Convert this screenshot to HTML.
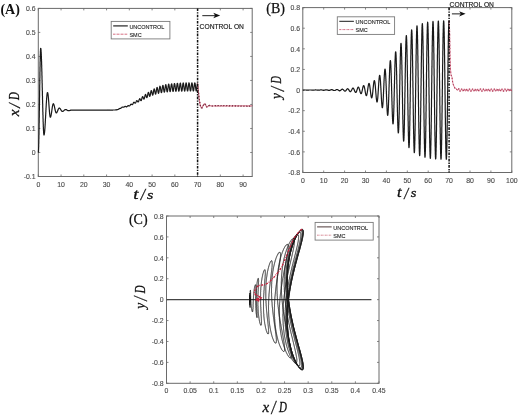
<!DOCTYPE html>
<html><head><meta charset="utf-8"><title>Figure</title><style>
html,body{margin:0;padding:0;background:#fff;}
body{width:520px;height:415px;overflow:hidden;}
svg{display:block;}
.tk{font-family:"Liberation Sans",Arial,sans-serif;font-size:6.9px;fill:#4a4a4a;stroke:#4a4a4a;stroke-width:0.12px;}
.lg{font-family:"Liberation Sans",Arial,sans-serif;font-size:5.5px;fill:#1a1a1a;stroke:#1a1a1a;stroke-width:0.1px;}
.co{font-family:"Liberation Sans",Arial,sans-serif;font-size:6.7px;fill:#1a1a1a;stroke:#1a1a1a;stroke-width:0.15px;}
.pl{font-family:"Liberation Serif","Times New Roman",serif;font-size:14px;fill:#111;stroke:#111;stroke-width:0.25px;}
.al{font-family:"Liberation Serif","Times New Roman",serif;font-style:italic;fill:#111;stroke:#111;stroke-width:0.3px;}
</style></head><body>
<svg width="520" height="415" viewBox="0 0 520 415">
<rect width="520" height="415" fill="#fff"/>
<rect x="38.30" y="8.40" width="213.90" height="168.10" fill="none" stroke="#6a6a6a" stroke-width="1"/>
<path d="M38.30 176.50v-2.0M38.30 8.40v2.0" stroke="#6a6a6a" stroke-width="0.8"/>
<text x="38.30" y="186.50" class="tk" text-anchor="middle">0</text>
<path d="M61.06 176.50v-2.0M61.06 8.40v2.0" stroke="#6a6a6a" stroke-width="0.8"/>
<text x="61.06" y="186.50" class="tk" text-anchor="middle">10</text>
<path d="M83.81 176.50v-2.0M83.81 8.40v2.0" stroke="#6a6a6a" stroke-width="0.8"/>
<text x="83.81" y="186.50" class="tk" text-anchor="middle">20</text>
<path d="M106.57 176.50v-2.0M106.57 8.40v2.0" stroke="#6a6a6a" stroke-width="0.8"/>
<text x="106.57" y="186.50" class="tk" text-anchor="middle">30</text>
<path d="M129.32 176.50v-2.0M129.32 8.40v2.0" stroke="#6a6a6a" stroke-width="0.8"/>
<text x="129.32" y="186.50" class="tk" text-anchor="middle">40</text>
<path d="M152.08 176.50v-2.0M152.08 8.40v2.0" stroke="#6a6a6a" stroke-width="0.8"/>
<text x="152.08" y="186.50" class="tk" text-anchor="middle">50</text>
<path d="M174.83 176.50v-2.0M174.83 8.40v2.0" stroke="#6a6a6a" stroke-width="0.8"/>
<text x="174.83" y="186.50" class="tk" text-anchor="middle">60</text>
<path d="M197.59 176.50v-2.0M197.59 8.40v2.0" stroke="#6a6a6a" stroke-width="0.8"/>
<text x="197.59" y="186.50" class="tk" text-anchor="middle">70</text>
<path d="M220.34 176.50v-2.0M220.34 8.40v2.0" stroke="#6a6a6a" stroke-width="0.8"/>
<text x="220.34" y="186.50" class="tk" text-anchor="middle">80</text>
<path d="M243.10 176.50v-2.0M243.10 8.40v2.0" stroke="#6a6a6a" stroke-width="0.8"/>
<text x="243.10" y="186.50" class="tk" text-anchor="middle">90</text>
<path d="M38.30 176.50h2.0M252.20 176.50h-2.0" stroke="#6a6a6a" stroke-width="0.8"/>
<text x="35.50" y="179.20" class="tk" text-anchor="end">-0.1</text>
<path d="M38.30 152.49h2.0M252.20 152.49h-2.0" stroke="#6a6a6a" stroke-width="0.8"/>
<text x="35.50" y="155.19" class="tk" text-anchor="end">0</text>
<path d="M38.30 128.47h2.0M252.20 128.47h-2.0" stroke="#6a6a6a" stroke-width="0.8"/>
<text x="35.50" y="131.17" class="tk" text-anchor="end">0.1</text>
<path d="M38.30 104.46h2.0M252.20 104.46h-2.0" stroke="#6a6a6a" stroke-width="0.8"/>
<text x="35.50" y="107.16" class="tk" text-anchor="end">0.2</text>
<path d="M38.30 80.44h2.0M252.20 80.44h-2.0" stroke="#6a6a6a" stroke-width="0.8"/>
<text x="35.50" y="83.14" class="tk" text-anchor="end">0.3</text>
<path d="M38.30 56.43h2.0M252.20 56.43h-2.0" stroke="#6a6a6a" stroke-width="0.8"/>
<text x="35.50" y="59.13" class="tk" text-anchor="end">0.4</text>
<path d="M38.30 32.41h2.0M252.20 32.41h-2.0" stroke="#6a6a6a" stroke-width="0.8"/>
<text x="35.50" y="35.11" class="tk" text-anchor="end">0.5</text>
<path d="M38.30 8.40h2.0M252.20 8.40h-2.0" stroke="#6a6a6a" stroke-width="0.8"/>
<text x="35.50" y="11.10" class="tk" text-anchor="end">0.6</text>
<polyline points="38.3,152.5 38.4,152.4 38.4,152.1 38.4,152.0 38.4,151.8 38.4,151.6 38.5,151.4 38.5,151.1 38.5,150.8 38.5,150.5 38.5,150.2 38.5,149.8 38.6,149.4 38.6,149.0 38.6,148.5 38.6,148.1 38.6,147.6 38.7,147.1 38.7,146.5 38.7,145.9 38.7,145.3 38.7,144.7 38.7,144.1 38.8,143.4 38.8,142.7 38.8,142.0 38.8,141.3 38.8,140.5 38.8,139.8 38.9,139.0 38.9,138.1 38.9,137.3 38.9,136.4 38.9,135.6 39.0,134.7 39.0,133.8 39.0,132.8 39.0,131.9 39.0,130.9 39.0,129.9 39.1,128.9 39.1,127.9 39.1,126.9 39.1,125.9 39.1,124.8 39.1,123.7 39.2,122.7 39.2,121.6 39.2,120.5 39.2,119.4 39.2,118.2 39.3,117.1 39.3,116.0 39.3,114.8 39.3,113.7 39.3,112.5 39.3,111.3 39.4,110.1 39.4,109.0 39.4,107.8 39.4,106.6 39.4,105.4 39.4,104.2 39.5,103.0 39.5,101.8 39.5,100.6 39.5,99.4 39.5,98.2 39.6,97.0 39.6,95.8 39.6,94.6 39.6,93.4 39.6,92.2 39.6,91.0 39.7,89.9 39.7,88.7 39.7,87.5 39.7,86.4 39.7,85.2 39.8,84.1 39.8,82.9 39.8,81.8 39.8,80.7 39.8,79.6 39.8,78.5 39.9,77.4 39.9,76.3 39.9,75.3 39.9,74.2 39.9,73.2 39.9,72.2 40.0,71.2 40.0,70.2 40.0,69.2 40.0,68.3 40.0,67.3 40.1,66.4 40.1,65.5 40.1,64.6 40.1,63.8 40.1,62.9 40.1,62.1 40.2,61.3 40.2,60.5 40.2,59.7 40.2,59.0 40.2,58.3 40.2,57.6 40.3,56.9 40.3,56.3 40.3,55.6 40.3,55.0 40.3,54.5 40.4,53.9 40.4,53.4 40.4,52.9 40.4,52.4 40.4,51.9 40.4,51.5 40.5,51.1 40.5,50.7 40.5,50.4 40.5,50.0 40.5,49.7 40.5,49.5 40.6,49.2 40.6,49.0 40.6,48.8 40.6,48.7 40.6,48.5 40.7,48.4 40.7,48.3 40.8,48.3 40.8,48.5 40.8,48.6 40.9,48.8 40.9,49.0 40.9,49.1 40.9,49.3 41.0,49.4 41.0,49.6 41.0,49.8 41.0,50.0 41.0,50.2 41.0,50.4 41.1,50.6 41.1,50.9 41.1,51.1 41.1,51.4 41.1,51.7 41.1,52.0 41.2,52.3 41.2,52.6 41.2,52.9 41.2,53.3 41.2,53.6 41.3,54.0 41.3,54.4 41.3,54.7 41.3,55.1 41.3,55.5 41.3,55.9 41.4,56.4 41.4,56.8 41.4,57.2 41.4,57.7 41.4,58.2 41.4,58.6 41.5,59.1 41.5,59.6 41.5,60.1 41.5,60.6 41.5,61.1 41.6,61.7 41.6,62.2 41.6,62.7 41.6,63.3 41.6,63.8 41.6,64.4 41.7,65.0 41.7,65.6 41.7,66.2 41.7,66.8 41.7,67.4 41.7,68.0 41.8,68.6 41.8,69.2 41.8,69.9 41.8,70.5 41.8,71.1 41.9,71.8 41.9,72.5 41.9,73.1 41.9,73.8 41.9,74.5 41.9,75.1 42.0,75.8 42.0,76.5 42.0,77.2 42.0,77.9 42.0,78.6 42.0,79.3 42.1,80.0 42.1,80.7 42.1,81.4 42.1,82.1 42.1,82.9 42.2,83.6 42.2,84.3 42.2,85.0 42.2,85.8 42.2,86.5 42.2,87.2 42.3,87.9 42.3,88.7 42.3,89.4 42.3,90.1 42.3,90.9 42.4,91.6 42.4,92.3 42.4,93.1 42.4,93.8 42.4,94.6 42.4,95.3 42.5,96.0 42.5,96.7 42.5,97.5 42.5,98.2 42.5,98.9 42.5,99.7 42.6,100.4 42.6,101.1 42.6,101.8 42.6,102.5 42.6,103.2 42.7,103.9 42.7,104.6 42.7,105.3 42.7,106.0 42.7,106.7 42.7,107.4 42.8,108.1 42.8,108.8 42.8,109.4 42.8,110.1 42.8,110.8 42.8,111.4 42.9,112.1 42.9,112.7 42.9,113.4 42.9,114.0 42.9,114.6 43.0,115.2 43.0,115.9 43.0,116.5 43.0,117.1 43.0,117.7 43.0,118.2 43.1,118.8 43.1,119.4 43.1,119.9 43.1,120.5 43.1,121.0 43.1,121.6 43.2,122.1 43.2,122.6 43.2,123.1 43.2,123.6 43.2,124.1 43.3,124.6 43.3,125.1 43.3,125.5 43.3,126.0 43.3,126.4 43.3,126.9 43.4,127.3 43.4,127.7 43.4,128.1 43.4,128.5 43.4,128.9 43.4,129.2 43.5,129.6 43.5,129.9 43.5,130.3 43.5,130.6 43.5,130.9 43.6,131.2 43.6,131.5 43.6,131.8 43.6,132.1 43.6,132.3 43.6,132.6 43.7,132.8 43.7,133.0 43.7,133.2 43.7,133.4 43.7,133.6 43.7,133.8 43.8,134.0 43.8,134.1 43.8,134.3 43.8,134.4 43.8,134.5 43.9,134.7 43.9,134.8 43.9,134.9 44.1,134.9 44.1,134.8 44.2,134.7 44.2,134.6 44.2,134.5 44.3,134.3 44.3,134.2 44.3,134.0 44.3,133.9 44.4,133.8 44.4,133.6 44.4,133.5 44.4,133.4 44.4,133.3 44.5,133.1 44.5,133.0 44.5,132.9 44.5,132.7 44.5,132.6 44.5,132.4 44.6,132.2 44.6,132.1 44.6,131.9 44.6,131.7 44.6,131.6 44.6,131.4 44.7,131.2 44.7,131.0 44.7,130.8 44.7,130.6 44.7,130.4 44.8,130.2 44.8,130.0 44.8,129.8 44.8,129.5 44.8,129.3 44.8,129.1 44.9,128.8 44.9,128.6 44.9,128.4 44.9,128.1 44.9,127.9 45.0,127.6 45.0,127.4 45.0,127.1 45.0,126.8 45.0,126.6 45.0,126.3 45.1,126.0 45.1,125.8 45.1,125.5 45.1,125.2 45.1,124.9 45.1,124.6 45.2,124.4 45.2,124.1 45.2,123.8 45.2,123.5 45.2,123.2 45.3,122.9 45.3,122.6 45.3,122.3 45.3,122.0 45.3,121.6 45.3,121.3 45.4,121.0 45.4,120.7 45.4,120.4 45.4,120.1 45.4,119.8 45.4,119.4 45.5,119.1 45.5,118.8 45.5,118.5 45.5,118.1 45.5,117.8 45.6,117.5 45.6,117.1 45.6,116.8 45.6,116.5 45.6,116.2 45.6,115.8 45.7,115.5 45.7,115.1 45.7,114.8 45.7,114.5 45.7,114.1 45.7,113.8 45.8,113.5 45.8,113.1 45.8,112.8 45.8,112.5 45.8,112.1 45.9,111.8 45.9,111.5 45.9,111.1 45.9,110.8 45.9,110.5 45.9,110.1 46.0,109.8 46.0,109.5 46.0,109.2 46.0,108.8 46.0,108.5 46.0,108.2 46.1,107.9 46.1,107.5 46.1,107.2 46.1,106.9 46.1,106.6 46.2,106.3 46.2,106.0 46.2,105.6 46.2,105.3 46.2,105.0 46.2,104.7 46.3,104.4 46.3,104.1 46.3,103.8 46.3,103.5 46.3,103.2 46.3,102.9 46.4,102.7 46.4,102.4 46.4,102.1 46.4,101.8 46.4,101.5 46.5,101.3 46.5,101.0 46.5,100.7 46.5,100.5 46.5,100.2 46.5,99.9 46.6,99.7 46.6,99.4 46.6,99.2 46.6,99.0 46.6,98.7 46.6,98.5 46.7,98.2 46.7,98.0 46.7,97.8 46.7,97.6 46.7,97.4 46.8,97.1 46.8,96.9 46.8,96.7 46.8,96.5 46.8,96.3 46.8,96.2 46.9,96.0 46.9,95.8 46.9,95.6 46.9,95.4 46.9,95.3 46.9,95.1 47.0,94.9 47.0,94.8 47.0,94.6 47.0,94.5 47.0,94.3 47.1,94.2 47.1,94.1 47.1,94.0 47.1,93.8 47.1,93.7 47.1,93.6 47.2,93.5 47.2,93.3 47.2,93.1 47.3,93.0 47.3,92.8 47.3,92.7 47.4,92.6 47.4,92.5 47.5,92.5 47.6,92.5 47.6,92.6 47.7,92.7 47.7,92.8 47.8,92.9 47.8,93.0 47.8,93.2 47.9,93.4 47.9,93.6 47.9,93.7 47.9,93.8 48.0,93.9 48.0,94.0 48.0,94.1 48.0,94.3 48.0,94.4 48.0,94.5 48.1,94.6 48.1,94.8 48.1,94.9 48.1,95.1 48.1,95.2 48.2,95.4 48.2,95.5 48.2,95.7 48.2,95.9 48.2,96.0 48.2,96.2 48.3,96.4 48.3,96.6 48.3,96.7 48.3,96.9 48.3,97.1 48.3,97.3 48.4,97.5 48.4,97.7 48.4,97.9 48.4,98.1 48.4,98.3 48.5,98.5 48.5,98.7 48.5,98.9 48.5,99.1 48.5,99.4 48.5,99.6 48.6,99.8 48.6,100.0 48.6,100.2 48.6,100.5 48.6,100.7 48.6,100.9 48.7,101.1 48.7,101.4 48.7,101.6 48.7,101.8 48.7,102.1 48.8,102.3 48.8,102.6 48.8,102.8 48.8,103.0 48.8,103.3 48.8,103.5 48.9,103.7 48.9,104.0 48.9,104.2 48.9,104.5 48.9,104.7 48.9,105.0 49.0,105.2 49.0,105.4 49.0,105.7 49.0,105.9 49.0,106.2 49.1,106.4 49.1,106.6 49.1,106.9 49.1,107.1 49.1,107.4 49.1,107.6 49.2,107.8 49.2,108.1 49.2,108.3 49.2,108.5 49.2,108.8 49.2,109.0 49.3,109.2 49.3,109.4 49.3,109.7 49.3,109.9 49.3,110.1 49.4,110.3 49.4,110.5 49.4,110.7 49.4,111.0 49.4,111.2 49.4,111.4 49.5,111.6 49.5,111.8 49.5,112.0 49.5,112.2 49.5,112.4 49.5,112.5 49.6,112.7 49.6,112.9 49.6,113.1 49.6,113.3 49.6,113.5 49.7,113.6 49.7,113.8 49.7,114.0 49.7,114.1 49.7,114.3 49.7,114.4 49.8,114.6 49.8,114.7 49.8,114.9 49.8,115.0 49.8,115.1 49.9,115.3 49.9,115.4 49.9,115.5 49.9,115.6 49.9,115.8 49.9,115.9 50.0,116.0 50.0,116.2 50.0,116.4 50.1,116.5 50.1,116.7 50.1,116.8 50.2,116.9 50.2,117.0 50.3,117.1 50.3,117.2 50.5,117.2 50.5,117.1 50.6,117.0 50.6,116.9 50.7,116.8 50.7,116.7 50.8,116.6 50.8,116.5 50.8,116.4 50.9,116.3 50.9,116.1 50.9,116.0 51.0,115.8 51.0,115.7 51.0,115.5 51.1,115.4 51.1,115.2 51.1,115.0 51.2,114.8 51.2,114.6 51.2,114.4 51.3,114.3 51.3,114.2 51.3,114.1 51.3,114.0 51.3,113.9 51.4,113.8 51.4,113.7 51.4,113.6 51.4,113.4 51.4,113.3 51.4,113.2 51.5,113.1 51.5,113.0 51.5,112.9 51.5,112.7 51.5,112.6 51.5,112.5 51.6,112.4 51.6,112.3 51.6,112.1 51.6,112.0 51.6,111.9 51.7,111.8 51.7,111.6 51.7,111.5 51.7,111.4 51.7,111.3 51.7,111.1 51.8,111.0 51.8,110.9 51.8,110.8 51.8,110.6 51.8,110.5 51.8,110.4 51.9,110.3 51.9,110.1 51.9,110.0 51.9,109.9 51.9,109.8 52.0,109.6 52.0,109.5 52.0,109.4 52.0,109.3 52.0,109.1 52.0,109.0 52.1,108.9 52.1,108.8 52.1,108.6 52.1,108.5 52.1,108.4 52.1,108.3 52.2,108.2 52.2,108.0 52.2,107.9 52.2,107.8 52.2,107.7 52.3,107.6 52.3,107.5 52.3,107.4 52.3,107.2 52.3,107.1 52.3,107.0 52.4,106.9 52.4,106.8 52.4,106.7 52.4,106.6 52.4,106.5 52.5,106.3 52.5,106.1 52.5,105.9 52.6,105.7 52.6,105.6 52.6,105.4 52.7,105.2 52.7,105.1 52.8,104.9 52.8,104.8 52.8,104.7 52.9,104.5 52.9,104.4 52.9,104.3 53.0,104.2 53.0,104.1 53.1,104.0 53.1,103.9 53.2,103.8 53.2,103.8 53.3,103.7 53.4,103.8 53.5,103.8 53.6,103.9 53.6,104.0 53.7,104.1 53.7,104.2 53.8,104.3 53.8,104.4 53.9,104.5 53.9,104.6 53.9,104.7 54.0,104.8 54.0,104.9 54.0,105.0 54.1,105.1 54.1,105.3 54.1,105.4 54.2,105.5 54.2,105.7 54.3,105.8 54.3,106.0 54.3,106.1 54.4,106.3 54.4,106.4 54.4,106.6 54.5,106.7 54.5,106.9 54.5,107.1 54.6,107.2 54.6,107.4 54.6,107.6 54.7,107.7 54.7,107.9 54.7,108.1 54.8,108.2 54.8,108.4 54.9,108.6 54.9,108.8 54.9,108.9 55.0,109.1 55.0,109.3 55.0,109.4 55.1,109.6 55.1,109.8 55.1,109.9 55.2,110.1 55.2,110.2 55.2,110.4 55.3,110.5 55.3,110.7 55.4,110.8 55.4,111.0 55.4,111.1 55.5,111.2 55.5,111.4 55.5,111.5 55.6,111.6 55.6,111.7 55.6,111.8 55.7,111.9 55.7,112.0 55.7,112.1 55.8,112.2 55.8,112.4 55.9,112.5 55.9,112.6 56.0,112.6 56.0,112.7 56.1,112.8 56.2,112.8 56.3,112.9 56.4,112.8 56.5,112.8 56.6,112.7 56.7,112.7 56.7,112.6 56.8,112.5 56.9,112.4 56.9,112.3 57.0,112.3 57.0,112.2 57.1,112.1 57.1,112.0 57.2,111.9 57.2,111.7 57.3,111.6 57.3,111.5 57.4,111.4 57.4,111.3 57.5,111.2 57.5,111.1 57.5,111.0 57.6,110.9 57.6,110.8 57.7,110.7 57.7,110.6 57.7,110.5 57.8,110.5 57.8,110.4 57.8,110.3 57.9,110.2 57.9,110.1 57.9,110.0 58.0,109.9 58.0,109.8 58.0,109.7 58.1,109.7 58.1,109.5 58.2,109.4 58.2,109.3 58.3,109.2 58.3,109.1 58.4,109.0 58.4,108.9 58.5,108.8 58.6,108.7 58.6,108.6 58.7,108.5 58.7,108.4 58.8,108.4 58.8,108.3 58.9,108.2 59.0,108.1 59.1,108.1 59.2,108.1 59.3,108.1 59.4,108.1 59.5,108.1 59.6,108.2 59.7,108.2 59.8,108.3 59.8,108.3 59.9,108.4 60.0,108.5 60.0,108.6 60.1,108.6 60.2,108.7 60.2,108.8 60.3,108.9 60.3,108.9 60.4,109.0 60.4,109.1 60.5,109.2 60.5,109.3 60.6,109.3 60.6,109.4 60.7,109.5 60.7,109.6 60.8,109.7 60.9,109.8 60.9,109.9 61.0,110.0 61.0,110.0 61.1,110.1 61.1,110.2 61.2,110.3 61.2,110.4 61.3,110.5 61.3,110.5 61.4,110.6 61.4,110.7 61.5,110.8 61.5,110.8 61.6,110.9 61.7,111.0 61.8,111.1 61.8,111.1 61.9,111.2 62.0,111.3 62.1,111.3 62.1,111.4 62.2,111.4 62.3,111.4 62.5,111.4 62.6,111.4 62.7,111.4 62.8,111.4 62.9,111.3 63.0,111.3 63.1,111.2 63.2,111.2 63.2,111.1 63.3,111.1 63.4,111.0 63.5,111.0 63.5,110.9 63.6,110.8 63.7,110.8 63.7,110.7 63.8,110.7 63.9,110.6 63.9,110.5 64.0,110.5 64.1,110.4 64.2,110.3 64.2,110.3 64.3,110.2 64.4,110.1 64.4,110.1 64.5,110.0 64.6,109.9 64.7,109.9 64.7,109.8 64.8,109.8 64.9,109.7 65.0,109.7 65.1,109.6 65.2,109.6 65.2,109.6 65.3,109.5 65.5,109.5 65.6,109.5 65.7,109.5 65.8,109.5 65.9,109.5 66.0,109.6 66.1,109.6 66.2,109.6 66.3,109.7 66.4,109.7 66.5,109.7 66.6,109.8 66.7,109.8 66.8,109.9 66.8,110.0 66.9,110.0 67.0,110.1 67.1,110.1 67.2,110.2 67.3,110.2 67.4,110.3 67.5,110.3 67.6,110.4 67.6,110.4 67.7,110.5 67.8,110.5 67.9,110.6 68.0,110.6 68.1,110.6 68.2,110.7 68.3,110.7 68.4,110.7 68.5,110.7 68.7,110.7 68.8,110.7 68.9,110.7 69.0,110.7 69.1,110.6 69.2,110.6 69.3,110.6 69.4,110.6 69.6,110.5 69.7,110.5 69.8,110.5 69.9,110.5 70.0,110.4 70.1,110.4 70.2,110.4 70.3,110.3 70.4,110.3 70.5,110.3 70.6,110.2 70.7,110.2 70.8,110.2 70.9,110.2 71.0,110.1 71.1,110.1 71.3,110.1 71.4,110.1 71.5,110.1 71.5,110.2 71.7,110.2 71.8,110.2 71.9,110.2 72.0,110.2 72.2,110.2 72.3,110.2 72.4,110.2 72.5,110.2 72.6,110.2 72.8,110.2 72.9,110.2 73.0,110.2 73.1,110.2 73.3,110.2 73.4,110.2 73.5,110.2 73.6,110.2 73.8,110.2 73.9,110.2 74.0,110.2 74.1,110.2 74.3,110.2 74.4,110.2 74.5,110.2 74.6,110.2 74.8,110.2 74.9,110.2 75.0,110.2 75.1,110.2 75.3,110.2 75.4,110.2 75.5,110.2 75.6,110.2 75.7,110.2 75.9,110.2 76.0,110.2 76.1,110.2 76.2,110.2 76.4,110.2 76.5,110.2 76.6,110.2 76.7,110.2 76.9,110.2 77.0,110.2 77.1,110.2 77.2,110.2 77.4,110.2 77.5,110.2 77.6,110.2 77.7,110.2 77.9,110.2 78.0,110.2 78.1,110.2 78.2,110.2 78.3,110.2 78.5,110.2 78.6,110.2 78.7,110.2 78.8,110.2 79.0,110.2 79.1,110.2 79.2,110.2 79.3,110.2 79.5,110.2 79.6,110.2 79.7,110.2 79.8,110.2 80.0,110.2 80.1,110.2 80.2,110.2 80.3,110.2 80.5,110.2 80.6,110.2 80.7,110.2 80.8,110.2 80.9,110.2 81.1,110.2 81.2,110.2 81.3,110.2 81.4,110.2 81.6,110.2 81.7,110.2 81.8,110.2 81.9,110.2 82.1,110.2 82.2,110.2 82.3,110.2 82.4,110.2 82.6,110.2 82.7,110.2 82.8,110.2 82.9,110.2 83.1,110.2 83.2,110.2 83.3,110.2 83.4,110.2 83.5,110.2 83.7,110.2 83.8,110.2 83.9,110.2 84.0,110.2 84.2,110.2 84.3,110.2 84.4,110.2 84.5,110.2 84.7,110.2 84.8,110.2 84.9,110.2 85.0,110.2 85.2,110.2 85.3,110.2 85.4,110.2 85.5,110.2 85.7,110.2 85.8,110.2 85.9,110.2 86.0,110.2 86.1,110.2 86.3,110.2 86.4,110.2 86.5,110.2 86.6,110.2 86.8,110.2 86.9,110.2 87.0,110.2 87.1,110.2 87.3,110.2 87.4,110.2 87.5,110.2 87.6,110.2 87.8,110.2 87.9,110.2 88.0,110.2 88.1,110.2 88.3,110.2 88.4,110.2 88.5,110.2 88.6,110.2 88.7,110.2 88.9,110.2 89.0,110.2 89.1,110.2 89.2,110.2 89.4,110.2 89.5,110.2 89.6,110.2 89.7,110.2 89.9,110.2 90.0,110.2 90.1,110.2 90.2,110.2 90.4,110.2 90.5,110.2 90.6,110.2 90.7,110.2 90.9,110.2 91.0,110.2 91.1,110.2 91.2,110.2 91.3,110.2 91.5,110.2 91.6,110.2 91.7,110.2 91.8,110.2 92.0,110.2 92.1,110.2 92.2,110.2 92.3,110.2 92.5,110.2 92.6,110.2 92.7,110.2 92.8,110.2 93.0,110.2 93.1,110.2 93.2,110.2 93.3,110.2 93.5,110.2 93.6,110.2 93.7,110.2 93.8,110.2 93.9,110.2 94.1,110.2 94.2,110.2 94.3,110.2 94.4,110.2 94.6,110.2 94.7,110.2 94.8,110.2 94.9,110.2 95.1,110.2 95.2,110.2 95.3,110.2 95.4,110.2 95.6,110.2 95.7,110.2 95.8,110.2 95.9,110.2 96.1,110.2 96.2,110.2 96.3,110.2 96.4,110.2 96.5,110.2 96.7,110.2 96.8,110.2 96.9,110.2 97.0,110.2 97.2,110.2 97.3,110.2 97.4,110.2 97.5,110.2 97.7,110.2 97.8,110.2 97.9,110.2 98.0,110.2 98.2,110.2 98.3,110.2 98.4,110.2 98.5,110.2 98.7,110.2 98.8,110.2 98.9,110.2 99.0,110.2 99.1,110.2 99.3,110.2 99.4,110.2 99.5,110.2 99.6,110.2 99.8,110.2 99.9,110.2 100.0,110.2 100.1,110.2 100.3,110.2 100.4,110.2 100.5,110.2 100.6,110.2 100.8,110.2 100.9,110.2 101.0,110.2 101.1,110.2 101.3,110.2 101.4,110.2 101.5,110.2 101.6,110.2 101.7,110.2 101.9,110.2 102.0,110.2 102.1,110.2 102.2,110.2 102.4,110.2 102.5,110.2 102.6,110.2 102.7,110.2 102.9,110.2 103.0,110.2 103.1,110.2 103.2,110.2 103.4,110.2 103.5,110.2 103.6,110.2 103.7,110.2 103.9,110.2 104.0,110.2 104.1,110.2 104.2,110.2 104.3,110.2 104.5,110.2 104.6,110.2 104.7,110.2 104.8,110.2 105.0,110.2 105.1,110.2 105.2,110.2 105.3,110.2 105.5,110.2 105.6,110.2 105.7,110.2 105.8,110.2 106.0,110.2 106.1,110.2 106.2,110.2 106.3,110.2 106.5,110.2 106.6,110.2 106.7,110.2 106.8,110.2 106.9,110.2 107.1,110.2 107.2,110.2 107.3,110.2 107.4,110.1 107.6,110.1 107.7,110.1 107.8,110.1 107.9,110.1 108.1,110.1 108.2,110.1 108.3,110.2 108.4,110.2 108.6,110.2 108.7,110.2 108.8,110.2 108.9,110.2 109.1,110.2 109.2,110.2 109.3,110.2 109.4,110.2 109.5,110.2 109.7,110.2 109.8,110.1 109.9,110.1 110.0,110.1 110.2,110.1 110.3,110.1 110.4,110.1 110.5,110.1 110.7,110.1 110.8,110.1 110.9,110.1 111.0,110.1 111.2,110.1 111.3,110.1 111.4,110.1 111.5,110.1 111.7,110.1 111.8,110.1 111.9,110.1 112.0,110.1 112.1,110.1 112.3,110.1 112.4,110.1 112.5,110.1 112.6,110.1 112.7,110.1 112.9,110.0 113.0,110.0 113.1,110.0 113.2,110.0 113.3,110.0 113.4,110.0 113.6,110.0 113.7,110.0 113.8,110.0 113.9,110.0 114.1,110.0 114.2,110.0 114.3,110.0 114.4,110.0 114.6,110.0 114.7,110.0 114.8,110.0 114.9,110.0 115.0,110.0 115.2,110.0 115.3,110.0 115.4,110.0 115.5,109.9 115.6,109.9 115.7,109.9 115.8,109.9 115.9,109.9 116.0,109.8 116.1,109.8 116.2,109.8 116.4,109.8 116.5,109.8 116.6,109.8 116.7,109.7 116.9,109.7 117.0,109.7 117.1,109.7 117.2,109.7 117.3,109.7 117.4,109.7 117.5,109.6 117.6,109.6 117.8,109.6 117.8,109.5 117.9,109.5 118.0,109.5 118.1,109.4 118.2,109.4 118.3,109.3 118.4,109.3 118.5,109.2 118.6,109.1 118.6,109.1 118.7,109.0 118.8,109.0 118.9,108.9 119.0,108.8 119.1,108.8 119.2,108.7 119.3,108.7 119.3,108.7 119.4,108.6 119.5,108.6 119.6,108.6 119.7,108.5 119.8,108.5 119.9,108.5 120.1,108.4 120.2,108.4 120.3,108.4 120.4,108.4 120.5,108.3 120.6,108.3 120.7,108.3 120.7,108.2 120.8,108.2 120.9,108.1 121.0,108.1 121.1,108.0 121.2,108.0 121.2,107.9 121.3,107.8 121.4,107.8 121.4,107.7 121.5,107.6 121.6,107.6 121.6,107.5 121.7,107.5 121.8,107.4 121.9,107.3 121.9,107.3 122.0,107.2 122.1,107.2 122.2,107.1 122.3,107.1 122.4,107.1 122.5,107.0 122.6,107.0 122.7,107.0 122.8,107.0 122.9,107.0 123.0,107.1 123.1,107.1 123.3,107.1 123.4,107.1 123.5,107.1 123.6,107.1 123.7,107.1 123.8,107.1 123.9,107.0 124.0,107.0 124.1,106.9 124.2,106.9 124.3,106.8 124.4,106.8 124.5,106.7 124.5,106.7 124.6,106.6 124.7,106.6 124.8,106.5 124.9,106.5 125.0,106.4 125.1,106.4 125.2,106.4 125.3,106.4 125.4,106.4 125.6,106.5 125.6,106.5 125.7,106.5 125.8,106.6 125.9,106.6 126.0,106.7 126.1,106.7 126.2,106.7 126.3,106.8 126.4,106.8 126.5,106.8 126.6,106.8 126.7,106.8 126.8,106.7 126.9,106.7 127.0,106.6 127.1,106.5 127.1,106.5 127.2,106.4 127.3,106.3 127.3,106.3 127.4,106.2 127.5,106.1 127.6,106.1 127.6,106.0 127.7,105.9 127.8,105.9 127.8,105.8 127.9,105.8 128.0,105.7 128.1,105.7 128.2,105.7 128.3,105.7 128.5,105.7 128.6,105.7 128.6,105.8 128.7,105.8 128.8,105.9 128.9,105.9 129.0,105.9 129.1,106.0 129.2,106.0 129.3,106.0 129.4,106.0 129.5,106.0 129.6,105.9 129.7,105.8 129.7,105.8 129.8,105.7 129.9,105.6 129.9,105.6 130.0,105.5 130.0,105.4 130.1,105.3 130.2,105.2 130.2,105.2 130.3,105.1 130.3,105.0 130.4,104.9 130.4,104.8 130.5,104.7 130.5,104.7 130.6,104.6 130.6,104.5 130.7,104.4 130.8,104.4 130.8,104.3 130.9,104.3 131.0,104.2 131.1,104.2 131.2,104.2 131.4,104.2 131.4,104.3 131.5,104.3 131.6,104.4 131.7,104.4 131.8,104.5 131.9,104.5 131.9,104.6 132.0,104.6 132.1,104.7 132.3,104.7 132.4,104.6 132.5,104.6 132.5,104.5 132.6,104.4 132.6,104.3 132.7,104.3 132.8,104.2 132.8,104.1 132.9,104.0 132.9,103.9 133.0,103.8 133.0,103.7 133.1,103.5 133.1,103.4 133.2,103.3 133.2,103.2 133.3,103.1 133.3,103.0 133.4,102.9 133.4,102.8 133.5,102.7 133.5,102.6 133.6,102.5 133.7,102.4 133.7,102.4 133.8,102.3 133.9,102.3 134.0,102.2 134.1,102.2 134.2,102.3 134.3,102.3 134.3,102.4 134.4,102.5 134.5,102.6 134.6,102.7 134.6,102.7 134.7,102.8 134.8,102.9 134.8,103.0 134.9,103.1 135.0,103.1 135.1,103.2 135.2,103.2 135.3,103.2 135.4,103.1 135.4,103.0 135.5,103.0 135.6,102.9 135.6,102.8 135.7,102.7 135.7,102.6 135.8,102.5 135.8,102.4 135.9,102.2 135.9,102.2 136.0,102.1 136.0,102.0 136.0,101.9 136.1,101.8 136.1,101.7 136.1,101.6 136.2,101.5 136.2,101.5 136.3,101.3 136.3,101.2 136.4,101.1 136.4,101.0 136.5,100.9 136.5,100.8 136.6,100.7 136.6,100.7 136.7,100.6 136.8,100.6 136.9,100.6 137.0,100.6 137.1,100.7 137.2,100.8 137.2,100.8 137.3,100.9 137.3,101.0 137.4,101.1 137.4,101.2 137.5,101.3 137.5,101.4 137.6,101.5 137.6,101.5 137.7,101.6 137.7,101.7 137.8,101.8 137.9,101.9 137.9,101.9 138.0,102.0 138.1,102.0 138.2,102.0 138.3,101.9 138.4,101.8 138.4,101.8 138.5,101.7 138.5,101.6 138.6,101.4 138.6,101.4 138.6,101.3 138.7,101.2 138.7,101.1 138.7,101.0 138.8,100.9 138.8,100.8 138.9,100.6 138.9,100.5 138.9,100.4 139.0,100.3 139.0,100.2 139.0,100.1 139.1,100.0 139.1,99.9 139.1,99.8 139.2,99.7 139.2,99.6 139.2,99.5 139.3,99.4 139.3,99.3 139.4,99.2 139.4,99.0 139.5,99.0 139.5,98.9 139.6,98.8 139.7,98.7 139.8,98.7 139.9,98.8 139.9,98.8 140.0,98.9 140.1,99.0 140.1,99.1 140.2,99.2 140.2,99.3 140.3,99.4 140.3,99.5 140.4,99.6 140.4,99.7 140.5,99.9 140.5,100.0 140.6,100.1 140.6,100.2 140.7,100.3 140.7,100.4 140.8,100.5 140.9,100.5 141.0,100.6 141.1,100.6 141.2,100.5 141.2,100.4 141.3,100.4 141.3,100.3 141.4,100.1 141.4,100.1 141.5,100.0 141.5,99.9 141.5,99.7 141.6,99.6 141.6,99.5 141.6,99.4 141.7,99.3 141.7,99.1 141.7,99.0 141.8,98.9 141.8,98.7 141.8,98.6 141.9,98.4 141.9,98.3 142.0,98.2 142.0,98.0 142.0,97.9 142.1,97.8 142.1,97.7 142.1,97.5 142.2,97.4 142.2,97.3 142.2,97.2 142.3,97.1 142.3,97.0 142.4,96.9 142.4,96.8 142.5,96.7 142.5,96.6 142.6,96.6 142.7,96.6 142.8,96.7 142.9,96.8 142.9,96.8 143.0,96.9 143.0,97.1 143.0,97.1 143.1,97.2 143.1,97.3 143.2,97.4 143.2,97.5 143.2,97.6 143.3,97.7 143.3,97.8 143.3,97.9 143.4,98.1 143.4,98.2 143.4,98.3 143.5,98.4 143.5,98.4 143.5,98.5 143.6,98.6 143.6,98.7 143.7,98.8 143.7,98.9 143.8,99.0 143.9,99.1 144.0,99.1 144.1,99.0 144.1,98.9 144.2,98.8 144.2,98.7 144.3,98.6 144.3,98.5 144.3,98.4 144.4,98.3 144.4,98.2 144.4,98.1 144.5,97.9 144.5,97.8 144.6,97.6 144.6,97.5 144.6,97.3 144.7,97.2 144.7,97.0 144.7,96.9 144.8,96.7 144.8,96.5 144.8,96.4 144.9,96.2 144.9,96.1 144.9,95.9 145.0,95.8 145.0,95.6 145.0,95.5 145.1,95.4 145.1,95.2 145.2,95.1 145.2,95.0 145.2,94.9 145.3,94.8 145.3,94.7 145.4,94.6 145.4,94.6 145.5,94.5 145.6,94.6 145.7,94.6 145.8,94.7 145.8,94.8 145.9,95.0 145.9,95.0 145.9,95.1 146.0,95.3 146.0,95.4 146.0,95.5 146.1,95.6 146.1,95.7 146.1,95.9 146.2,96.0 146.2,96.1 146.2,96.2 146.3,96.4 146.3,96.5 146.4,96.6 146.4,96.7 146.4,96.9 146.5,97.0 146.5,97.1 146.5,97.2 146.6,97.3 146.6,97.4 146.7,97.5 146.7,97.5 146.8,97.6 146.9,97.6 147.0,97.5 147.0,97.4 147.1,97.3 147.1,97.2 147.2,97.1 147.2,97.0 147.2,96.9 147.3,96.8 147.3,96.6 147.3,96.5 147.4,96.3 147.4,96.2 147.5,96.0 147.5,95.8 147.5,95.6 147.6,95.5 147.6,95.3 147.6,95.1 147.7,94.9 147.7,94.7 147.7,94.5 147.8,94.3 147.8,94.2 147.8,94.0 147.9,93.8 147.9,93.7 147.9,93.5 148.0,93.4 148.0,93.2 148.1,93.1 148.1,93.0 148.1,92.9 148.2,92.8 148.2,92.7 148.2,92.6 148.3,92.5 148.4,92.4 148.5,92.4 148.6,92.5 148.6,92.6 148.7,92.7 148.7,92.8 148.7,92.9 148.8,93.0 148.8,93.2 148.8,93.3 148.9,93.4 148.9,93.6 149.0,93.7 149.0,93.9 149.0,94.0 149.1,94.2 149.1,94.3 149.1,94.5 149.2,94.7 149.2,94.8 149.2,95.0 149.3,95.1 149.3,95.3 149.3,95.4 149.4,95.5 149.4,95.7 149.5,95.8 149.5,95.9 149.5,96.0 149.6,96.1 149.6,96.2 149.7,96.3 149.8,96.3 149.9,96.2 149.9,96.1 150.0,96.0 150.0,95.9 150.1,95.8 150.1,95.7 150.1,95.6 150.2,95.5 150.2,95.3 150.2,95.1 150.3,95.0 150.3,94.8 150.3,94.6 150.4,94.4 150.4,94.2 150.4,94.0 150.5,93.8 150.5,93.7 150.5,93.6 150.5,93.5 150.5,93.4 150.6,93.3 150.6,93.2 150.6,93.1 150.6,93.0 150.6,92.9 150.7,92.7 150.7,92.5 150.7,92.3 150.8,92.1 150.8,91.9 150.8,91.7 150.9,91.6 150.9,91.4 151.0,91.3 151.0,91.1 151.0,91.0 151.1,90.9 151.1,90.8 151.1,90.7 151.2,90.6 151.3,90.6 151.4,90.6 151.4,90.7 151.5,90.8 151.5,90.9 151.6,91.0 151.6,91.1 151.6,91.2 151.7,91.3 151.7,91.5 151.8,91.6 151.8,91.8 151.8,91.9 151.9,92.1 151.9,92.3 151.9,92.5 152.0,92.6 152.0,92.8 152.0,93.0 152.1,93.2 152.1,93.4 152.1,93.5 152.2,93.7 152.2,93.9 152.2,94.0 152.3,94.2 152.3,94.3 152.4,94.5 152.4,94.6 152.4,94.7 152.5,94.8 152.5,94.9 152.5,95.0 152.6,95.1 152.7,95.1 152.8,95.1 152.8,95.0 152.9,94.9 152.9,94.8 153.0,94.7 153.0,94.5 153.0,94.4 153.1,94.2 153.1,94.1 153.1,93.9 153.2,93.7 153.2,93.5 153.2,93.3 153.3,93.2 153.3,93.1 153.3,93.0 153.3,92.9 153.3,92.8 153.3,92.7 153.4,92.6 153.4,92.5 153.4,92.3 153.4,92.2 153.4,92.1 153.4,92.0 153.5,91.9 153.5,91.8 153.5,91.7 153.5,91.6 153.5,91.4 153.6,91.3 153.6,91.2 153.6,91.1 153.6,91.0 153.6,90.9 153.6,90.8 153.7,90.7 153.7,90.6 153.7,90.4 153.7,90.2 153.8,90.0 153.8,89.8 153.9,89.7 153.9,89.5 153.9,89.4 154.0,89.3 154.0,89.2 154.0,89.1 154.1,89.0 154.2,88.9 154.3,88.9 154.3,89.0 154.4,89.1 154.4,89.2 154.5,89.3 154.5,89.4 154.5,89.6 154.6,89.7 154.6,89.9 154.6,90.0 154.7,90.2 154.7,90.4 154.7,90.6 154.8,90.8 154.8,91.0 154.8,91.2 154.9,91.3 154.9,91.4 154.9,91.5 154.9,91.6 154.9,91.7 155.0,91.8 155.0,91.9 155.0,92.1 155.0,92.3 155.1,92.5 155.1,92.7 155.1,92.9 155.2,93.0 155.2,93.2 155.3,93.4 155.3,93.5 155.3,93.6 155.4,93.7 155.4,93.8 155.4,93.9 155.5,94.0 155.6,94.1 155.7,94.1 155.7,94.0 155.8,93.9 155.8,93.8 155.8,93.7 155.9,93.6 155.9,93.4 155.9,93.3 156.0,93.1 156.0,92.9 156.0,92.7 156.1,92.5 156.1,92.4 156.1,92.3 156.1,92.2 156.2,92.1 156.2,92.0 156.2,91.9 156.2,91.7 156.2,91.6 156.2,91.5 156.3,91.4 156.3,91.3 156.3,91.1 156.3,91.0 156.3,90.9 156.3,90.8 156.4,90.6 156.4,90.5 156.4,90.4 156.4,90.3 156.4,90.2 156.5,90.0 156.5,89.9 156.5,89.8 156.5,89.7 156.5,89.6 156.5,89.4 156.6,89.3 156.6,89.2 156.6,89.1 156.6,89.0 156.6,88.9 156.7,88.7 156.7,88.5 156.7,88.3 156.8,88.2 156.8,88.0 156.8,87.9 156.9,87.8 156.9,87.7 157.0,87.6 157.0,87.5 157.1,87.4 157.2,87.5 157.2,87.5 157.3,87.7 157.3,87.8 157.4,87.9 157.4,88.0 157.4,88.2 157.5,88.3 157.5,88.5 157.5,88.7 157.6,88.9 157.6,89.1 157.6,89.2 157.6,89.3 157.7,89.4 157.7,89.5 157.7,89.6 157.7,89.7 157.7,89.8 157.7,90.0 157.8,90.1 157.8,90.2 157.8,90.3 157.8,90.4 157.8,90.5 157.9,90.6 157.9,90.8 157.9,90.9 157.9,91.0 157.9,91.1 157.9,91.2 158.0,91.3 158.0,91.4 158.0,91.5 158.0,91.6 158.0,91.7 158.1,91.9 158.1,92.1 158.1,92.3 158.2,92.5 158.2,92.6 158.2,92.8 158.3,92.9 158.3,93.0 158.3,93.1 158.4,93.2 158.5,93.3 158.6,93.2 158.6,93.2 158.7,93.0 158.7,92.9 158.8,92.8 158.8,92.7 158.8,92.5 158.9,92.3 158.9,92.2 158.9,92.0 158.9,91.9 159.0,91.8 159.0,91.6 159.0,91.5 159.0,91.4 159.0,91.3 159.1,91.2 159.1,91.1 159.1,90.9 159.1,90.8 159.1,90.7 159.1,90.6 159.2,90.4 159.2,90.3 159.2,90.2 159.2,90.0 159.2,89.9 159.2,89.8 159.3,89.6 159.3,89.5 159.3,89.4 159.3,89.3 159.3,89.1 159.4,89.0 159.4,88.9 159.4,88.7 159.4,88.6 159.4,88.5 159.4,88.4 159.5,88.2 159.5,88.1 159.5,88.0 159.5,87.9 159.5,87.8 159.6,87.7 159.6,87.6 159.6,87.5 159.6,87.3 159.7,87.1 159.7,86.9 159.7,86.8 159.8,86.6 159.8,86.5 159.8,86.4 159.9,86.3 159.9,86.2 160.1,86.3 160.1,86.3 160.2,86.5 160.2,86.6 160.2,86.7 160.3,86.8 160.3,87.0 160.3,87.1 160.4,87.3 160.4,87.5 160.5,87.7 160.5,87.8 160.5,87.9 160.5,88.0 160.5,88.2 160.5,88.3 160.6,88.4 160.6,88.5 160.6,88.6 160.6,88.8 160.6,88.9 160.6,89.0 160.7,89.1 160.7,89.3 160.7,89.4 160.7,89.5 160.7,89.6 160.8,89.8 160.8,89.9 160.8,90.0 160.8,90.1 160.8,90.2 160.8,90.4 160.9,90.5 160.9,90.6 160.9,90.7 160.9,90.8 160.9,90.9 160.9,91.1 161.0,91.2 161.0,91.3 161.0,91.5 161.1,91.7 161.1,91.8 161.1,92.0 161.2,92.1 161.2,92.3 161.2,92.4 161.3,92.5 161.3,92.6 161.4,92.6 161.5,92.6 161.5,92.5 161.6,92.4 161.6,92.3 161.7,92.2 161.7,92.0 161.7,91.9 161.8,91.7 161.8,91.5 161.8,91.3 161.9,91.2 161.9,91.1 161.9,91.0 161.9,90.8 161.9,90.7 161.9,90.6 162.0,90.5 162.0,90.4 162.0,90.2 162.0,90.1 162.0,90.0 162.0,89.8 162.1,89.7 162.1,89.6 162.1,89.4 162.1,89.3 162.1,89.1 162.2,89.0 162.2,88.9 162.2,88.7 162.2,88.6 162.2,88.5 162.2,88.3 162.3,88.2 162.3,88.1 162.3,87.9 162.3,87.8 162.3,87.7 162.3,87.5 162.4,87.4 162.4,87.3 162.4,87.2 162.4,87.0 162.4,86.9 162.5,86.8 162.5,86.7 162.5,86.6 162.5,86.5 162.5,86.3 162.6,86.1 162.6,85.9 162.6,85.8 162.7,85.7 162.7,85.6 162.8,85.5 162.8,85.4 162.9,85.3 163.0,85.3 163.0,85.4 163.1,85.6 163.1,85.7 163.1,85.8 163.2,85.9 163.2,86.1 163.2,86.3 163.3,86.5 163.3,86.7 163.3,86.8 163.4,86.9 163.4,87.0 163.4,87.1 163.4,87.3 163.4,87.4 163.4,87.5 163.5,87.6 163.5,87.8 163.5,87.9 163.5,88.0 163.5,88.1 163.5,88.3 163.6,88.4 163.6,88.5 163.6,88.7 163.6,88.8 163.6,88.9 163.7,89.1 163.7,89.2 163.7,89.3 163.7,89.5 163.7,89.6 163.7,89.7 163.8,89.9 163.8,90.0 163.8,90.1 163.8,90.2 163.8,90.4 163.8,90.5 163.9,90.6 163.9,90.7 163.9,90.8 163.9,90.9 163.9,91.0 164.0,91.2 164.0,91.4 164.0,91.5 164.1,91.7 164.1,91.8 164.1,91.9 164.2,92.0 164.2,92.1 164.3,92.2 164.4,92.1 164.5,92.0 164.5,92.0 164.5,91.9 164.6,91.7 164.6,91.6 164.6,91.4 164.7,91.2 164.7,91.0 164.7,90.9 164.7,90.8 164.8,90.7 164.8,90.6 164.8,90.5 164.8,90.4 164.8,90.3 164.8,90.1 164.9,90.0 164.9,89.9 164.9,89.7 164.9,89.6 164.9,89.5 164.9,89.3 165.0,89.2 165.0,89.1 165.0,88.9 165.0,88.8 165.0,88.6 165.1,88.5 165.1,88.3 165.1,88.2 165.1,88.1 165.1,87.9 165.1,87.8 165.2,87.6 165.2,87.5 165.2,87.4 165.2,87.2 165.2,87.1 165.2,87.0 165.3,86.8 165.3,86.7 165.3,86.6 165.3,86.4 165.3,86.3 165.4,86.2 165.4,86.1 165.4,86.0 165.4,85.9 165.4,85.8 165.5,85.6 165.5,85.4 165.5,85.2 165.6,85.1 165.6,85.0 165.6,84.9 165.7,84.8 165.7,84.7 165.8,84.7 165.9,84.7 165.9,84.8 166.0,84.9 166.0,85.0 166.0,85.2 166.1,85.3 166.1,85.5 166.1,85.7 166.2,85.9 166.2,86.0 166.2,86.1 166.2,86.2 166.3,86.3 166.3,86.4 166.3,86.6 166.3,86.7 166.3,86.8 166.3,86.9 166.4,87.1 166.4,87.2 166.4,87.3 166.4,87.5 166.4,87.6 166.4,87.7 166.5,87.9 166.5,88.0 166.5,88.2 166.5,88.3 166.5,88.4 166.6,88.6 166.6,88.7 166.6,88.9 166.6,89.0 166.6,89.1 166.6,89.3 166.7,89.4 166.7,89.5 166.7,89.7 166.7,89.8 166.7,89.9 166.7,90.0 166.8,90.1 166.8,90.3 166.8,90.4 166.8,90.5 166.8,90.6 166.9,90.7 166.9,90.9 166.9,91.1 167.0,91.2 167.0,91.4 167.0,91.5 167.1,91.6 167.1,91.7 167.2,91.8 167.2,91.8 167.3,91.8 167.4,91.7 167.4,91.6 167.4,91.5 167.5,91.3 167.5,91.2 167.5,91.0 167.6,90.8 167.6,90.6 167.6,90.5 167.7,90.4 167.7,90.3 167.7,90.1 167.7,90.0 167.7,89.9 167.7,89.8 167.8,89.6 167.8,89.5 167.8,89.4 167.8,89.2 167.8,89.1 167.8,89.0 167.9,88.8 167.9,88.7 167.9,88.5 167.9,88.4 167.9,88.2 168.0,88.1 168.0,87.9 168.0,87.8 168.0,87.7 168.0,87.5 168.0,87.4 168.1,87.2 168.1,87.1 168.1,86.9 168.1,86.8 168.1,86.7 168.1,86.5 168.2,86.4 168.2,86.3 168.2,86.1 168.2,86.0 168.2,85.9 168.3,85.8 168.3,85.7 168.3,85.5 168.3,85.4 168.3,85.3 168.3,85.2 168.4,85.0 168.4,84.9 168.4,84.7 168.5,84.6 168.5,84.4 168.6,84.3 168.6,84.2 168.7,84.2 168.8,84.2 168.8,84.3 168.9,84.4 168.9,84.5 168.9,84.6 169.0,84.8 169.0,84.9 169.0,85.1 169.1,85.3 169.1,85.4 169.1,85.5 169.1,85.6 169.1,85.8 169.2,85.9 169.2,86.0 169.2,86.1 169.2,86.2 169.2,86.4 169.2,86.5 169.3,86.6 169.3,86.8 169.3,86.9 169.3,87.1 169.3,87.2 169.3,87.3 169.4,87.5 169.4,87.6 169.4,87.8 169.4,87.9 169.4,88.1 169.5,88.2 169.5,88.3 169.5,88.5 169.5,88.6 169.5,88.8 169.5,88.9 169.6,89.0 169.6,89.2 169.6,89.3 169.6,89.4 169.6,89.6 169.7,89.7 169.7,89.8 169.7,89.9 169.7,90.1 169.7,90.2 169.7,90.3 169.8,90.4 169.8,90.5 169.8,90.7 169.8,90.9 169.9,91.0 169.9,91.2 170.0,91.3 170.0,91.4 170.0,91.5 170.1,91.6 170.2,91.5 170.3,91.4 170.3,91.3 170.3,91.2 170.4,91.1 170.4,90.9 170.4,90.8 170.5,90.6 170.5,90.4 170.5,90.3 170.6,90.1 170.6,90.0 170.6,89.9 170.6,89.8 170.6,89.7 170.6,89.5 170.7,89.4 170.7,89.3 170.7,89.1 170.7,89.0 170.7,88.8 170.7,88.7 170.8,88.6 170.8,88.4 170.8,88.3 170.8,88.1 170.8,88.0 170.9,87.8 170.9,87.7 170.9,87.5 170.9,87.4 170.9,87.2 170.9,87.1 171.0,86.9 171.0,86.8 171.0,86.6 171.0,86.5 171.0,86.4 171.0,86.2 171.1,86.1 171.1,86.0 171.1,85.8 171.1,85.7 171.1,85.6 171.2,85.4 171.2,85.3 171.2,85.2 171.2,85.1 171.2,85.0 171.2,84.9 171.3,84.7 171.3,84.5 171.3,84.3 171.4,84.2 171.4,84.1 171.5,84.0 171.5,83.9 171.6,83.8 171.7,83.8 171.7,83.9 171.8,84.0 171.8,84.1 171.8,84.2 171.9,84.4 171.9,84.6 171.9,84.8 172.0,85.0 172.0,85.1 172.0,85.2 172.0,85.3 172.0,85.4 172.1,85.5 172.1,85.7 172.1,85.8 172.1,85.9 172.1,86.0 172.1,86.2 172.2,86.3 172.2,86.5 172.2,86.6 172.2,86.7 172.2,86.9 172.3,87.0 172.3,87.2 172.3,87.3 172.3,87.5 172.3,87.6 172.3,87.8 172.4,87.9 172.4,88.1 172.4,88.2 172.4,88.3 172.4,88.5 172.4,88.6 172.5,88.8 172.5,88.9 172.5,89.0 172.5,89.2 172.5,89.3 172.6,89.4 172.6,89.6 172.6,89.7 172.6,89.8 172.6,89.9 172.6,90.1 172.7,90.2 172.7,90.3 172.7,90.4 172.7,90.6 172.8,90.7 172.8,90.9 172.8,91.0 172.9,91.2 172.9,91.3 173.0,91.4 173.0,91.4 173.1,91.4 173.2,91.3 173.2,91.2 173.2,91.1 173.3,90.9 173.3,90.8 173.3,90.6 173.4,90.4 173.4,90.3 173.4,90.2 173.4,90.1 173.5,90.0 173.5,89.9 173.5,89.7 173.5,89.6 173.5,89.5 173.5,89.4 173.6,89.2 173.6,89.1 173.6,88.9 173.6,88.8 173.6,88.7 173.6,88.5 173.7,88.4 173.7,88.2 173.7,88.1 173.7,87.9 173.7,87.8 173.8,87.6 173.8,87.5 173.8,87.3 173.8,87.2 173.8,87.0 173.8,86.9 173.9,86.7 173.9,86.6 173.9,86.4 173.9,86.3 173.9,86.1 173.9,86.0 174.0,85.9 174.0,85.7 174.0,85.6 174.0,85.4 174.0,85.3 174.1,85.2 174.1,85.1 174.1,85.0 174.1,84.8 174.1,84.7 174.1,84.6 174.2,84.5 174.2,84.3 174.2,84.1 174.3,84.0 174.3,83.9 174.3,83.7 174.4,83.6 174.4,83.5 174.5,83.5 174.6,83.6 174.6,83.7 174.7,83.8 174.7,83.9 174.7,84.0 174.8,84.2 174.8,84.4 174.9,84.6 174.9,84.7 174.9,84.8 174.9,84.9 174.9,85.0 174.9,85.1 175.0,85.2 175.0,85.4 175.0,85.5 175.0,85.6 175.0,85.8 175.0,85.9 175.1,86.0 175.1,86.2 175.1,86.3 175.1,86.5 175.1,86.6 175.2,86.8 175.2,86.9 175.2,87.1 175.2,87.2 175.2,87.4 175.2,87.5 175.3,87.7 175.3,87.8 175.3,88.0 175.3,88.1 175.3,88.3 175.3,88.4 175.4,88.5 175.4,88.7 175.4,88.8 175.4,89.0 175.4,89.1 175.5,89.2 175.5,89.4 175.5,89.5 175.5,89.6 175.5,89.7 175.5,89.9 175.6,90.0 175.6,90.1 175.6,90.2 175.6,90.4 175.7,90.6 175.7,90.7 175.7,90.9 175.8,91.0 175.8,91.1 175.9,91.2 175.9,91.3 176.0,91.2 176.1,91.1 176.1,91.0 176.1,90.9 176.2,90.8 176.2,90.6 176.2,90.5 176.3,90.3 176.3,90.2 176.3,90.1 176.3,90.0 176.4,89.8 176.4,89.7 176.4,89.6 176.4,89.5 176.4,89.3 176.4,89.2 176.5,89.1 176.5,88.9 176.5,88.8 176.5,88.7 176.5,88.5 176.5,88.4 176.6,88.2 176.6,88.1 176.6,87.9 176.6,87.8 176.6,87.6 176.7,87.5 176.7,87.3 176.7,87.2 176.7,87.0 176.7,86.9 176.7,86.7 176.8,86.6 176.8,86.4 176.8,86.3 176.8,86.1 176.8,86.0 176.8,85.8 176.9,85.7 176.9,85.5 176.9,85.4 176.9,85.3 176.9,85.1 177.0,85.0 177.0,84.9 177.0,84.8 177.0,84.7 177.0,84.5 177.0,84.4 177.1,84.3 177.1,84.1 177.1,83.9 177.2,83.8 177.2,83.7 177.2,83.5 177.3,83.4 177.3,83.3 177.4,83.3 177.5,83.3 177.5,83.4 177.6,83.5 177.6,83.7 177.6,83.8 177.7,84.0 177.7,84.1 177.8,84.3 177.8,84.4 177.8,84.6 177.8,84.7 177.8,84.8 177.8,84.9 177.9,85.0 177.9,85.2 177.9,85.3 177.9,85.4 177.9,85.6 177.9,85.7 178.0,85.8 178.0,86.0 178.0,86.1 178.0,86.3 178.0,86.4 178.1,86.6 178.1,86.7 178.1,86.9 178.1,87.0 178.1,87.2 178.1,87.3 178.2,87.5 178.2,87.6 178.2,87.8 178.2,87.9 178.2,88.1 178.2,88.2 178.3,88.4 178.3,88.5 178.3,88.7 178.3,88.8 178.3,88.9 178.4,89.1 178.4,89.2 178.4,89.3 178.4,89.5 178.4,89.6 178.4,89.7 178.5,89.8 178.5,89.9 178.5,90.0 178.5,90.1 178.5,90.3 178.6,90.5 178.6,90.7 178.7,90.8 178.7,90.9 178.7,91.0 178.8,91.1 178.8,91.2 178.9,91.1 179.0,91.0 179.0,90.9 179.1,90.8 179.1,90.6 179.1,90.5 179.2,90.3 179.2,90.1 179.2,90.0 179.2,89.9 179.3,89.8 179.3,89.6 179.3,89.5 179.3,89.4 179.3,89.3 179.3,89.1 179.4,89.0 179.4,88.9 179.4,88.7 179.4,88.6 179.4,88.4 179.4,88.3 179.5,88.1 179.5,88.0 179.5,87.8 179.5,87.7 179.5,87.5 179.6,87.4 179.6,87.2 179.6,87.1 179.6,86.9 179.6,86.8 179.6,86.6 179.7,86.5 179.7,86.3 179.7,86.2 179.7,86.0 179.7,85.9 179.8,85.7 179.8,85.6 179.8,85.4 179.8,85.3 179.8,85.2 179.8,85.0 179.9,84.9 179.9,84.8 179.9,84.6 179.9,84.5 179.9,84.4 179.9,84.3 180.0,84.2 180.0,84.1 180.0,83.9 180.1,83.7 180.1,83.6 180.1,83.4 180.2,83.3 180.2,83.3 180.2,83.2 180.4,83.1 180.4,83.2 180.5,83.3 180.5,83.4 180.5,83.6 180.6,83.7 180.6,83.9 180.6,84.1 180.7,84.3 180.7,84.4 180.7,84.5 180.7,84.6 180.7,84.8 180.8,84.9 180.8,85.0 180.8,85.1 180.8,85.3 180.8,85.4 180.8,85.6 180.9,85.7 180.9,85.8 180.9,86.0 180.9,86.1 180.9,86.3 181.0,86.4 181.0,86.6 181.0,86.7 181.0,86.9 181.0,87.0 181.0,87.2 181.1,87.3 181.1,87.5 181.1,87.7 181.1,87.8 181.1,88.0 181.1,88.1 181.2,88.3 181.2,88.4 181.2,88.5 181.2,88.7 181.2,88.8 181.3,89.0 181.3,89.1 181.3,89.2 181.3,89.4 181.3,89.5 181.3,89.6 181.4,89.7 181.4,89.8 181.4,89.9 181.4,90.1 181.4,90.3 181.5,90.4 181.5,90.6 181.6,90.7 181.6,90.9 181.6,91.0 181.7,91.1 181.7,91.1 181.8,91.1 181.9,91.0 181.9,90.9 182.0,90.7 182.0,90.6 182.0,90.4 182.1,90.3 182.1,90.1 182.1,89.9 182.1,89.8 182.2,89.7 182.2,89.6 182.2,89.5 182.2,89.4 182.2,89.2 182.2,89.1 182.3,89.0 182.3,88.8 182.3,88.7 182.3,88.5 182.3,88.4 182.4,88.2 182.4,88.1 182.4,87.9 182.4,87.8 182.4,87.6 182.4,87.5 182.5,87.3 182.5,87.2 182.5,87.0 182.5,86.9 182.5,86.7 182.5,86.6 182.6,86.4 182.6,86.2 182.6,86.1 182.6,85.9 182.6,85.8 182.7,85.7 182.7,85.5 182.7,85.4 182.7,85.2 182.7,85.1 182.7,85.0 182.8,84.8 182.8,84.7 182.8,84.6 182.8,84.5 182.8,84.3 182.8,84.2 182.9,84.1 182.9,84.0 182.9,83.8 183.0,83.6 183.0,83.5 183.0,83.4 183.1,83.2 183.1,83.2 183.1,83.1 183.2,83.0 183.3,83.1 183.4,83.2 183.4,83.3 183.4,83.5 183.5,83.6 183.5,83.8 183.5,84.0 183.6,84.2 183.6,84.3 183.6,84.4 183.6,84.5 183.6,84.6 183.7,84.8 183.7,84.9 183.7,85.0 183.7,85.2 183.7,85.3 183.7,85.4 183.8,85.6 183.8,85.7 183.8,85.9 183.8,86.0 183.8,86.2 183.9,86.3 183.9,86.5 183.9,86.6 183.9,86.8 183.9,86.9 183.9,87.1 184.0,87.2 184.0,87.4 184.0,87.5 184.0,87.7 184.0,87.9 184.0,88.0 184.1,88.2 184.1,88.3 184.1,88.4 184.1,88.6 184.1,88.7 184.2,88.9 184.2,89.0 184.2,89.1 184.2,89.3 184.2,89.4 184.2,89.5 184.3,89.6 184.3,89.8 184.3,89.9 184.3,90.0 184.3,90.1 184.4,90.3 184.4,90.5 184.4,90.6 184.5,90.7 184.5,90.9 184.5,90.9 184.6,91.0 184.7,91.1 184.8,91.0 184.8,90.9 184.8,90.8 184.9,90.6 184.9,90.5 185.0,90.3 185.0,90.1 185.0,89.9 185.0,89.8 185.1,89.7 185.1,89.6 185.1,89.5 185.1,89.3 185.1,89.2 185.1,89.1 185.2,88.9 185.2,88.8 185.2,88.6 185.2,88.5 185.2,88.4 185.3,88.2 185.3,88.1 185.3,87.9 185.3,87.8 185.3,87.6 185.3,87.5 185.4,87.3 185.4,87.1 185.4,87.0 185.4,86.8 185.4,86.7 185.4,86.5 185.5,86.4 185.5,86.2 185.5,86.1 185.5,85.9 185.5,85.8 185.6,85.6 185.6,85.5 185.6,85.3 185.6,85.2 185.6,85.1 185.6,84.9 185.7,84.8 185.7,84.7 185.7,84.5 185.7,84.4 185.7,84.3 185.7,84.2 185.8,84.1 185.8,84.0 185.8,83.8 185.9,83.6 185.9,83.4 185.9,83.3 186.0,83.2 186.0,83.1 186.0,83.0 186.1,82.9 186.2,83.0 186.3,83.1 186.3,83.2 186.3,83.4 186.4,83.5 186.4,83.7 186.4,83.9 186.5,84.1 186.5,84.2 186.5,84.3 186.5,84.4 186.5,84.5 186.6,84.7 186.6,84.8 186.6,84.9 186.6,85.1 186.6,85.2 186.6,85.3 186.7,85.5 186.7,85.6 186.7,85.8 186.7,85.9 186.7,86.1 186.8,86.2 186.8,86.4 186.8,86.5 186.8,86.7 186.8,86.8 186.8,87.0 186.9,87.2 186.9,87.3 186.9,87.5 186.9,87.6 186.9,87.8 186.9,87.9 187.0,88.1 187.0,88.2 187.0,88.4 187.0,88.5 187.0,88.7 187.1,88.8 187.1,88.9 187.1,89.1 187.1,89.2 187.1,89.3 187.1,89.5 187.2,89.6 187.2,89.7 187.2,89.8 187.2,89.9 187.2,90.0 187.3,90.2 187.3,90.4 187.3,90.6 187.4,90.7 187.4,90.8 187.4,90.9 187.5,91.0 187.6,91.0 187.7,91.0 187.7,90.9 187.7,90.8 187.8,90.6 187.8,90.5 187.9,90.3 187.9,90.1 187.9,89.9 187.9,89.8 188.0,89.7 188.0,89.6 188.0,89.4 188.0,89.3 188.0,89.2 188.0,89.1 188.1,88.9 188.1,88.8 188.1,88.6 188.1,88.5 188.1,88.4 188.2,88.2 188.2,88.1 188.2,87.9 188.2,87.8 188.2,87.6 188.2,87.4 188.3,87.3 188.3,87.1 188.3,87.0 188.3,86.8 188.3,86.7 188.3,86.5 188.4,86.4 188.4,86.2 188.4,86.1 188.4,85.9 188.4,85.8 188.5,85.6 188.5,85.5 188.5,85.3 188.5,85.2 188.5,85.0 188.5,84.9 188.6,84.8 188.6,84.6 188.6,84.5 188.6,84.4 188.6,84.3 188.6,84.2 188.7,84.0 188.7,83.9 188.7,83.7 188.8,83.6 188.8,83.4 188.8,83.3 188.9,83.1 188.9,83.0 188.9,82.9 189.0,82.9 189.1,83.0 189.2,83.1 189.2,83.2 189.2,83.3 189.3,83.5 189.3,83.6 189.3,83.8 189.4,84.0 189.4,84.1 189.4,84.2 189.4,84.4 189.4,84.5 189.5,84.6 189.5,84.7 189.5,84.9 189.5,85.0 189.5,85.1 189.5,85.3 189.6,85.4 189.6,85.6 189.6,85.7 189.6,85.9 189.6,86.0 189.7,86.2 189.7,86.3 189.7,86.5 189.7,86.6 189.7,86.8 189.7,86.9 189.8,87.1 189.8,87.3 189.8,87.4 189.8,87.6 189.8,87.7 189.8,87.9 189.9,88.0 189.9,88.2 189.9,88.3 189.9,88.5 189.9,88.6 190.0,88.7 190.0,88.9 190.0,89.0 190.0,89.2 190.0,89.3 190.0,89.4 190.1,89.5 190.1,89.7 190.1,89.8 190.1,89.9 190.1,90.0 190.2,90.1 190.2,90.3 190.2,90.5 190.3,90.6 190.3,90.7 190.3,90.8 190.4,90.9 190.4,91.0 190.5,91.0 190.6,90.9 190.6,90.8 190.7,90.7 190.7,90.6 190.7,90.4 190.8,90.2 190.8,90.0 190.8,89.9 190.8,89.8 190.9,89.7 190.9,89.6 190.9,89.5 190.9,89.3 190.9,89.2 190.9,89.1 191.0,88.9 191.0,88.8 191.0,88.7 191.0,88.5 191.0,88.4 191.1,88.2 191.1,88.1 191.1,87.9 191.1,87.8 191.1,87.6 191.1,87.5 191.2,87.3 191.2,87.2 191.2,87.0 191.2,86.8 191.2,86.7 191.2,86.5 191.3,86.4 191.3,86.2 191.3,86.1 191.3,85.9 191.3,85.8 191.4,85.6 191.4,85.5 191.4,85.3 191.4,85.2 191.4,85.0 191.4,84.9 191.5,84.8 191.5,84.6 191.5,84.5 191.5,84.4 191.5,84.3 191.5,84.2 191.6,84.0 191.6,83.9 191.6,83.8 191.6,83.6 191.7,83.5 191.7,83.3 191.7,83.2 191.8,83.1 191.8,83.0 191.9,82.9 192.0,82.9 192.0,83.0 192.1,83.1 192.1,83.2 192.1,83.3 192.2,83.5 192.2,83.7 192.3,83.9 192.3,84.0 192.3,84.1 192.3,84.2 192.3,84.3 192.3,84.4 192.4,84.6 192.4,84.7 192.4,84.8 192.4,84.9 192.4,85.1 192.5,85.2 192.5,85.4 192.5,85.5 192.5,85.7 192.5,85.8 192.5,86.0 192.6,86.1 192.6,86.3 192.6,86.4 192.6,86.6 192.6,86.7 192.6,86.9 192.7,87.0 192.7,87.2 192.7,87.4 192.7,87.5 192.7,87.7 192.8,87.8 192.8,88.0 192.8,88.1 192.8,88.3 192.8,88.4 192.8,88.6 192.9,88.7 192.9,88.8 192.9,89.0 192.9,89.1 192.9,89.2 192.9,89.4 193.0,89.5 193.0,89.6 193.0,89.7 193.0,89.8 193.0,89.9 193.1,90.1 193.1,90.2 193.1,90.4 193.2,90.6 193.2,90.7 193.2,90.8 193.3,90.9 193.3,91.0 193.4,91.0 193.5,90.9 193.5,90.8 193.6,90.7 193.6,90.6 193.6,90.4 193.7,90.2 193.7,90.0 193.7,89.9 193.7,89.8 193.8,89.7 193.8,89.6 193.8,89.5 193.8,89.3 193.8,89.2 193.8,89.1 193.9,89.0 193.9,88.8 193.9,88.7 193.9,88.5 193.9,88.4 194.0,88.2 194.0,88.1 194.0,87.9 194.0,87.8 194.0,87.6 194.0,87.5 194.1,87.3 194.1,87.2 194.1,87.0 194.1,86.9 194.1,86.7 194.1,86.5 194.2,86.4 194.2,86.2 194.2,86.1 194.2,85.9 194.2,85.8 194.3,85.6 194.3,85.5 194.3,85.3 194.3,85.2 194.3,85.1 194.3,84.9 194.4,84.8 194.4,84.7 194.4,84.5 194.4,84.4 194.4,84.3 194.4,84.2 194.5,84.1 194.5,83.9 194.5,83.8 194.5,83.6 194.6,83.5 194.6,83.3 194.6,83.2 194.7,83.1 194.7,83.0 194.8,82.9 194.9,82.9 194.9,82.9 195.0,83.1 195.0,83.2 195.1,83.3 195.1,83.5 195.1,83.6 195.2,83.8 195.2,83.9 195.2,84.0 195.2,84.2 195.2,84.3 195.2,84.4 195.3,84.5 195.3,84.6 195.3,84.8 195.3,84.9 195.3,85.0 195.4,85.2 195.4,85.3 195.4,85.5 195.4,85.6 195.4,85.8 195.4,85.9 195.5,86.1 195.5,86.2 195.5,86.4 195.5,86.5 195.5,86.7 195.5,86.8 195.6,87.0 195.6,87.2 195.6,87.3 195.6,87.5 195.6,87.6 195.7,87.8 195.7,87.9 195.7,88.1 195.7,88.2 195.7,88.4 195.7,88.5 195.8,88.7 195.8,88.8 195.8,88.9 195.8,89.1 195.8,89.2 195.8,89.3 195.9,89.5 195.9,89.6 195.9,89.7 195.9,89.8 195.9,89.9 196.0,90.0 196.0,90.2 196.0,90.4 196.1,90.5 196.1,90.7 196.1,90.8 196.2,90.9 196.2,91.0 196.3,91.0 196.4,90.9 196.4,90.8 196.5,90.7 196.5,90.6 196.5,90.4 196.6,90.2 196.6,90.0 196.6,89.9 196.6,89.8 196.7,89.7 196.7,89.6 196.7,89.5 196.7,89.4 196.7,89.2 196.7,89.1 196.8,89.0 196.8,88.8 196.8,88.7 196.8,88.6 196.8,88.4 196.9,88.3 196.9,88.1 196.9,88.0 196.9,87.8 196.9,87.7 196.9,87.5 197.0,87.4 197.0,87.2 197.0,87.0 197.0,86.9 197.0,86.7 197.0,86.6 197.1,86.4 197.1,86.3 197.1,86.1 197.1,86.0 197.1,85.8 197.2,85.7 197.2,85.5 197.2,85.4 197.2,85.2 197.2,85.1 197.2,84.9 197.3,84.8 197.3,84.7 197.3,84.5 197.3,84.4 197.3,84.3 197.3,84.2 197.4,84.1 197.4,84.0 197.4,83.9 197.4,83.7 197.5,83.5" fill="none" stroke="#1a1a1a" stroke-width="1.2" stroke-linejoin="round"/>
<polyline points="197.5,83.5 197.5,83.7 197.5,83.8 197.6,83.9 197.6,84.0 197.6,84.1 197.6,84.2 197.6,84.4 197.7,84.5 197.7,84.6 197.7,84.8 197.7,84.9 197.8,85.1 197.8,85.2 197.8,85.3 197.8,85.5 197.8,85.7 197.9,85.8 197.9,86.0 197.9,86.1 197.9,86.3 198.0,86.5 198.0,86.6 198.0,86.8 198.0,87.0 198.0,87.2 198.1,87.4 198.1,87.6 198.1,87.8 198.1,88.0 198.2,88.2 198.2,88.4 198.2,88.7 198.2,88.9 198.2,89.2 198.3,89.4 198.3,89.7 198.3,90.0 198.3,90.2 198.3,90.5 198.4,90.8 198.4,91.0 198.4,91.3 198.4,91.6 198.5,91.9 198.5,92.1 198.5,92.4 198.5,92.7 198.5,92.9 198.6,93.2 198.6,93.4 198.6,93.7 198.6,93.9 198.7,94.2 198.7,94.4 198.7,94.6 198.7,94.8 198.7,95.0 198.8,95.2 198.8,95.4 198.8,95.6 198.8,95.8 198.9,96.0 198.9,96.2 198.9,96.4 198.9,96.6 198.9,96.8 199.0,97.0 199.0,97.1 199.0,97.3 199.0,97.5 199.1,97.7 199.1,97.9 199.1,98.0 199.1,98.2 199.1,98.4 199.2,98.6 199.2,98.7 199.2,98.9 199.2,99.1 199.2,99.2 199.3,99.4 199.3,99.5 199.3,99.7 199.3,99.9 199.4,100.0 199.4,100.2 199.4,100.3 199.4,100.5 199.4,100.6 199.5,100.8 199.5,100.9 199.5,101.0 199.5,101.2 199.6,101.3 199.6,101.5 199.6,101.6 199.6,101.7 199.6,101.9 199.7,102.0 199.7,102.1 199.7,102.2 199.7,102.4 199.8,102.5 199.8,102.6 199.8,102.8 199.8,102.9 199.8,103.0 199.9,103.1 199.9,103.3 199.9,103.4 199.9,103.5 199.9,103.6 200.0,103.7 200.0,103.9 200.0,104.0 200.0,104.1 200.1,104.2 200.1,104.3 200.1,104.4 200.1,104.5 200.1,104.7 200.2,104.8 200.2,104.9 200.2,105.0 200.2,105.1 200.3,105.3 200.3,105.4 200.4,105.6 200.4,105.7 200.5,105.9 200.5,106.0 200.5,106.1 200.6,106.2 200.6,106.3 200.7,106.4 200.7,106.5 200.8,106.6 200.8,106.7 200.8,106.8 200.9,106.9 200.9,107.0 201.0,107.1 201.0,107.1 201.1,107.2 201.1,107.3 201.2,107.4 201.3,107.5 201.3,107.6 201.4,107.7 201.5,107.7 201.5,107.8 201.7,107.8 201.8,107.8 201.9,107.8 201.9,107.7 202.0,107.6 202.1,107.6 202.1,107.5 202.2,107.4 202.3,107.3 202.3,107.2 202.4,107.1 202.4,107.0 202.5,106.9 202.5,106.8 202.6,106.7 202.6,106.7 202.6,106.6 202.7,106.5 202.7,106.4 202.8,106.3 202.8,106.2 202.9,106.1 202.9,106.0 202.9,106.0 203.0,105.9 203.0,105.8 203.1,105.7 203.1,105.6 203.2,105.5 203.3,105.4 203.3,105.3 203.4,105.2 203.5,105.1 203.5,105.0 203.6,104.9 203.7,104.8 203.7,104.7 203.8,104.6 203.9,104.5 203.9,104.4 204.0,104.3 204.1,104.2 204.1,104.1 204.2,104.0 204.3,104.0 204.3,103.9 204.4,103.8 204.5,103.8 204.6,103.7 204.7,103.8 204.8,103.8 204.9,103.9 205.0,103.9 205.1,104.0 205.1,104.1 205.2,104.2 205.2,104.3 205.3,104.4 205.4,104.5 205.4,104.5 205.4,104.6 205.5,104.7 205.5,104.8 205.6,104.9 205.6,105.0 205.7,105.1 205.7,105.2 205.8,105.2 205.8,105.3 205.8,105.4 205.9,105.5 205.9,105.6 206.0,105.7 206.0,105.8 206.1,105.9 206.1,105.9 206.1,106.0 206.2,106.1 206.2,106.2 206.3,106.3 206.4,106.4 206.4,106.5 206.5,106.6 206.6,106.7 206.6,106.7 206.7,106.8 206.8,106.8 206.9,106.9 207.0,106.8 207.2,106.8 207.3,106.8 207.4,106.8 207.4,106.7 207.5,106.7 207.6,106.6 207.7,106.6 207.8,106.5 207.9,106.4 208.0,106.4 208.1,106.3 208.1,106.2 208.2,106.2 208.3,106.1 208.4,106.0 208.5,106.0 208.6,105.9 208.7,105.8 208.8,105.8 208.8,105.7 208.9,105.7 209.0,105.6 209.1,105.6 209.2,105.6 209.3,105.5 209.5,105.5 209.6,105.5 209.7,105.6 209.8,105.6 209.9,105.6 210.0,105.6 210.2,105.6 210.3,105.7 210.4,105.7 210.5,105.7 210.6,105.8 210.7,105.8 210.8,105.8 210.9,105.8 211.0,105.9 211.1,105.9 211.2,105.9 211.4,106.0 211.5,106.0 211.6,106.0 211.7,106.0 211.8,106.0 211.9,106.0 212.1,106.0 212.2,106.0 212.3,106.0 212.5,106.0 212.6,106.0 212.7,106.0 212.9,106.0 213.0,106.0 213.1,106.0 213.3,106.0 213.4,106.0 213.5,106.0 213.7,106.0 213.8,106.0 213.9,106.0 214.1,106.0 214.2,106.0 214.3,105.9 214.4,105.9 214.5,105.9 214.6,105.9 214.7,105.9 214.8,105.8 214.9,105.8 215.0,105.8 215.1,105.7 215.3,105.7 215.4,105.7 215.5,105.7 215.6,105.7 215.7,105.8 215.8,105.8 216.0,105.8 216.0,105.9 216.1,105.9 216.2,105.9 216.3,106.0 216.4,106.0 216.5,106.0 216.6,106.1 216.7,106.1 216.9,106.1 217.0,106.1 217.1,106.1 217.2,106.0 217.3,106.0 217.4,106.0 217.5,105.9 217.6,105.9 217.7,105.9 217.8,105.8 217.9,105.8 218.0,105.8 218.1,105.7 218.2,105.7 218.4,105.7 218.5,105.7 218.6,105.7 218.7,105.8 218.8,105.8 218.9,105.8 219.0,105.9 219.1,105.9 219.2,105.9 219.3,106.0 219.4,106.0 219.5,106.0 219.6,106.1 219.7,106.1 219.9,106.1 220.0,106.1 220.1,106.1 220.2,106.0 220.3,106.0 220.4,106.0 220.5,105.9 220.6,105.9 220.7,105.9 220.8,105.8 220.9,105.8 221.0,105.7 221.1,105.7 221.2,105.7 221.3,105.7 221.5,105.7 221.6,105.7 221.7,105.8 221.8,105.8 221.9,105.8 222.0,105.9 222.1,105.9 222.2,105.9 222.2,106.0 222.4,106.0 222.5,106.0 222.6,106.1 222.7,106.1 222.8,106.1 222.9,106.1 223.1,106.1 223.2,106.0 223.3,106.0 223.4,106.0 223.5,105.9 223.6,105.9 223.6,105.9 223.7,105.8 223.8,105.8 223.9,105.7 224.1,105.7 224.2,105.7 224.3,105.7 224.4,105.7 224.5,105.7 224.7,105.8 224.8,105.8 224.8,105.8 224.9,105.9 225.0,105.9 225.1,105.9 225.2,106.0 225.3,106.0 225.4,106.0 225.5,106.1 225.6,106.1 225.8,106.1 225.9,106.1 226.0,106.1 226.1,106.0 226.2,106.0 226.3,106.0 226.4,105.9 226.5,105.9 226.6,105.9 226.7,105.8 226.8,105.8 226.9,105.7 227.0,105.7 227.1,105.7 227.3,105.7 227.4,105.7 227.5,105.7 227.6,105.8 227.7,105.8 227.8,105.8 227.9,105.9 228.0,105.9 228.1,105.9 228.2,106.0 228.3,106.0 228.4,106.1 228.5,106.1 228.6,106.1 228.7,106.1 228.9,106.1 229.0,106.1 229.1,106.0 229.2,106.0 229.3,106.0 229.4,105.9 229.5,105.9 229.6,105.9 229.6,105.8 229.8,105.8 229.9,105.7 230.0,105.7 230.1,105.7 230.2,105.7 230.3,105.7 230.5,105.7 230.6,105.8 230.7,105.8 230.8,105.8 230.9,105.9 231.0,105.9 231.0,105.9 231.1,106.0 231.2,106.0 231.4,106.0 231.5,106.1 231.6,106.1 231.7,106.1 231.8,106.1 231.9,106.1 232.1,106.0 232.2,106.0 232.2,106.0 232.3,105.9 232.4,105.9 232.5,105.9 232.6,105.8 232.7,105.8 232.8,105.7 232.9,105.7 233.0,105.7 233.2,105.7 233.3,105.7 233.4,105.7 233.5,105.8 233.6,105.8 233.7,105.8 233.8,105.9 233.9,105.9 234.0,105.9 234.1,106.0 234.2,106.0 234.3,106.0 234.4,106.1 234.5,106.1 234.7,106.1 234.8,106.1 234.9,106.1 235.0,106.0 235.1,106.0 235.2,106.0 235.3,105.9 235.4,105.9 235.5,105.9 235.6,105.8 235.7,105.8 235.8,105.7 235.9,105.7 236.0,105.7 236.1,105.7 236.3,105.7 236.4,105.7 236.5,105.8 236.6,105.8 236.7,105.8 236.8,105.9 236.9,105.9 237.0,105.9 237.0,106.0 237.2,106.0 237.3,106.0 237.4,106.1 237.5,106.1 237.6,106.1 237.7,106.1 237.9,106.1 238.0,106.0 238.1,106.0 238.2,106.0 238.3,105.9 238.3,105.9 238.4,105.9 238.5,105.8 238.6,105.8 238.7,105.8 238.8,105.7 239.0,105.7 239.1,105.7 239.2,105.7 239.3,105.7 239.4,105.8 239.5,105.8 239.7,105.8 239.7,105.9 239.8,105.9 239.9,105.9 240.0,106.0 240.1,106.0 240.2,106.0 240.3,106.1 240.4,106.1 240.6,106.1 240.7,106.1 240.8,106.1 240.9,106.0 241.0,106.0 241.1,106.0 241.2,105.9 241.3,105.9 241.4,105.9 241.5,105.8 241.6,105.8 241.7,105.8 241.8,105.7 241.9,105.7 242.0,105.7 242.2,105.7 242.3,105.7 242.4,105.8 242.5,105.8 242.6,105.8 242.7,105.9 242.8,105.9 242.9,105.9 243.0,106.0 243.1,106.0 243.2,106.0 243.3,106.1 243.4,106.1 243.5,106.1 243.7,106.1 243.8,106.1 243.9,106.0 244.0,106.0 244.1,106.0 244.2,105.9 244.3,105.9 244.4,105.8 244.4,105.8 244.6,105.8 244.7,105.7 244.8,105.7 244.9,105.7 245.0,105.7 245.1,105.7 245.3,105.7 245.4,105.8 245.5,105.8 245.6,105.8 245.7,105.9 245.7,105.9 245.8,105.9 245.9,106.0 246.0,106.0 246.1,106.0 246.2,106.1 246.4,106.1 246.5,106.1 246.6,106.1 246.7,106.1 246.8,106.0 246.9,106.0 247.1,106.0 247.1,105.9 247.2,105.9 247.3,105.8 247.4,105.8 247.5,105.8 247.6,105.7 247.7,105.7 247.8,105.7 248.0,105.7 248.1,105.7 248.2,105.7 248.3,105.8 248.4,105.8 248.5,105.8 248.6,105.9 248.7,105.9 248.8,105.9 248.9,106.0 249.0,106.0 249.1,106.0 249.2,106.1 249.3,106.1 249.4,106.1 249.6,106.1 249.7,106.1 249.8,106.0 249.9,106.0 250.0,106.0 250.1,105.9 250.2,105.9 250.3,105.8 250.4,105.8 250.5,105.8 250.6,105.7 250.7,105.7 250.8,105.7 250.9,105.7 251.1,105.7 251.2,105.7 251.3,105.8 251.4,105.8 251.5,105.8 251.6,105.9 251.7,105.9 251.7,105.9 251.8,106.0 251.9,106.0 252.0,106.0 252.2,106.1 252.2,106.1" fill="none" stroke="#d47a8c" stroke-width="1.1"/>
<polyline points="197.5,83.5 197.5,83.7 197.5,83.8 197.6,83.9 197.6,84.0 197.6,84.1 197.6,84.2 197.6,84.4 197.7,84.5 197.7,84.6 197.7,84.8 197.7,84.9 197.8,85.1 197.8,85.2 197.8,85.3 197.8,85.5 197.8,85.7 197.9,85.8 197.9,86.0 197.9,86.1 197.9,86.3 198.0,86.5 198.0,86.6 198.0,86.8 198.0,87.0 198.0,87.2 198.1,87.4 198.1,87.6 198.1,87.8 198.1,88.0 198.2,88.2 198.2,88.4 198.2,88.7 198.2,88.9 198.2,89.2 198.3,89.4 198.3,89.7 198.3,90.0 198.3,90.2 198.3,90.5 198.4,90.8 198.4,91.0 198.4,91.3 198.4,91.6 198.5,91.9 198.5,92.1 198.5,92.4 198.5,92.7 198.5,92.9 198.6,93.2 198.6,93.4 198.6,93.7 198.6,93.9 198.7,94.2 198.7,94.4 198.7,94.6 198.7,94.8 198.7,95.0 198.8,95.2 198.8,95.4 198.8,95.6 198.8,95.8 198.9,96.0 198.9,96.2 198.9,96.4 198.9,96.6 198.9,96.8 199.0,97.0 199.0,97.1 199.0,97.3 199.0,97.5 199.1,97.7 199.1,97.9 199.1,98.0 199.1,98.2 199.1,98.4 199.2,98.6 199.2,98.7 199.2,98.9 199.2,99.1 199.2,99.2 199.3,99.4 199.3,99.5 199.3,99.7 199.3,99.9 199.4,100.0 199.4,100.2 199.4,100.3 199.4,100.5 199.4,100.6 199.5,100.8 199.5,100.9 199.5,101.0 199.5,101.2 199.6,101.3 199.6,101.5 199.6,101.6 199.6,101.7 199.6,101.9 199.7,102.0 199.7,102.1 199.7,102.2 199.7,102.4 199.8,102.5 199.8,102.6 199.8,102.8 199.8,102.9 199.8,103.0 199.9,103.1 199.9,103.3 199.9,103.4 199.9,103.5 199.9,103.6 200.0,103.7 200.0,103.9 200.0,104.0 200.0,104.1 200.1,104.2 200.1,104.3 200.1,104.4 200.1,104.5 200.1,104.7 200.2,104.8 200.2,104.9 200.2,105.0 200.2,105.1 200.3,105.3 200.3,105.4 200.4,105.6 200.4,105.7 200.5,105.9 200.5,106.0 200.5,106.1 200.6,106.2 200.6,106.3 200.7,106.4 200.7,106.5 200.8,106.6 200.8,106.7 200.8,106.8 200.9,106.9 200.9,107.0 201.0,107.1 201.0,107.1 201.1,107.2 201.1,107.3 201.2,107.4 201.3,107.5 201.3,107.6 201.4,107.7 201.5,107.7 201.5,107.8 201.7,107.8 201.8,107.8 201.9,107.8 201.9,107.7 202.0,107.6 202.1,107.6 202.1,107.5 202.2,107.4 202.3,107.3 202.3,107.2 202.4,107.1 202.4,107.0 202.5,106.9 202.5,106.8 202.6,106.7 202.6,106.7 202.6,106.6 202.7,106.5 202.7,106.4 202.8,106.3 202.8,106.2 202.9,106.1 202.9,106.0 202.9,106.0 203.0,105.9 203.0,105.8 203.1,105.7 203.1,105.6 203.2,105.5 203.3,105.4 203.3,105.3 203.4,105.2 203.5,105.1 203.5,105.0 203.6,104.9 203.7,104.8 203.7,104.7 203.8,104.6 203.9,104.5 203.9,104.4 204.0,104.3 204.1,104.2 204.1,104.1 204.2,104.0 204.3,104.0 204.3,103.9 204.4,103.8 204.5,103.8 204.6,103.7 204.7,103.8 204.8,103.8 204.9,103.9 205.0,103.9 205.1,104.0 205.1,104.1 205.2,104.2 205.2,104.3 205.3,104.4 205.4,104.5 205.4,104.5 205.4,104.6 205.5,104.7 205.5,104.8 205.6,104.9 205.6,105.0 205.7,105.1 205.7,105.2 205.8,105.2 205.8,105.3 205.8,105.4 205.9,105.5 205.9,105.6 206.0,105.7 206.0,105.8 206.1,105.9 206.1,105.9 206.1,106.0 206.2,106.1 206.2,106.2 206.3,106.3 206.4,106.4 206.4,106.5 206.5,106.6 206.6,106.7 206.6,106.7 206.7,106.8 206.8,106.8 206.9,106.9 207.0,106.8 207.2,106.8 207.3,106.8 207.4,106.8 207.4,106.7 207.5,106.7 207.6,106.6 207.7,106.6 207.8,106.5 207.9,106.4 208.0,106.4 208.1,106.3 208.1,106.2 208.2,106.2 208.3,106.1 208.4,106.0 208.5,106.0 208.6,105.9 208.7,105.8 208.8,105.8 208.8,105.7 208.9,105.7 209.0,105.6 209.1,105.6 209.2,105.6 209.3,105.5 209.5,105.5 209.6,105.5 209.7,105.6 209.8,105.6 209.9,105.6 210.0,105.6 210.2,105.6 210.3,105.7 210.4,105.7 210.5,105.7 210.6,105.8 210.7,105.8 210.8,105.8 210.9,105.8 211.0,105.9 211.1,105.9 211.2,105.9 211.4,106.0 211.5,106.0 211.6,106.0 211.7,106.0 211.8,106.0 211.9,106.0 212.1,106.0 212.2,106.0 212.3,106.0 212.5,106.0 212.6,106.0 212.7,106.0 212.9,106.0 213.0,106.0 213.1,106.0 213.3,106.0 213.4,106.0 213.5,106.0 213.7,106.0 213.8,106.0 213.9,106.0 214.1,106.0 214.2,106.0 214.3,105.9 214.4,105.9 214.5,105.9 214.6,105.9 214.7,105.9 214.8,105.8 214.9,105.8 215.0,105.8 215.1,105.7 215.3,105.7 215.4,105.7 215.5,105.7 215.6,105.7 215.7,105.8 215.8,105.8 216.0,105.8 216.0,105.9 216.1,105.9 216.2,105.9 216.3,106.0 216.4,106.0 216.5,106.0 216.6,106.1 216.7,106.1 216.9,106.1 217.0,106.1 217.1,106.1 217.2,106.0 217.3,106.0 217.4,106.0 217.5,105.9 217.6,105.9 217.7,105.9 217.8,105.8 217.9,105.8 218.0,105.8 218.1,105.7 218.2,105.7 218.4,105.7 218.5,105.7 218.6,105.7 218.7,105.8 218.8,105.8 218.9,105.8 219.0,105.9 219.1,105.9 219.2,105.9 219.3,106.0 219.4,106.0 219.5,106.0 219.6,106.1 219.7,106.1 219.9,106.1 220.0,106.1 220.1,106.1 220.2,106.0 220.3,106.0 220.4,106.0 220.5,105.9 220.6,105.9 220.7,105.9 220.8,105.8 220.9,105.8 221.0,105.7 221.1,105.7 221.2,105.7 221.3,105.7 221.5,105.7 221.6,105.7 221.7,105.8 221.8,105.8 221.9,105.8 222.0,105.9 222.1,105.9 222.2,105.9 222.2,106.0 222.4,106.0 222.5,106.0 222.6,106.1 222.7,106.1 222.8,106.1 222.9,106.1 223.1,106.1 223.2,106.0 223.3,106.0 223.4,106.0 223.5,105.9 223.6,105.9 223.6,105.9 223.7,105.8 223.8,105.8 223.9,105.7 224.1,105.7 224.2,105.7 224.3,105.7 224.4,105.7 224.5,105.7 224.7,105.8 224.8,105.8 224.8,105.8 224.9,105.9 225.0,105.9 225.1,105.9 225.2,106.0 225.3,106.0 225.4,106.0 225.5,106.1 225.6,106.1 225.8,106.1 225.9,106.1 226.0,106.1 226.1,106.0 226.2,106.0 226.3,106.0 226.4,105.9 226.5,105.9 226.6,105.9 226.7,105.8 226.8,105.8 226.9,105.7 227.0,105.7 227.1,105.7 227.3,105.7 227.4,105.7 227.5,105.7 227.6,105.8 227.7,105.8 227.8,105.8 227.9,105.9 228.0,105.9 228.1,105.9 228.2,106.0 228.3,106.0 228.4,106.1 228.5,106.1 228.6,106.1 228.7,106.1 228.9,106.1 229.0,106.1 229.1,106.0 229.2,106.0 229.3,106.0 229.4,105.9 229.5,105.9 229.6,105.9 229.6,105.8 229.8,105.8 229.9,105.7 230.0,105.7 230.1,105.7 230.2,105.7 230.3,105.7 230.5,105.7 230.6,105.8 230.7,105.8 230.8,105.8 230.9,105.9 231.0,105.9 231.0,105.9 231.1,106.0 231.2,106.0 231.4,106.0 231.5,106.1 231.6,106.1 231.7,106.1 231.8,106.1 231.9,106.1 232.1,106.0 232.2,106.0 232.2,106.0 232.3,105.9 232.4,105.9 232.5,105.9 232.6,105.8 232.7,105.8 232.8,105.7 232.9,105.7 233.0,105.7 233.2,105.7 233.3,105.7 233.4,105.7 233.5,105.8 233.6,105.8 233.7,105.8 233.8,105.9 233.9,105.9 234.0,105.9 234.1,106.0 234.2,106.0 234.3,106.0 234.4,106.1 234.5,106.1 234.7,106.1 234.8,106.1 234.9,106.1 235.0,106.0 235.1,106.0 235.2,106.0 235.3,105.9 235.4,105.9 235.5,105.9 235.6,105.8 235.7,105.8 235.8,105.7 235.9,105.7 236.0,105.7 236.1,105.7 236.3,105.7 236.4,105.7 236.5,105.8 236.6,105.8 236.7,105.8 236.8,105.9 236.9,105.9 237.0,105.9 237.0,106.0 237.2,106.0 237.3,106.0 237.4,106.1 237.5,106.1 237.6,106.1 237.7,106.1 237.9,106.1 238.0,106.0 238.1,106.0 238.2,106.0 238.3,105.9 238.3,105.9 238.4,105.9 238.5,105.8 238.6,105.8 238.7,105.8 238.8,105.7 239.0,105.7 239.1,105.7 239.2,105.7 239.3,105.7 239.4,105.8 239.5,105.8 239.7,105.8 239.7,105.9 239.8,105.9 239.9,105.9 240.0,106.0 240.1,106.0 240.2,106.0 240.3,106.1 240.4,106.1 240.6,106.1 240.7,106.1 240.8,106.1 240.9,106.0 241.0,106.0 241.1,106.0 241.2,105.9 241.3,105.9 241.4,105.9 241.5,105.8 241.6,105.8 241.7,105.8 241.8,105.7 241.9,105.7 242.0,105.7 242.2,105.7 242.3,105.7 242.4,105.8 242.5,105.8 242.6,105.8 242.7,105.9 242.8,105.9 242.9,105.9 243.0,106.0 243.1,106.0 243.2,106.0 243.3,106.1 243.4,106.1 243.5,106.1 243.7,106.1 243.8,106.1 243.9,106.0 244.0,106.0 244.1,106.0 244.2,105.9 244.3,105.9 244.4,105.8 244.4,105.8 244.6,105.8 244.7,105.7 244.8,105.7 244.9,105.7 245.0,105.7 245.1,105.7 245.3,105.7 245.4,105.8 245.5,105.8 245.6,105.8 245.7,105.9 245.7,105.9 245.8,105.9 245.9,106.0 246.0,106.0 246.1,106.0 246.2,106.1 246.4,106.1 246.5,106.1 246.6,106.1 246.7,106.1 246.8,106.0 246.9,106.0 247.1,106.0 247.1,105.9 247.2,105.9 247.3,105.8 247.4,105.8 247.5,105.8 247.6,105.7 247.7,105.7 247.8,105.7 248.0,105.7 248.1,105.7 248.2,105.7 248.3,105.8 248.4,105.8 248.5,105.8 248.6,105.9 248.7,105.9 248.8,105.9 248.9,106.0 249.0,106.0 249.1,106.0 249.2,106.1 249.3,106.1 249.4,106.1 249.6,106.1 249.7,106.1 249.8,106.0 249.9,106.0 250.0,106.0 250.1,105.9 250.2,105.9 250.3,105.8 250.4,105.8 250.5,105.8 250.6,105.7 250.7,105.7 250.8,105.7 250.9,105.7 251.1,105.7 251.2,105.7 251.3,105.8 251.4,105.8 251.5,105.8 251.6,105.9 251.7,105.9 251.7,105.9 251.8,106.0 251.9,106.0 252.0,106.0 252.2,106.1 252.2,106.1" fill="none" stroke="#7a2a40" stroke-width="1.3" stroke-dasharray="1.1 2.1"/>
<line x1="197.59" y1="8.40" x2="197.59" y2="176.50" stroke="#111" stroke-width="1.5" stroke-dasharray="2.6 1.2 1.3 1.2"/>
<rect x="302.80" y="7.60" width="209.00" height="164.90" fill="none" stroke="#6a6a6a" stroke-width="1"/>
<path d="M302.80 172.50v-2.0M302.80 7.60v2.0" stroke="#6a6a6a" stroke-width="0.8"/>
<text x="302.80" y="182.50" class="tk" text-anchor="middle">0</text>
<path d="M323.70 172.50v-2.0M323.70 7.60v2.0" stroke="#6a6a6a" stroke-width="0.8"/>
<text x="323.70" y="182.50" class="tk" text-anchor="middle">10</text>
<path d="M344.60 172.50v-2.0M344.60 7.60v2.0" stroke="#6a6a6a" stroke-width="0.8"/>
<text x="344.60" y="182.50" class="tk" text-anchor="middle">20</text>
<path d="M365.50 172.50v-2.0M365.50 7.60v2.0" stroke="#6a6a6a" stroke-width="0.8"/>
<text x="365.50" y="182.50" class="tk" text-anchor="middle">30</text>
<path d="M386.40 172.50v-2.0M386.40 7.60v2.0" stroke="#6a6a6a" stroke-width="0.8"/>
<text x="386.40" y="182.50" class="tk" text-anchor="middle">40</text>
<path d="M407.30 172.50v-2.0M407.30 7.60v2.0" stroke="#6a6a6a" stroke-width="0.8"/>
<text x="407.30" y="182.50" class="tk" text-anchor="middle">50</text>
<path d="M428.20 172.50v-2.0M428.20 7.60v2.0" stroke="#6a6a6a" stroke-width="0.8"/>
<text x="428.20" y="182.50" class="tk" text-anchor="middle">60</text>
<path d="M449.10 172.50v-2.0M449.10 7.60v2.0" stroke="#6a6a6a" stroke-width="0.8"/>
<text x="449.10" y="182.50" class="tk" text-anchor="middle">70</text>
<path d="M470.00 172.50v-2.0M470.00 7.60v2.0" stroke="#6a6a6a" stroke-width="0.8"/>
<text x="470.00" y="182.50" class="tk" text-anchor="middle">80</text>
<path d="M490.90 172.50v-2.0M490.90 7.60v2.0" stroke="#6a6a6a" stroke-width="0.8"/>
<text x="490.90" y="182.50" class="tk" text-anchor="middle">90</text>
<path d="M511.80 172.50v-2.0M511.80 7.60v2.0" stroke="#6a6a6a" stroke-width="0.8"/>
<text x="511.80" y="182.50" class="tk" text-anchor="middle">100</text>
<path d="M302.80 172.50h2.0M511.80 172.50h-2.0" stroke="#6a6a6a" stroke-width="0.8"/>
<text x="300.00" y="175.20" class="tk" text-anchor="end">-0.8</text>
<path d="M302.80 151.89h2.0M511.80 151.89h-2.0" stroke="#6a6a6a" stroke-width="0.8"/>
<text x="300.00" y="154.59" class="tk" text-anchor="end">-0.6</text>
<path d="M302.80 131.28h2.0M511.80 131.28h-2.0" stroke="#6a6a6a" stroke-width="0.8"/>
<text x="300.00" y="133.97" class="tk" text-anchor="end">-0.4</text>
<path d="M302.80 110.66h2.0M511.80 110.66h-2.0" stroke="#6a6a6a" stroke-width="0.8"/>
<text x="300.00" y="113.36" class="tk" text-anchor="end">-0.2</text>
<path d="M302.80 90.05h2.0M511.80 90.05h-2.0" stroke="#6a6a6a" stroke-width="0.8"/>
<text x="300.00" y="92.75" class="tk" text-anchor="end">0</text>
<path d="M302.80 69.44h2.0M511.80 69.44h-2.0" stroke="#6a6a6a" stroke-width="0.8"/>
<text x="300.00" y="72.14" class="tk" text-anchor="end">0.2</text>
<path d="M302.80 48.82h2.0M511.80 48.82h-2.0" stroke="#6a6a6a" stroke-width="0.8"/>
<text x="300.00" y="51.52" class="tk" text-anchor="end">0.4</text>
<path d="M302.80 28.21h2.0M511.80 28.21h-2.0" stroke="#6a6a6a" stroke-width="0.8"/>
<text x="300.00" y="30.91" class="tk" text-anchor="end">0.6</text>
<path d="M302.80 7.60h2.0M511.80 7.60h-2.0" stroke="#6a6a6a" stroke-width="0.8"/>
<text x="300.00" y="10.30" class="tk" text-anchor="end">0.8</text>
<polyline points="302.8,90.1 302.9,90.1 303.1,90.1 303.2,90.1 303.3,90.1 303.4,90.1 303.6,90.1 303.7,90.0 303.8,90.0 304.0,90.0 304.1,90.0 304.2,90.0 304.4,90.0 304.5,90.0 304.6,90.0 304.7,90.0 304.9,90.0 305.0,90.0 305.1,90.0 305.3,90.0 305.4,90.0 305.5,90.0 305.7,90.0 305.8,90.0 305.9,90.0 306.0,90.0 306.1,90.0 306.3,90.0 306.4,90.1 306.5,90.1 306.6,90.1 306.7,90.1 306.8,90.1 306.9,90.1 307.1,90.1 307.2,90.1 307.3,90.1 307.5,90.1 307.6,90.1 307.7,90.1 307.9,90.1 308.0,90.1 308.1,90.1 308.2,90.1 308.4,90.1 308.5,90.1 308.6,90.1 308.7,90.1 308.8,90.1 308.9,90.0 309.1,90.0 309.2,90.0 309.3,90.0 309.4,90.0 309.5,90.0 309.6,90.0 309.7,90.0 309.9,90.0 310.0,90.0 310.1,90.0 310.3,90.0 310.4,90.0 310.5,90.0 310.6,90.0 310.8,90.0 310.9,90.0 311.0,90.0 311.1,90.0 311.2,90.0 311.4,90.0 311.5,90.0 311.6,90.0 311.7,90.1 311.8,90.1 311.9,90.1 312.0,90.1 312.2,90.1 312.3,90.1 312.4,90.1 312.5,90.1 312.6,90.1 312.8,90.1 312.9,90.1 313.0,90.1 313.1,90.1 313.3,90.1 313.4,90.1 313.5,90.1 313.6,90.1 313.7,90.1 313.9,90.1 314.0,90.1 314.1,90.1 314.2,90.1 314.3,90.0 314.4,90.0 314.5,90.0 314.7,90.0 314.8,90.0 314.9,90.0 315.0,90.0 315.1,90.0 315.2,89.9 315.3,89.9 315.5,89.9 315.6,89.9 315.7,89.9 315.9,89.9 316.0,89.9 316.1,90.0 316.2,90.0 316.3,90.0 316.4,90.0 316.6,90.0 316.7,90.0 316.8,90.0 316.9,90.0 317.0,90.1 317.1,90.1 317.2,90.1 317.4,90.1 317.5,90.1 317.6,90.1 317.7,90.2 317.8,90.2 317.9,90.2 318.0,90.2 318.2,90.2 318.3,90.2 318.4,90.2 318.6,90.2 318.7,90.2 318.8,90.2 318.9,90.2 319.0,90.1 319.1,90.1 319.2,90.1 319.4,90.1 319.5,90.1 319.6,90.1 319.7,90.0 319.8,90.0 319.9,90.0 320.0,90.0 320.2,90.0 320.3,89.9 320.4,89.9 320.5,89.9 320.6,89.9 320.7,89.9 320.8,89.9 321.0,89.9 321.1,89.9 321.2,89.9 321.4,89.9 321.5,89.9 321.6,89.9 321.7,89.9 321.8,90.0 321.9,90.0 322.0,90.0 322.1,90.0 322.3,90.0 322.4,90.1 322.5,90.1 322.6,90.1 322.7,90.1 322.8,90.2 322.9,90.2 323.1,90.2 323.2,90.2 323.3,90.2 323.4,90.3 323.5,90.3 323.6,90.3 323.8,90.3 323.9,90.3 324.0,90.2 324.1,90.2 324.2,90.2 324.4,90.2 324.5,90.2 324.6,90.1 324.7,90.1 324.8,90.1 324.9,90.1 325.0,90.0 325.1,90.0 325.2,90.0 325.3,90.0 325.4,89.9 325.5,89.9 325.6,89.9 325.7,89.9 325.8,89.8 325.9,89.8 326.0,89.8 326.1,89.8 326.3,89.8 326.4,89.8 326.5,89.8 326.6,89.8 326.7,89.8 326.9,89.8 327.0,89.9 327.1,89.9 327.2,89.9 327.3,89.9 327.4,90.0 327.5,90.0 327.6,90.0 327.7,90.1 327.8,90.1 327.9,90.1 327.9,90.2 328.0,90.2 328.1,90.2 328.2,90.3 328.3,90.3 328.4,90.3 328.5,90.3 328.7,90.3 328.8,90.4 328.9,90.4 329.0,90.4 329.2,90.4 329.3,90.4 329.4,90.3 329.5,90.3 329.6,90.3 329.7,90.3 329.8,90.2 329.9,90.2 330.0,90.2 330.1,90.1 330.2,90.1 330.3,90.1 330.4,90.0 330.5,90.0 330.6,89.9 330.7,89.9 330.8,89.9 330.9,89.8 331.0,89.8 331.1,89.8 331.1,89.7 331.2,89.7 331.4,89.7 331.5,89.7 331.6,89.7 331.7,89.7 331.8,89.7 331.9,89.7 332.1,89.7 332.2,89.7 332.3,89.8 332.4,89.8 332.4,89.8 332.5,89.9 332.6,89.9 332.7,89.9 332.8,90.0 332.9,90.0 333.0,90.1 333.1,90.1 333.1,90.2 333.2,90.2 333.3,90.2 333.4,90.3 333.5,90.3 333.6,90.4 333.7,90.4 333.8,90.4 333.9,90.5 334.0,90.5 334.1,90.5 334.2,90.5 334.3,90.5 334.5,90.5 334.6,90.5 334.7,90.5 334.8,90.5 334.9,90.4 335.0,90.4 335.1,90.3 335.2,90.3 335.3,90.3 335.3,90.2 335.4,90.2 335.5,90.1 335.6,90.1 335.7,90.0 335.7,90.0 335.8,89.9 335.9,89.9 336.0,89.8 336.1,89.8 336.2,89.7 336.2,89.7 336.3,89.6 336.4,89.6 336.5,89.6 336.6,89.5 336.7,89.5 336.8,89.5 336.9,89.5 337.1,89.5 337.2,89.5 337.3,89.5 337.4,89.5 337.5,89.6 337.6,89.6 337.7,89.6 337.7,89.7 337.8,89.7 337.9,89.8 338.0,89.8 338.1,89.9 338.2,90.0 338.2,90.0 338.3,90.1 338.4,90.1 338.5,90.2 338.6,90.3 338.6,90.3 338.7,90.4 338.8,90.4 338.9,90.5 339.0,90.5 339.0,90.6 339.1,90.6 339.2,90.7 339.3,90.7 339.4,90.7 339.5,90.8 339.6,90.8 339.8,90.8 339.9,90.7 340.0,90.7 340.1,90.7 340.2,90.6 340.3,90.6 340.3,90.5 340.4,90.5 340.5,90.4 340.6,90.4 340.7,90.3 340.7,90.2 340.8,90.2 340.9,90.1 340.9,90.1 341.0,90.0 341.1,90.0 341.1,89.9 341.2,89.8 341.3,89.8 341.3,89.7 341.4,89.7 341.4,89.6 341.5,89.5 341.6,89.5 341.7,89.4 341.8,89.4 341.9,89.3 341.9,89.3 342.0,89.2 342.1,89.2 342.2,89.2 342.4,89.2 342.5,89.2 342.6,89.2 342.7,89.3 342.8,89.3 342.9,89.3 342.9,89.4 343.0,89.5 343.1,89.5 343.2,89.6 343.2,89.6 343.3,89.7 343.4,89.8 343.4,89.8 343.5,89.9 343.6,90.0 343.6,90.1 343.7,90.1 343.8,90.2 343.8,90.3 343.9,90.4 344.0,90.4 344.0,90.5 344.1,90.6 344.1,90.6 344.2,90.7 344.3,90.8 344.3,90.8 344.4,90.9 344.5,90.9 344.6,91.0 344.7,91.0 344.8,91.1 344.9,91.1 345.0,91.1 345.1,91.1 345.2,91.1 345.3,91.0 345.4,91.0 345.5,91.0 345.6,90.9 345.6,90.8 345.7,90.8 345.8,90.7 345.8,90.6 345.9,90.6 346.0,90.5 346.0,90.4 346.1,90.3 346.2,90.2 346.2,90.1 346.3,90.0 346.4,90.0 346.4,89.9 346.5,89.8 346.5,89.7 346.6,89.6 346.7,89.5 346.7,89.4 346.8,89.3 346.9,89.3 346.9,89.2 347.0,89.1 347.1,89.1 347.1,89.0 347.2,88.9 347.3,88.9 347.4,88.8 347.5,88.8 347.6,88.8 347.7,88.7 347.8,88.8 347.9,88.8 348.0,88.8 348.1,88.9 348.2,89.0 348.2,89.0 348.3,89.1 348.4,89.2 348.4,89.2 348.5,89.3 348.5,89.4 348.6,89.5 348.7,89.6 348.7,89.6 348.8,89.7 348.8,89.8 348.9,89.9 348.9,90.0 349.0,90.0 349.0,90.1 349.1,90.2 349.1,90.3 349.1,90.4 349.2,90.5 349.2,90.5 349.3,90.6 349.3,90.7 349.4,90.8 349.4,90.9 349.5,90.9 349.5,91.0 349.6,91.1 349.7,91.2 349.7,91.3 349.8,91.3 349.9,91.4 349.9,91.5 350.0,91.5 350.1,91.6 350.2,91.6 350.3,91.6 350.4,91.6 350.5,91.6 350.6,91.6 350.7,91.5 350.8,91.4 350.8,91.4 350.9,91.3 351.0,91.2 351.0,91.1 351.1,91.1 351.1,91.0 351.2,90.9 351.2,90.8 351.3,90.7 351.3,90.6 351.4,90.5 351.4,90.5 351.5,90.4 351.5,90.3 351.6,90.2 351.6,90.1 351.7,90.0 351.7,89.9 351.8,89.8 351.8,89.7 351.9,89.6 351.9,89.5 352.0,89.4 352.0,89.3 352.1,89.2 352.1,89.1 352.2,89.0 352.2,88.9 352.3,88.8 352.3,88.7 352.3,88.6 352.4,88.6 352.5,88.5 352.5,88.4 352.6,88.3 352.7,88.3 352.7,88.2 352.8,88.2 352.9,88.1 353.0,88.1 353.1,88.1 353.2,88.2 353.3,88.2 353.4,88.3 353.4,88.4 353.5,88.4 353.6,88.5 353.6,88.6 353.7,88.7 353.7,88.8 353.8,88.9 353.8,89.0 353.9,89.0 353.9,89.2 354.0,89.3 354.0,89.4 354.1,89.5 354.1,89.6 354.2,89.7 354.2,89.8 354.3,89.9 354.3,90.1 354.3,90.2 354.4,90.3 354.4,90.4 354.5,90.6 354.5,90.7 354.6,90.8 354.6,90.9 354.7,91.0 354.7,91.2 354.8,91.3 354.8,91.4 354.9,91.5 354.9,91.6 355.0,91.7 355.0,91.8 355.1,91.9 355.1,91.9 355.2,92.0 355.2,92.1 355.3,92.2 355.4,92.3 355.4,92.3 355.5,92.4 355.6,92.4 355.7,92.4 355.8,92.4 355.9,92.3 356.0,92.3 356.1,92.2 356.1,92.1 356.2,92.0 356.2,91.9 356.3,91.9 356.3,91.8 356.4,91.7 356.4,91.6 356.5,91.4 356.5,91.3 356.6,91.2 356.6,91.1 356.7,90.9 356.7,90.9 356.7,90.8 356.8,90.7 356.8,90.6 356.8,90.5 356.8,90.4 356.9,90.3 356.9,90.2 356.9,90.1 357.0,90.0 357.0,89.9 357.0,89.8 357.1,89.7 357.1,89.6 357.1,89.5 357.2,89.4 357.2,89.3 357.2,89.2 357.3,89.1 357.3,89.0 357.3,88.9 357.4,88.8 357.4,88.7 357.4,88.6 357.5,88.5 357.5,88.4 357.5,88.3 357.6,88.2 357.6,88.0 357.7,87.9 357.7,87.8 357.8,87.7 357.8,87.6 357.9,87.5 357.9,87.5 358.0,87.4 358.1,87.3 358.1,87.2 358.2,87.2 358.3,87.1 358.4,87.1 358.5,87.2 358.6,87.3 358.7,87.3 358.7,87.4 358.8,87.5 358.8,87.6 358.9,87.7 358.9,87.8 359.0,87.9 359.0,88.0 359.1,88.2 359.1,88.3 359.1,88.4 359.2,88.5 359.2,88.6 359.2,88.7 359.3,88.8 359.3,88.9 359.3,89.0 359.4,89.1 359.4,89.2 359.4,89.3 359.5,89.4 359.5,89.6 359.5,89.7 359.6,89.8 359.6,89.9 359.6,90.1 359.7,90.2 359.7,90.3 359.7,90.4 359.8,90.6 359.8,90.7 359.8,90.8 359.9,90.9 359.9,91.0 359.9,91.2 360.0,91.3 360.0,91.4 360.0,91.5 360.1,91.7 360.1,91.8 360.1,91.9 360.1,92.0 360.2,92.1 360.2,92.2 360.2,92.3 360.3,92.4 360.3,92.5 360.3,92.6 360.4,92.7 360.4,92.8 360.5,92.9 360.5,93.1 360.6,93.2 360.6,93.3 360.7,93.4 360.7,93.4 360.8,93.5 360.8,93.6 360.9,93.7 361.0,93.7 361.1,93.7 361.2,93.6 361.3,93.5 361.3,93.4 361.4,93.4 361.4,93.3 361.5,93.2 361.5,93.0 361.6,92.9 361.6,92.8 361.6,92.7 361.7,92.6 361.7,92.5 361.7,92.4 361.8,92.3 361.8,92.2 361.8,92.1 361.9,91.9 361.9,91.8 361.9,91.7 362.0,91.5 362.0,91.4 362.0,91.3 362.1,91.1 362.1,91.0 362.1,90.8 362.2,90.7 362.2,90.5 362.2,90.4 362.3,90.2 362.3,90.1 362.3,89.9 362.4,89.8 362.4,89.6 362.4,89.4 362.5,89.3 362.5,89.1 362.5,89.0 362.6,88.8 362.6,88.7 362.6,88.5 362.6,88.4 362.7,88.2 362.7,88.1 362.7,87.9 362.8,87.8 362.8,87.6 362.8,87.5 362.9,87.4 362.9,87.2 362.9,87.1 363.0,87.0 363.0,86.9 363.0,86.7 363.1,86.6 363.1,86.5 363.1,86.4 363.2,86.3 363.2,86.2 363.2,86.1 363.3,86.0 363.3,85.9 363.4,85.8 363.4,85.7 363.5,85.6 363.6,85.6 363.6,85.5 363.8,85.5 363.8,85.6 363.9,85.7 363.9,85.8 364.0,85.8 364.0,85.9 364.1,86.1 364.1,86.2 364.2,86.3 364.2,86.4 364.2,86.5 364.3,86.6 364.3,86.7 364.3,86.9 364.4,87.0 364.4,87.1 364.4,87.3 364.5,87.4 364.5,87.6 364.5,87.7 364.6,87.9 364.6,88.0 364.6,88.2 364.7,88.4 364.7,88.5 364.7,88.7 364.8,88.9 364.8,89.1 364.8,89.3 364.9,89.4 364.9,89.6 364.9,89.8 365.0,90.0 365.0,90.2 365.0,90.4 365.1,90.6 365.1,90.8 365.1,91.0 365.2,91.2 365.2,91.4 365.2,91.5 365.2,91.7 365.3,91.9 365.3,92.1 365.3,92.3 365.4,92.5 365.4,92.7 365.4,92.8 365.5,93.0 365.5,93.2 365.5,93.3 365.6,93.5 365.6,93.7 365.6,93.8 365.7,94.0 365.7,94.1 365.7,94.2 365.8,94.4 365.8,94.5 365.8,94.6 365.9,94.7 365.9,94.8 365.9,94.9 366.0,95.0 366.0,95.1 366.0,95.2 366.1,95.3 366.1,95.4 366.2,95.5 366.3,95.6 366.4,95.6 366.5,95.5 366.6,95.4 366.6,95.3 366.7,95.2 366.7,95.1 366.7,95.0 366.8,94.9 366.8,94.8 366.8,94.7 366.9,94.5 366.9,94.4 366.9,94.3 367.0,94.1 367.0,94.0 367.0,93.8 367.1,93.6 367.1,93.5 367.1,93.3 367.2,93.1 367.2,92.9 367.2,92.7 367.3,92.5 367.3,92.3 367.3,92.1 367.3,92.0 367.4,91.9 367.4,91.8 367.4,91.7 367.4,91.6 367.4,91.5 367.4,91.4 367.5,91.3 367.5,91.2 367.5,91.0 367.5,90.9 367.5,90.8 367.5,90.7 367.6,90.6 367.6,90.5 367.6,90.4 367.6,90.2 367.6,90.1 367.6,90.0 367.7,89.9 367.7,89.8 367.7,89.7 367.7,89.5 367.7,89.4 367.7,89.3 367.8,89.2 367.8,89.1 367.8,89.0 367.8,88.8 367.8,88.7 367.8,88.6 367.8,88.5 367.9,88.4 367.9,88.3 367.9,88.1 367.9,88.0 367.9,87.9 367.9,87.8 368.0,87.7 368.0,87.6 368.0,87.5 368.0,87.4 368.0,87.2 368.0,87.1 368.1,87.0 368.1,86.9 368.1,86.8 368.1,86.7 368.1,86.6 368.2,86.4 368.2,86.2 368.2,86.0 368.3,85.8 368.3,85.6 368.3,85.4 368.4,85.3 368.4,85.1 368.4,84.9 368.4,84.8 368.5,84.6 368.5,84.5 368.5,84.4 368.6,84.2 368.6,84.1 368.6,84.0 368.7,83.9 368.7,83.8 368.8,83.7 368.8,83.6 368.9,83.5 368.9,83.5 369.0,83.4 369.1,83.5 369.2,83.6 369.2,83.6 369.3,83.7 369.3,83.9 369.4,84.0 369.4,84.1 369.4,84.2 369.5,84.3 369.5,84.5 369.5,84.6 369.6,84.8 369.6,84.9 369.6,85.1 369.7,85.3 369.7,85.5 369.7,85.7 369.7,85.9 369.8,86.1 369.8,86.2 369.8,86.3 369.8,86.4 369.8,86.5 369.9,86.6 369.9,86.7 369.9,86.8 369.9,87.0 369.9,87.1 369.9,87.2 370.0,87.3 370.0,87.4 370.0,87.6 370.0,87.7 370.0,87.8 370.0,87.9 370.1,88.1 370.1,88.2 370.1,88.3 370.1,88.5 370.1,88.6 370.1,88.7 370.2,88.8 370.2,89.0 370.2,89.1 370.2,89.3 370.2,89.4 370.2,89.5 370.3,89.7 370.3,89.8 370.3,89.9 370.3,90.1 370.3,90.2 370.3,90.3 370.3,90.5 370.4,90.6 370.4,90.8 370.4,90.9 370.4,91.0 370.4,91.2 370.4,91.3 370.5,91.4 370.5,91.6 370.5,91.7 370.5,91.9 370.5,92.0 370.5,92.1 370.6,92.3 370.6,92.4 370.6,92.5 370.6,92.7 370.6,92.8 370.6,92.9 370.7,93.1 370.7,93.2 370.7,93.3 370.7,93.4 370.7,93.6 370.7,93.7 370.8,93.8 370.8,93.9 370.8,94.1 370.8,94.2 370.8,94.3 370.8,94.4 370.9,94.5 370.9,94.7 370.9,94.8 370.9,94.9 370.9,95.0 370.9,95.1 371.0,95.2 371.0,95.3 371.0,95.4 371.0,95.6 371.0,95.8 371.1,96.0 371.1,96.2 371.1,96.4 371.2,96.5 371.2,96.7 371.2,96.8 371.3,97.0 371.3,97.1 371.3,97.2 371.4,97.3 371.4,97.4 371.5,97.6 371.5,97.7 371.6,97.7 371.6,97.8 371.7,97.8 371.8,97.8 371.8,97.7 371.9,97.6 371.9,97.5 372.0,97.4 372.0,97.2 372.0,97.1 372.1,97.0 372.1,96.9 372.1,96.7 372.2,96.5 372.2,96.4 372.2,96.2 372.3,96.0 372.3,95.8 372.3,95.7 372.3,95.6 372.3,95.5 372.4,95.4 372.4,95.3 372.4,95.1 372.4,95.0 372.4,94.9 372.4,94.8 372.5,94.7 372.5,94.5 372.5,94.4 372.5,94.3 372.5,94.1 372.5,94.0 372.6,93.9 372.6,93.7 372.6,93.6 372.6,93.5 372.6,93.3 372.6,93.2 372.7,93.0 372.7,92.9 372.7,92.7 372.7,92.6 372.7,92.4 372.7,92.3 372.8,92.1 372.8,92.0 372.8,91.8 372.8,91.7 372.8,91.5 372.8,91.4 372.9,91.2 372.9,91.0 372.9,90.9 372.9,90.7 372.9,90.6 372.9,90.4 372.9,90.2 373.0,90.1 373.0,89.9 373.0,89.7 373.0,89.6 373.0,89.4 373.0,89.2 373.1,89.1 373.1,88.9 373.1,88.8 373.1,88.6 373.1,88.4 373.1,88.3 373.2,88.1 373.2,87.9 373.2,87.8 373.2,87.6 373.2,87.4 373.2,87.3 373.3,87.1 373.3,87.0 373.3,86.8 373.3,86.6 373.3,86.5 373.3,86.3 373.4,86.2 373.4,86.0 373.4,85.9 373.4,85.7 373.4,85.6 373.4,85.4 373.5,85.3 373.5,85.1 373.5,85.0 373.5,84.8 373.5,84.7 373.5,84.5 373.6,84.4 373.6,84.3 373.6,84.1 373.6,84.0 373.6,83.9 373.6,83.7 373.6,83.6 373.7,83.5 373.7,83.4 373.7,83.2 373.7,83.1 373.7,83.0 373.7,82.9 373.8,82.8 373.8,82.7 373.8,82.5 373.8,82.4 373.8,82.2 373.9,82.0 373.9,81.9 373.9,81.7 374.0,81.5 374.0,81.4 374.0,81.2 374.1,81.1 374.1,81.0 374.1,80.9 374.2,80.8 374.2,80.7 374.3,80.6 374.4,80.6 374.5,80.7 374.5,80.8 374.6,80.9 374.6,81.0 374.6,81.1 374.7,81.2 374.7,81.3 374.7,81.5 374.8,81.7 374.8,81.8 374.8,82.0 374.9,82.2 374.9,82.4 374.9,82.5 374.9,82.6 374.9,82.7 374.9,82.8 375.0,82.9 375.0,83.1 375.0,83.2 375.0,83.3 375.0,83.5 375.0,83.6 375.1,83.7 375.1,83.9 375.1,84.0 375.1,84.2 375.1,84.3 375.1,84.5 375.2,84.6 375.2,84.8 375.2,85.0 375.2,85.1 375.2,85.3 375.2,85.4 375.3,85.6 375.3,85.8 375.3,86.0 375.3,86.1 375.3,86.3 375.3,86.5 375.4,86.7 375.4,86.9 375.4,87.0 375.4,87.2 375.4,87.4 375.4,87.6 375.5,87.8 375.5,88.0 375.5,88.2 375.5,88.4 375.5,88.6 375.5,88.8 375.5,89.0 375.6,89.2 375.6,89.4 375.6,89.6 375.6,89.8 375.6,90.0 375.6,90.2 375.7,90.4 375.7,90.6 375.7,90.8 375.7,91.0 375.7,91.2 375.7,91.4 375.8,91.6 375.8,91.8 375.8,92.0 375.8,92.2 375.8,92.4 375.8,92.7 375.9,92.9 375.9,93.1 375.9,93.3 375.9,93.5 375.9,93.7 375.9,93.9 376.0,94.1 376.0,94.3 376.0,94.5 376.0,94.7 376.0,94.9 376.0,95.1 376.1,95.3 376.1,95.4 376.1,95.6 376.1,95.8 376.1,96.0 376.1,96.2 376.1,96.4 376.2,96.6 376.2,96.8 376.2,96.9 376.2,97.1 376.2,97.3 376.2,97.5 376.3,97.6 376.3,97.8 376.3,98.0 376.3,98.1 376.3,98.3 376.3,98.4 376.4,98.6 376.4,98.8 376.4,98.9 376.4,99.1 376.4,99.2 376.4,99.3 376.5,99.5 376.5,99.6 376.5,99.7 376.5,99.9 376.5,100.0 376.5,100.1 376.6,100.2 376.6,100.4 376.6,100.5 376.6,100.6 376.6,100.7 376.7,100.9 376.7,101.1 376.7,101.2 376.8,101.4 376.8,101.5 376.8,101.6 376.8,101.7 376.9,101.9 376.9,102.0 377.0,102.0 377.1,102.0 377.2,101.9 377.2,101.7 377.2,101.6 377.3,101.5 377.3,101.4 377.3,101.2 377.4,101.0 377.4,100.8 377.4,100.6 377.4,100.5 377.5,100.4 377.5,100.3 377.5,100.2 377.5,100.0 377.5,99.9 377.5,99.8 377.6,99.6 377.6,99.5 377.6,99.3 377.6,99.2 377.6,99.0 377.6,98.9 377.7,98.7 377.7,98.5 377.7,98.4 377.7,98.2 377.7,98.0 377.7,97.8 377.8,97.7 377.8,97.5 377.8,97.3 377.8,97.1 377.8,96.9 377.8,96.7 377.9,96.5 377.9,96.3 377.9,96.1 377.9,95.9 377.9,95.7 377.9,95.4 378.0,95.2 378.0,95.0 378.0,94.8 378.0,94.5 378.0,94.3 378.0,94.1 378.1,93.9 378.1,93.6 378.1,93.4 378.1,93.2 378.1,92.9 378.1,92.7 378.1,92.4 378.2,92.2 378.2,91.9 378.2,91.7 378.2,91.4 378.2,91.2 378.2,90.9 378.3,90.7 378.3,90.4 378.3,90.2 378.3,89.9 378.3,89.7 378.3,89.4 378.4,89.2 378.4,88.9 378.4,88.7 378.4,88.4 378.4,88.1 378.4,87.9 378.5,87.6 378.5,87.4 378.5,87.1 378.5,86.9 378.5,86.6 378.5,86.4 378.6,86.1 378.6,85.9 378.6,85.6 378.6,85.4 378.6,85.1 378.6,84.9 378.7,84.6 378.7,84.4 378.7,84.1 378.7,83.9 378.7,83.6 378.7,83.4 378.7,83.2 378.8,82.9 378.8,82.7 378.8,82.5 378.8,82.3 378.8,82.0 378.8,81.8 378.9,81.6 378.9,81.4 378.9,81.1 378.9,80.9 378.9,80.7 378.9,80.5 379.0,80.3 379.0,80.1 379.0,79.9 379.0,79.7 379.0,79.5 379.0,79.3 379.1,79.2 379.1,79.0 379.1,78.8 379.1,78.6 379.1,78.5 379.1,78.3 379.2,78.1 379.2,78.0 379.2,77.8 379.2,77.7 379.2,77.5 379.2,77.4 379.3,77.2 379.3,77.1 379.3,77.0 379.3,76.9 379.3,76.7 379.3,76.6 379.3,76.5 379.4,76.4 379.4,76.2 379.4,76.0 379.5,75.9 379.5,75.8 379.5,75.6 379.6,75.5 379.6,75.4 379.7,75.4 379.8,75.4 379.8,75.5 379.8,75.6 379.9,75.7 379.9,75.8 379.9,76.0 380.0,76.2 380.0,76.4 380.0,76.5 380.0,76.6 380.0,76.7 380.1,76.8 380.1,77.0 380.1,77.1 380.1,77.2 380.1,77.4 380.1,77.5 380.2,77.7 380.2,77.8 380.2,78.0 380.2,78.2 380.2,78.3 380.2,78.5 380.3,78.7 380.3,78.9 380.3,79.1 380.3,79.2 380.3,79.4 380.3,79.7 380.4,79.9 380.4,80.1 380.4,80.3 380.4,80.5 380.4,80.7 380.4,81.0 380.5,81.2 380.5,81.4 380.5,81.7 380.5,81.9 380.5,82.2 380.5,82.4 380.6,82.7 380.6,82.9 380.6,83.2 380.6,83.4 380.6,83.7 380.6,84.0 380.6,84.2 380.7,84.5 380.7,84.8 380.7,85.1 380.7,85.4 380.7,85.6 380.7,85.9 380.8,86.2 380.8,86.5 380.8,86.8 380.8,87.1 380.8,87.4 380.8,87.7 380.9,88.0 380.9,88.3 380.9,88.6 380.9,88.9 380.9,89.2 380.9,89.5 381.0,89.8 381.0,90.1 381.0,90.4 381.0,90.7 381.0,91.0 381.0,91.4 381.1,91.7 381.1,92.0 381.1,92.3 381.1,92.6 381.1,92.9 381.1,93.2 381.2,93.5 381.2,93.8 381.2,94.1 381.2,94.4 381.2,94.8 381.2,95.1 381.3,95.4 381.3,95.7 381.3,96.0 381.3,96.3 381.3,96.6 381.3,96.9 381.3,97.2 381.4,97.4 381.4,97.7 381.4,98.0 381.4,98.3 381.4,98.6 381.4,98.9 381.5,99.1 381.5,99.4 381.5,99.7 381.5,100.0 381.5,100.2 381.5,100.5 381.6,100.8 381.6,101.0 381.6,101.3 381.6,101.5 381.6,101.8 381.6,102.0 381.7,102.2 381.7,102.5 381.7,102.7 381.7,102.9 381.7,103.2 381.7,103.4 381.8,103.6 381.8,103.8 381.8,104.0 381.8,104.2 381.8,104.4 381.8,104.6 381.9,104.8 381.9,104.9 381.9,105.1 381.9,105.3 381.9,105.5 381.9,105.6 381.9,105.8 382.0,105.9 382.0,106.1 382.0,106.2 382.0,106.3 382.0,106.5 382.0,106.6 382.1,106.7 382.1,106.8 382.1,107.0 382.1,107.2 382.2,107.3 382.2,107.4 382.2,107.5 382.3,107.7 382.4,107.7 382.4,107.6 382.5,107.5 382.5,107.4 382.6,107.2 382.6,107.0 382.6,106.8 382.6,106.7 382.6,106.6 382.7,106.5 382.7,106.4 382.7,106.2 382.7,106.1 382.7,106.0 382.7,105.8 382.8,105.6 382.8,105.5 382.8,105.3 382.8,105.1 382.8,105.0 382.8,104.8 382.9,104.6 382.9,104.4 382.9,104.2 382.9,104.0 382.9,103.7 382.9,103.5 383.0,103.3 383.0,103.1 383.0,102.8 383.0,102.6 383.0,102.3 383.0,102.1 383.1,101.8 383.1,101.5 383.1,101.3 383.1,101.0 383.1,100.7 383.1,100.4 383.2,100.2 383.2,99.9 383.2,99.6 383.2,99.3 383.2,99.0 383.2,98.7 383.2,98.4 383.3,98.0 383.3,97.7 383.3,97.4 383.3,97.1 383.3,96.7 383.3,96.4 383.4,96.1 383.4,95.7 383.4,95.4 383.4,95.1 383.4,94.7 383.4,94.4 383.5,94.0 383.5,93.7 383.5,93.3 383.5,92.9 383.5,92.6 383.5,92.2 383.6,91.9 383.6,91.5 383.6,91.1 383.6,90.8 383.6,90.4 383.6,90.0 383.7,89.7 383.7,89.3 383.7,88.9 383.7,88.6 383.7,88.2 383.7,87.8 383.8,87.5 383.8,87.1 383.8,86.7 383.8,86.4 383.8,86.0 383.8,85.6 383.9,85.2 383.9,84.9 383.9,84.5 383.9,84.2 383.9,83.8 383.9,83.4 383.9,83.1 384.0,82.7 384.0,82.4 384.0,82.0 384.0,81.7 384.0,81.3 384.0,81.0 384.1,80.6 384.1,80.3 384.1,79.9 384.1,79.6 384.1,79.3 384.1,78.9 384.2,78.6 384.2,78.3 384.2,78.0 384.2,77.7 384.2,77.4 384.2,77.1 384.3,76.8 384.3,76.5 384.3,76.2 384.3,75.9 384.3,75.6 384.3,75.3 384.4,75.0 384.4,74.8 384.4,74.5 384.4,74.2 384.4,74.0 384.4,73.7 384.5,73.5 384.5,73.3 384.5,73.0 384.5,72.8 384.5,72.6 384.5,72.4 384.5,72.1 384.6,71.9 384.6,71.7 384.6,71.6 384.6,71.4 384.6,71.2 384.6,71.0 384.7,70.9 384.7,70.7 384.7,70.6 384.7,70.4 384.7,70.3 384.7,70.1 384.8,70.0 384.8,69.9 384.8,69.8 384.8,69.6 384.9,69.4 384.9,69.3 384.9,69.2 385.0,69.1 385.1,69.1 385.1,69.2 385.2,69.3 385.2,69.5 385.2,69.7 385.3,69.9 385.3,70.0 385.3,70.1 385.3,70.3 385.3,70.4 385.3,70.6 385.4,70.7 385.4,70.9 385.4,71.1 385.4,71.2 385.4,71.4 385.4,71.6 385.5,71.8 385.5,72.0 385.5,72.2 385.5,72.5 385.5,72.7 385.5,72.9 385.6,73.2 385.6,73.4 385.6,73.7 385.6,73.9 385.6,74.2 385.6,74.5 385.7,74.8 385.7,75.0 385.7,75.3 385.7,75.6 385.7,75.9 385.7,76.3 385.8,76.6 385.8,76.9 385.8,77.2 385.8,77.6 385.8,77.9 385.8,78.2 385.8,78.6 385.9,79.0 385.9,79.3 385.9,79.7 385.9,80.0 385.9,80.4 385.9,80.8 386.0,81.2 386.0,81.6 386.0,82.0 386.0,82.4 386.0,82.8 386.0,83.2 386.1,83.6 386.1,84.0 386.1,84.4 386.1,84.8 386.1,85.2 386.1,85.6 386.2,86.1 386.2,86.5 386.2,86.9 386.2,87.3 386.2,87.8 386.2,88.2 386.3,88.6 386.3,89.1 386.3,89.5 386.3,90.0 386.3,90.4 386.3,90.8 386.4,91.3 386.4,91.7 386.4,92.2 386.4,92.6 386.4,93.1 386.4,93.5 386.4,93.9 386.5,94.4 386.5,94.8 386.5,95.3 386.5,95.7 386.5,96.2 386.5,96.6 386.6,97.0 386.6,97.5 386.6,97.9 386.6,98.3 386.6,98.8 386.6,99.2 386.7,99.6 386.7,100.0 386.7,100.5 386.7,100.9 386.7,101.3 386.7,101.7 386.8,102.1 386.8,102.5 386.8,102.9 386.8,103.3 386.8,103.7 386.8,104.1 386.9,104.5 386.9,104.9 386.9,105.2 386.9,105.6 386.9,106.0 386.9,106.3 387.0,106.7 387.0,107.0 387.0,107.4 387.0,107.7 387.0,108.0 387.0,108.4 387.1,108.7 387.1,109.0 387.1,109.3 387.1,109.6 387.1,109.9 387.1,110.2 387.1,110.5 387.2,110.8 387.2,111.0 387.2,111.3 387.2,111.5 387.2,111.8 387.2,112.0 387.3,112.3 387.3,112.5 387.3,112.7 387.3,112.9 387.3,113.1 387.3,113.3 387.4,113.5 387.4,113.7 387.4,113.8 387.4,114.0 387.4,114.1 387.4,114.3 387.5,114.4 387.5,114.5 387.5,114.6 387.5,114.7 387.5,114.9 387.6,115.1 387.6,115.2 387.7,115.3 387.7,115.2 387.8,115.2 387.8,115.0 387.8,114.9 387.9,114.7 387.9,114.5 387.9,114.4 387.9,114.3 387.9,114.1 388.0,114.0 388.0,113.8 388.0,113.7 388.0,113.5 388.0,113.3 388.0,113.1 388.1,112.9 388.1,112.7 388.1,112.4 388.1,112.2 388.1,112.0 388.1,111.7 388.2,111.5 388.2,111.2 388.2,110.9 388.2,110.6 388.2,110.3 388.2,110.0 388.3,109.7 388.3,109.4 388.3,109.1 388.3,108.8 388.3,108.4 388.3,108.1 388.4,107.7 388.4,107.4 388.4,107.0 388.4,106.6 388.4,106.2 388.4,105.9 388.4,105.5 388.5,105.1 388.5,104.7 388.5,104.2 388.5,103.8 388.5,103.4 388.5,103.0 388.6,102.5 388.6,102.1 388.6,101.6 388.6,101.2 388.6,100.7 388.6,100.3 388.7,99.8 388.7,99.3 388.7,98.9 388.7,98.4 388.7,97.9 388.7,97.4 388.8,96.9 388.8,96.4 388.8,95.9 388.8,95.4 388.8,94.9 388.8,94.4 388.9,93.9 388.9,93.4 388.9,92.9 388.9,92.4 388.9,91.8 388.9,91.3 389.0,90.8 389.0,90.3 389.0,89.7 389.0,89.2 389.0,88.7 389.0,88.2 389.0,87.6 389.1,87.1 389.1,86.6 389.1,86.1 389.1,85.5 389.1,85.0 389.1,84.5 389.2,84.0 389.2,83.5 389.2,82.9 389.2,82.4 389.2,81.9 389.2,81.4 389.3,80.9 389.3,80.4 389.3,79.9 389.3,79.4 389.3,78.9 389.3,78.4 389.4,77.9 389.4,77.4 389.4,76.9 389.4,76.4 389.4,75.9 389.4,75.5 389.5,75.0 389.5,74.5 389.5,74.1 389.5,73.6 389.5,73.1 389.5,72.7 389.6,72.3 389.6,71.8 389.6,71.4 389.6,71.0 389.6,70.6 389.6,70.2 389.6,69.8 389.7,69.4 389.7,69.0 389.7,68.6 389.7,68.2 389.7,67.8 389.7,67.5 389.8,67.1 389.8,66.8 389.8,66.5 389.8,66.1 389.8,65.8 389.8,65.5 389.9,65.2 389.9,64.9 389.9,64.6 389.9,64.3 389.9,64.1 389.9,63.8 390.0,63.6 390.0,63.3 390.0,63.1 390.0,62.9 390.0,62.6 390.0,62.4 390.1,62.3 390.1,62.1 390.1,61.9 390.1,61.7 390.1,61.6 390.1,61.4 390.2,61.3 390.2,61.2 390.2,61.1 390.2,60.9 390.3,60.7 390.3,60.6 390.3,60.5 390.4,60.6 390.4,60.7 390.5,60.9 390.5,61.1 390.5,61.2 390.5,61.3 390.6,61.5 390.6,61.6 390.6,61.8 390.6,61.9 390.6,62.1 390.6,62.3 390.7,62.5 390.7,62.7 390.7,62.9 390.7,63.2 390.7,63.4 390.7,63.7 390.8,63.9 390.8,64.2 390.8,64.5 390.8,64.8 390.8,65.1 390.8,65.4 390.9,65.7 390.9,66.0 390.9,66.4 390.9,66.7 390.9,67.1 390.9,67.5 390.9,67.8 391.0,68.2 391.0,68.6 391.0,69.0 391.0,69.4 391.0,69.8 391.0,70.3 391.1,70.7 391.1,71.1 391.1,71.6 391.1,72.1 391.1,72.5 391.1,73.0 391.2,73.5 391.2,74.0 391.2,74.5 391.2,75.0 391.2,75.5 391.2,76.0 391.3,76.5 391.3,77.0 391.3,77.6 391.3,78.1 391.3,78.6 391.3,79.2 391.4,79.7 391.4,80.3 391.4,80.8 391.4,81.4 391.4,82.0 391.4,82.6 391.5,83.1 391.5,83.7 391.5,84.3 391.5,84.9 391.5,85.5 391.5,86.1 391.6,86.7 391.6,87.3 391.6,87.9 391.6,88.5 391.6,89.1 391.6,89.7 391.6,90.3 391.7,90.9 391.7,91.5 391.7,92.1 391.7,92.7 391.7,93.3 391.7,93.9 391.8,94.5 391.8,95.1 391.8,95.7 391.8,96.3 391.8,96.9 391.8,97.5 391.9,98.1 391.9,98.7 391.9,99.3 391.9,99.9 391.9,100.5 391.9,101.1 392.0,101.7 392.0,102.3 392.0,102.8 392.0,103.4 392.0,104.0 392.0,104.6 392.1,105.1 392.1,105.7 392.1,106.2 392.1,106.8 392.1,107.3 392.1,107.8 392.2,108.4 392.2,108.9 392.2,109.4 392.2,109.9 392.2,110.4 392.2,110.9 392.2,111.4 392.3,111.9 392.3,112.4 392.3,112.9 392.3,113.3 392.3,113.8 392.3,114.2 392.4,114.7 392.4,115.1 392.4,115.5 392.4,115.9 392.4,116.3 392.4,116.7 392.5,117.1 392.5,117.5 392.5,117.9 392.5,118.2 392.5,118.6 392.5,118.9 392.6,119.2 392.6,119.6 392.6,119.9 392.6,120.2 392.6,120.5 392.6,120.7 392.7,121.0 392.7,121.2 392.7,121.5 392.7,121.7 392.7,121.9 392.7,122.2 392.8,122.4 392.8,122.5 392.8,122.7 392.8,122.9 392.8,123.0 392.8,123.2 392.9,123.3 392.9,123.4 392.9,123.6 392.9,123.8 393.0,123.9 393.1,123.8 393.1,123.7 393.1,123.5 393.2,123.4 393.2,123.3 393.2,123.1 393.2,123.0 393.2,122.8 393.2,122.7 393.3,122.5 393.3,122.3 393.3,122.1 393.3,121.9 393.3,121.6 393.3,121.4 393.4,121.2 393.4,120.9 393.4,120.6 393.4,120.3 393.4,120.0 393.4,119.7 393.5,119.4 393.5,119.1 393.5,118.7 393.5,118.4 393.5,118.0 393.5,117.6 393.5,117.2 393.6,116.8 393.6,116.4 393.6,116.0 393.6,115.6 393.6,115.1 393.6,114.7 393.7,114.2 393.7,113.7 393.7,113.3 393.7,112.8 393.7,112.3 393.7,111.8 393.8,111.3 393.8,110.7 393.8,110.2 393.8,109.7 393.8,109.1 393.8,108.6 393.9,108.0 393.9,107.4 393.9,106.8 393.9,106.3 393.9,105.7 393.9,105.1 394.0,104.5 394.0,103.8 394.0,103.2 394.0,102.6 394.0,102.0 394.0,101.3 394.1,100.7 394.1,100.1 394.1,99.4 394.1,98.8 394.1,98.1 394.1,97.4 394.1,96.8 394.2,96.1 394.2,95.4 394.2,94.7 394.2,94.1 394.2,93.4 394.2,92.7 394.3,92.0 394.3,91.3 394.3,90.6 394.3,90.0 394.3,89.3 394.3,88.6 394.4,87.9 394.4,87.2 394.4,86.5 394.4,85.8 394.4,85.1 394.4,84.4 394.5,83.7 394.5,83.0 394.5,82.4 394.5,81.7 394.5,81.0 394.5,80.3 394.6,79.6 394.6,79.0 394.6,78.3 394.6,77.6 394.6,77.0 394.6,76.3 394.7,75.6 394.7,75.0 394.7,74.3 394.7,73.7 394.7,73.1 394.7,72.4 394.8,71.8 394.8,71.2 394.8,70.6 394.8,69.9 394.8,69.3 394.8,68.7 394.8,68.2 394.9,67.6 394.9,67.0 394.9,66.4 394.9,65.9 394.9,65.3 394.9,64.8 395.0,64.2 395.0,63.7 395.0,63.2 395.0,62.7 395.0,62.2 395.0,61.7 395.1,61.2 395.1,60.7 395.1,60.3 395.1,59.8 395.1,59.4 395.1,59.0 395.2,58.5 395.2,58.1 395.2,57.7 395.2,57.4 395.2,57.0 395.2,56.6 395.3,56.3 395.3,55.9 395.3,55.6 395.3,55.3 395.3,55.0 395.3,54.7 395.4,54.4 395.4,54.2 395.4,53.9 395.4,53.7 395.4,53.5 395.4,53.2 395.4,53.0 395.5,52.9 395.5,52.7 395.5,52.5 395.5,52.4 395.5,52.3 395.5,52.1 395.6,52.0 395.6,51.9 395.6,51.8 395.7,51.8 395.8,52.0 395.8,52.2 395.8,52.3 395.8,52.4 395.9,52.6 395.9,52.7 395.9,52.9 395.9,53.1 395.9,53.3 395.9,53.5 396.0,53.7 396.0,54.0 396.0,54.2 396.0,54.5 396.0,54.8 396.0,55.1 396.1,55.4 396.1,55.7 396.1,56.1 396.1,56.4 396.1,56.8 396.1,57.2 396.1,57.6 396.2,58.0 396.2,58.4 396.2,58.8 396.2,59.2 396.2,59.7 396.2,60.2 396.3,60.6 396.3,61.1 396.3,61.6 396.3,62.1 396.3,62.6 396.3,63.2 396.4,63.7 396.4,64.3 396.4,64.8 396.4,65.4 396.4,66.0 396.4,66.6 396.5,67.2 396.5,67.8 396.5,68.4 396.5,69.0 396.5,69.7 396.5,70.3 396.6,71.0 396.6,71.6 396.6,72.3 396.6,73.0 396.6,73.6 396.6,74.3 396.7,75.0 396.7,75.7 396.7,76.4 396.7,77.2 396.7,77.9 396.7,78.6 396.7,79.3 396.8,80.1 396.8,80.8 396.8,81.6 396.8,82.3 396.8,83.1 396.8,83.8 396.9,84.6 396.9,85.4 396.9,86.1 396.9,86.9 396.9,87.7 396.9,88.4 397.0,89.2 397.0,90.0 397.0,90.8 397.0,91.5 397.0,92.3 397.0,93.1 397.1,93.9 397.1,94.7 397.1,95.4 397.1,96.2 397.1,97.0 397.1,97.8 397.2,98.5 397.2,99.3 397.2,100.1 397.2,100.8 397.2,101.6 397.2,102.4 397.3,103.1 397.3,103.9 397.3,104.6 397.3,105.4 397.3,106.1 397.3,106.8 397.4,107.6 397.4,108.3 397.4,109.0 397.4,109.7 397.4,110.4 397.4,111.1 397.4,111.8 397.5,112.5 397.5,113.2 397.5,113.9 397.5,114.5 397.5,115.2 397.5,115.8 397.6,116.5 397.6,117.1 397.6,117.7 397.6,118.3 397.6,118.9 397.6,119.5 397.7,120.1 397.7,120.7 397.7,121.2 397.7,121.8 397.7,122.3 397.7,122.8 397.8,123.4 397.8,123.9 397.8,124.4 397.8,124.8 397.8,125.3 397.8,125.8 397.9,126.2 397.9,126.6 397.9,127.0 397.9,127.5 397.9,127.8 397.9,128.2 398.0,128.6 398.0,128.9 398.0,129.3 398.0,129.6 398.0,129.9 398.0,130.2 398.0,130.5 398.1,130.7 398.1,131.0 398.1,131.2 398.1,131.5 398.1,131.7 398.1,131.9 398.2,132.0 398.2,132.2 398.2,132.3 398.2,132.5 398.2,132.6 398.3,132.8 398.3,132.9 398.4,132.8 398.4,132.6 398.5,132.5 398.5,132.4 398.5,132.3 398.5,132.1 398.5,132.0 398.5,131.8 398.6,131.6 398.6,131.4 398.6,131.1 398.6,130.9 398.6,130.6 398.6,130.3 398.6,130.0 398.7,129.7 398.7,129.4 398.7,129.1 398.7,128.7 398.7,128.4 398.7,128.0 398.8,127.6 398.8,127.2 398.8,126.8 398.8,126.3 398.8,125.9 398.8,125.4 398.9,124.9 398.9,124.4 398.9,123.9 398.9,123.4 398.9,122.9 398.9,122.3 399.0,121.8 399.0,121.2 399.0,120.6 399.0,120.0 399.0,119.4 399.0,118.8 399.1,118.2 399.1,117.6 399.1,116.9 399.1,116.3 399.1,115.6 399.1,114.9 399.2,114.2 399.2,113.5 399.2,112.8 399.2,112.1 399.2,111.4 399.2,110.6 399.3,109.9 399.3,109.1 399.3,108.4 399.3,107.6 399.3,106.8 399.3,106.1 399.3,105.3 399.4,104.5 399.4,103.7 399.4,102.9 399.4,102.1 399.4,101.3 399.4,100.4 399.5,99.6 399.5,98.8 399.5,97.9 399.5,97.1 399.5,96.3 399.5,95.4 399.6,94.6 399.6,93.7 399.6,92.9 399.6,92.0 399.6,91.2 399.6,90.3 399.7,89.5 399.7,88.6 399.7,87.7 399.7,86.9 399.7,86.0 399.7,85.2 399.8,84.3 399.8,83.5 399.8,82.6 399.8,81.7 399.8,80.9 399.8,80.1 399.9,79.2 399.9,78.4 399.9,77.5 399.9,76.7 399.9,75.9 399.9,75.0 399.9,74.2 400.0,73.4 400.0,72.6 400.0,71.8 400.0,71.0 400.0,70.2 400.0,69.4 400.1,68.6 400.1,67.9 400.1,67.1 400.1,66.3 400.1,65.6 400.1,64.8 400.2,64.1 400.2,63.4 400.2,62.7 400.2,62.0 400.2,61.3 400.2,60.6 400.3,59.9 400.3,59.2 400.3,58.6 400.3,57.9 400.3,57.3 400.3,56.7 400.4,56.1 400.4,55.5 400.4,54.9 400.4,54.3 400.4,53.7 400.4,53.2 400.5,52.7 400.5,52.1 400.5,51.6 400.5,51.1 400.5,50.7 400.5,50.2 400.6,49.7 400.6,49.3 400.6,48.9 400.6,48.5 400.6,48.1 400.6,47.7 400.6,47.3 400.7,47.0 400.7,46.6 400.7,46.3 400.7,46.0 400.7,45.7 400.7,45.4 400.8,45.2 400.8,44.9 400.8,44.7 400.8,44.5 400.8,44.3 400.8,44.1 400.9,44.0 400.9,43.8 400.9,43.7 400.9,43.6 400.9,43.5 401.0,43.4 401.1,43.4 401.1,43.6 401.1,43.8 401.1,43.9 401.2,44.0 401.2,44.2 401.2,44.4 401.2,44.6 401.2,44.8 401.2,45.0 401.2,45.3 401.3,45.6 401.3,45.8 401.3,46.1 401.3,46.4 401.3,46.8 401.3,47.1 401.4,47.5 401.4,47.9 401.4,48.3 401.4,48.7 401.4,49.1 401.4,49.5 401.5,50.0 401.5,50.5 401.5,51.0 401.5,51.5 401.5,52.0 401.5,52.5 401.6,53.1 401.6,53.6 401.6,54.2 401.6,54.8 401.6,55.4 401.6,56.0 401.7,56.6 401.7,57.3 401.7,57.9 401.7,58.6 401.7,59.2 401.7,59.9 401.8,60.6 401.8,61.4 401.8,62.1 401.8,62.8 401.8,63.6 401.8,64.3 401.9,65.1 401.9,65.9 401.9,66.6 401.9,67.4 401.9,68.2 401.9,69.1 401.9,69.9 402.0,70.7 402.0,71.6 402.0,72.4 402.0,73.3 402.0,74.1 402.0,75.0 402.1,75.9 402.1,76.7 402.1,77.6 402.1,78.5 402.1,79.4 402.1,80.3 402.2,81.2 402.2,82.1 402.2,83.1 402.2,84.0 402.2,84.9 402.2,85.8 402.3,86.8 402.3,87.7 402.3,88.6 402.3,89.6 402.3,90.5 402.3,91.4 402.4,92.4 402.4,93.3 402.4,94.2 402.4,95.2 402.4,96.1 402.4,97.0 402.5,98.0 402.5,98.9 402.5,99.8 402.5,100.8 402.5,101.7 402.5,102.6 402.5,103.5 402.6,104.4 402.6,105.4 402.6,106.3 402.6,107.2 402.6,108.0 402.6,108.9 402.7,109.8 402.7,110.7 402.7,111.6 402.7,112.4 402.7,113.3 402.7,114.1 402.8,115.0 402.8,115.8 402.8,116.6 402.8,117.4 402.8,118.2 402.8,119.0 402.9,119.8 402.9,120.6 402.9,121.4 402.9,122.1 402.9,122.9 402.9,123.6 403.0,124.3 403.0,125.0 403.0,125.7 403.0,126.4 403.0,127.1 403.0,127.7 403.1,128.4 403.1,129.0 403.1,129.6 403.1,130.2 403.1,130.8 403.1,131.4 403.1,132.0 403.2,132.5 403.2,133.0 403.2,133.6 403.2,134.1 403.2,134.6 403.2,135.0 403.3,135.5 403.3,135.9 403.3,136.3 403.3,136.7 403.3,137.1 403.3,137.5 403.4,137.8 403.4,138.2 403.4,138.5 403.4,138.8 403.4,139.1 403.4,139.3 403.5,139.6 403.5,139.8 403.5,140.0 403.5,140.2 403.5,140.4 403.5,140.6 403.6,140.7 403.6,140.8 403.6,141.0 403.6,141.1 403.7,141.0 403.8,140.9 403.8,140.8 403.8,140.7 403.8,140.5 403.8,140.4 403.8,140.2 403.8,140.0 403.9,139.8 403.9,139.5 403.9,139.3 403.9,139.0 403.9,138.7 403.9,138.4 404.0,138.1 404.0,137.7 404.0,137.4 404.0,137.0 404.0,136.6 404.0,136.2 404.1,135.7 404.1,135.3 404.1,134.8 404.1,134.3 404.1,133.8 404.1,133.3 404.2,132.8 404.2,132.2 404.2,131.7 404.2,131.1 404.2,130.5 404.2,129.9 404.3,129.3 404.3,128.6 404.3,128.0 404.3,127.3 404.3,126.6 404.3,125.9 404.4,125.2 404.4,124.5 404.4,123.7 404.4,123.0 404.4,122.2 404.4,121.4 404.4,120.6 404.5,119.8 404.5,119.0 404.5,118.2 404.5,117.4 404.5,116.5 404.5,115.7 404.6,114.8 404.6,113.9 404.6,113.0 404.6,112.1 404.6,111.2 404.6,110.3 404.7,109.4 404.7,108.5 404.7,107.5 404.7,106.6 404.7,105.6 404.7,104.7 404.8,103.7 404.8,102.8 404.8,101.8 404.8,100.8 404.8,99.8 404.8,98.8 404.9,97.8 404.9,96.8 404.9,95.8 404.9,94.8 404.9,93.8 404.9,92.8 405.0,91.8 405.0,90.8 405.0,89.8 405.0,88.8 405.0,87.8 405.0,86.8 405.1,85.7 405.1,84.7 405.1,83.7 405.1,82.7 405.1,81.7 405.1,80.7 405.1,79.7 405.2,78.7 405.2,77.7 405.2,76.7 405.2,75.7 405.2,74.8 405.2,73.8 405.3,72.8 405.3,71.8 405.3,70.9 405.3,69.9 405.3,69.0 405.3,68.0 405.4,67.1 405.4,66.2 405.4,65.3 405.4,64.3 405.4,63.4 405.4,62.6 405.5,61.7 405.5,60.8 405.5,59.9 405.5,59.1 405.5,58.2 405.5,57.4 405.6,56.6 405.6,55.8 405.6,55.0 405.6,54.2 405.6,53.4 405.6,52.7 405.7,51.9 405.7,51.2 405.7,50.5 405.7,49.8 405.7,49.1 405.7,48.4 405.7,47.8 405.8,47.1 405.8,46.5 405.8,45.9 405.8,45.3 405.8,44.7 405.8,44.1 405.9,43.6 405.9,43.0 405.9,42.5 405.9,42.0 405.9,41.5 405.9,41.1 406.0,40.6 406.0,40.2 406.0,39.8 406.0,39.4 406.0,39.0 406.0,38.7 406.1,38.3 406.1,38.0 406.1,37.7 406.1,37.4 406.1,37.2 406.1,36.9 406.2,36.7 406.2,36.5 406.2,36.3 406.2,36.1 406.2,36.0 406.2,35.9 406.3,35.8 406.3,35.6 406.3,35.5 406.4,35.6 406.4,35.8 406.4,35.9 406.4,36.0 406.5,36.2 406.5,36.4 406.5,36.6 406.5,36.8 406.5,37.0 406.5,37.3 406.6,37.5 406.6,37.8 406.6,38.1 406.6,38.5 406.6,38.8 406.6,39.2 406.7,39.6 406.7,40.0 406.7,40.4 406.7,40.8 406.7,41.3 406.7,41.8 406.8,42.3 406.8,42.8 406.8,43.3 406.8,43.9 406.8,44.4 406.8,45.0 406.9,45.6 406.9,46.2 406.9,46.9 406.9,47.5 406.9,48.2 406.9,48.9 407.0,49.6 407.0,50.3 407.0,51.0 407.0,51.8 407.0,52.5 407.0,53.3 407.0,54.1 407.1,54.9 407.1,55.7 407.1,56.5 407.1,57.4 407.1,58.2 407.1,59.1 407.2,59.9 407.2,60.8 407.2,61.7 407.2,62.6 407.2,63.6 407.2,64.5 407.3,65.4 407.3,66.4 407.3,67.3 407.3,68.3 407.3,69.3 407.3,70.3 407.4,71.3 407.4,72.3 407.4,73.3 407.4,74.3 407.4,75.3 407.4,76.3 407.5,77.4 407.5,78.4 407.5,79.5 407.5,80.5 407.5,81.6 407.5,82.6 407.6,83.7 407.6,84.7 407.6,85.8 407.6,86.9 407.6,87.9 407.6,89.0 407.7,90.1 407.7,91.2 407.7,92.2 407.7,93.3 407.7,94.4 407.7,95.4 407.7,96.5 407.8,97.6 407.8,98.7 407.8,99.7 407.8,100.8 407.8,101.8 407.8,102.9 407.9,103.9 407.9,105.0 407.9,106.0 407.9,107.1 407.9,108.1 407.9,109.1 408.0,110.1 408.0,111.1 408.0,112.2 408.0,113.1 408.0,114.1 408.0,115.1 408.1,116.1 408.1,117.1 408.1,118.0 408.1,119.0 408.1,119.9 408.1,120.8 408.2,121.7 408.2,122.6 408.2,123.5 408.2,124.4 408.2,125.3 408.2,126.1 408.3,127.0 408.3,127.8 408.3,128.6 408.3,129.4 408.3,130.2 408.3,131.0 408.3,131.7 408.4,132.5 408.4,133.2 408.4,133.9 408.4,134.6 408.4,135.3 408.4,136.0 408.5,136.6 408.5,137.3 408.5,137.9 408.5,138.5 408.5,139.0 408.5,139.6 408.6,140.2 408.6,140.7 408.6,141.2 408.6,141.7 408.6,142.2 408.6,142.6 408.7,143.1 408.7,143.5 408.7,143.9 408.7,144.2 408.7,144.6 408.7,144.9 408.8,145.3 408.8,145.6 408.8,145.8 408.8,146.1 408.8,146.3 408.8,146.6 408.9,146.7 408.9,146.9 408.9,147.1 408.9,147.2 408.9,147.3 408.9,147.5 409.0,147.6 409.0,147.5 409.1,147.3 409.1,147.2 409.1,147.0 409.1,146.9 409.1,146.7 409.2,146.5 409.2,146.3 409.2,146.0 409.2,145.8 409.2,145.5 409.2,145.2 409.3,144.9 409.3,144.5 409.3,144.2 409.3,143.8 409.3,143.4 409.3,142.9 409.4,142.5 409.4,142.0 409.4,141.5 409.4,141.0 409.4,140.5 409.4,140.0 409.5,139.4 409.5,138.8 409.5,138.2 409.5,137.6 409.5,137.0 409.5,136.3 409.6,135.7 409.6,135.0 409.6,134.3 409.6,133.6 409.6,132.8 409.6,132.1 409.6,131.3 409.7,130.5 409.7,129.8 409.7,128.9 409.7,128.1 409.7,127.3 409.7,126.4 409.8,125.5 409.8,124.7 409.8,123.8 409.8,122.9 409.8,121.9 409.8,121.0 409.9,120.1 409.9,119.1 409.9,118.1 409.9,117.2 409.9,116.2 409.9,115.2 410.0,114.2 410.0,113.1 410.0,112.1 410.0,111.1 410.0,110.0 410.0,109.0 410.1,107.9 410.1,106.9 410.1,105.8 410.1,104.7 410.1,103.6 410.1,102.5 410.2,101.4 410.2,100.3 410.2,99.2 410.2,98.1 410.2,97.0 410.2,95.9 410.2,94.8 410.3,93.6 410.3,92.5 410.3,91.4 410.3,90.3 410.3,89.1 410.3,88.0 410.4,86.9 410.4,85.8 410.4,84.6 410.4,83.5 410.4,82.4 410.4,81.3 410.5,80.1 410.5,79.0 410.5,77.9 410.5,76.8 410.5,75.7 410.5,74.6 410.6,73.5 410.6,72.4 410.6,71.3 410.6,70.3 410.6,69.2 410.6,68.1 410.7,67.1 410.7,66.0 410.7,65.0 410.7,64.0 410.7,62.9 410.7,61.9 410.8,60.9 410.8,59.9 410.8,58.9 410.8,58.0 410.8,57.0 410.8,56.1 410.9,55.1 410.9,54.2 410.9,53.3 410.9,52.4 410.9,51.5 410.9,50.6 410.9,49.8 411.0,48.9 411.0,48.1 411.0,47.3 411.0,46.5 411.0,45.7 411.0,44.9 411.1,44.2 411.1,43.5 411.1,42.7 411.1,42.0 411.1,41.4 411.1,40.7 411.2,40.0 411.2,39.4 411.2,38.8 411.2,38.2 411.2,37.6 411.2,37.1 411.3,36.5 411.3,36.0 411.3,35.5 411.3,35.0 411.3,34.6 411.3,34.1 411.4,33.7 411.4,33.3 411.4,32.9 411.4,32.6 411.4,32.2 411.4,31.9 411.5,31.6 411.5,31.4 411.5,31.1 411.5,30.9 411.5,30.7 411.5,30.5 411.5,30.3 411.6,30.2 411.6,30.1 411.6,29.9 411.6,29.8 411.7,29.9 411.7,30.1 411.8,30.2 411.8,30.3 411.8,30.5 411.8,30.7 411.8,30.9 411.8,31.1 411.9,31.4 411.9,31.6 411.9,31.9 411.9,32.3 411.9,32.6 411.9,33.0 412.0,33.3 412.0,33.7 412.0,34.2 412.0,34.6 412.0,35.1 412.0,35.5 412.1,36.1 412.1,36.6 412.1,37.1 412.1,37.7 412.1,38.3 412.1,38.9 412.2,39.5 412.2,40.1 412.2,40.8 412.2,41.5 412.2,42.2 412.2,42.9 412.2,43.6 412.3,44.4 412.3,45.1 412.3,45.9 412.3,46.7 412.3,47.5 412.3,48.3 412.4,49.2 412.4,50.1 412.4,50.9 412.4,51.8 412.4,52.7 412.4,53.7 412.5,54.6 412.5,55.5 412.5,56.5 412.5,57.5 412.5,58.5 412.5,59.5 412.6,60.5 412.6,61.5 412.6,62.5 412.6,63.6 412.6,64.6 412.6,65.7 412.7,66.8 412.7,67.8 412.7,68.9 412.7,70.0 412.7,71.1 412.7,72.2 412.8,73.4 412.8,74.5 412.8,75.6 412.8,76.8 412.8,77.9 412.8,79.1 412.8,80.2 412.9,81.4 412.9,82.5 412.9,83.7 412.9,84.9 412.9,86.0 412.9,87.2 413.0,88.4 413.0,89.6 413.0,90.7 413.0,91.9 413.0,93.1 413.0,94.3 413.1,95.5 413.1,96.6 413.1,97.8 413.1,99.0 413.1,100.1 413.1,101.3 413.2,102.5 413.2,103.6 413.2,104.8 413.2,105.9 413.2,107.1 413.2,108.2 413.3,109.3 413.3,110.5 413.3,111.6 413.3,112.7 413.3,113.8 413.3,114.9 413.4,116.0 413.4,117.0 413.4,118.1 413.4,119.2 413.4,120.2 413.4,121.2 413.4,122.3 413.5,123.3 413.5,124.3 413.5,125.3 413.5,126.3 413.5,127.2 413.5,128.2 413.6,129.1 413.6,130.0 413.6,130.9 413.6,131.8 413.6,132.7 413.6,133.6 413.7,134.4 413.7,135.3 413.7,136.1 413.7,136.9 413.7,137.7 413.7,138.4 413.8,139.2 413.8,139.9 413.8,140.6 413.8,141.3 413.8,142.0 413.8,142.7 413.9,143.3 413.9,143.9 413.9,144.5 413.9,145.1 413.9,145.7 413.9,146.2 414.0,146.7 414.0,147.2 414.0,147.7 414.0,148.2 414.0,148.6 414.0,149.0 414.1,149.4 414.1,149.8 414.1,150.1 414.1,150.5 414.1,150.8 414.1,151.0 414.1,151.3 414.2,151.6 414.2,151.8 414.2,152.0 414.2,152.1 414.2,152.3 414.2,152.4 414.3,152.5 414.3,152.7 414.4,152.6 414.4,152.4 414.4,152.3 414.4,152.1 414.5,152.0 414.5,151.8 414.5,151.6 414.5,151.3 414.5,151.1 414.5,150.8 414.6,150.5 414.6,150.1 414.6,149.8 414.6,149.4 414.6,149.0 414.6,148.6 414.7,148.2 414.7,147.7 414.7,147.2 414.7,146.7 414.7,146.2 414.7,145.7 414.7,145.1 414.8,144.5 414.8,143.9 414.8,143.3 414.8,142.6 414.8,142.0 414.8,141.3 414.9,140.6 414.9,139.9 414.9,139.1 414.9,138.4 414.9,137.6 414.9,136.8 415.0,136.0 415.0,135.2 415.0,134.3 415.0,133.5 415.0,132.6 415.0,131.7 415.1,130.8 415.1,129.9 415.1,128.9 415.1,128.0 415.1,127.0 415.1,126.0 415.2,125.0 415.2,124.0 415.2,123.0 415.2,122.0 415.2,120.9 415.2,119.9 415.3,118.8 415.3,117.7 415.3,116.6 415.3,115.5 415.3,114.4 415.3,113.3 415.4,112.2 415.4,111.0 415.4,109.9 415.4,108.7 415.4,107.6 415.4,106.4 415.4,105.2 415.5,104.0 415.5,102.9 415.5,101.7 415.5,100.5 415.5,99.3 415.5,98.1 415.6,96.9 415.6,95.7 415.6,94.5 415.6,93.2 415.6,92.0 415.6,90.8 415.7,89.6 415.7,88.4 415.7,87.2 415.7,86.0 415.7,84.7 415.7,83.5 415.8,82.3 415.8,81.1 415.8,79.9 415.8,78.7 415.8,77.5 415.8,76.3 415.9,75.1 415.9,73.9 415.9,72.8 415.9,71.6 415.9,70.4 415.9,69.3 416.0,68.1 416.0,67.0 416.0,65.8 416.0,64.7 416.0,63.6 416.0,62.5 416.0,61.4 416.1,60.3 416.1,59.2 416.1,58.1 416.1,57.1 416.1,56.0 416.1,55.0 416.2,54.0 416.2,53.0 416.2,52.0 416.2,51.0 416.2,50.0 416.2,49.1 416.3,48.1 416.3,47.2 416.3,46.3 416.3,45.4 416.3,44.6 416.3,43.7 416.4,42.9 416.4,42.0 416.4,41.2 416.4,40.4 416.4,39.7 416.4,38.9 416.5,38.2 416.5,37.5 416.5,36.8 416.5,36.1 416.5,35.4 416.5,34.8 416.6,34.2 416.6,33.6 416.6,33.0 416.6,32.4 416.6,31.9 416.6,31.4 416.7,30.9 416.7,30.4 416.7,30.0 416.7,29.5 416.7,29.1 416.7,28.7 416.7,28.4 416.8,28.0 416.8,27.7 416.8,27.4 416.8,27.2 416.8,26.9 416.8,26.7 416.9,26.5 416.9,26.3 416.9,26.2 416.9,26.0 416.9,25.9 417.0,25.8 417.0,25.8 417.1,26.0 417.1,26.1 417.1,26.3 417.1,26.4 417.1,26.6 417.2,26.9 417.2,27.1 417.2,27.4 417.2,27.7 417.2,28.0 417.2,28.3 417.3,28.7 417.3,29.0 417.3,29.4 417.3,29.9 417.3,30.3 417.3,30.8 417.3,31.3 417.4,31.8 417.4,32.3 417.4,32.9 417.4,33.5 417.4,34.1 417.4,34.7 417.5,35.3 417.5,36.0 417.5,36.6 417.5,37.3 417.5,38.1 417.5,38.8 417.6,39.6 417.6,40.3 417.6,41.1 417.6,41.9 417.6,42.8 417.6,43.6 417.7,44.5 417.7,45.4 417.7,46.3 417.7,47.2 417.7,48.1 417.7,49.0 417.8,50.0 417.8,51.0 417.8,52.0 417.8,53.0 417.8,54.0 417.8,55.0 417.9,56.1 417.9,57.1 417.9,58.2 417.9,59.3 417.9,60.4 417.9,61.5 417.9,62.6 418.0,63.7 418.0,64.9 418.0,66.0 418.0,67.2 418.0,68.3 418.0,69.5 418.1,70.7 418.1,71.9 418.1,73.0 418.1,74.2 418.1,75.5 418.1,76.7 418.2,77.9 418.2,79.1 418.2,80.3 418.2,81.6 418.2,82.8 418.2,84.0 418.3,85.3 418.3,86.5 418.3,87.7 418.3,89.0 418.3,90.2 418.3,91.5 418.4,92.7 418.4,94.0 418.4,95.2 418.4,96.5 418.4,97.7 418.4,98.9 418.5,100.2 418.5,101.4 418.5,102.6 418.5,103.8 418.5,105.1 418.5,106.3 418.6,107.5 418.6,108.7 418.6,109.9 418.6,111.1 418.6,112.2 418.6,113.4 418.6,114.6 418.7,115.7 418.7,116.9 418.7,118.0 418.7,119.1 418.7,120.2 418.7,121.4 418.8,122.4 418.8,123.5 418.8,124.6 418.8,125.7 418.8,126.7 418.8,127.7 418.9,128.7 418.9,129.8 418.9,130.7 418.9,131.7 418.9,132.7 418.9,133.6 419.0,134.5 419.0,135.5 419.0,136.4 419.0,137.2 419.0,138.1 419.0,138.9 419.1,139.8 419.1,140.6 419.1,141.4 419.1,142.1 419.1,142.9 419.1,143.6 419.2,144.3 419.2,145.0 419.2,145.7 419.2,146.4 419.2,147.0 419.2,147.6 419.2,148.2 419.3,148.8 419.3,149.3 419.3,149.9 419.3,150.4 419.3,150.8 419.3,151.3 419.4,151.7 419.4,152.2 419.4,152.6 419.4,152.9 419.4,153.3 419.4,153.6 419.5,153.9 419.5,154.2 419.5,154.4 419.5,154.7 419.5,154.9 419.5,155.1 419.6,155.2 419.6,155.4 419.6,155.5 419.6,155.6 419.7,155.5 419.8,155.3 419.8,155.1 419.8,155.0 419.8,154.8 419.8,154.5 419.8,154.3 419.9,154.0 419.9,153.7 419.9,153.4 419.9,153.1 419.9,152.7 419.9,152.3 419.9,151.9 420.0,151.5 420.0,151.0 420.0,150.6 420.0,150.1 420.0,149.5 420.0,149.0 420.1,148.4 420.1,147.8 420.1,147.2 420.1,146.6 420.1,146.0 420.1,145.3 420.2,144.6 420.2,143.9 420.2,143.2 420.2,142.4 420.2,141.6 420.2,140.9 420.3,140.0 420.3,139.2 420.3,138.4 420.3,137.5 420.3,136.6 420.3,135.7 420.4,134.8 420.4,133.9 420.4,133.0 420.4,132.0 420.4,131.0 420.4,130.0 420.5,129.0 420.5,128.0 420.5,127.0 420.5,125.9 420.5,124.9 420.5,123.8 420.5,122.7 420.6,121.6 420.6,120.5 420.6,119.4 420.6,118.2 420.6,117.1 420.6,115.9 420.7,114.8 420.7,113.6 420.7,112.4 420.7,111.2 420.7,110.0 420.7,108.8 420.8,107.6 420.8,106.4 420.8,105.2 420.8,103.9 420.8,102.7 420.8,101.4 420.9,100.2 420.9,99.0 420.9,97.7 420.9,96.4 420.9,95.2 420.9,93.9 421.0,92.7 421.0,91.4 421.0,90.1 421.0,88.9 421.0,87.6 421.0,86.3 421.1,85.1 421.1,83.8 421.1,82.6 421.1,81.3 421.1,80.1 421.1,78.8 421.2,77.6 421.2,76.3 421.2,75.1 421.2,73.9 421.2,72.6 421.2,71.4 421.2,70.2 421.3,69.0 421.3,67.8 421.3,66.6 421.3,65.4 421.3,64.3 421.3,63.1 421.4,61.9 421.4,60.8 421.4,59.7 421.4,58.5 421.4,57.4 421.4,56.3 421.5,55.3 421.5,54.2 421.5,53.1 421.5,52.1 421.5,51.0 421.5,50.0 421.6,49.0 421.6,48.0 421.6,47.0 421.6,46.1 421.6,45.1 421.6,44.2 421.7,43.3 421.7,42.4 421.7,41.5 421.7,40.7 421.7,39.8 421.7,39.0 421.8,38.2 421.8,37.4 421.8,36.7 421.8,35.9 421.8,35.2 421.8,34.5 421.8,33.8 421.9,33.1 421.9,32.5 421.9,31.9 421.9,31.3 421.9,30.7 421.9,30.1 422.0,29.6 422.0,29.1 422.0,28.6 422.0,28.1 422.0,27.6 422.0,27.2 422.1,26.8 422.1,26.4 422.1,26.1 422.1,25.7 422.1,25.4 422.1,25.2 422.2,24.9 422.2,24.7 422.2,24.4 422.2,24.2 422.2,24.1 422.2,23.9 422.3,23.8 422.3,23.7 422.4,23.7 422.4,24.0 422.4,24.1 422.4,24.3 422.5,24.5 422.5,24.7 422.5,24.9 422.5,25.2 422.5,25.5 422.5,25.8 422.6,26.2 422.6,26.5 422.6,26.9 422.6,27.3 422.6,27.8 422.6,28.2 422.7,28.7 422.7,29.2 422.7,29.7 422.7,30.3 422.7,30.8 422.7,31.4 422.8,32.0 422.8,32.6 422.8,33.3 422.8,34.0 422.8,34.7 422.8,35.4 422.9,36.1 422.9,36.9 422.9,37.6 422.9,38.4 422.9,39.3 422.9,40.1 423.0,40.9 423.0,41.8 423.0,42.7 423.0,43.6 423.0,44.5 423.0,45.4 423.1,46.4 423.1,47.4 423.1,48.4 423.1,49.4 423.1,50.4 423.1,51.4 423.1,52.4 423.2,53.5 423.2,54.6 423.2,55.7 423.2,56.8 423.2,57.9 423.2,59.0 423.3,60.1 423.3,61.3 423.3,62.4 423.3,63.6 423.3,64.8 423.3,66.0 423.4,67.1 423.4,68.4 423.4,69.6 423.4,70.8 423.4,72.0 423.4,73.2 423.5,74.5 423.5,75.7 423.5,77.0 423.5,78.2 423.5,79.5 423.5,80.8 423.6,82.0 423.6,83.3 423.6,84.6 423.6,85.8 423.6,87.1 423.6,88.4 423.7,89.7 423.7,91.0 423.7,92.2 423.7,93.5 423.7,94.8 423.7,96.1 423.7,97.3 423.8,98.6 423.8,99.9 423.8,101.2 423.8,102.4 423.8,103.7 423.8,104.9 423.9,106.2 423.9,107.4 423.9,108.6 423.9,109.9 423.9,111.1 423.9,112.3 424.0,113.5 424.0,114.7 424.0,115.9 424.0,117.1 424.0,118.3 424.0,119.4 424.1,120.6 424.1,121.7 424.1,122.8 424.1,123.9 424.1,125.0 424.1,126.1 424.2,127.2 424.2,128.3 424.2,129.3 424.2,130.4 424.2,131.4 424.2,132.4 424.3,133.4 424.3,134.4 424.3,135.3 424.3,136.3 424.3,137.2 424.3,138.1 424.4,139.0 424.4,139.9 424.4,140.7 424.4,141.5 424.4,142.4 424.4,143.2 424.4,143.9 424.5,144.7 424.5,145.4 424.5,146.2 424.5,146.9 424.5,147.5 424.5,148.2 424.6,148.8 424.6,149.5 424.6,150.0 424.6,150.6 424.6,151.2 424.6,151.7 424.7,152.2 424.7,152.7 424.7,153.1 424.7,153.6 424.7,154.0 424.7,154.4 424.8,154.7 424.8,155.1 424.8,155.4 424.8,155.7 424.8,156.0 424.8,156.2 424.9,156.4 424.9,156.6 424.9,156.8 424.9,157.0 424.9,157.1 425.0,157.3 425.0,157.3 425.0,157.2 425.1,157.0 425.1,156.8 425.1,156.7 425.1,156.5 425.1,156.2 425.2,156.0 425.2,155.7 425.2,155.4 425.2,155.1 425.2,154.8 425.2,154.4 425.3,154.0 425.3,153.6 425.3,153.2 425.3,152.7 425.3,152.3 425.3,151.8 425.4,151.2 425.4,150.7 425.4,150.1 425.4,149.5 425.4,148.9 425.4,148.3 425.5,147.6 425.5,146.9 425.5,146.2 425.5,145.5 425.5,144.8 425.5,144.0 425.6,143.2 425.6,142.4 425.6,141.6 425.6,140.8 425.6,139.9 425.6,139.1 425.7,138.2 425.7,137.3 425.7,136.3 425.7,135.4 425.7,134.4 425.7,133.4 425.7,132.4 425.8,131.4 425.8,130.4 425.8,129.4 425.8,128.3 425.8,127.3 425.8,126.2 425.9,125.1 425.9,124.0 425.9,122.8 425.9,121.7 425.9,120.6 425.9,119.4 426.0,118.2 426.0,117.1 426.0,115.9 426.0,114.7 426.0,113.5 426.0,112.3 426.1,111.0 426.1,109.8 426.1,108.6 426.1,107.3 426.1,106.1 426.1,104.8 426.2,103.5 426.2,102.3 426.2,101.0 426.2,99.7 426.2,98.4 426.2,97.2 426.3,95.9 426.3,94.6 426.3,93.3 426.3,92.0 426.3,90.7 426.3,89.4 426.3,88.1 426.4,86.8 426.4,85.5 426.4,84.2 426.4,83.0 426.4,81.7 426.4,80.4 426.5,79.1 426.5,77.8 426.5,76.6 426.5,75.3 426.5,74.0 426.5,72.8 426.6,71.5 426.6,70.3 426.6,69.1 426.6,67.8 426.6,66.6 426.6,65.4 426.7,64.2 426.7,63.0 426.7,61.8 426.7,60.6 426.7,59.5 426.7,58.3 426.8,57.2 426.8,56.1 426.8,54.9 426.8,53.8 426.8,52.7 426.8,51.7 426.9,50.6 426.9,49.6 426.9,48.5 426.9,47.5 426.9,46.5 426.9,45.5 427.0,44.5 427.0,43.6 427.0,42.7 427.0,41.7 427.0,40.8 427.0,39.9 427.0,39.1 427.1,38.2 427.1,37.4 427.1,36.6 427.1,35.8 427.1,35.0 427.1,34.3 427.2,33.6 427.2,32.8 427.2,32.2 427.2,31.5 427.2,30.8 427.2,30.2 427.3,29.6 427.3,29.0 427.3,28.5 427.3,27.9 427.3,27.4 427.3,26.9 427.4,26.5 427.4,26.0 427.4,25.6 427.4,25.2 427.4,24.8 427.4,24.5 427.5,24.2 427.5,23.9 427.5,23.6 427.5,23.3 427.5,23.1 427.5,22.9 427.6,22.7 427.6,22.6 427.6,22.4 427.6,22.3 427.6,22.2 427.7,22.3 427.7,22.5 427.8,22.6 427.8,22.8 427.8,23.0 427.8,23.2 427.8,23.5 427.8,23.7 427.9,24.0 427.9,24.3 427.9,24.7 427.9,25.0 427.9,25.4 427.9,25.8 428.0,26.3 428.0,26.7 428.0,27.2 428.0,27.7 428.0,28.2 428.0,28.8 428.1,29.3 428.1,29.9 428.1,30.6 428.1,31.2 428.1,31.9 428.1,32.5 428.2,33.2 428.2,34.0 428.2,34.7 428.2,35.5 428.2,36.2 428.2,37.0 428.2,37.9 428.3,38.7 428.3,39.6 428.3,40.5 428.3,41.3 428.3,42.3 428.3,43.2 428.4,44.1 428.4,45.1 428.4,46.1 428.4,47.1 428.4,48.1 428.4,49.1 428.5,50.2 428.5,51.2 428.5,52.3 428.5,53.4 428.5,54.5 428.5,55.6 428.6,56.8 428.6,57.9 428.6,59.0 428.6,60.2 428.6,61.4 428.6,62.6 428.7,63.8 428.7,65.0 428.7,66.2 428.7,67.4 428.7,68.6 428.7,69.9 428.8,71.1 428.8,72.4 428.8,73.6 428.8,74.9 428.8,76.2 428.8,77.4 428.9,78.7 428.9,80.0 428.9,81.3 428.9,82.6 428.9,83.9 428.9,85.2 428.9,86.5 429.0,87.8 429.0,89.1 429.0,90.4 429.0,91.7 429.0,93.0 429.0,94.3 429.1,95.6 429.1,96.9 429.1,98.2 429.1,99.5 429.1,100.8 429.1,102.1 429.2,103.3 429.2,104.6 429.2,105.9 429.2,107.2 429.2,108.4 429.2,109.7 429.3,110.9 429.3,112.1 429.3,113.4 429.3,114.6 429.3,115.8 429.3,117.0 429.4,118.2 429.4,119.4 429.4,120.6 429.4,121.7 429.4,122.9 429.4,124.0 429.5,125.1 429.5,126.2 429.5,127.3 429.5,128.4 429.5,129.5 429.5,130.6 429.5,131.6 429.6,132.6 429.6,133.6 429.6,134.6 429.6,135.6 429.6,136.6 429.6,137.5 429.7,138.5 429.7,139.4 429.7,140.3 429.7,141.1 429.7,142.0 429.7,142.8 429.8,143.6 429.8,144.4 429.8,145.2 429.8,146.0 429.8,146.7 429.8,147.4 429.9,148.1 429.9,148.8 429.9,149.5 429.9,150.1 429.9,150.7 429.9,151.3 430.0,151.9 430.0,152.4 430.0,152.9 430.0,153.4 430.0,153.9 430.0,154.3 430.1,154.8 430.1,155.2 430.1,155.5 430.1,155.9 430.1,156.2 430.1,156.5 430.2,156.8 430.2,157.1 430.2,157.3 430.2,157.5 430.2,157.7 430.2,157.9 430.2,158.0 430.3,158.1 430.3,158.3 430.4,158.2 430.4,158.0 430.4,157.9 430.4,157.7 430.5,157.5 430.5,157.3 430.5,157.1 430.5,156.8 430.5,156.5 430.5,156.2 430.6,155.9 430.6,155.5 430.6,155.1 430.6,154.7 430.6,154.3 430.6,153.8 430.7,153.3 430.7,152.8 430.7,152.3 430.7,151.8 430.7,151.2 430.7,150.6 430.8,150.0 430.8,149.4 430.8,148.7 430.8,148.0 430.8,147.3 430.8,146.6 430.8,145.9 430.9,145.1 430.9,144.3 430.9,143.5 430.9,142.7 430.9,141.8 430.9,141.0 431.0,140.1 431.0,139.2 431.0,138.3 431.0,137.4 431.0,136.4 431.0,135.4 431.1,134.5 431.1,133.5 431.1,132.4 431.1,131.4 431.1,130.4 431.1,129.3 431.2,128.2 431.2,127.1 431.2,126.0 431.2,124.9 431.2,123.8 431.2,122.6 431.3,121.5 431.3,120.3 431.3,119.1 431.3,117.9 431.3,116.7 431.3,115.5 431.4,114.3 431.4,113.1 431.4,111.9 431.4,110.6 431.4,109.4 431.4,108.1 431.5,106.8 431.5,105.6 431.5,104.3 431.5,103.0 431.5,101.7 431.5,100.4 431.5,99.1 431.6,97.8 431.6,96.5 431.6,95.2 431.6,93.9 431.6,92.6 431.6,91.3 431.7,90.0 431.7,88.7 431.7,87.4 431.7,86.1 431.7,84.8 431.7,83.4 431.8,82.1 431.8,80.8 431.8,79.5 431.8,78.3 431.8,77.0 431.8,75.7 431.9,74.4 431.9,73.1 431.9,71.9 431.9,70.6 431.9,69.4 431.9,68.1 432.0,66.9 432.0,65.6 432.0,64.4 432.0,63.2 432.0,62.0 432.0,60.8 432.1,59.6 432.1,58.5 432.1,57.3 432.1,56.2 432.1,55.0 432.1,53.9 432.1,52.8 432.2,51.7 432.2,50.6 432.2,49.5 432.2,48.5 432.2,47.5 432.2,46.4 432.3,45.4 432.3,44.4 432.3,43.5 432.3,42.5 432.3,41.6 432.3,40.7 432.4,39.8 432.4,38.9 432.4,38.0 432.4,37.2 432.4,36.3 432.4,35.5 432.5,34.7 432.5,34.0 432.5,33.2 432.5,32.5 432.5,31.8 432.5,31.1 432.6,30.5 432.6,29.8 432.6,29.2 432.6,28.6 432.6,28.0 432.6,27.5 432.7,26.9 432.7,26.4 432.7,26.0 432.7,25.5 432.7,25.1 432.7,24.7 432.7,24.3 432.8,23.9 432.8,23.6 432.8,23.3 432.8,23.0 432.8,22.7 432.8,22.5 432.9,22.2 432.9,22.1 432.9,21.9 432.9,21.7 432.9,21.6 433.0,21.5 433.0,21.5 433.1,21.7 433.1,21.8 433.1,22.0 433.1,22.2 433.1,22.4 433.2,22.6 433.2,22.9 433.2,23.2 433.2,23.5 433.2,23.8 433.2,24.2 433.3,24.6 433.3,25.0 433.3,25.4 433.3,25.8 433.3,26.3 433.3,26.8 433.4,27.3 433.4,27.9 433.4,28.4 433.4,29.0 433.4,29.7 433.4,30.3 433.4,30.9 433.5,31.6 433.5,32.3 433.5,33.0 433.5,33.8 433.5,34.5 433.5,35.3 433.6,36.1 433.6,37.0 433.6,37.8 433.6,38.7 433.6,39.5 433.6,40.4 433.7,41.4 433.7,42.3 433.7,43.2 433.7,44.2 433.7,45.2 433.7,46.2 433.8,47.2 433.8,48.3 433.8,49.3 433.8,50.4 433.8,51.5 433.8,52.5 433.9,53.7 433.9,54.8 433.9,55.9 433.9,57.1 433.9,58.2 433.9,59.4 434.0,60.6 434.0,61.8 434.0,63.0 434.0,64.2 434.0,65.4 434.0,66.6 434.0,67.9 434.1,69.1 434.1,70.4 434.1,71.6 434.1,72.9 434.1,74.2 434.1,75.5 434.2,76.8 434.2,78.0 434.2,79.3 434.2,80.6 434.2,81.9 434.2,83.3 434.3,84.6 434.3,85.9 434.3,87.2 434.3,88.5 434.3,89.8 434.3,91.1 434.4,92.5 434.4,93.8 434.4,95.1 434.4,96.4 434.4,97.7 434.4,99.0 434.5,100.3 434.5,101.6 434.5,102.9 434.5,104.2 434.5,105.5 434.5,106.8 434.6,108.0 434.6,109.3 434.6,110.6 434.6,111.8 434.6,113.1 434.6,114.3 434.7,115.5 434.7,116.7 434.7,117.9 434.7,119.1 434.7,120.3 434.7,121.5 434.7,122.7 434.8,123.8 434.8,125.0 434.8,126.1 434.8,127.2 434.8,128.3 434.8,129.4 434.9,130.5 434.9,131.5 434.9,132.6 434.9,133.6 434.9,134.6 434.9,135.6 435.0,136.6 435.0,137.6 435.0,138.5 435.0,139.4 435.0,140.3 435.0,141.2 435.1,142.1 435.1,143.0 435.1,143.8 435.1,144.6 435.1,145.4 435.1,146.2 435.2,146.9 435.2,147.7 435.2,148.4 435.2,149.1 435.2,149.7 435.2,150.4 435.3,151.0 435.3,151.6 435.3,152.2 435.3,152.7 435.3,153.3 435.3,153.8 435.3,154.3 435.4,154.7 435.4,155.2 435.4,155.6 435.4,156.0 435.4,156.4 435.4,156.7 435.5,157.0 435.5,157.3 435.5,157.6 435.5,157.8 435.5,158.1 435.5,158.2 435.6,158.4 435.6,158.6 435.6,158.7 435.6,158.9 435.7,158.8 435.7,158.6 435.8,158.5 435.8,158.4 435.8,158.2 435.8,158.0 435.8,157.7 435.8,157.5 435.9,157.2 435.9,156.9 435.9,156.6 435.9,156.2 435.9,155.9 435.9,155.5 436.0,155.0 436.0,154.6 436.0,154.1 436.0,153.6 436.0,153.1 436.0,152.5 436.0,152.0 436.1,151.4 436.1,150.8 436.1,150.2 436.1,149.5 436.1,148.8 436.1,148.1 436.2,147.4 436.2,146.7 436.2,145.9 436.2,145.1 436.2,144.3 436.2,143.5 436.3,142.7 436.3,141.8 436.3,140.9 436.3,140.0 436.3,139.1 436.3,138.2 436.4,137.2 436.4,136.2 436.4,135.3 436.4,134.3 436.4,133.2 436.4,132.2 436.5,131.2 436.5,130.1 436.5,129.0 436.5,127.9 436.5,126.8 436.5,125.7 436.6,124.5 436.6,123.4 436.6,122.2 436.6,121.1 436.6,119.9 436.6,118.7 436.6,117.5 436.7,116.3 436.7,115.0 436.7,113.8 436.7,112.6 436.7,111.3 436.7,110.1 436.8,108.8 436.8,107.5 436.8,106.2 436.8,105.0 436.8,103.7 436.8,102.4 436.9,101.1 436.9,99.8 436.9,98.5 436.9,97.2 436.9,95.8 436.9,94.5 437.0,93.2 437.0,91.9 437.0,90.6 437.0,89.3 437.0,87.9 437.0,86.6 437.1,85.3 437.1,84.0 437.1,82.7 437.1,81.4 437.1,80.0 437.1,78.7 437.2,77.4 437.2,76.1 437.2,74.9 437.2,73.6 437.2,72.3 437.2,71.0 437.2,69.8 437.3,68.5 437.3,67.2 437.3,66.0 437.3,64.8 437.3,63.5 437.3,62.3 437.4,61.1 437.4,59.9 437.4,58.8 437.4,57.6 437.4,56.4 437.4,55.3 437.5,54.1 437.5,53.0 437.5,51.9 437.5,50.8 437.5,49.7 437.5,48.7 437.6,47.6 437.6,46.6 437.6,45.6 437.6,44.6 437.6,43.6 437.6,42.6 437.7,41.7 437.7,40.7 437.7,39.8 437.7,38.9 437.7,38.0 437.7,37.2 437.8,36.3 437.8,35.5 437.8,34.7 437.8,33.9 437.8,33.2 437.8,32.4 437.9,31.7 437.9,31.0 437.9,30.4 437.9,29.7 437.9,29.1 437.9,28.5 437.9,27.9 438.0,27.3 438.0,26.8 438.0,26.3 438.0,25.8 438.0,25.3 438.0,24.8 438.1,24.4 438.1,24.0 438.1,23.6 438.1,23.3 438.1,23.0 438.1,22.7 438.2,22.4 438.2,22.1 438.2,21.9 438.2,21.7 438.2,21.5 438.2,21.4 438.3,21.3 438.3,21.1 438.3,21.0 438.4,21.1 438.4,21.4 438.4,21.5 438.5,21.7 438.5,21.9 438.5,22.1 438.5,22.4 438.5,22.6 438.5,22.9 438.5,23.3 438.6,23.6 438.6,24.0 438.6,24.4 438.6,24.8 438.6,25.3 438.6,25.7 438.7,26.2 438.7,26.7 438.7,27.3 438.7,27.8 438.7,28.4 438.7,29.0 438.8,29.7 438.8,30.3 438.8,31.0 438.8,31.7 438.8,32.4 438.8,33.1 438.9,33.9 438.9,34.7 438.9,35.5 438.9,36.3 438.9,37.1 438.9,38.0 439.0,38.9 439.0,39.8 439.0,40.7 439.0,41.6 439.0,42.6 439.0,43.5 439.1,44.5 439.1,45.5 439.1,46.5 439.1,47.6 439.1,48.6 439.1,49.7 439.2,50.8 439.2,51.9 439.2,53.0 439.2,54.1 439.2,55.2 439.2,56.4 439.2,57.5 439.3,58.7 439.3,59.9 439.3,61.1 439.3,62.3 439.3,63.5 439.3,64.7 439.4,66.0 439.4,67.2 439.4,68.5 439.4,69.7 439.4,71.0 439.4,72.3 439.5,73.5 439.5,74.8 439.5,76.1 439.5,77.4 439.5,78.7 439.5,80.0 439.6,81.3 439.6,82.6 439.6,84.0 439.6,85.3 439.6,86.6 439.6,87.9 439.7,89.2 439.7,90.6 439.7,91.9 439.7,93.2 439.7,94.5 439.7,95.8 439.8,97.2 439.8,98.5 439.8,99.8 439.8,101.1 439.8,102.4 439.8,103.7 439.8,105.0 439.9,106.3 439.9,107.6 439.9,108.8 439.9,110.1 439.9,111.4 439.9,112.6 440.0,113.9 440.0,115.1 440.0,116.3 440.0,117.5 440.0,118.8 440.0,120.0 440.1,121.1 440.1,122.3 440.1,123.5 440.1,124.6 440.1,125.8 440.1,126.9 440.2,128.0 440.2,129.1 440.2,130.2 440.2,131.3 440.2,132.3 440.2,133.4 440.3,134.4 440.3,135.4 440.3,136.4 440.3,137.4 440.3,138.3 440.3,139.2 440.4,140.2 440.4,141.1 440.4,142.0 440.4,142.8 440.4,143.7 440.4,144.5 440.5,145.3 440.5,146.1 440.5,146.8 440.5,147.6 440.5,148.3 440.5,149.0 440.5,149.7 440.6,150.4 440.6,151.0 440.6,151.6 440.6,152.2 440.6,152.8 440.6,153.3 440.7,153.8 440.7,154.3 440.7,154.8 440.7,155.3 440.7,155.7 440.7,156.1 440.8,156.5 440.8,156.8 440.8,157.2 440.8,157.5 440.8,157.8 440.8,158.0 440.9,158.2 440.9,158.5 440.9,158.6 440.9,158.8 440.9,158.9 440.9,159.0 441.0,159.2 441.1,159.1 441.1,158.9 441.1,158.7 441.1,158.6 441.1,158.4 441.1,158.1 441.2,157.9 441.2,157.6 441.2,157.3 441.2,157.0 441.2,156.7 441.2,156.3 441.3,155.9 441.3,155.5 441.3,155.0 441.3,154.6 441.3,154.1 441.3,153.6 441.4,153.0 441.4,152.5 441.4,151.9 441.4,151.3 441.4,150.7 441.4,150.0 441.5,149.4 441.5,148.7 441.5,148.0 441.5,147.2 441.5,146.5 441.5,145.7 441.6,144.9 441.6,144.1 441.6,143.2 441.6,142.4 441.6,141.5 441.6,140.6 441.7,139.7 441.7,138.8 441.7,137.8 441.7,136.9 441.7,135.9 441.7,134.9 441.7,133.9 441.8,132.8 441.8,131.8 441.8,130.7 441.8,129.6 441.8,128.5 441.8,127.4 441.9,126.3 441.9,125.2 441.9,124.0 441.9,122.9 441.9,121.7 441.9,120.5 442.0,119.3 442.0,118.1 442.0,116.9 442.0,115.7 442.0,114.5 442.0,113.2 442.1,112.0 442.1,110.7 442.1,109.4 442.1,108.2 442.1,106.9 442.1,105.6 442.2,104.3 442.2,103.0 442.2,101.7 442.2,100.4 442.2,99.1 442.2,97.8 442.3,96.4 442.3,95.1 442.3,93.8 442.3,92.5 442.3,91.2 442.3,89.8 442.4,88.5 442.4,87.2 442.4,85.9 442.4,84.5 442.4,83.2 442.4,81.9 442.4,80.6 442.5,79.3 442.5,78.0 442.5,76.7 442.5,75.4 442.5,74.1 442.5,72.8 442.6,71.5 442.6,70.2 442.6,69.0 442.6,67.7 442.6,66.5 442.6,65.2 442.7,64.0 442.7,62.8 442.7,61.6 442.7,60.4 442.7,59.2 442.7,58.0 442.8,56.8 442.8,55.7 442.8,54.5 442.8,53.4 442.8,52.3 442.8,51.2 442.9,50.1 442.9,49.0 442.9,47.9 442.9,46.9 442.9,45.9 442.9,44.9 443.0,43.9 443.0,42.9 443.0,41.9 443.0,41.0 443.0,40.1 443.0,39.1 443.0,38.3 443.1,37.4 443.1,36.5 443.1,35.7 443.1,34.9 443.1,34.1 443.1,33.3 443.2,32.6 443.2,31.9 443.2,31.1 443.2,30.5 443.2,29.8 443.2,29.2 443.3,28.5 443.3,27.9 443.3,27.4 443.3,26.8 443.3,26.3 443.3,25.8 443.4,25.3 443.4,24.8 443.4,24.4 443.4,24.0 443.4,23.6 443.4,23.2 443.5,22.9 443.5,22.6 443.5,22.3 443.5,22.0 443.5,21.8 443.5,21.6 443.6,21.4 443.6,21.2 443.6,21.1 443.6,21.0 443.6,20.8 443.7,20.9 443.7,21.1 443.8,21.3 443.8,21.4 443.8,21.6 443.8,21.8 443.8,22.1 443.8,22.3 443.9,22.6 443.9,22.9 443.9,23.3 443.9,23.6 443.9,24.0 443.9,24.4 444.0,24.9 444.0,25.3 444.0,25.8 444.0,26.3 444.0,26.9 444.0,27.4 444.1,28.0 444.1,28.6 444.1,29.2 444.1,29.9 444.1,30.5 444.1,31.2 444.2,31.9 444.2,32.7 444.2,33.4 444.2,34.2 444.2,35.0 444.2,35.8 444.3,36.6 444.3,37.5 444.3,38.3 444.3,39.2 444.3,40.1 444.3,41.1 444.3,42.0 444.4,43.0 444.4,44.0 444.4,45.0 444.4,46.0 444.4,47.0 444.4,48.1 444.5,49.1 444.5,50.2 444.5,51.3 444.5,52.4 444.5,53.5 444.5,54.6 444.6,55.8 444.6,56.9 444.6,58.1 444.6,59.3 444.6,60.5 444.6,61.7 444.7,62.9 444.7,64.1 444.7,65.4 444.7,66.6 444.7,67.9 444.7,69.1 444.8,70.4 444.8,71.7 444.8,72.9 444.8,74.2 444.8,75.5 444.8,76.8 444.9,78.1 444.9,79.4 444.9,80.7 444.9,82.0 444.9,83.4 444.9,84.7 445.0,86.0 445.0,87.3 445.0,88.7 445.0,90.0 445.0,91.3 445.0,92.6 445.0,93.9 445.1,95.3 445.1,96.6 445.1,97.9 445.1,99.2 445.1,100.5 445.1,101.8 445.2,103.1 445.2,104.4 445.2,105.7 445.2,107.0 445.2,108.3 445.2,109.6 445.3,110.8 445.3,112.1 445.3,113.4 445.3,114.6 445.3,115.8 445.3,117.1 445.4,118.3 445.4,119.5 445.4,120.7 445.4,121.9 445.4,123.0 445.4,124.2 445.5,125.3 445.5,126.5 445.5,127.6 445.5,128.7 445.5,129.8 445.5,130.9 445.6,131.9 445.6,133.0 445.6,134.0 445.6,135.0 445.6,136.0 445.6,137.0 445.6,138.0 445.7,138.9 445.7,139.8 445.7,140.8 445.7,141.7 445.7,142.5 445.7,143.4 445.8,144.2 445.8,145.0 445.8,145.8 445.8,146.6 445.8,147.4 445.8,148.1 445.9,148.8 445.9,149.5 445.9,150.2 445.9,150.8 445.9,151.4 445.9,152.0 446.0,152.6 446.0,153.2 446.0,153.7 446.0,154.2 446.0,154.7 446.0,155.2 446.1,155.6 446.1,156.0 446.1,156.4 446.1,156.8 446.1,157.1 446.1,157.4 446.2,157.7 446.2,158.0 446.2,158.2 446.2,158.5 446.2,158.7 446.2,158.8 446.2,159.0 446.3,159.1 446.3,159.2 446.4,159.2 446.4,159.0 446.4,158.9 446.4,158.7 446.5,158.5 446.5,158.3 446.5,158.1 446.5,157.8 446.5,157.5 446.5,157.2 446.6,156.9 446.6,156.5 446.6,156.2 446.6,155.7 446.6,155.3 446.6,154.9 446.7,154.4 446.7,153.9 446.7,153.4 446.7,152.8 446.7,152.2 446.7,151.6 446.8,151.0 446.8,150.4 446.8,149.7 446.8,149.0 446.8,148.3 446.8,147.6 446.9,146.9 446.9,146.1 446.9,145.3 446.9,144.5 446.9,143.7 446.9,142.8 446.9,141.9 447.0,141.1 447.0,140.2 447.0,139.2 447.0,138.3 447.0,137.3 447.0,136.4 447.1,135.4 447.1,134.3 447.1,133.3 447.1,132.3 447.1,131.2 447.1,130.1 447.2,129.1 447.2,128.0 447.2,126.8 447.2,125.7 447.2,124.6 447.2,123.4 447.3,122.2 447.3,121.1 447.3,119.9 447.3,118.7 447.3,117.5 447.3,116.2 447.4,115.0 447.4,113.8 447.4,112.5 447.4,111.3 447.4,110.0 447.4,108.7 447.5,107.5 447.5,106.2 447.5,104.9 447.5,103.6 447.5,102.3 447.5,101.0 447.5,99.7 447.6,98.3 447.6,97.0 447.6,95.7 447.6,94.4 447.6,93.1 447.6,91.7 447.7,90.4 447.7,89.1 447.7,87.8 447.7,86.4 447.7,85.1 447.7,83.8 447.8,82.5 447.8,81.2 447.8,79.9 447.8,78.5 447.8,77.2 447.8,75.9 447.9,74.6 447.9,73.4 447.9,72.1 447.9,70.8 447.9,69.5 447.9,68.3 448.0,67.0 448.0,65.8 448.0,64.5 448.0,63.3 448.0,62.1 448.0,60.9 448.1,59.7 448.1,58.5 448.1,57.3 448.1,56.2 448.1,55.0 448.1,53.9 448.2,52.8 448.2,51.6 448.2,50.6 448.2,49.5 448.2,48.4 448.2,47.4 448.2,46.3 448.3,45.3 448.3,44.3 448.3,43.3 448.3,42.3 448.3,41.4 448.3,40.5 448.4,39.5 448.4,38.6 448.4,37.8 448.4,36.9 448.4,36.1 448.4,35.2 448.5,34.4 448.5,33.7 448.5,32.9 448.5,32.2 448.5,31.5 448.5,30.8 448.6,30.1 448.6,29.4 448.6,28.8 448.6,28.2 448.6,27.6 448.6,27.0 448.7,26.5 448.7,26.0 448.7,25.5 448.7,25.0 448.7,24.6 448.7,24.2 448.8,23.8 448.8,23.4 448.8,23.1 448.8,22.7 448.8,22.4 448.8,22.2 448.8,21.9 448.9,21.7 448.9,21.5 448.9,21.3 448.9,21.2 448.9,21.0 449.0,20.9 449.0,20.8" fill="none" stroke="#1a1a1a" stroke-width="1.2" stroke-linejoin="round"/>
<polyline points="449.0,20.8 449.1,20.9 449.1,21.1 449.1,21.2 449.1,21.4 449.1,21.6 449.2,21.8 449.2,22.0 449.2,22.3 449.2,22.6 449.2,22.9 449.3,23.2 449.3,23.6 449.3,24.0 449.3,24.3 449.4,24.7 449.4,25.1 449.4,25.6 449.4,26.0 449.4,26.4 449.5,26.9 449.5,27.3 449.5,27.8 449.5,28.2 449.5,28.8 449.6,29.4 449.6,30.1 449.6,31.0 449.6,31.9 449.6,32.9 449.7,34.0 449.7,35.1 449.7,36.3 449.7,37.6 449.7,38.8 449.8,40.2 449.8,41.5 449.8,42.9 449.8,44.2 449.9,45.6 449.9,47.0 449.9,48.4 449.9,49.7 449.9,51.0 450.0,52.3 450.0,53.5 450.0,54.7 450.0,55.8 450.0,56.8 450.1,57.8 450.1,58.7 450.1,59.5 450.1,60.2 450.1,60.7 450.2,61.3 450.2,61.8 450.2,62.3 450.2,62.8 450.3,63.3 450.3,63.8 450.3,64.3 450.3,64.8 450.3,65.3 450.4,65.8 450.4,66.2 450.4,66.7 450.4,67.1 450.4,67.5 450.5,68.0 450.5,68.4 450.5,68.8 450.5,69.2 450.5,69.5 450.6,69.9 450.6,70.3 450.6,70.6 450.6,70.9 450.6,71.3 450.7,71.6 450.7,71.9 450.7,72.1 450.7,72.4 450.8,72.7 450.8,72.9 450.8,73.2 450.8,73.4 450.8,73.6 450.9,73.8 450.9,73.9 450.9,74.1 450.9,74.3 450.9,74.4 451.0,74.5 451.0,74.6 451.0,74.8 451.1,75.0 451.1,75.1 451.2,75.2 451.2,75.4 451.2,75.5 451.3,75.6 451.3,75.7 451.4,75.8 451.4,75.8 451.4,75.9 451.5,76.0 451.5,76.1 451.6,76.2 451.6,76.3 451.7,76.4 451.7,76.5 451.7,76.6 451.8,76.7 451.8,76.9 451.9,77.0 451.9,77.2 451.9,77.3 451.9,77.4 452.0,77.5 452.0,77.7 452.0,77.8 452.0,77.9 452.1,78.0 452.1,78.2 452.1,78.3 452.1,78.4 452.1,78.6 452.2,78.7 452.2,78.8 452.2,79.0 452.2,79.1 452.2,79.3 452.3,79.4 452.3,79.5 452.3,79.7 452.3,79.8 452.3,80.0 452.4,80.1 452.4,80.3 452.4,80.4 452.4,80.6 452.5,80.7 452.5,80.9 452.5,81.0 452.5,81.1 452.5,81.3 452.6,81.4 452.6,81.5 452.6,81.7 452.6,81.8 452.6,81.9 452.7,82.1 452.7,82.2 452.7,82.3 452.7,82.4 452.7,82.5 452.8,82.6 452.8,82.7 452.8,82.9 452.9,83.1 452.9,83.2 453.0,83.4 453.0,83.5 453.0,83.7 453.1,83.8 453.1,84.0 453.2,84.1 453.2,84.2 453.2,84.4 453.3,84.5 453.3,84.6 453.4,84.8 453.4,84.9 453.5,85.0 453.5,85.1 453.5,85.2 453.6,85.3 453.6,85.4 453.7,85.6 453.7,85.7 453.7,85.8 453.8,85.9 453.8,86.0 453.9,86.1 453.9,86.2 454.0,86.2 454.0,86.3 454.0,86.4 454.1,86.5 454.1,86.6 454.2,86.7 454.2,86.8 454.3,86.9 454.3,87.0 454.4,87.1 454.4,87.1 454.5,87.2 454.5,87.3 454.5,87.4 454.6,87.5 454.6,87.5 454.7,87.7 454.8,87.8 454.8,87.9 454.9,88.0 454.9,88.1 455.0,88.1 455.1,88.2 455.1,88.3 455.2,88.4 455.3,88.4 455.4,88.4 455.5,88.5 455.7,88.4 455.8,88.4 455.9,88.4 456.0,88.4 456.1,88.5 456.2,88.5 456.3,88.6 456.3,88.7 456.4,88.8 456.5,88.8 456.5,88.9 456.6,89.1 456.7,89.2 456.7,89.2 456.7,89.3 456.8,89.4 456.8,89.5 456.9,89.6 456.9,89.7 457.0,89.8 457.0,89.8 457.0,89.9 457.1,90.0 457.2,90.1 457.2,90.2 457.3,90.3 457.4,90.4 457.4,90.4 457.5,90.4 457.6,90.4 457.7,90.3 457.8,90.3 457.9,90.2 457.9,90.1 458.0,90.0 458.0,89.9 458.1,89.8 458.1,89.7 458.1,89.6 458.2,89.5 458.2,89.4 458.3,89.3 458.3,89.3 458.4,89.2 458.4,89.1 458.5,89.0 458.5,88.9 458.6,88.8 458.7,88.8 458.8,88.8 458.9,88.8 458.9,88.9 459.0,89.0 459.1,89.1 459.1,89.2 459.2,89.3 459.2,89.4 459.2,89.5 459.3,89.6 459.3,89.7 459.4,89.8 459.4,89.9 459.4,90.0 459.5,90.1 459.5,90.2 459.6,90.4 459.6,90.5 459.7,90.6 459.7,90.7 459.7,90.8 459.8,90.8 459.8,91.0 459.9,91.0 460.0,91.1 460.1,91.2 460.2,91.2 460.3,91.1 460.3,91.1 460.4,91.0 460.5,90.9 460.5,90.8 460.5,90.7 460.6,90.6 460.6,90.5 460.7,90.4 460.7,90.3 460.7,90.2 460.8,90.1 460.8,90.0 460.9,89.9 460.9,89.8 461.0,89.7 461.0,89.6 461.0,89.5 461.1,89.4 461.1,89.3 461.2,89.2 461.2,89.1 461.3,89.0 461.4,88.9 461.5,88.9 461.6,89.0 461.7,89.0 461.7,89.1 461.8,89.2 461.9,89.3 461.9,89.4 461.9,89.5 462.0,89.6 462.0,89.7 462.1,89.8 462.1,89.9 462.1,90.0 462.2,90.1 462.2,90.2 462.3,90.3 462.3,90.4 462.4,90.5 462.4,90.6 462.4,90.7 462.5,90.8 462.5,90.9 462.6,91.0 462.7,91.1 462.8,91.2 462.9,91.2 463.0,91.1 463.0,91.1 463.1,91.0 463.2,90.9 463.2,90.8 463.3,90.7 463.3,90.6 463.3,90.5 463.4,90.4 463.4,90.3 463.5,90.2 463.5,90.1 463.6,90.0 463.6,89.9 463.6,89.8 463.7,89.7 463.7,89.6 463.8,89.5 463.8,89.4 463.8,89.3 463.9,89.2 464.0,89.1 464.0,89.0 464.1,88.9 464.2,88.9 464.3,89.0 464.4,89.0 464.5,89.1 464.5,89.2 464.6,89.3 464.6,89.4 464.7,89.5 464.7,89.6 464.7,89.7 464.8,89.8 464.8,89.9 464.9,90.0 464.9,90.1 465.0,90.2 465.0,90.3 465.0,90.5 465.1,90.6 465.1,90.7 465.2,90.7 465.2,90.8 465.3,90.9 465.3,91.0 465.4,91.1 465.5,91.2 465.6,91.2 465.7,91.1 465.7,91.1 465.8,91.0 465.9,90.9 465.9,90.8 466.0,90.7 466.0,90.6 466.1,90.5 466.1,90.4 466.1,90.3 466.2,90.2 466.2,90.1 466.3,90.0 466.3,89.9 466.4,89.7 466.4,89.6 466.4,89.5 466.5,89.4 466.5,89.4 466.6,89.3 466.6,89.2 466.7,89.1 466.8,89.0 466.8,88.9 466.9,88.9 467.0,89.0 467.1,89.0 467.2,89.1 467.2,89.2 467.3,89.3 467.3,89.4 467.4,89.5 467.4,89.6 467.5,89.7 467.5,89.8 467.5,89.9 467.6,90.0 467.6,90.1 467.7,90.3 467.7,90.4 467.8,90.5 467.8,90.6 467.8,90.7 467.9,90.8 467.9,90.8 468.0,90.9 468.1,91.0 468.1,91.1 468.2,91.2 468.3,91.2 468.4,91.1 468.5,91.1 468.5,91.0 468.6,90.9 468.7,90.8 468.7,90.7 468.7,90.6 468.8,90.5 468.8,90.4 468.9,90.3 468.9,90.2 469.0,90.1 469.0,89.9 469.0,89.8 469.1,89.7 469.1,89.6 469.2,89.5 469.2,89.4 469.2,89.3 469.3,89.3 469.4,89.2 469.4,89.1 469.5,89.0 469.6,88.9 469.7,88.9 469.8,89.0 469.8,89.0 469.9,89.1 470.0,89.2 470.0,89.3 470.0,89.4 470.1,89.5 470.1,89.6 470.2,89.7 470.2,89.8 470.3,89.9 470.3,90.0 470.3,90.1 470.4,90.2 470.4,90.3 470.5,90.4 470.5,90.5 470.5,90.6 470.6,90.7 470.6,90.8 470.7,90.9 470.7,91.0 470.8,91.1 470.9,91.1 470.9,91.2 471.1,91.2 471.2,91.1 471.2,91.0 471.3,90.9 471.3,90.8 471.4,90.8 471.4,90.7 471.5,90.6 471.5,90.5 471.5,90.4 471.6,90.3 471.6,90.2 471.7,90.0 471.7,89.9 471.8,89.8 471.8,89.7 471.8,89.6 471.9,89.5 471.9,89.4 472.0,89.3 472.0,89.3 472.1,89.1 472.1,89.1 472.2,89.0 472.3,88.9 472.4,88.9 472.5,89.0 472.6,89.0 472.6,89.1 472.7,89.2 472.7,89.3 472.8,89.4 472.8,89.5 472.8,89.6 472.9,89.7 472.9,89.8 473.0,89.9 473.0,90.0 473.1,90.1 473.1,90.2 473.1,90.3 473.2,90.4 473.2,90.5 473.3,90.6 473.3,90.7 473.4,90.8 473.4,90.9 473.5,91.0 473.5,91.1 473.6,91.2 473.7,91.2 473.8,91.1 473.9,91.1 474.0,91.0 474.0,90.9 474.1,90.8 474.1,90.7 474.2,90.6 474.2,90.5 474.3,90.4 474.3,90.3 474.3,90.2 474.4,90.1 474.4,90.0 474.5,89.9 474.5,89.8 474.5,89.7 474.6,89.6 474.6,89.5 474.7,89.4 474.7,89.3 474.8,89.2 474.8,89.1 474.9,89.0 475.0,88.9 475.1,88.9 475.2,89.0 475.3,89.0 475.3,89.1 475.4,89.2 475.4,89.3 475.5,89.4 475.5,89.5 475.6,89.6 475.6,89.7 475.7,89.8 475.7,89.9 475.7,90.0 475.8,90.1 475.8,90.2 475.9,90.4 475.9,90.5 475.9,90.6 476.0,90.7 476.0,90.7 476.1,90.8 476.1,90.9 476.2,91.0 476.3,91.1 476.3,91.2 476.5,91.2 476.6,91.1 476.6,91.1 476.7,91.0 476.7,90.9 476.8,90.8 476.8,90.7 476.9,90.6 476.9,90.5 477.0,90.4 477.0,90.3 477.1,90.2 477.1,90.1 477.1,90.0 477.2,89.8 477.2,89.7 477.3,89.6 477.3,89.5 477.4,89.4 477.4,89.4 477.4,89.3 477.5,89.2 477.6,89.1 477.6,89.0 477.7,88.9 477.8,88.9 477.9,89.0 478.0,89.0 478.0,89.1 478.1,89.2 478.2,89.3 478.2,89.4 478.3,89.5 478.3,89.6 478.3,89.7 478.4,89.8 478.4,89.9 478.5,90.0 478.5,90.1 478.5,90.3 478.6,90.4 478.6,90.5 478.7,90.6 478.7,90.7 478.8,90.8 478.8,90.8 478.9,90.9 478.9,91.0 479.0,91.1 479.1,91.2 479.2,91.2 479.3,91.1 479.3,91.1 479.4,91.0 479.5,90.9 479.5,90.8 479.5,90.7 479.6,90.6 479.6,90.5 479.7,90.4 479.7,90.3 479.8,90.2 479.8,90.1 479.8,90.0 479.9,89.9 479.9,89.8 480.0,89.7 480.0,89.6 480.1,89.5 480.1,89.4 480.1,89.3 480.2,89.2 480.2,89.1 480.3,89.0 480.4,89.0 480.5,88.9 480.6,88.9 480.7,89.0 480.7,89.1 480.8,89.2 480.8,89.3 480.9,89.3 480.9,89.4 481.0,89.5 481.0,89.6 481.1,89.7 481.1,89.8 481.1,89.9 481.2,90.1 481.2,90.2 481.3,90.3 481.3,90.4 481.4,90.5 481.4,90.6 481.4,90.7 481.5,90.8 481.5,90.8 481.6,91.0 481.6,91.0 481.7,91.1 481.8,91.2 481.9,91.2 482.0,91.1 482.1,91.1 482.1,91.0 482.2,90.9 482.2,90.8 482.3,90.7 482.3,90.6 482.4,90.5 482.4,90.4 482.4,90.3 482.5,90.2 482.5,90.1 482.6,90.0 482.6,89.9 482.6,89.8 482.7,89.7 482.7,89.6 482.8,89.5 482.8,89.4 482.9,89.3 482.9,89.2 483.0,89.1 483.0,89.0 483.1,88.9 483.2,88.9 483.3,89.0 483.4,89.0 483.5,89.1 483.5,89.2 483.6,89.3 483.6,89.4 483.7,89.5 483.7,89.6 483.8,89.7 483.8,89.8 483.8,89.9 483.9,90.0 483.9,90.1 484.0,90.2 484.0,90.3 484.1,90.4 484.1,90.5 484.1,90.6 484.2,90.7 484.2,90.8 484.3,90.9 484.3,91.0 484.4,91.1 484.5,91.2 484.6,91.2 484.7,91.1 484.8,91.1 484.8,91.0 484.9,90.9 485.0,90.8 485.0,90.7 485.0,90.6 485.1,90.5 485.1,90.4 485.2,90.3 485.2,90.2 485.2,90.1 485.3,90.0 485.3,89.9 485.4,89.8 485.4,89.6 485.5,89.5 485.5,89.5 485.5,89.4 485.6,89.3 485.6,89.2 485.7,89.1 485.8,89.0 485.9,88.9 486.0,88.9 486.1,89.0 486.1,89.0 486.2,89.1 486.3,89.2 486.3,89.3 486.4,89.4 486.4,89.5 486.4,89.6 486.5,89.7 486.5,89.8 486.6,89.9 486.6,90.0 486.6,90.1 486.7,90.2 486.7,90.4 486.8,90.5 486.8,90.6 486.9,90.7 486.9,90.7 486.9,90.8 487.0,90.9 487.1,91.0 487.1,91.1 487.2,91.2 487.3,91.2 487.4,91.1 487.5,91.1 487.5,91.0 487.6,90.9 487.7,90.8 487.7,90.7 487.8,90.6 487.8,90.5 487.8,90.4 487.9,90.3 487.9,90.2 488.0,90.1 488.0,90.0 488.1,89.8 488.1,89.7 488.1,89.6 488.2,89.5 488.2,89.4 488.3,89.4 488.3,89.3 488.4,89.2 488.4,89.1 488.5,89.0 488.6,88.9 488.7,88.9 488.8,89.0 488.8,89.0 488.9,89.1 489.0,89.2 489.0,89.3 489.1,89.4 489.1,89.5 489.2,89.6 489.2,89.7 489.2,89.8 489.3,89.9 489.3,90.0 489.4,90.2 489.4,90.3 489.5,90.4 489.5,90.5 489.5,90.6 489.6,90.7 489.6,90.8 489.7,90.8 489.7,90.9 489.8,91.0 489.9,91.1 489.9,91.2 490.1,91.2 490.1,91.1 490.2,91.1 490.3,91.0 490.3,90.9 490.4,90.8 490.4,90.7 490.5,90.6 490.5,90.5 490.5,90.4 490.6,90.3 490.6,90.2 490.7,90.1 490.7,90.0 490.8,89.9 490.8,89.8 490.8,89.7 490.9,89.6 490.9,89.5 491.0,89.4 491.0,89.3 491.0,89.2 491.1,89.1 491.2,89.0 491.2,89.0 491.3,88.9 491.4,88.9 491.5,89.0 491.6,89.1 491.7,89.2 491.7,89.3 491.8,89.3 491.8,89.4 491.8,89.5 491.9,89.6 491.9,89.7 492.0,89.8 492.0,89.9 492.1,90.1 492.1,90.2 492.1,90.3 492.2,90.4 492.2,90.5 492.3,90.6 492.3,90.7 492.3,90.8 492.4,90.8 492.4,91.0 492.5,91.0 492.6,91.1 492.7,91.2 492.8,91.2 492.9,91.1 492.9,91.1 493.0,91.0 493.1,90.9 493.1,90.8 493.1,90.7 493.2,90.6 493.2,90.5 493.3,90.4 493.3,90.3 493.4,90.2 493.4,90.1 493.4,90.0 493.5,89.9 493.5,89.8 493.6,89.7 493.6,89.6 493.6,89.5 493.7,89.4 493.7,89.3 493.8,89.2 493.9,89.1 493.9,89.0 494.0,88.9 494.1,88.9 494.2,89.0 494.3,89.0 494.4,89.1 494.4,89.2 494.5,89.3 494.5,89.4 494.5,89.5 494.6,89.6 494.6,89.7 494.7,89.8 494.7,89.9 494.8,90.0 494.8,90.1 494.8,90.2 494.9,90.3 494.9,90.4 495.0,90.5 495.0,90.6 495.0,90.7 495.1,90.8 495.2,90.9 495.2,91.0 495.3,91.1 495.4,91.2 495.5,91.2 495.6,91.1 495.6,91.1 495.7,91.0 495.8,90.9 495.8,90.8 495.9,90.7 495.9,90.6 495.9,90.5 496.0,90.4 496.0,90.3 496.1,90.2 496.1,90.1 496.2,90.0 496.2,89.9 496.2,89.8 496.3,89.6 496.3,89.5 496.4,89.5 496.4,89.4 496.4,89.3 496.5,89.2 496.6,89.1 496.6,89.0 496.7,88.9 496.8,88.9 496.9,89.0 497.0,89.0 497.1,89.1 497.1,89.2 497.2,89.3 497.2,89.4 497.3,89.5 497.3,89.6 497.4,89.7 497.4,89.8 497.4,89.9 497.5,90.0 497.5,90.1 497.6,90.2 497.6,90.4 497.6,90.5 497.7,90.6 497.7,90.7 497.8,90.7 497.8,90.8 497.9,90.9 497.9,91.0 498.0,91.1 498.1,91.2 498.2,91.2 498.3,91.1 498.4,91.1 498.4,91.0 498.5,90.9 498.5,90.8 498.6,90.7 498.6,90.6 498.7,90.5 498.7,90.4 498.8,90.3 498.8,90.2 498.8,90.1 498.9,90.0 498.9,89.8 499.0,89.7 499.0,89.6 499.0,89.5 499.1,89.4 499.1,89.3 499.2,89.3 499.2,89.2 499.3,89.1 499.4,89.0 499.4,88.9 499.5,88.9 499.7,89.0 499.7,89.0 499.8,89.1 499.8,89.2 499.9,89.3 499.9,89.4 500.0,89.5 500.0,89.6 500.1,89.7 500.1,89.8 500.2,89.9 500.2,90.0 500.2,90.2 500.3,90.3 500.3,90.4 500.4,90.5 500.4,90.6 500.4,90.7 500.5,90.8 500.5,90.8 500.6,90.9 500.7,91.0 500.7,91.1 500.8,91.2 500.9,91.2 501.0,91.1 501.1,91.1 501.1,91.0 501.2,90.9 501.2,90.8 501.3,90.7 501.3,90.6 501.4,90.5 501.4,90.4 501.5,90.3 501.5,90.2 501.5,90.1 501.6,90.0 501.6,89.9 501.7,89.8 501.7,89.7 501.7,89.6 501.8,89.5 501.8,89.4 501.9,89.3 501.9,89.2 502.0,89.1 502.0,89.0 502.1,89.0 502.2,88.9 502.3,88.9 502.4,89.0 502.5,89.1 502.5,89.2 502.6,89.3 502.6,89.3 502.7,89.4 502.7,89.5 502.8,89.6 502.8,89.7 502.8,89.8 502.9,89.9 502.9,90.1 503.0,90.2 503.0,90.3 503.0,90.4 503.1,90.5 503.1,90.6 503.2,90.7 503.2,90.8 503.3,90.8 503.3,91.0 503.4,91.0 503.4,91.1 503.5,91.2 503.7,91.2 503.7,91.1 503.8,91.1 503.9,91.0 503.9,90.9 504.0,90.8 504.0,90.7 504.1,90.6 504.1,90.5 504.1,90.4 504.2,90.3 504.2,90.2 504.3,90.1 504.3,90.0 504.3,89.9 504.4,89.8 504.4,89.7 504.5,89.6 504.5,89.5 504.6,89.4 504.6,89.3 504.7,89.2 504.7,89.1 504.8,89.0 504.9,88.9 505.0,88.9 505.1,89.0 505.1,89.0 505.2,89.1 505.3,89.2 505.3,89.3 505.4,89.4 505.4,89.5 505.5,89.6 505.5,89.7 505.5,89.8 505.6,89.9 505.6,90.0 505.7,90.1 505.7,90.2 505.7,90.3 505.8,90.4 505.8,90.5 505.9,90.6 505.9,90.7 506.0,90.8 506.0,90.9 506.1,91.0 506.1,91.1 506.2,91.2 506.3,91.2 506.4,91.1 506.5,91.1 506.6,91.0 506.6,90.9 506.7,90.8 506.7,90.7 506.8,90.6 506.8,90.5 506.9,90.4 506.9,90.3 506.9,90.2 507.0,90.1 507.0,90.0 507.1,89.9 507.1,89.7 507.2,89.6 507.2,89.5 507.2,89.4 507.3,89.4 507.3,89.3 507.4,89.2 507.4,89.1 507.5,89.0 507.6,88.9 507.7,88.9 507.8,89.0 507.9,89.0 507.9,89.1 508.0,89.2 508.1,89.3 508.1,89.4 508.1,89.5 508.2,89.6 508.2,89.7 508.3,89.8 508.3,89.9 508.3,90.0 508.4,90.1 508.4,90.3 508.5,90.4 508.5,90.5 508.6,90.6 508.6,90.7 508.6,90.7 508.7,90.8 508.7,90.9 508.8,91.0 508.9,91.1 509.0,91.2 509.1,91.2 509.2,91.1 509.2,91.1 509.3,91.0 509.3,90.9 509.4,90.8 509.5,90.7 509.5,90.6 509.5,90.5 509.6,90.4 509.6,90.3 509.7,90.2 509.7,90.1 509.7,90.0 509.8,89.8 509.8,89.7 509.9,89.6 509.9,89.5 510.0,89.4 510.0,89.3 510.0,89.3 510.1,89.2 510.2,89.1 510.2,89.0 510.3,88.9 510.4,88.9 510.5,89.0 510.6,89.0 510.6,89.1 510.7,89.2 510.8,89.3 510.8,89.4 510.8,89.5 510.9,89.6 510.9,89.7 511.0,89.8 511.0,89.9 511.0,90.0 511.1,90.1 511.1,90.2 511.2,90.3 511.2,90.4 511.3,90.5 511.3,90.6 511.3,90.7 511.4,90.8 511.4,90.9 511.5,91.0 511.5,91.1 511.6,91.1 511.7,91.2 511.8,91.2" fill="none" stroke="#da7a90" stroke-width="1.0"/>
<polyline points="449.0,20.8 449.1,20.9 449.1,21.1 449.1,21.2 449.1,21.4 449.1,21.6 449.2,21.8 449.2,22.0 449.2,22.3 449.2,22.6 449.2,22.9 449.3,23.2 449.3,23.6 449.3,24.0 449.3,24.3 449.4,24.7 449.4,25.1 449.4,25.6 449.4,26.0 449.4,26.4 449.5,26.9 449.5,27.3 449.5,27.8 449.5,28.2 449.5,28.8 449.6,29.4 449.6,30.1 449.6,31.0 449.6,31.9 449.6,32.9 449.7,34.0 449.7,35.1 449.7,36.3 449.7,37.6 449.7,38.8 449.8,40.2 449.8,41.5 449.8,42.9 449.8,44.2 449.9,45.6 449.9,47.0 449.9,48.4 449.9,49.7 449.9,51.0 450.0,52.3 450.0,53.5 450.0,54.7 450.0,55.8 450.0,56.8 450.1,57.8 450.1,58.7 450.1,59.5 450.1,60.2 450.1,60.7 450.2,61.3 450.2,61.8 450.2,62.3 450.2,62.8 450.3,63.3 450.3,63.8 450.3,64.3 450.3,64.8 450.3,65.3 450.4,65.8 450.4,66.2 450.4,66.7 450.4,67.1 450.4,67.5 450.5,68.0 450.5,68.4 450.5,68.8 450.5,69.2 450.5,69.5 450.6,69.9 450.6,70.3 450.6,70.6 450.6,70.9 450.6,71.3 450.7,71.6 450.7,71.9 450.7,72.1 450.7,72.4 450.8,72.7 450.8,72.9 450.8,73.2 450.8,73.4 450.8,73.6 450.9,73.8 450.9,73.9 450.9,74.1 450.9,74.3 450.9,74.4 451.0,74.5 451.0,74.6 451.0,74.8 451.1,75.0 451.1,75.1 451.2,75.2 451.2,75.4 451.2,75.5 451.3,75.6 451.3,75.7 451.4,75.8 451.4,75.8 451.4,75.9 451.5,76.0 451.5,76.1 451.6,76.2 451.6,76.3 451.7,76.4 451.7,76.5 451.7,76.6 451.8,76.7 451.8,76.9 451.9,77.0 451.9,77.2 451.9,77.3 451.9,77.4 452.0,77.5 452.0,77.7 452.0,77.8 452.0,77.9 452.1,78.0 452.1,78.2 452.1,78.3 452.1,78.4 452.1,78.6 452.2,78.7 452.2,78.8 452.2,79.0 452.2,79.1 452.2,79.3 452.3,79.4 452.3,79.5 452.3,79.7 452.3,79.8 452.3,80.0 452.4,80.1 452.4,80.3 452.4,80.4 452.4,80.6 452.5,80.7 452.5,80.9 452.5,81.0 452.5,81.1 452.5,81.3 452.6,81.4 452.6,81.5 452.6,81.7 452.6,81.8 452.6,81.9 452.7,82.1 452.7,82.2 452.7,82.3 452.7,82.4 452.7,82.5 452.8,82.6 452.8,82.7 452.8,82.9 452.9,83.1 452.9,83.2 453.0,83.4 453.0,83.5 453.0,83.7 453.1,83.8 453.1,84.0 453.2,84.1 453.2,84.2 453.2,84.4 453.3,84.5 453.3,84.6 453.4,84.8 453.4,84.9 453.5,85.0 453.5,85.1 453.5,85.2 453.6,85.3 453.6,85.4 453.7,85.6 453.7,85.7 453.7,85.8 453.8,85.9 453.8,86.0 453.9,86.1 453.9,86.2 454.0,86.2 454.0,86.3 454.0,86.4 454.1,86.5 454.1,86.6 454.2,86.7 454.2,86.8 454.3,86.9 454.3,87.0 454.4,87.1 454.4,87.1 454.5,87.2 454.5,87.3 454.5,87.4 454.6,87.5 454.6,87.5 454.7,87.7 454.8,87.8 454.8,87.9 454.9,88.0 454.9,88.1 455.0,88.1 455.1,88.2 455.1,88.3 455.2,88.4 455.3,88.4 455.4,88.4 455.5,88.5 455.7,88.4 455.8,88.4 455.9,88.4 456.0,88.4 456.1,88.5 456.2,88.5 456.3,88.6 456.3,88.7 456.4,88.8 456.5,88.8 456.5,88.9 456.6,89.1 456.7,89.2 456.7,89.2 456.7,89.3 456.8,89.4 456.8,89.5 456.9,89.6 456.9,89.7 457.0,89.8 457.0,89.8 457.0,89.9 457.1,90.0 457.2,90.1 457.2,90.2 457.3,90.3 457.4,90.4 457.4,90.4 457.5,90.4 457.6,90.4 457.7,90.3 457.8,90.3 457.9,90.2 457.9,90.1 458.0,90.0 458.0,89.9 458.1,89.8 458.1,89.7 458.1,89.6 458.2,89.5 458.2,89.4 458.3,89.3 458.3,89.3 458.4,89.2 458.4,89.1 458.5,89.0 458.5,88.9 458.6,88.8 458.7,88.8 458.8,88.8 458.9,88.8 458.9,88.9 459.0,89.0 459.1,89.1 459.1,89.2 459.2,89.3 459.2,89.4 459.2,89.5 459.3,89.6 459.3,89.7 459.4,89.8 459.4,89.9 459.4,90.0 459.5,90.1 459.5,90.2 459.6,90.4 459.6,90.5 459.7,90.6 459.7,90.7 459.7,90.8 459.8,90.8 459.8,91.0 459.9,91.0 460.0,91.1 460.1,91.2 460.2,91.2 460.3,91.1 460.3,91.1 460.4,91.0 460.5,90.9 460.5,90.8 460.5,90.7 460.6,90.6 460.6,90.5 460.7,90.4 460.7,90.3 460.7,90.2 460.8,90.1 460.8,90.0 460.9,89.9 460.9,89.8 461.0,89.7 461.0,89.6 461.0,89.5 461.1,89.4 461.1,89.3 461.2,89.2 461.2,89.1 461.3,89.0 461.4,88.9 461.5,88.9 461.6,89.0 461.7,89.0 461.7,89.1 461.8,89.2 461.9,89.3 461.9,89.4 461.9,89.5 462.0,89.6 462.0,89.7 462.1,89.8 462.1,89.9 462.1,90.0 462.2,90.1 462.2,90.2 462.3,90.3 462.3,90.4 462.4,90.5 462.4,90.6 462.4,90.7 462.5,90.8 462.5,90.9 462.6,91.0 462.7,91.1 462.8,91.2 462.9,91.2 463.0,91.1 463.0,91.1 463.1,91.0 463.2,90.9 463.2,90.8 463.3,90.7 463.3,90.6 463.3,90.5 463.4,90.4 463.4,90.3 463.5,90.2 463.5,90.1 463.6,90.0 463.6,89.9 463.6,89.8 463.7,89.7 463.7,89.6 463.8,89.5 463.8,89.4 463.8,89.3 463.9,89.2 464.0,89.1 464.0,89.0 464.1,88.9 464.2,88.9 464.3,89.0 464.4,89.0 464.5,89.1 464.5,89.2 464.6,89.3 464.6,89.4 464.7,89.5 464.7,89.6 464.7,89.7 464.8,89.8 464.8,89.9 464.9,90.0 464.9,90.1 465.0,90.2 465.0,90.3 465.0,90.5 465.1,90.6 465.1,90.7 465.2,90.7 465.2,90.8 465.3,90.9 465.3,91.0 465.4,91.1 465.5,91.2 465.6,91.2 465.7,91.1 465.7,91.1 465.8,91.0 465.9,90.9 465.9,90.8 466.0,90.7 466.0,90.6 466.1,90.5 466.1,90.4 466.1,90.3 466.2,90.2 466.2,90.1 466.3,90.0 466.3,89.9 466.4,89.7 466.4,89.6 466.4,89.5 466.5,89.4 466.5,89.4 466.6,89.3 466.6,89.2 466.7,89.1 466.8,89.0 466.8,88.9 466.9,88.9 467.0,89.0 467.1,89.0 467.2,89.1 467.2,89.2 467.3,89.3 467.3,89.4 467.4,89.5 467.4,89.6 467.5,89.7 467.5,89.8 467.5,89.9 467.6,90.0 467.6,90.1 467.7,90.3 467.7,90.4 467.8,90.5 467.8,90.6 467.8,90.7 467.9,90.8 467.9,90.8 468.0,90.9 468.1,91.0 468.1,91.1 468.2,91.2 468.3,91.2 468.4,91.1 468.5,91.1 468.5,91.0 468.6,90.9 468.7,90.8 468.7,90.7 468.7,90.6 468.8,90.5 468.8,90.4 468.9,90.3 468.9,90.2 469.0,90.1 469.0,89.9 469.0,89.8 469.1,89.7 469.1,89.6 469.2,89.5 469.2,89.4 469.2,89.3 469.3,89.3 469.4,89.2 469.4,89.1 469.5,89.0 469.6,88.9 469.7,88.9 469.8,89.0 469.8,89.0 469.9,89.1 470.0,89.2 470.0,89.3 470.0,89.4 470.1,89.5 470.1,89.6 470.2,89.7 470.2,89.8 470.3,89.9 470.3,90.0 470.3,90.1 470.4,90.2 470.4,90.3 470.5,90.4 470.5,90.5 470.5,90.6 470.6,90.7 470.6,90.8 470.7,90.9 470.7,91.0 470.8,91.1 470.9,91.1 470.9,91.2 471.1,91.2 471.2,91.1 471.2,91.0 471.3,90.9 471.3,90.8 471.4,90.8 471.4,90.7 471.5,90.6 471.5,90.5 471.5,90.4 471.6,90.3 471.6,90.2 471.7,90.0 471.7,89.9 471.8,89.8 471.8,89.7 471.8,89.6 471.9,89.5 471.9,89.4 472.0,89.3 472.0,89.3 472.1,89.1 472.1,89.1 472.2,89.0 472.3,88.9 472.4,88.9 472.5,89.0 472.6,89.0 472.6,89.1 472.7,89.2 472.7,89.3 472.8,89.4 472.8,89.5 472.8,89.6 472.9,89.7 472.9,89.8 473.0,89.9 473.0,90.0 473.1,90.1 473.1,90.2 473.1,90.3 473.2,90.4 473.2,90.5 473.3,90.6 473.3,90.7 473.4,90.8 473.4,90.9 473.5,91.0 473.5,91.1 473.6,91.2 473.7,91.2 473.8,91.1 473.9,91.1 474.0,91.0 474.0,90.9 474.1,90.8 474.1,90.7 474.2,90.6 474.2,90.5 474.3,90.4 474.3,90.3 474.3,90.2 474.4,90.1 474.4,90.0 474.5,89.9 474.5,89.8 474.5,89.7 474.6,89.6 474.6,89.5 474.7,89.4 474.7,89.3 474.8,89.2 474.8,89.1 474.9,89.0 475.0,88.9 475.1,88.9 475.2,89.0 475.3,89.0 475.3,89.1 475.4,89.2 475.4,89.3 475.5,89.4 475.5,89.5 475.6,89.6 475.6,89.7 475.7,89.8 475.7,89.9 475.7,90.0 475.8,90.1 475.8,90.2 475.9,90.4 475.9,90.5 475.9,90.6 476.0,90.7 476.0,90.7 476.1,90.8 476.1,90.9 476.2,91.0 476.3,91.1 476.3,91.2 476.5,91.2 476.6,91.1 476.6,91.1 476.7,91.0 476.7,90.9 476.8,90.8 476.8,90.7 476.9,90.6 476.9,90.5 477.0,90.4 477.0,90.3 477.1,90.2 477.1,90.1 477.1,90.0 477.2,89.8 477.2,89.7 477.3,89.6 477.3,89.5 477.4,89.4 477.4,89.4 477.4,89.3 477.5,89.2 477.6,89.1 477.6,89.0 477.7,88.9 477.8,88.9 477.9,89.0 478.0,89.0 478.0,89.1 478.1,89.2 478.2,89.3 478.2,89.4 478.3,89.5 478.3,89.6 478.3,89.7 478.4,89.8 478.4,89.9 478.5,90.0 478.5,90.1 478.5,90.3 478.6,90.4 478.6,90.5 478.7,90.6 478.7,90.7 478.8,90.8 478.8,90.8 478.9,90.9 478.9,91.0 479.0,91.1 479.1,91.2 479.2,91.2 479.3,91.1 479.3,91.1 479.4,91.0 479.5,90.9 479.5,90.8 479.5,90.7 479.6,90.6 479.6,90.5 479.7,90.4 479.7,90.3 479.8,90.2 479.8,90.1 479.8,90.0 479.9,89.9 479.9,89.8 480.0,89.7 480.0,89.6 480.1,89.5 480.1,89.4 480.1,89.3 480.2,89.2 480.2,89.1 480.3,89.0 480.4,89.0 480.5,88.9 480.6,88.9 480.7,89.0 480.7,89.1 480.8,89.2 480.8,89.3 480.9,89.3 480.9,89.4 481.0,89.5 481.0,89.6 481.1,89.7 481.1,89.8 481.1,89.9 481.2,90.1 481.2,90.2 481.3,90.3 481.3,90.4 481.4,90.5 481.4,90.6 481.4,90.7 481.5,90.8 481.5,90.8 481.6,91.0 481.6,91.0 481.7,91.1 481.8,91.2 481.9,91.2 482.0,91.1 482.1,91.1 482.1,91.0 482.2,90.9 482.2,90.8 482.3,90.7 482.3,90.6 482.4,90.5 482.4,90.4 482.4,90.3 482.5,90.2 482.5,90.1 482.6,90.0 482.6,89.9 482.6,89.8 482.7,89.7 482.7,89.6 482.8,89.5 482.8,89.4 482.9,89.3 482.9,89.2 483.0,89.1 483.0,89.0 483.1,88.9 483.2,88.9 483.3,89.0 483.4,89.0 483.5,89.1 483.5,89.2 483.6,89.3 483.6,89.4 483.7,89.5 483.7,89.6 483.8,89.7 483.8,89.8 483.8,89.9 483.9,90.0 483.9,90.1 484.0,90.2 484.0,90.3 484.1,90.4 484.1,90.5 484.1,90.6 484.2,90.7 484.2,90.8 484.3,90.9 484.3,91.0 484.4,91.1 484.5,91.2 484.6,91.2 484.7,91.1 484.8,91.1 484.8,91.0 484.9,90.9 485.0,90.8 485.0,90.7 485.0,90.6 485.1,90.5 485.1,90.4 485.2,90.3 485.2,90.2 485.2,90.1 485.3,90.0 485.3,89.9 485.4,89.8 485.4,89.6 485.5,89.5 485.5,89.5 485.5,89.4 485.6,89.3 485.6,89.2 485.7,89.1 485.8,89.0 485.9,88.9 486.0,88.9 486.1,89.0 486.1,89.0 486.2,89.1 486.3,89.2 486.3,89.3 486.4,89.4 486.4,89.5 486.4,89.6 486.5,89.7 486.5,89.8 486.6,89.9 486.6,90.0 486.6,90.1 486.7,90.2 486.7,90.4 486.8,90.5 486.8,90.6 486.9,90.7 486.9,90.7 486.9,90.8 487.0,90.9 487.1,91.0 487.1,91.1 487.2,91.2 487.3,91.2 487.4,91.1 487.5,91.1 487.5,91.0 487.6,90.9 487.7,90.8 487.7,90.7 487.8,90.6 487.8,90.5 487.8,90.4 487.9,90.3 487.9,90.2 488.0,90.1 488.0,90.0 488.1,89.8 488.1,89.7 488.1,89.6 488.2,89.5 488.2,89.4 488.3,89.4 488.3,89.3 488.4,89.2 488.4,89.1 488.5,89.0 488.6,88.9 488.7,88.9 488.8,89.0 488.8,89.0 488.9,89.1 489.0,89.2 489.0,89.3 489.1,89.4 489.1,89.5 489.2,89.6 489.2,89.7 489.2,89.8 489.3,89.9 489.3,90.0 489.4,90.2 489.4,90.3 489.5,90.4 489.5,90.5 489.5,90.6 489.6,90.7 489.6,90.8 489.7,90.8 489.7,90.9 489.8,91.0 489.9,91.1 489.9,91.2 490.1,91.2 490.1,91.1 490.2,91.1 490.3,91.0 490.3,90.9 490.4,90.8 490.4,90.7 490.5,90.6 490.5,90.5 490.5,90.4 490.6,90.3 490.6,90.2 490.7,90.1 490.7,90.0 490.8,89.9 490.8,89.8 490.8,89.7 490.9,89.6 490.9,89.5 491.0,89.4 491.0,89.3 491.0,89.2 491.1,89.1 491.2,89.0 491.2,89.0 491.3,88.9 491.4,88.9 491.5,89.0 491.6,89.1 491.7,89.2 491.7,89.3 491.8,89.3 491.8,89.4 491.8,89.5 491.9,89.6 491.9,89.7 492.0,89.8 492.0,89.9 492.1,90.1 492.1,90.2 492.1,90.3 492.2,90.4 492.2,90.5 492.3,90.6 492.3,90.7 492.3,90.8 492.4,90.8 492.4,91.0 492.5,91.0 492.6,91.1 492.7,91.2 492.8,91.2 492.9,91.1 492.9,91.1 493.0,91.0 493.1,90.9 493.1,90.8 493.1,90.7 493.2,90.6 493.2,90.5 493.3,90.4 493.3,90.3 493.4,90.2 493.4,90.1 493.4,90.0 493.5,89.9 493.5,89.8 493.6,89.7 493.6,89.6 493.6,89.5 493.7,89.4 493.7,89.3 493.8,89.2 493.9,89.1 493.9,89.0 494.0,88.9 494.1,88.9 494.2,89.0 494.3,89.0 494.4,89.1 494.4,89.2 494.5,89.3 494.5,89.4 494.5,89.5 494.6,89.6 494.6,89.7 494.7,89.8 494.7,89.9 494.8,90.0 494.8,90.1 494.8,90.2 494.9,90.3 494.9,90.4 495.0,90.5 495.0,90.6 495.0,90.7 495.1,90.8 495.2,90.9 495.2,91.0 495.3,91.1 495.4,91.2 495.5,91.2 495.6,91.1 495.6,91.1 495.7,91.0 495.8,90.9 495.8,90.8 495.9,90.7 495.9,90.6 495.9,90.5 496.0,90.4 496.0,90.3 496.1,90.2 496.1,90.1 496.2,90.0 496.2,89.9 496.2,89.8 496.3,89.6 496.3,89.5 496.4,89.5 496.4,89.4 496.4,89.3 496.5,89.2 496.6,89.1 496.6,89.0 496.7,88.9 496.8,88.9 496.9,89.0 497.0,89.0 497.1,89.1 497.1,89.2 497.2,89.3 497.2,89.4 497.3,89.5 497.3,89.6 497.4,89.7 497.4,89.8 497.4,89.9 497.5,90.0 497.5,90.1 497.6,90.2 497.6,90.4 497.6,90.5 497.7,90.6 497.7,90.7 497.8,90.7 497.8,90.8 497.9,90.9 497.9,91.0 498.0,91.1 498.1,91.2 498.2,91.2 498.3,91.1 498.4,91.1 498.4,91.0 498.5,90.9 498.5,90.8 498.6,90.7 498.6,90.6 498.7,90.5 498.7,90.4 498.8,90.3 498.8,90.2 498.8,90.1 498.9,90.0 498.9,89.8 499.0,89.7 499.0,89.6 499.0,89.5 499.1,89.4 499.1,89.3 499.2,89.3 499.2,89.2 499.3,89.1 499.4,89.0 499.4,88.9 499.5,88.9 499.7,89.0 499.7,89.0 499.8,89.1 499.8,89.2 499.9,89.3 499.9,89.4 500.0,89.5 500.0,89.6 500.1,89.7 500.1,89.8 500.2,89.9 500.2,90.0 500.2,90.2 500.3,90.3 500.3,90.4 500.4,90.5 500.4,90.6 500.4,90.7 500.5,90.8 500.5,90.8 500.6,90.9 500.7,91.0 500.7,91.1 500.8,91.2 500.9,91.2 501.0,91.1 501.1,91.1 501.1,91.0 501.2,90.9 501.2,90.8 501.3,90.7 501.3,90.6 501.4,90.5 501.4,90.4 501.5,90.3 501.5,90.2 501.5,90.1 501.6,90.0 501.6,89.9 501.7,89.8 501.7,89.7 501.7,89.6 501.8,89.5 501.8,89.4 501.9,89.3 501.9,89.2 502.0,89.1 502.0,89.0 502.1,89.0 502.2,88.9 502.3,88.9 502.4,89.0 502.5,89.1 502.5,89.2 502.6,89.3 502.6,89.3 502.7,89.4 502.7,89.5 502.8,89.6 502.8,89.7 502.8,89.8 502.9,89.9 502.9,90.1 503.0,90.2 503.0,90.3 503.0,90.4 503.1,90.5 503.1,90.6 503.2,90.7 503.2,90.8 503.3,90.8 503.3,91.0 503.4,91.0 503.4,91.1 503.5,91.2 503.7,91.2 503.7,91.1 503.8,91.1 503.9,91.0 503.9,90.9 504.0,90.8 504.0,90.7 504.1,90.6 504.1,90.5 504.1,90.4 504.2,90.3 504.2,90.2 504.3,90.1 504.3,90.0 504.3,89.9 504.4,89.8 504.4,89.7 504.5,89.6 504.5,89.5 504.6,89.4 504.6,89.3 504.7,89.2 504.7,89.1 504.8,89.0 504.9,88.9 505.0,88.9 505.1,89.0 505.1,89.0 505.2,89.1 505.3,89.2 505.3,89.3 505.4,89.4 505.4,89.5 505.5,89.6 505.5,89.7 505.5,89.8 505.6,89.9 505.6,90.0 505.7,90.1 505.7,90.2 505.7,90.3 505.8,90.4 505.8,90.5 505.9,90.6 505.9,90.7 506.0,90.8 506.0,90.9 506.1,91.0 506.1,91.1 506.2,91.2 506.3,91.2 506.4,91.1 506.5,91.1 506.6,91.0 506.6,90.9 506.7,90.8 506.7,90.7 506.8,90.6 506.8,90.5 506.9,90.4 506.9,90.3 506.9,90.2 507.0,90.1 507.0,90.0 507.1,89.9 507.1,89.7 507.2,89.6 507.2,89.5 507.2,89.4 507.3,89.4 507.3,89.3 507.4,89.2 507.4,89.1 507.5,89.0 507.6,88.9 507.7,88.9 507.8,89.0 507.9,89.0 507.9,89.1 508.0,89.2 508.1,89.3 508.1,89.4 508.1,89.5 508.2,89.6 508.2,89.7 508.3,89.8 508.3,89.9 508.3,90.0 508.4,90.1 508.4,90.3 508.5,90.4 508.5,90.5 508.6,90.6 508.6,90.7 508.6,90.7 508.7,90.8 508.7,90.9 508.8,91.0 508.9,91.1 509.0,91.2 509.1,91.2 509.2,91.1 509.2,91.1 509.3,91.0 509.3,90.9 509.4,90.8 509.5,90.7 509.5,90.6 509.5,90.5 509.6,90.4 509.6,90.3 509.7,90.2 509.7,90.1 509.7,90.0 509.8,89.8 509.8,89.7 509.9,89.6 509.9,89.5 510.0,89.4 510.0,89.3 510.0,89.3 510.1,89.2 510.2,89.1 510.2,89.0 510.3,88.9 510.4,88.9 510.5,89.0 510.6,89.0 510.6,89.1 510.7,89.2 510.8,89.3 510.8,89.4 510.8,89.5 510.9,89.6 510.9,89.7 511.0,89.8 511.0,89.9 511.0,90.0 511.1,90.1 511.1,90.2 511.2,90.3 511.2,90.4 511.3,90.5 511.3,90.6 511.3,90.7 511.4,90.8 511.4,90.9 511.5,91.0 511.5,91.1 511.6,91.1 511.7,91.2 511.8,91.2" fill="none" stroke="#b03a58" stroke-width="1.05" stroke-dasharray="1.2 2.2"/>
<line x1="449.10" y1="7.60" x2="449.10" y2="172.50" stroke="#111" stroke-width="1.5" stroke-dasharray="2.6 1.2 1.3 1.2"/>
<rect x="166.50" y="216.00" width="212.50" height="167.30" fill="none" stroke="#6a6a6a" stroke-width="1"/>
<path d="M166.50 383.30v-2.0M166.50 216.00v2.0" stroke="#6a6a6a" stroke-width="0.8"/>
<text x="166.50" y="393.30" class="tk" text-anchor="middle">0</text>
<path d="M190.11 383.30v-2.0M190.11 216.00v2.0" stroke="#6a6a6a" stroke-width="0.8"/>
<text x="190.11" y="393.30" class="tk" text-anchor="middle">0.05</text>
<path d="M213.72 383.30v-2.0M213.72 216.00v2.0" stroke="#6a6a6a" stroke-width="0.8"/>
<text x="213.72" y="393.30" class="tk" text-anchor="middle">0.1</text>
<path d="M237.33 383.30v-2.0M237.33 216.00v2.0" stroke="#6a6a6a" stroke-width="0.8"/>
<text x="237.33" y="393.30" class="tk" text-anchor="middle">0.15</text>
<path d="M260.94 383.30v-2.0M260.94 216.00v2.0" stroke="#6a6a6a" stroke-width="0.8"/>
<text x="260.94" y="393.30" class="tk" text-anchor="middle">0.2</text>
<path d="M284.56 383.30v-2.0M284.56 216.00v2.0" stroke="#6a6a6a" stroke-width="0.8"/>
<text x="284.56" y="393.30" class="tk" text-anchor="middle">0.25</text>
<path d="M308.17 383.30v-2.0M308.17 216.00v2.0" stroke="#6a6a6a" stroke-width="0.8"/>
<text x="308.17" y="393.30" class="tk" text-anchor="middle">0.3</text>
<path d="M331.78 383.30v-2.0M331.78 216.00v2.0" stroke="#6a6a6a" stroke-width="0.8"/>
<text x="331.78" y="393.30" class="tk" text-anchor="middle">0.35</text>
<path d="M355.39 383.30v-2.0M355.39 216.00v2.0" stroke="#6a6a6a" stroke-width="0.8"/>
<text x="355.39" y="393.30" class="tk" text-anchor="middle">0.4</text>
<path d="M379.00 383.30v-2.0M379.00 216.00v2.0" stroke="#6a6a6a" stroke-width="0.8"/>
<text x="379.00" y="393.30" class="tk" text-anchor="middle">0.45</text>
<path d="M166.50 383.30h2.0M379.00 383.30h-2.0" stroke="#6a6a6a" stroke-width="0.8"/>
<text x="163.70" y="386.00" class="tk" text-anchor="end">-0.8</text>
<path d="M166.50 362.39h2.0M379.00 362.39h-2.0" stroke="#6a6a6a" stroke-width="0.8"/>
<text x="163.70" y="365.09" class="tk" text-anchor="end">-0.6</text>
<path d="M166.50 341.48h2.0M379.00 341.48h-2.0" stroke="#6a6a6a" stroke-width="0.8"/>
<text x="163.70" y="344.18" class="tk" text-anchor="end">-0.4</text>
<path d="M166.50 320.56h2.0M379.00 320.56h-2.0" stroke="#6a6a6a" stroke-width="0.8"/>
<text x="163.70" y="323.26" class="tk" text-anchor="end">-0.2</text>
<path d="M166.50 299.65h2.0M379.00 299.65h-2.0" stroke="#6a6a6a" stroke-width="0.8"/>
<text x="163.70" y="302.35" class="tk" text-anchor="end">0</text>
<path d="M166.50 278.74h2.0M379.00 278.74h-2.0" stroke="#6a6a6a" stroke-width="0.8"/>
<text x="163.70" y="281.44" class="tk" text-anchor="end">0.2</text>
<path d="M166.50 257.82h2.0M379.00 257.82h-2.0" stroke="#6a6a6a" stroke-width="0.8"/>
<text x="163.70" y="260.52" class="tk" text-anchor="end">0.4</text>
<path d="M166.50 236.91h2.0M379.00 236.91h-2.0" stroke="#6a6a6a" stroke-width="0.8"/>
<text x="163.70" y="239.61" class="tk" text-anchor="end">0.6</text>
<path d="M166.50 216.00h2.0M379.00 216.00h-2.0" stroke="#6a6a6a" stroke-width="0.8"/>
<text x="163.70" y="218.70" class="tk" text-anchor="end">0.8</text>
<line x1="166.50" y1="299.65" x2="371.44" y2="299.65" stroke="#444" stroke-width="1.1"/>
<polyline points="249.8,299.8 249.6,299.8 249.6,300.0 249.6,300.1 249.6,300.0 249.6,299.8 249.6,299.7 249.6,299.6 249.6,299.5 249.6,299.4 249.6,299.2 249.6,299.1 249.6,299.2 249.6,299.4 249.6,299.5 249.6,299.6 249.6,299.7 249.6,299.8 249.6,300.0 249.6,300.1 249.6,300.2 249.6,300.3 249.6,300.2 249.6,300.1 249.6,300.0 249.6,299.8 249.6,299.7 249.6,299.6 249.6,299.5 249.6,299.3 249.6,299.2 249.6,299.1 249.6,299.0 249.6,298.9 249.6,299.0 249.6,299.1 249.6,299.2 249.6,299.3 249.6,299.5 249.6,299.6 249.6,299.7 249.6,299.8 249.6,300.0 249.6,300.1 249.6,300.2 249.6,300.3 249.6,300.4 249.6,300.6 249.6,300.7 249.6,300.6 249.6,300.4 249.6,300.3 249.6,300.2 249.6,300.1 249.6,299.9 249.6,299.8 249.6,299.7 249.6,299.6 249.6,299.5 249.6,299.3 249.6,299.2 249.6,299.1 249.6,299.0 249.6,298.8 249.6,298.7 249.6,298.6 249.6,298.5 249.6,298.4 249.6,298.5 249.6,298.6 249.6,298.7 249.6,298.8 249.6,299.0 249.6,299.1 249.6,299.2 249.6,299.3 249.6,299.5 249.6,299.6 249.6,299.7 249.6,299.8 249.6,300.0 249.6,300.1 249.6,300.2 249.6,300.3 249.6,300.5 249.6,300.6 249.6,300.7 249.6,300.8 249.6,301.0 249.6,301.1 249.6,301.2 249.6,301.1 249.6,301.0 249.6,300.8 249.6,300.7 249.6,300.6 249.6,300.5 249.6,300.3 249.6,300.2 249.6,300.1 249.6,300.0 249.6,299.8 249.6,299.7 249.6,299.6 249.6,299.5 249.6,299.3 249.6,299.2 249.6,299.1 249.6,299.0 249.6,298.8 249.6,298.7 249.6,298.6 249.6,298.5 249.6,298.3 249.6,298.2 249.6,298.1 249.6,298.0 249.6,297.8 249.7,297.7 249.7,297.8 249.7,298.0 249.7,298.1 249.7,298.2 249.7,298.4 249.7,298.5 249.7,298.6 249.7,298.7 249.6,298.9 249.6,299.0 249.6,299.1 249.6,299.2 249.6,299.4 249.6,299.5 249.6,299.6 249.6,299.8 249.6,299.9 249.6,300.0 249.6,300.2 249.6,300.3 249.6,300.4 249.6,300.5 249.6,300.7 249.6,300.8 249.6,300.9 249.6,301.0 249.6,301.2 249.7,301.3 249.7,301.4 249.7,301.5 249.7,301.7 249.7,301.8 249.7,301.9 249.7,302.0 249.7,301.9 249.7,301.8 249.7,301.7 249.7,301.5 249.7,301.4 249.7,301.3 249.7,301.2 249.7,301.0 249.7,300.9 249.7,300.8 249.7,300.7 249.7,300.5 249.7,300.4 249.7,300.3 249.7,300.1 249.7,300.0 249.7,299.9 249.7,299.8 249.7,299.6 249.7,299.5 249.7,299.4 249.7,299.3 249.7,299.1 249.7,299.0 249.7,298.9 249.7,298.8 249.7,298.6 249.7,298.5 249.7,298.4 249.7,298.3 249.7,298.1 249.7,298.0 249.7,297.9 249.7,297.7 249.7,297.6 249.7,297.5 249.7,297.4 249.7,297.2 249.7,297.1 249.7,297.0 249.7,296.9 249.7,296.8 249.7,296.9 249.7,297.0 249.7,297.1 249.7,297.3 249.7,297.4 249.7,297.5 249.7,297.6 249.7,297.8 249.7,297.9 249.7,298.0 249.7,298.1 249.7,298.3 249.7,298.4 249.7,298.5 249.7,298.7 249.7,298.8 249.7,298.9 249.7,299.0 249.7,299.2 249.7,299.3 249.7,299.4 249.7,299.6 249.7,299.7 249.7,299.8 249.7,300.0 249.7,300.1 249.7,300.2 249.7,300.4 249.7,300.5 249.7,300.6 249.7,300.8 249.7,300.9 249.7,301.0 249.7,301.2 249.7,301.3 249.7,301.4 249.7,301.5 249.7,301.7 249.7,301.8 249.7,301.9 249.7,302.1 249.7,302.2 249.7,302.3 249.7,302.4 249.7,302.6 249.7,302.7 249.7,302.8 249.7,302.9 249.7,303.1 249.7,303.2 249.7,303.3 249.7,303.2 249.7,303.1 249.7,302.9 249.7,302.8 249.7,302.7 249.7,302.6 249.7,302.4 249.7,302.3 249.7,302.2 249.7,302.0 249.7,301.9 249.7,301.8 249.7,301.6 249.7,301.5 249.7,301.4 249.7,301.2 249.7,301.1 249.7,301.0 249.7,300.9 249.7,300.7 249.7,300.6 249.7,300.5 249.7,300.3 249.7,300.2 249.7,300.1 249.7,299.9 249.7,299.8 249.7,299.7 249.7,299.5 249.7,299.4 249.7,299.2 249.7,299.1 249.7,299.0 249.7,298.8 249.7,298.7 249.7,298.5 249.7,298.4 249.7,298.3 249.7,298.1 249.7,298.0 249.7,297.8 249.7,297.7 249.7,297.6 249.7,297.4 249.7,297.3 249.7,297.2 249.7,297.1 249.7,296.9 249.7,296.8 249.7,296.7 249.7,296.5 249.7,296.4 249.7,296.3 249.7,296.2 249.7,296.0 249.7,295.9 249.7,295.8 249.7,295.7 249.7,295.5 249.7,295.4 249.7,295.3 249.7,295.2 249.7,295.1 249.7,295.2 249.7,295.3 249.7,295.4 249.7,295.6 249.7,295.7 249.7,295.8 249.7,295.9 249.7,296.1 249.7,296.2 249.7,296.3 249.7,296.5 249.7,296.6 249.7,296.7 249.7,296.8 249.7,297.0 249.7,297.1 249.7,297.2 249.7,297.4 249.7,297.5 249.7,297.6 249.7,297.8 249.7,297.9 249.7,298.0 249.7,298.1 249.7,298.3 249.7,298.4 249.7,298.5 249.7,298.7 249.7,298.8 249.7,298.9 249.7,299.1 249.7,299.2 249.7,299.3 249.7,299.5 249.7,299.6 249.7,299.7 249.7,299.9 249.7,300.0 249.7,300.2 249.7,300.3 249.7,300.4 249.7,300.6 249.7,300.7 249.7,300.8 249.7,301.0 249.7,301.1 249.7,301.3 249.7,301.4 249.7,301.5 249.7,301.7 249.7,301.8 249.7,301.9 249.7,302.1 249.7,302.2 249.7,302.3 249.7,302.4 249.7,302.6 249.7,302.7 249.7,302.8 249.7,302.9 249.7,303.1 249.7,303.2 249.7,303.4 249.7,303.5 249.7,303.6 249.7,303.8 249.7,303.9 249.7,304.0 249.7,304.1 249.7,304.3 249.7,304.4 249.7,304.5 249.7,304.6 249.7,304.8 249.7,304.9 249.7,305.0 249.7,305.1 249.8,305.2 249.8,305.1 249.8,305.0 249.8,304.9 249.8,304.7 249.8,304.6 249.8,304.5 249.8,304.4 249.8,304.2 249.8,304.1 249.8,304.0 249.8,303.8 249.8,303.7 249.7,303.5 249.7,303.4 249.7,303.3 249.7,303.2 249.7,303.0 249.7,302.9 249.7,302.8 249.7,302.6 249.7,302.5 249.7,302.4 249.7,302.2 249.7,302.1 249.7,301.9 249.7,301.8 249.7,301.6 249.7,301.5 249.7,301.3 249.7,301.2 249.7,301.0 249.7,300.9 249.7,300.8 249.7,300.7 249.7,300.6 249.7,300.4 249.7,300.3 249.7,300.2 249.7,300.1 249.7,299.9 249.7,299.8 249.7,299.7 249.7,299.6 249.7,299.4 249.7,299.3 249.7,299.2 249.7,299.0 249.7,298.9 249.7,298.8 249.7,298.7 249.7,298.5 249.7,298.4 249.7,298.3 249.7,298.2 249.7,298.0 249.7,297.9 249.7,297.8 249.7,297.7 249.7,297.5 249.7,297.4 249.7,297.3 249.7,297.2 249.7,297.1 249.7,296.9 249.7,296.8 249.7,296.7 249.7,296.5 249.7,296.3 249.7,296.2 249.7,296.0 249.7,295.9 249.7,295.7 249.7,295.6 249.7,295.5 249.7,295.3 249.7,295.2 249.7,295.1 249.7,294.9 249.7,294.8 249.7,294.7 249.7,294.6 249.8,294.4 249.8,294.3 249.8,294.2 249.8,294.0 249.8,293.9 249.8,293.8 249.8,293.7 249.8,293.6 249.8,293.4 249.8,293.3 249.8,293.2 249.8,293.1 249.8,293.0 249.9,293.1 249.9,293.2 249.9,293.3 249.9,293.4 249.9,293.6 249.9,293.7 249.9,293.8 249.9,294.0 249.9,294.1 249.9,294.2 249.9,294.4 249.9,294.5 249.9,294.6 249.9,294.7 249.9,294.9 249.9,295.0 249.9,295.2 249.9,295.3 249.9,295.4 249.9,295.6 249.9,295.7 249.8,295.9 249.8,296.0 249.8,296.1 249.8,296.3 249.8,296.4 249.8,296.5 249.8,296.6 249.8,296.8 249.8,296.9 249.8,297.0 249.8,297.2 249.8,297.3 249.8,297.4 249.8,297.6 249.8,297.7 249.8,297.9 249.8,298.0 249.8,298.1 249.8,298.3 249.8,298.4 249.8,298.6 249.8,298.7 249.8,298.9 249.8,299.0 249.8,299.2 249.8,299.3 249.8,299.5 249.8,299.6 249.8,299.7 249.8,299.9 249.8,300.0 249.8,300.2 249.8,300.3 249.8,300.5 249.8,300.6 249.8,300.8 249.8,300.9 249.8,301.1 249.8,301.2 249.8,301.4 249.8,301.5 249.8,301.7 249.8,301.8 249.8,302.0 249.8,302.1 249.8,302.3 249.8,302.4 249.8,302.5 249.8,302.7 249.8,302.8 249.8,303.0 249.8,303.1 249.8,303.2 249.8,303.4 249.8,303.5 249.8,303.7 249.8,303.8 249.8,303.9 249.8,304.0 249.8,304.2 249.8,304.3 249.9,304.4 249.9,304.5 249.9,304.7 249.9,304.8 249.9,304.9 249.9,305.1 249.9,305.2 249.9,305.4 249.9,305.5 249.9,305.6 249.9,305.8 249.9,305.9 249.9,306.0 249.9,306.1 249.9,306.3 249.9,306.4 250.0,306.5 250.0,306.7 250.0,306.8 250.0,306.9 250.0,307.0 250.0,307.1 250.0,307.3 250.0,307.4 250.1,307.5 250.1,307.4 250.1,307.3 250.1,307.2 250.1,307.0 250.1,306.9 250.1,306.8 250.1,306.7 250.1,306.5 250.1,306.4 250.1,306.2 250.1,306.1 250.1,306.0 250.1,305.9 250.1,305.7 250.1,305.6 250.1,305.4 250.1,305.3 250.1,305.1 250.1,305.0 250.1,304.9 250.1,304.8 250.1,304.6 250.1,304.5 250.1,304.4 250.1,304.2 250.1,304.1 250.1,303.9 250.1,303.8 250.1,303.7 250.1,303.5 250.1,303.4 250.1,303.2 250.1,303.1 250.1,302.9 250.1,302.8 250.0,302.6 250.0,302.4 250.0,302.3 250.0,302.1 250.0,301.9 250.0,301.8 250.0,301.6 250.0,301.4 250.0,301.3 250.0,301.1 250.0,300.9 250.0,300.8 250.0,300.6 250.0,300.4 250.0,300.2 250.0,300.1 250.0,299.9 250.0,299.7 250.0,299.5 250.0,299.4 250.0,299.2 250.0,299.0 250.0,298.8 250.0,298.7 250.0,298.5 250.0,298.3 250.0,298.1 250.0,297.9 250.0,297.8 250.0,297.6 250.0,297.4 250.0,297.2 250.0,297.1 250.0,296.9 250.0,296.7 250.0,296.5 250.0,296.4 250.0,296.2 250.0,296.0 250.0,295.9 250.0,295.7 250.0,295.5 250.1,295.4 250.1,295.2 250.1,295.0 250.1,294.9 250.1,294.7 250.1,294.5 250.1,294.4 250.1,294.2 250.1,294.1 250.1,293.9 250.1,293.8 250.1,293.6 250.1,293.5 250.1,293.3 250.1,293.2 250.1,293.1 250.1,292.9 250.2,292.8 250.2,292.7 250.2,292.5 250.2,292.4 250.2,292.3 250.2,292.2 250.2,292.0 250.2,291.9 250.2,291.8 250.2,291.6 250.2,291.5 250.2,291.4 250.3,291.2 250.3,291.1 250.3,291.0 250.3,290.9 250.3,290.7 250.3,290.6 250.3,290.5 250.4,290.4 250.4,290.3 250.4,290.2 250.4,290.1 250.5,290.1 250.5,290.3 250.5,290.4 250.5,290.5 250.5,290.6 250.5,290.8 250.5,290.9 250.5,291.0 250.5,291.2 250.5,291.3 250.5,291.4 250.5,291.6 250.6,291.7 250.6,291.9 250.6,292.0 250.6,292.1 250.6,292.2 250.6,292.4 250.6,292.5 250.6,292.6 250.6,292.8 250.6,292.9 250.6,293.1 250.6,293.2 250.6,293.4 250.6,293.5 250.6,293.7 250.6,293.9 250.6,294.0 250.6,294.2 250.6,294.4 250.6,294.6 250.6,294.7 250.6,294.8 250.6,294.9 250.6,295.0 250.6,295.2 250.6,295.3 250.6,295.4 250.6,295.5 250.6,295.7 250.7,295.8 250.7,295.9 250.7,296.0 250.7,296.2 250.7,296.3 250.7,296.4 250.7,296.6 250.7,296.7 250.7,296.8 250.7,297.0 250.7,297.1 250.7,297.3 250.7,297.4 250.7,297.5 250.7,297.7 250.7,297.8 250.7,298.0 250.7,298.1 250.7,298.2 250.7,298.4 250.7,298.5 250.7,298.7 250.8,298.8 250.8,299.0 250.8,299.1 250.8,299.3 250.8,299.4 250.8,299.5 250.8,299.7 250.8,299.8 250.8,300.0 250.8,300.1 250.8,300.3 250.8,300.4 250.8,300.6 250.8,300.7 250.9,300.9 250.9,301.0 250.9,301.2 250.9,301.3 250.9,301.5 250.9,301.6 250.9,301.8 250.9,301.9 250.9,302.1 250.9,302.2 250.9,302.4 251.0,302.5 251.0,302.7 251.0,302.8 251.0,302.9 251.0,303.1 251.0,303.2 251.0,303.4 251.0,303.5 251.0,303.7 251.0,303.8 251.1,304.0 251.1,304.1 251.1,304.3 251.1,304.4 251.1,304.5 251.1,304.7 251.1,304.8 251.1,305.0 251.2,305.1 251.2,305.2 251.2,305.4 251.2,305.5 251.2,305.7 251.2,305.8 251.2,305.9 251.3,306.1 251.3,306.2 251.3,306.3 251.3,306.4 251.3,306.6 251.3,306.7 251.3,306.8 251.4,307.0 251.4,307.1 251.4,307.2 251.4,307.3 251.4,307.5 251.4,307.6 251.4,307.7 251.5,307.8 251.5,307.9 251.5,308.0 251.5,308.2 251.5,308.3 251.5,308.4 251.6,308.5 251.6,308.6 251.6,308.7 251.6,308.8 251.6,308.9 251.7,309.1 251.7,309.2 251.7,309.4 251.7,309.5 251.8,309.7 251.8,309.8 251.8,309.9 251.8,310.0 251.9,310.2 251.9,310.3 251.9,310.4 251.9,310.5 252.0,310.6 252.0,310.7 252.0,310.8 252.0,310.9 252.1,311.1 252.1,311.2 252.1,311.3 252.2,311.4 252.2,311.5 252.3,311.5 252.3,311.6 252.3,311.7 252.4,311.8 252.5,311.8 252.6,311.7 252.6,311.6 252.7,311.5 252.7,311.4 252.7,311.3 252.7,311.2 252.7,311.1 252.8,311.0 252.8,310.8 252.8,310.7 252.8,310.6 252.8,310.5 252.8,310.4 252.9,310.2 252.9,310.1 252.9,310.0 252.9,309.8 252.9,309.7 252.9,309.6 252.9,309.4 252.9,309.2 252.9,309.1 253.0,308.9 253.0,308.8 253.0,308.6 253.0,308.5 253.0,308.4 253.0,308.3 253.0,308.2 253.0,308.0 253.0,307.9 253.0,307.8 253.0,307.7 253.0,307.5 253.0,307.4 253.0,307.3 253.0,307.1 253.0,307.0 253.1,306.8 253.1,306.7 253.1,306.6 253.1,306.4 253.1,306.3 253.1,306.1 253.1,306.0 253.1,305.8 253.1,305.7 253.1,305.5 253.1,305.4 253.1,305.2 253.1,305.1 253.1,304.9 253.1,304.7 253.1,304.6 253.1,304.4 253.1,304.3 253.2,304.1 253.2,303.9 253.2,303.8 253.2,303.6 253.2,303.4 253.2,303.3 253.2,303.1 253.2,302.9 253.2,302.7 253.2,302.6 253.2,302.4 253.2,302.2 253.2,302.0 253.2,301.9 253.2,301.7 253.3,301.5 253.3,301.3 253.3,301.2 253.3,301.0 253.3,300.8 253.3,300.6 253.3,300.4 253.3,300.3 253.3,300.1 253.3,299.9 253.3,299.7 253.3,299.5 253.4,299.3 253.4,299.2 253.4,299.0 253.4,298.8 253.4,298.6 253.4,298.4 253.4,298.2 253.4,298.1 253.4,297.9 253.4,297.7 253.5,297.5 253.5,297.3 253.5,297.1 253.5,296.9 253.5,296.8 253.5,296.6 253.5,296.4 253.5,296.2 253.6,296.0 253.6,295.8 253.6,295.7 253.6,295.5 253.6,295.3 253.6,295.1 253.6,294.9 253.6,294.8 253.7,294.6 253.7,294.4 253.7,294.2 253.7,294.0 253.7,293.9 253.7,293.7 253.8,293.5 253.8,293.3 253.8,293.2 253.8,293.0 253.8,292.8 253.8,292.7 253.9,292.5 253.9,292.3 253.9,292.2 253.9,292.0 253.9,291.8 253.9,291.7 254.0,291.5 254.0,291.3 254.0,291.2 254.0,291.0 254.0,290.9 254.1,290.7 254.1,290.5 254.1,290.4 254.1,290.2 254.1,290.1 254.2,289.9 254.2,289.8 254.2,289.6 254.2,289.5 254.2,289.4 254.3,289.2 254.3,289.1 254.3,288.9 254.3,288.8 254.4,288.7 254.4,288.5 254.4,288.4 254.4,288.3 254.4,288.2 254.5,288.0 254.5,287.9 254.5,287.8 254.5,287.7 254.5,287.6 254.6,287.4 254.6,287.3 254.6,287.2 254.6,287.1 254.7,287.0 254.7,286.9 254.7,286.8 254.7,286.7 254.8,286.6 254.8,286.4 254.8,286.3 254.9,286.2 254.9,286.0 254.9,285.9 255.0,285.8 255.0,285.7 255.0,285.6 255.1,285.5 255.1,285.4 255.1,285.3 255.2,285.2 255.2,285.1 255.3,285.0 255.3,284.9 255.4,284.8 255.4,284.8 255.5,284.8 255.6,284.9 255.7,284.9 255.7,285.1 255.7,285.2 255.7,285.3 255.8,285.4 255.8,285.5 255.8,285.6 255.8,285.8 255.8,285.9 255.8,286.0 255.8,286.1 255.9,286.3 255.9,286.4 255.9,286.6 255.9,286.7 255.9,286.9 255.9,287.0 255.9,287.2 255.9,287.4 255.9,287.5 255.9,287.6 255.9,287.7 255.9,287.9 255.9,288.0 255.9,288.1 255.9,288.2 255.9,288.4 255.9,288.5 255.9,288.7 255.9,288.8 255.9,289.0 255.9,289.1 255.9,289.2 255.9,289.4 255.9,289.6 255.9,289.7 255.9,289.9 255.9,290.0 255.9,290.2 255.9,290.4 255.9,290.5 255.9,290.7 255.9,290.9 255.9,291.0 255.9,291.2 255.9,291.4 255.9,291.6 255.9,291.7 255.9,291.9 255.9,292.1 255.9,292.3 255.9,292.5 255.8,292.7 255.8,292.8 255.8,293.0 255.8,293.2 255.8,293.4 255.8,293.6 255.8,293.8 255.8,294.0 255.8,294.2 255.8,294.4 255.8,294.6 255.8,294.8 255.8,295.0 255.8,295.2 255.8,295.4 255.8,295.7 255.8,295.9 255.8,296.1 255.8,296.3 255.8,296.5 255.8,296.7 255.8,296.9 255.7,297.1 255.7,297.4 255.7,297.6 255.7,297.8 255.7,298.0 255.7,298.2 255.7,298.4 255.7,298.7 255.7,298.9 255.7,299.1 255.7,299.3 255.7,299.6 255.7,299.8 255.7,300.0 255.7,300.2 255.7,300.4 255.7,300.7 255.7,300.9 255.7,301.1 255.7,301.3 255.7,301.6 255.7,301.8 255.7,302.0 255.7,302.2 255.7,302.5 255.7,302.7 255.7,302.9 255.7,303.1 255.7,303.3 255.7,303.6 255.7,303.8 255.7,304.0 255.7,304.2 255.7,304.5 255.7,304.7 255.8,304.9 255.8,305.1 255.8,305.3 255.8,305.6 255.8,305.8 255.8,306.0 255.8,306.2 255.8,306.4 255.8,306.6 255.8,306.8 255.8,307.1 255.8,307.3 255.8,307.5 255.8,307.7 255.8,307.9 255.9,308.1 255.9,308.3 255.9,308.5 255.9,308.7 255.9,308.9 255.9,309.1 255.9,309.3 255.9,309.5 255.9,309.7 256.0,309.9 256.0,310.1 256.0,310.3 256.0,310.5 256.0,310.6 256.0,310.8 256.0,311.0 256.0,311.2 256.1,311.4 256.1,311.5 256.1,311.7 256.1,311.9 256.1,312.1 256.1,312.2 256.1,312.4 256.2,312.6 256.2,312.7 256.2,312.9 256.2,313.0 256.2,313.2 256.2,313.4 256.3,313.5 256.3,313.7 256.3,313.8 256.3,313.9 256.3,314.1 256.3,314.2 256.4,314.4 256.4,314.5 256.4,314.6 256.4,314.8 256.4,314.9 256.4,315.0 256.5,315.1 256.5,315.3 256.5,315.4 256.5,315.5 256.5,315.6 256.5,315.7 256.6,315.8 256.6,316.0 256.6,316.1 256.6,316.2 256.7,316.4 256.7,316.5 256.7,316.6 256.7,316.7 256.7,316.8 256.8,316.9 256.8,317.1 256.8,317.2 256.9,317.3 256.9,317.4 256.9,317.5 257.0,317.5 257.1,317.5 257.1,317.4 257.1,317.3 257.1,317.1 257.1,317.0 257.1,316.9 257.1,316.7 257.1,316.6 257.1,316.5 257.1,316.3 257.1,316.2 257.1,316.0 257.1,315.9 257.1,315.7 257.1,315.6 257.1,315.4 257.1,315.3 257.1,315.1 257.1,315.0 257.1,314.9 257.1,314.7 257.1,314.6 257.1,314.5 257.1,314.3 257.1,314.2 257.1,314.0 257.0,313.9 257.0,313.7 257.0,313.6 257.0,313.4 257.0,313.3 257.0,313.1 257.0,312.9 257.0,312.8 257.0,312.6 257.0,312.4 257.0,312.2 256.9,312.0 256.9,311.9 256.9,311.7 256.9,311.5 256.9,311.3 256.9,311.1 256.9,310.9 256.9,310.7 256.9,310.5 256.8,310.3 256.8,310.1 256.8,309.9 256.8,309.7 256.8,309.5 256.8,309.3 256.8,309.0 256.8,308.8 256.7,308.6 256.7,308.4 256.7,308.2 256.7,307.9 256.7,307.8 256.7,307.7 256.7,307.6 256.7,307.5 256.7,307.4 256.7,307.2 256.7,307.1 256.7,307.0 256.6,306.9 256.6,306.8 256.6,306.7 256.6,306.5 256.6,306.4 256.6,306.3 256.6,306.2 256.6,306.1 256.6,305.9 256.6,305.8 256.6,305.7 256.6,305.6 256.6,305.4 256.6,305.3 256.6,305.2 256.6,305.1 256.6,305.0 256.5,304.8 256.5,304.7 256.5,304.6 256.5,304.5 256.5,304.3 256.5,304.2 256.5,304.1 256.5,304.0 256.5,303.8 256.5,303.7 256.5,303.6 256.5,303.4 256.5,303.3 256.5,303.2 256.5,303.1 256.5,302.9 256.5,302.8 256.5,302.7 256.5,302.6 256.4,302.4 256.4,302.3 256.4,302.2 256.4,302.0 256.4,301.9 256.4,301.8 256.4,301.6 256.4,301.5 256.4,301.4 256.4,301.2 256.4,301.1 256.4,301.0 256.4,300.9 256.4,300.7 256.4,300.6 256.4,300.5 256.4,300.3 256.4,300.2 256.4,300.1 256.4,299.9 256.4,299.8 256.4,299.7 256.4,299.5 256.4,299.4 256.4,299.3 256.4,299.1 256.4,299.0 256.4,298.9 256.4,298.7 256.3,298.6 256.3,298.5 256.3,298.3 256.3,298.2 256.3,298.1 256.3,297.9 256.3,297.8 256.3,297.7 256.3,297.5 256.3,297.4 256.3,297.3 256.3,297.1 256.3,297.0 256.3,296.9 256.3,296.7 256.3,296.6 256.3,296.5 256.3,296.3 256.3,296.2 256.3,296.1 256.3,295.9 256.3,295.8 256.3,295.7 256.3,295.5 256.3,295.4 256.3,295.3 256.3,295.1 256.3,295.0 256.3,294.9 256.3,294.7 256.3,294.6 256.3,294.5 256.3,294.3 256.3,294.2 256.3,294.1 256.3,293.9 256.3,293.8 256.4,293.7 256.4,293.5 256.4,293.4 256.4,293.3 256.4,293.2 256.4,293.0 256.4,292.9 256.4,292.8 256.4,292.6 256.4,292.5 256.4,292.4 256.4,292.3 256.4,292.1 256.4,292.0 256.4,291.9 256.4,291.7 256.4,291.6 256.4,291.5 256.4,291.4 256.4,291.2 256.4,291.1 256.4,291.0 256.4,290.9 256.4,290.7 256.4,290.6 256.4,290.5 256.5,290.4 256.5,290.2 256.5,290.1 256.5,290.0 256.5,289.9 256.5,289.7 256.5,289.6 256.5,289.5 256.5,289.4 256.5,289.2 256.5,289.1 256.5,289.0 256.5,288.9 256.5,288.8 256.5,288.6 256.6,288.5 256.6,288.4 256.6,288.3 256.6,288.2 256.6,288.1 256.6,287.9 256.6,287.8 256.6,287.7 256.6,287.6 256.6,287.5 256.6,287.4 256.6,287.3 256.6,287.1 256.7,287.0 256.7,286.9 256.7,286.8 256.7,286.7 256.7,286.5 256.7,286.3 256.7,286.0 256.8,285.8 256.8,285.6 256.8,285.4 256.8,285.2 256.8,285.0 256.9,284.8 256.9,284.6 256.9,284.4 256.9,284.2 256.9,284.0 257.0,283.8 257.0,283.6 257.0,283.4 257.0,283.3 257.1,283.1 257.1,282.9 257.1,282.7 257.1,282.6 257.2,282.4 257.2,282.2 257.2,282.1 257.2,281.9 257.3,281.7 257.3,281.6 257.3,281.4 257.3,281.3 257.4,281.2 257.4,281.0 257.4,280.9 257.4,280.7 257.5,280.6 257.5,280.5 257.5,280.4 257.5,280.2 257.6,280.1 257.6,280.0 257.6,279.9 257.6,279.8 257.7,279.7 257.7,279.6 257.7,279.5 257.8,279.4 257.8,279.2 257.8,279.1 257.9,279.0 257.9,278.9 257.9,278.8 258.0,278.7 258.0,278.6 258.1,278.5 258.1,278.5 258.2,278.4 258.3,278.3 258.3,278.4 258.4,278.5 258.4,278.6 258.4,278.7 258.5,278.8 258.5,278.9 258.5,279.0 258.5,279.2 258.5,279.3 258.5,279.4 258.5,279.6 258.5,279.7 258.6,279.9 258.6,280.1 258.6,280.2 258.6,280.3 258.6,280.4 258.6,280.5 258.6,280.7 258.6,280.8 258.6,281.0 258.6,281.1 258.6,281.2 258.6,281.4 258.6,281.6 258.6,281.7 258.5,281.9 258.5,282.0 258.5,282.2 258.5,282.4 258.5,282.6 258.5,282.7 258.5,282.9 258.5,283.1 258.5,283.3 258.5,283.5 258.5,283.7 258.5,283.9 258.5,284.1 258.5,284.3 258.5,284.5 258.4,284.7 258.4,284.9 258.4,285.2 258.4,285.4 258.4,285.6 258.4,285.8 258.4,285.9 258.4,286.1 258.4,286.2 258.4,286.3 258.4,286.4 258.4,286.5 258.4,286.7 258.3,286.8 258.3,286.9 258.3,287.0 258.3,287.1 258.3,287.3 258.3,287.4 258.3,287.5 258.3,287.6 258.3,287.8 258.3,287.9 258.3,288.0 258.3,288.1 258.3,288.3 258.3,288.4 258.3,288.5 258.3,288.7 258.2,288.8 258.2,288.9 258.2,289.1 258.2,289.2 258.2,289.3 258.2,289.5 258.2,289.6 258.2,289.7 258.2,289.9 258.2,290.0 258.2,290.1 258.2,290.3 258.2,290.4 258.2,290.5 258.2,290.7 258.2,290.8 258.1,291.0 258.1,291.1 258.1,291.2 258.1,291.4 258.1,291.5 258.1,291.7 258.1,291.8 258.1,292.0 258.1,292.1 258.1,292.2 258.1,292.4 258.1,292.5 258.1,292.7 258.1,292.8 258.1,293.0 258.1,293.1 258.1,293.3 258.0,293.4 258.0,293.6 258.0,293.7 258.0,293.9 258.0,294.0 258.0,294.2 258.0,294.3 258.0,294.5 258.0,294.6 258.0,294.8 258.0,294.9 258.0,295.1 258.0,295.2 258.0,295.4 258.0,295.5 258.0,295.7 258.0,295.8 258.0,296.0 258.0,296.1 258.0,296.3 258.0,296.5 257.9,296.6 257.9,296.8 257.9,296.9 257.9,297.1 257.9,297.2 257.9,297.4 257.9,297.5 257.9,297.7 257.9,297.9 257.9,298.0 257.9,298.2 257.9,298.3 257.9,298.5 257.9,298.6 257.9,298.8 257.9,299.0 257.9,299.1 257.9,299.3 257.9,299.4 257.9,299.6 257.9,299.8 257.9,299.9 257.9,300.1 257.9,300.2 257.9,300.4 257.9,300.6 257.9,300.7 257.9,300.9 257.9,301.0 257.9,301.2 257.9,301.4 257.9,301.5 257.9,301.7 257.9,301.8 257.9,302.0 257.9,302.2 257.9,302.3 257.9,302.5 257.9,302.6 257.9,302.8 257.9,303.0 257.9,303.1 257.9,303.3 257.9,303.4 257.9,303.6 257.9,303.8 257.9,303.9 257.9,304.1 257.9,304.2 257.9,304.4 257.9,304.6 257.9,304.7 257.9,304.9 257.9,305.0 257.9,305.2 257.9,305.4 257.9,305.5 257.9,305.7 258.0,305.8 258.0,306.0 258.0,306.2 258.0,306.3 258.0,306.5 258.0,306.6 258.0,306.8 258.0,306.9 258.0,307.1 258.0,307.3 258.0,307.4 258.0,307.6 258.0,307.7 258.0,307.9 258.0,308.0 258.0,308.2 258.0,308.3 258.1,308.5 258.1,308.7 258.1,308.8 258.1,309.0 258.1,309.1 258.1,309.3 258.1,309.4 258.1,309.6 258.1,309.7 258.1,309.9 258.1,310.0 258.1,310.2 258.2,310.3 258.2,310.5 258.2,310.6 258.2,310.8 258.2,310.9 258.2,311.1 258.2,311.2 258.2,311.4 258.2,311.5 258.3,311.7 258.3,311.8 258.3,312.0 258.3,312.1 258.3,312.3 258.3,312.4 258.3,312.6 258.3,312.7 258.3,312.8 258.4,313.0 258.4,313.1 258.4,313.3 258.4,313.4 258.4,313.6 258.4,313.7 258.4,313.8 258.5,314.0 258.5,314.1 258.5,314.3 258.5,314.4 258.5,314.5 258.5,314.7 258.5,314.8 258.6,314.9 258.6,315.1 258.6,315.2 258.6,315.3 258.6,315.5 258.6,315.6 258.6,315.7 258.7,315.9 258.7,316.0 258.7,316.1 258.7,316.3 258.7,316.4 258.7,316.5 258.8,316.6 258.8,316.8 258.8,316.9 258.8,317.0 258.8,317.1 258.8,317.3 258.9,317.4 258.9,317.5 258.9,317.6 258.9,317.7 258.9,317.9 258.9,318.0 259.0,318.1 259.0,318.2 259.0,318.3 259.0,318.5 259.0,318.6 259.1,318.7 259.1,318.8 259.1,318.9 259.1,319.0 259.1,319.1 259.1,319.2 259.2,319.4 259.2,319.5 259.2,319.6 259.2,319.7 259.2,319.8 259.3,319.9 259.3,320.0 259.3,320.1 259.3,320.2 259.3,320.3 259.4,320.4 259.4,320.6 259.4,320.8 259.5,321.0 259.5,321.2 259.6,321.4 259.6,321.5 259.6,321.7 259.7,321.9 259.7,322.1 259.7,322.2 259.8,322.4 259.8,322.5 259.9,322.7 259.9,322.8 259.9,323.0 260.0,323.1 260.0,323.3 260.1,323.4 260.1,323.5 260.1,323.7 260.2,323.8 260.2,323.9 260.3,324.0 260.3,324.1 260.3,324.2 260.4,324.3 260.4,324.4 260.4,324.5 260.5,324.6 260.5,324.7 260.6,324.8 260.6,324.9 260.7,325.0 260.7,325.1 260.8,325.2 260.9,325.2 260.9,325.3 261.0,325.3 261.1,325.2 261.2,325.2 261.2,325.1 261.3,325.0 261.3,324.8 261.3,324.7 261.3,324.6 261.4,324.5 261.4,324.4 261.4,324.2 261.4,324.1 261.4,323.9 261.4,323.8 261.4,323.6 261.4,323.5 261.5,323.4 261.5,323.3 261.5,323.1 261.5,323.0 261.5,322.8 261.5,322.7 261.5,322.5 261.5,322.3 261.5,322.2 261.5,322.0 261.5,321.8 261.5,321.6 261.5,321.5 261.5,321.3 261.4,321.1 261.4,320.9 261.4,320.7 261.4,320.5 261.4,320.3 261.4,320.0 261.4,319.8 261.4,319.6 261.4,319.4 261.4,319.3 261.4,319.1 261.4,319.0 261.4,318.9 261.4,318.8 261.4,318.7 261.3,318.5 261.3,318.4 261.3,318.3 261.3,318.2 261.3,318.0 261.3,317.9 261.3,317.8 261.3,317.7 261.3,317.5 261.3,317.4 261.3,317.3 261.3,317.1 261.3,317.0 261.3,316.9 261.3,316.7 261.2,316.6 261.2,316.5 261.2,316.3 261.2,316.2 261.2,316.1 261.2,315.9 261.2,315.8 261.2,315.6 261.2,315.5 261.2,315.4 261.2,315.2 261.2,315.1 261.2,314.9 261.1,314.8 261.1,314.6 261.1,314.5 261.1,314.3 261.1,314.2 261.1,314.0 261.1,313.9 261.1,313.7 261.1,313.6 261.1,313.4 261.1,313.3 261.1,313.1 261.0,313.0 261.0,312.8 261.0,312.6 261.0,312.5 261.0,312.3 261.0,312.2 261.0,312.0 261.0,311.9 261.0,311.7 261.0,311.5 261.0,311.4 260.9,311.2 260.9,311.0 260.9,310.9 260.9,310.7 260.9,310.5 260.9,310.4 260.9,310.2 260.9,310.0 260.9,309.9 260.9,309.7 260.9,309.5 260.9,309.4 260.8,309.2 260.8,309.0 260.8,308.9 260.8,308.7 260.8,308.5 260.8,308.3 260.8,308.2 260.8,308.0 260.8,307.8 260.8,307.6 260.8,307.5 260.8,307.3 260.7,307.1 260.7,306.9 260.7,306.8 260.7,306.6 260.7,306.4 260.7,306.2 260.7,306.0 260.7,305.9 260.7,305.7 260.7,305.5 260.7,305.3 260.7,305.1 260.7,305.0 260.7,304.8 260.7,304.6 260.6,304.4 260.6,304.2 260.6,304.0 260.6,303.9 260.6,303.7 260.6,303.5 260.6,303.3 260.6,303.1 260.6,302.9 260.6,302.8 260.6,302.6 260.6,302.4 260.6,302.2 260.6,302.0 260.6,301.8 260.6,301.6 260.6,301.4 260.6,301.3 260.6,301.1 260.6,300.9 260.6,300.7 260.6,300.5 260.6,300.3 260.6,300.1 260.6,299.9 260.6,299.8 260.5,299.6 260.5,299.4 260.5,299.2 260.5,299.0 260.5,298.8 260.5,298.6 260.5,298.4 260.5,298.2 260.5,298.1 260.5,297.9 260.5,297.7 260.5,297.5 260.5,297.3 260.5,297.1 260.5,296.9 260.5,296.7 260.6,296.5 260.6,296.3 260.6,296.2 260.6,296.0 260.6,295.8 260.6,295.6 260.6,295.4 260.6,295.2 260.6,295.0 260.6,294.8 260.6,294.6 260.6,294.4 260.6,294.3 260.6,294.1 260.6,293.9 260.6,293.7 260.6,293.5 260.6,293.3 260.6,293.1 260.6,292.9 260.6,292.7 260.6,292.6 260.6,292.4 260.6,292.2 260.7,292.0 260.7,291.8 260.7,291.6 260.7,291.4 260.7,291.3 260.7,291.1 260.7,290.9 260.7,290.7 260.7,290.5 260.7,290.3 260.7,290.1 260.8,290.0 260.8,289.8 260.8,289.6 260.8,289.4 260.8,289.2 260.8,289.0 260.8,288.9 260.8,288.7 260.8,288.5 260.8,288.3 260.9,288.1 260.9,288.0 260.9,287.8 260.9,287.6 260.9,287.4 260.9,287.2 260.9,287.1 261.0,286.9 261.0,286.7 261.0,286.5 261.0,286.4 261.0,286.2 261.0,286.0 261.0,285.8 261.1,285.7 261.1,285.5 261.1,285.3 261.1,285.1 261.1,285.0 261.1,284.8 261.2,284.6 261.2,284.5 261.2,284.3 261.2,284.1 261.2,284.0 261.2,283.8 261.3,283.6 261.3,283.5 261.3,283.3 261.3,283.1 261.3,283.0 261.4,282.8 261.4,282.6 261.4,282.5 261.4,282.3 261.4,282.2 261.5,282.0 261.5,281.8 261.5,281.7 261.5,281.5 261.5,281.4 261.6,281.2 261.6,281.1 261.6,280.9 261.6,280.7 261.6,280.6 261.7,280.4 261.7,280.3 261.7,280.1 261.7,280.0 261.8,279.8 261.8,279.7 261.8,279.5 261.8,279.4 261.8,279.2 261.9,279.1 261.9,279.0 261.9,278.8 261.9,278.7 262.0,278.5 262.0,278.4 262.0,278.3 262.0,278.1 262.1,278.0 262.1,277.8 262.1,277.7 262.1,277.6 262.2,277.4 262.2,277.3 262.2,277.2 262.2,277.0 262.3,276.9 262.3,276.8 262.3,276.7 262.3,276.5 262.4,276.4 262.4,276.3 262.4,276.1 262.4,276.0 262.5,275.9 262.5,275.8 262.5,275.7 262.5,275.5 262.6,275.4 262.6,275.3 262.6,275.2 262.7,275.1 262.7,275.0 262.7,274.8 262.7,274.7 262.8,274.6 262.8,274.5 262.8,274.4 262.8,274.3 262.9,274.2 262.9,274.1 262.9,274.0 262.9,273.9 263.0,273.8 263.0,273.7 263.0,273.6 263.1,273.5 263.1,273.4 263.1,273.3 263.1,273.2 263.2,273.1 263.2,272.9 263.3,272.7 263.3,272.6 263.4,272.4 263.4,272.2 263.5,272.1 263.5,271.9 263.6,271.8 263.6,271.6 263.7,271.5 263.7,271.3 263.8,271.2 263.8,271.1 263.9,271.0 263.9,270.9 264.0,270.8 264.0,270.7 264.1,270.6 264.1,270.5 264.2,270.4 264.2,270.3 264.3,270.2 264.3,270.1 264.4,270.0 264.5,269.9 264.5,269.9 264.6,269.8 264.7,269.7 264.8,269.7 264.9,269.7 265.0,269.8 265.0,269.8 265.1,269.9 265.1,270.1 265.1,270.1 265.2,270.3 265.2,270.4 265.2,270.5 265.2,270.7 265.3,270.8 265.3,270.9 265.3,271.1 265.3,271.2 265.3,271.3 265.3,271.5 265.3,271.6 265.3,271.7 265.3,271.9 265.3,272.1 265.3,272.2 265.3,272.4 265.3,272.6 265.3,272.7 265.3,272.9 265.3,273.1 265.3,273.3 265.3,273.5 265.3,273.7 265.3,273.9 265.3,274.1 265.3,274.4 265.3,274.6 265.3,274.7 265.3,274.8 265.2,274.9 265.2,275.1 265.2,275.2 265.2,275.3 265.2,275.4 265.2,275.5 265.2,275.7 265.2,275.8 265.2,275.9 265.2,276.0 265.2,276.2 265.2,276.3 265.1,276.4 265.1,276.6 265.1,276.7 265.1,276.8 265.1,277.0 265.1,277.1 265.1,277.2 265.1,277.4 265.1,277.5 265.1,277.7 265.0,277.8 265.0,277.9 265.0,278.1 265.0,278.2 265.0,278.4 265.0,278.5 265.0,278.7 265.0,278.8 265.0,279.0 264.9,279.1 264.9,279.3 264.9,279.4 264.9,279.6 264.9,279.8 264.9,279.9 264.9,280.1 264.8,280.2 264.8,280.4 264.8,280.6 264.8,280.7 264.8,280.9 264.8,281.0 264.8,281.2 264.7,281.4 264.7,281.5 264.7,281.7 264.7,281.9 264.7,282.1 264.7,282.2 264.7,282.4 264.6,282.6 264.6,282.7 264.6,282.9 264.6,283.1 264.6,283.3 264.6,283.4 264.6,283.6 264.5,283.8 264.5,284.0 264.5,284.2 264.5,284.3 264.5,284.5 264.5,284.7 264.4,284.9 264.4,285.1 264.4,285.3 264.4,285.5 264.4,285.6 264.4,285.8 264.4,286.0 264.3,286.2 264.3,286.4 264.3,286.6 264.3,286.8 264.3,287.0 264.3,287.2 264.2,287.4 264.2,287.6 264.2,287.7 264.2,287.9 264.2,288.1 264.2,288.3 264.2,288.5 264.1,288.7 264.1,288.9 264.1,289.1 264.1,289.3 264.1,289.5 264.1,289.7 264.0,289.9 264.0,290.1 264.0,290.3 264.0,290.5 264.0,290.8 264.0,291.0 264.0,291.2 263.9,291.4 263.9,291.6 263.9,291.8 263.9,292.0 263.9,292.2 263.9,292.4 263.9,292.6 263.9,292.8 263.8,293.0 263.8,293.2 263.8,293.5 263.8,293.7 263.8,293.9 263.8,294.1 263.8,294.3 263.8,294.5 263.7,294.7 263.7,294.9 263.7,295.2 263.7,295.4 263.7,295.6 263.7,295.8 263.7,296.0 263.7,296.2 263.7,296.4 263.6,296.7 263.6,296.9 263.6,297.1 263.6,297.3 263.6,297.5 263.6,297.7 263.6,298.0 263.6,298.2 263.6,298.4 263.6,298.6 263.6,298.8 263.6,299.0 263.5,299.3 263.5,299.5 263.5,299.7 263.5,299.9 263.5,300.1 263.5,300.4 263.5,300.6 263.5,300.8 263.5,301.0 263.5,301.2 263.5,301.5 263.5,301.7 263.5,301.9 263.5,302.1 263.5,302.3 263.5,302.5 263.5,302.8 263.5,303.0 263.5,303.2 263.5,303.4 263.5,303.6 263.5,303.9 263.5,304.1 263.5,304.3 263.5,304.5 263.5,304.7 263.5,305.0 263.5,305.2 263.5,305.4 263.5,305.6 263.5,305.8 263.5,306.1 263.5,306.3 263.5,306.5 263.5,306.7 263.5,306.9 263.5,307.1 263.5,307.4 263.5,307.6 263.5,307.8 263.5,308.0 263.5,308.2 263.5,308.4 263.5,308.7 263.5,308.9 263.5,309.1 263.5,309.3 263.5,309.5 263.5,309.7 263.5,309.9 263.5,310.2 263.6,310.4 263.6,310.6 263.6,310.8 263.6,311.0 263.6,311.2 263.6,311.4 263.6,311.6 263.6,311.8 263.6,312.1 263.6,312.3 263.6,312.5 263.7,312.7 263.7,312.9 263.7,313.1 263.7,313.3 263.7,313.5 263.7,313.7 263.7,313.9 263.7,314.1 263.8,314.3 263.8,314.5 263.8,314.7 263.8,314.9 263.8,315.1 263.8,315.3 263.8,315.5 263.9,315.7 263.9,315.9 263.9,316.1 263.9,316.3 263.9,316.5 263.9,316.7 264.0,316.9 264.0,317.1 264.0,317.3 264.0,317.5 264.0,317.7 264.1,317.9 264.1,318.1 264.1,318.3 264.1,318.5 264.1,318.7 264.2,318.8 264.2,319.0 264.2,319.2 264.2,319.4 264.2,319.6 264.3,319.8 264.3,320.0 264.3,320.1 264.3,320.3 264.3,320.5 264.4,320.7 264.4,320.9 264.4,321.0 264.4,321.2 264.5,321.4 264.5,321.6 264.5,321.7 264.5,321.9 264.6,322.1 264.6,322.3 264.6,322.4 264.6,322.6 264.7,322.8 264.7,322.9 264.7,323.1 264.7,323.3 264.8,323.4 264.8,323.6 264.8,323.8 264.9,323.9 264.9,324.1 264.9,324.3 264.9,324.4 265.0,324.6 265.0,324.7 265.0,324.9 265.0,325.0 265.1,325.2 265.1,325.3 265.1,325.5 265.2,325.6 265.2,325.8 265.2,325.9 265.2,326.1 265.3,326.2 265.3,326.4 265.3,326.5 265.4,326.7 265.4,326.8 265.4,327.0 265.5,327.1 265.5,327.2 265.5,327.4 265.5,327.5 265.6,327.6 265.6,327.8 265.6,327.9 265.7,328.0 265.7,328.2 265.7,328.3 265.8,328.4 265.8,328.5 265.8,328.7 265.9,328.8 265.9,328.9 265.9,329.0 265.9,329.1 266.0,329.3 266.0,329.4 266.0,329.5 266.1,329.6 266.1,329.7 266.1,329.8 266.2,329.9 266.2,330.0 266.2,330.2 266.3,330.3 266.3,330.4 266.3,330.5 266.3,330.6 266.4,330.7 266.4,330.8 266.4,330.9 266.5,331.0 266.5,331.1 266.5,331.1 266.6,331.2 266.6,331.3 266.7,331.5 266.7,331.7 266.8,331.8 266.8,332.0 266.9,332.2 266.9,332.3 267.0,332.4 267.1,332.6 267.1,332.7 267.2,332.8 267.2,332.9 267.3,333.1 267.3,333.2 267.4,333.3 267.4,333.4 267.5,333.4 267.5,333.5 267.6,333.6 267.7,333.7 267.7,333.8 267.8,333.9 267.9,333.9 268.0,334.0 268.1,334.0 268.2,334.0 268.3,333.9 268.3,333.9 268.4,333.8 268.4,333.7 268.4,333.6 268.5,333.4 268.5,333.3 268.5,333.2 268.5,333.0 268.6,332.9 268.6,332.8 268.6,332.7 268.6,332.6 268.6,332.4 268.6,332.3 268.6,332.1 268.6,332.0 268.6,331.8 268.6,331.6 268.6,331.4 268.6,331.3 268.6,331.1 268.6,330.9 268.6,330.7 268.6,330.5 268.6,330.3 268.6,330.0 268.5,329.8 268.5,329.7 268.5,329.6 268.5,329.5 268.5,329.4 268.5,329.2 268.5,329.1 268.5,329.0 268.5,328.9 268.5,328.7 268.5,328.6 268.5,328.5 268.4,328.4 268.4,328.2 268.4,328.1 268.4,328.0 268.4,327.8 268.4,327.7 268.4,327.5 268.4,327.4 268.3,327.3 268.3,327.1 268.3,327.0 268.3,326.8 268.3,326.7 268.3,326.5 268.3,326.4 268.3,326.2 268.2,326.1 268.2,325.9 268.2,325.8 268.2,325.6 268.2,325.5 268.2,325.3 268.1,325.2 268.1,325.0 268.1,324.8 268.1,324.7 268.1,324.5 268.1,324.3 268.0,324.2 268.0,324.0 268.0,323.8 268.0,323.7 268.0,323.5 267.9,323.3 267.9,323.1 267.9,323.0 267.9,322.8 267.9,322.6 267.9,322.4 267.8,322.2 267.8,322.1 267.8,321.9 267.8,321.7 267.8,321.5 267.7,321.3 267.7,321.1 267.7,321.0 267.7,320.8 267.6,320.6 267.6,320.4 267.6,320.2 267.6,320.0 267.6,319.8 267.5,319.6 267.5,319.4 267.5,319.2 267.5,319.0 267.5,318.8 267.4,318.6 267.4,318.4 267.4,318.2 267.4,318.0 267.3,317.8 267.3,317.6 267.3,317.4 267.3,317.2 267.3,317.0 267.2,316.8 267.2,316.5 267.2,316.3 267.2,316.1 267.1,315.9 267.1,315.7 267.1,315.5 267.1,315.3 267.1,315.0 267.0,314.8 267.0,314.6 267.0,314.4 267.0,314.2 266.9,314.0 266.9,313.7 266.9,313.5 266.9,313.3 266.9,313.1 266.8,312.8 266.8,312.6 266.8,312.4 266.8,312.2 266.7,311.9 266.7,311.7 266.7,311.5 266.7,311.2 266.7,311.0 266.6,310.8 266.6,310.6 266.6,310.3 266.6,310.1 266.6,309.9 266.5,309.6 266.5,309.4 266.5,309.2 266.5,308.9 266.5,308.7 266.4,308.4 266.4,308.2 266.4,308.0 266.4,307.7 266.4,307.5 266.3,307.3 266.3,307.0 266.3,306.8 266.3,306.5 266.3,306.3 266.3,306.1 266.2,305.8 266.2,305.6 266.2,305.3 266.2,305.1 266.2,304.8 266.2,304.6 266.1,304.3 266.1,304.1 266.1,303.9 266.1,303.6 266.1,303.4 266.1,303.1 266.1,302.9 266.0,302.6 266.0,302.4 266.0,302.1 266.0,301.9 266.0,301.6 266.0,301.4 266.0,301.1 265.9,300.9 265.9,300.6 265.9,300.4 265.9,300.1 265.9,299.9 265.9,299.7 265.9,299.4 265.9,299.2 265.9,298.9 265.9,298.7 265.8,298.4 265.8,298.2 265.8,297.9 265.8,297.7 265.8,297.4 265.8,297.2 265.8,296.9 265.8,296.7 265.8,296.4 265.8,296.2 265.8,295.9 265.8,295.7 265.8,295.4 265.8,295.2 265.8,294.9 265.8,294.7 265.8,294.4 265.8,294.2 265.8,293.9 265.8,293.7 265.8,293.4 265.8,293.2 265.8,292.9 265.8,292.7 265.8,292.4 265.8,292.2 265.8,291.9 265.8,291.7 265.8,291.4 265.8,291.2 265.8,290.9 265.8,290.7 265.8,290.4 265.8,290.2 265.8,289.9 265.8,289.7 265.8,289.5 265.8,289.2 265.8,289.0 265.8,288.7 265.8,288.5 265.8,288.2 265.8,288.0 265.8,287.7 265.9,287.5 265.9,287.3 265.9,287.0 265.9,286.8 265.9,286.5 265.9,286.3 265.9,286.1 265.9,285.8 265.9,285.6 265.9,285.3 266.0,285.1 266.0,284.9 266.0,284.6 266.0,284.4 266.0,284.2 266.0,283.9 266.0,283.7 266.1,283.5 266.1,283.2 266.1,283.0 266.1,282.8 266.1,282.5 266.2,282.3 266.2,282.1 266.2,281.9 266.2,281.6 266.2,281.4 266.2,281.2 266.3,280.9 266.3,280.7 266.3,280.5 266.3,280.3 266.4,280.1 266.4,279.8 266.4,279.6 266.4,279.4 266.4,279.2 266.5,278.9 266.5,278.7 266.5,278.5 266.5,278.3 266.6,278.1 266.6,277.9 266.6,277.7 266.6,277.4 266.7,277.2 266.7,277.0 266.7,276.8 266.8,276.6 266.8,276.4 266.8,276.2 266.8,276.0 266.9,275.8 266.9,275.6 266.9,275.4 267.0,275.2 267.0,275.0 267.0,274.8 267.0,274.6 267.1,274.4 267.1,274.2 267.1,274.0 267.2,273.8 267.2,273.6 267.2,273.4 267.3,273.2 267.3,273.0 267.3,272.8 267.4,272.6 267.4,272.5 267.4,272.3 267.5,272.1 267.5,271.9 267.5,271.7 267.6,271.5 267.6,271.4 267.6,271.2 267.7,271.0 267.7,270.8 267.8,270.7 267.8,270.5 267.8,270.3 267.9,270.2 267.9,270.0 267.9,269.8 268.0,269.6 268.0,269.5 268.0,269.3 268.1,269.2 268.1,269.0 268.2,268.8 268.2,268.7 268.2,268.5 268.3,268.4 268.3,268.2 268.3,268.1 268.4,267.9 268.4,267.8 268.5,267.6 268.5,267.5 268.5,267.3 268.6,267.2 268.6,267.0 268.7,266.9 268.7,266.7 268.7,266.6 268.8,266.5 268.8,266.3 268.9,266.2 268.9,266.1 268.9,265.9 269.0,265.8 269.0,265.7 269.1,265.5 269.1,265.4 269.1,265.3 269.2,265.2 269.2,265.1 269.2,264.9 269.3,264.8 269.3,264.7 269.4,264.6 269.4,264.5 269.4,264.4 269.5,264.3 269.5,264.1 269.6,264.0 269.6,263.9 269.6,263.8 269.7,263.7 269.7,263.6 269.8,263.5 269.8,263.4 269.8,263.3 269.9,263.2 269.9,263.1 269.9,263.1 270.0,263.0 270.0,262.9 270.1,262.8 270.1,262.7 270.2,262.6 270.2,262.4 270.3,262.2 270.4,262.1 270.5,262.0 270.5,261.8 270.6,261.7 270.7,261.6 270.7,261.5 270.8,261.4 270.9,261.3 270.9,261.2 271.0,261.1 271.1,261.1 271.1,261.0 271.2,260.9 271.3,260.8 271.4,260.8 271.5,260.8 271.6,260.7 271.7,260.8 271.8,260.8 271.9,260.9 271.9,261.0 272.0,261.1 272.0,261.2 272.1,261.3 272.1,261.4 272.1,261.5 272.1,261.7 272.1,261.8 272.2,261.9 272.2,262.0 272.2,262.2 272.2,262.3 272.2,262.5 272.2,262.6 272.2,262.8 272.2,263.0 272.2,263.2 272.2,263.4 272.2,263.6 272.2,263.8 272.2,264.0 272.2,264.2 272.2,264.4 272.2,264.6 272.2,264.8 272.2,264.9 272.2,265.0 272.2,265.1 272.2,265.2 272.2,265.4 272.1,265.5 272.1,265.6 272.1,265.8 272.1,265.9 272.1,266.0 272.1,266.2 272.1,266.3 272.1,266.4 272.1,266.6 272.0,266.7 272.0,266.9 272.0,267.0 272.0,267.2 272.0,267.3 272.0,267.5 272.0,267.6 272.0,267.8 271.9,267.9 271.9,268.1 271.9,268.2 271.9,268.4 271.9,268.6 271.9,268.7 271.8,268.9 271.8,269.1 271.8,269.2 271.8,269.4 271.8,269.6 271.7,269.7 271.7,269.9 271.7,270.1 271.7,270.3 271.7,270.4 271.6,270.6 271.6,270.8 271.6,271.0 271.6,271.2 271.6,271.4 271.5,271.5 271.5,271.7 271.5,271.9 271.5,272.1 271.4,272.3 271.4,272.5 271.4,272.7 271.4,272.9 271.3,273.1 271.3,273.3 271.3,273.5 271.3,273.7 271.2,273.9 271.2,274.1 271.2,274.3 271.2,274.5 271.1,274.7 271.1,274.9 271.1,275.1 271.1,275.3 271.0,275.6 271.0,275.8 271.0,276.0 271.0,276.2 270.9,276.4 270.9,276.6 270.9,276.9 270.8,277.1 270.8,277.3 270.8,277.5 270.8,277.7 270.7,278.0 270.7,278.2 270.7,278.4 270.7,278.7 270.6,278.9 270.6,279.1 270.6,279.4 270.5,279.6 270.5,279.8 270.5,280.1 270.5,280.3 270.4,280.5 270.4,280.8 270.4,281.0 270.3,281.2 270.3,281.5 270.3,281.7 270.3,282.0 270.2,282.2 270.2,282.5 270.2,282.7 270.1,283.0 270.1,283.2 270.1,283.5 270.1,283.7 270.0,284.0 270.0,284.2 270.0,284.5 269.9,284.7 269.9,285.0 269.9,285.2 269.9,285.5 269.8,285.7 269.8,286.0 269.8,286.3 269.7,286.5 269.7,286.8 269.7,287.0 269.7,287.3 269.6,287.6 269.6,287.8 269.6,288.1 269.6,288.3 269.5,288.6 269.5,288.9 269.5,289.1 269.5,289.4 269.4,289.7 269.4,289.9 269.4,290.2 269.4,290.5 269.3,290.7 269.3,291.0 269.3,291.3 269.3,291.6 269.2,291.8 269.2,292.1 269.2,292.4 269.2,292.6 269.2,292.9 269.1,293.2 269.1,293.5 269.1,293.7 269.1,294.0 269.0,294.3 269.0,294.6 269.0,294.8 269.0,295.1 269.0,295.4 268.9,295.7 268.9,296.0 268.9,296.2 268.9,296.5 268.9,296.8 268.9,297.1 268.8,297.3 268.8,297.6 268.8,297.9 268.8,298.2 268.8,298.5 268.8,298.7 268.8,299.0 268.7,299.3 268.7,299.6 268.7,299.9 268.7,300.1 268.7,300.4 268.7,300.7 268.7,301.0 268.7,301.3 268.6,301.6 268.6,301.8 268.6,302.1 268.6,302.4 268.6,302.7 268.6,303.0 268.6,303.2 268.6,303.5 268.6,303.8 268.6,304.1 268.6,304.4 268.6,304.7 268.6,304.9 268.5,305.2 268.5,305.5 268.5,305.8 268.5,306.1 268.5,306.3 268.5,306.6 268.5,306.9 268.5,307.2 268.5,307.5 268.5,307.7 268.5,308.0 268.5,308.3 268.5,308.6 268.5,308.9 268.5,309.1 268.5,309.4 268.5,309.7 268.6,310.0 268.6,310.2 268.6,310.5 268.6,310.8 268.6,311.1 268.6,311.3 268.6,311.6 268.6,311.9 268.6,312.2 268.6,312.4 268.6,312.7 268.6,313.0 268.6,313.3 268.7,313.5 268.7,313.8 268.7,314.1 268.7,314.3 268.7,314.6 268.7,314.9 268.7,315.1 268.7,315.4 268.8,315.7 268.8,315.9 268.8,316.2 268.8,316.5 268.8,316.7 268.8,317.0 268.9,317.3 268.9,317.5 268.9,317.8 268.9,318.1 268.9,318.3 269.0,318.6 269.0,318.8 269.0,319.1 269.0,319.4 269.1,319.6 269.1,319.9 269.1,320.1 269.1,320.4 269.1,320.6 269.2,320.9 269.2,321.1 269.2,321.4 269.3,321.6 269.3,321.9 269.3,322.1 269.3,322.4 269.4,322.6 269.4,322.9 269.4,323.1 269.5,323.4 269.5,323.6 269.5,323.8 269.5,324.1 269.6,324.3 269.6,324.6 269.6,324.8 269.7,325.0 269.7,325.3 269.7,325.5 269.8,325.7 269.8,326.0 269.9,326.2 269.9,326.4 269.9,326.7 270.0,326.9 270.0,327.1 270.0,327.3 270.1,327.6 270.1,327.8 270.1,328.0 270.2,328.2 270.2,328.4 270.3,328.7 270.3,328.9 270.3,329.1 270.4,329.3 270.4,329.5 270.5,329.7 270.5,329.9 270.5,330.1 270.6,330.3 270.6,330.6 270.7,330.8 270.7,331.0 270.8,331.2 270.8,331.4 270.8,331.6 270.9,331.8 270.9,332.0 271.0,332.2 271.0,332.3 271.1,332.5 271.1,332.7 271.2,332.9 271.2,333.1 271.3,333.3 271.3,333.5 271.3,333.7 271.4,333.8 271.4,334.0 271.5,334.2 271.5,334.4 271.6,334.6 271.6,334.7 271.7,334.9 271.7,335.1 271.8,335.2 271.8,335.4 271.9,335.6 271.9,335.7 272.0,335.9 272.0,336.1 272.1,336.2 272.1,336.4 272.1,336.5 272.2,336.7 272.2,336.8 272.3,337.0 272.3,337.1 272.4,337.3 272.4,337.4 272.5,337.6 272.5,337.7 272.6,337.9 272.6,338.0 272.7,338.1 272.7,338.3 272.8,338.4 272.8,338.6 272.9,338.7 272.9,338.8 273.0,338.9 273.0,339.1 273.1,339.2 273.1,339.3 273.2,339.4 273.2,339.6 273.3,339.7 273.3,339.8 273.4,339.9 273.4,340.0 273.4,340.1 273.5,340.2 273.5,340.3 273.6,340.4 273.6,340.5 273.7,340.6 273.7,340.7 273.8,340.8 273.8,340.9 273.9,341.0 273.9,341.1 274.0,341.2 274.0,341.3 274.0,341.4 274.1,341.5 274.1,341.5 274.2,341.6 274.2,341.7 274.3,341.8 274.4,342.0 274.5,342.1 274.6,342.2 274.6,342.4 274.7,342.5 274.8,342.6 274.9,342.7 275.0,342.7 275.0,342.8 275.1,342.9 275.2,343.0 275.2,343.0 275.3,343.1 275.4,343.1 275.5,343.2 275.7,343.2 275.8,343.1 275.9,343.1 275.9,343.0 276.0,342.9 276.1,342.9 276.1,342.7 276.2,342.6 276.2,342.6 276.2,342.4 276.2,342.3 276.3,342.2 276.3,342.1 276.3,341.9 276.3,341.8 276.3,341.7 276.4,341.5 276.4,341.3 276.4,341.1 276.4,341.0 276.4,340.8 276.4,340.6 276.4,340.4 276.4,340.2 276.4,339.9 276.4,339.7 276.4,339.6 276.4,339.5 276.4,339.3 276.4,339.2 276.3,339.1 276.3,339.0 276.3,338.8 276.3,338.7 276.3,338.6 276.3,338.4 276.3,338.3 276.3,338.2 276.3,338.0 276.3,337.9 276.3,337.7 276.2,337.6 276.2,337.4 276.2,337.3 276.2,337.1 276.2,337.0 276.2,336.8 276.2,336.7 276.1,336.5 276.1,336.3 276.1,336.2 276.1,336.0 276.1,335.9 276.0,335.7 276.0,335.5 276.0,335.3 276.0,335.2 276.0,335.0 275.9,334.8 275.9,334.6 275.9,334.5 275.9,334.3 275.9,334.1 275.8,333.9 275.8,333.7 275.8,333.5 275.8,333.3 275.7,333.2 275.7,333.0 275.7,332.8 275.7,332.6 275.6,332.4 275.6,332.2 275.6,332.0 275.6,331.8 275.5,331.6 275.5,331.4 275.5,331.2 275.4,330.9 275.4,330.7 275.4,330.5 275.3,330.3 275.3,330.1 275.3,329.9 275.3,329.7 275.2,329.4 275.2,329.2 275.2,329.0 275.1,328.8 275.1,328.5 275.1,328.3 275.0,328.1 275.0,327.9 275.0,327.6 274.9,327.4 274.9,327.2 274.9,326.9 274.8,326.7 274.8,326.5 274.8,326.2 274.7,326.0 274.7,325.7 274.7,325.5 274.6,325.2 274.6,325.0 274.5,324.8 274.5,324.5 274.5,324.3 274.4,324.0 274.4,323.8 274.4,323.5 274.3,323.2 274.3,323.0 274.3,322.7 274.2,322.5 274.2,322.2 274.1,322.0 274.1,321.7 274.1,321.4 274.0,321.2 274.0,320.9 274.0,320.6 273.9,320.4 273.9,320.1 273.9,319.8 273.8,319.6 273.8,319.3 273.7,319.0 273.7,318.7 273.7,318.5 273.6,318.2 273.6,317.9 273.6,317.6 273.5,317.4 273.5,317.1 273.4,316.8 273.4,316.5 273.4,316.2 273.3,316.0 273.3,315.7 273.3,315.4 273.2,315.1 273.2,314.8 273.2,314.5 273.1,314.3 273.1,314.0 273.1,313.7 273.0,313.4 273.0,313.1 273.0,312.8 272.9,312.5 272.9,312.2 272.9,311.9 272.8,311.6 272.8,311.3 272.8,311.0 272.7,310.7 272.7,310.5 272.7,310.2 272.6,309.9 272.6,309.6 272.6,309.3 272.5,309.0 272.5,308.7 272.5,308.4 272.5,308.1 272.4,307.8 272.4,307.5 272.4,307.2 272.3,306.9 272.3,306.5 272.3,306.2 272.3,305.9 272.2,305.6 272.2,305.3 272.2,305.0 272.2,304.7 272.1,304.4 272.1,304.1 272.1,303.8 272.1,303.5 272.0,303.2 272.0,302.9 272.0,302.6 272.0,302.3 271.9,302.0 271.9,301.6 271.9,301.3 271.9,301.0 271.9,300.7 271.8,300.4 271.8,300.1 271.8,299.8 271.8,299.5 271.8,299.2 271.8,298.9 271.7,298.5 271.7,298.2 271.7,297.9 271.7,297.6 271.7,297.3 271.7,297.0 271.7,296.7 271.6,296.4 271.6,296.1 271.6,295.8 271.6,295.4 271.6,295.1 271.6,294.8 271.6,294.5 271.6,294.2 271.6,293.9 271.6,293.6 271.6,293.3 271.6,293.0 271.5,292.7 271.5,292.4 271.5,292.0 271.5,291.7 271.5,291.4 271.5,291.1 271.5,290.8 271.5,290.5 271.5,290.2 271.5,289.9 271.5,289.6 271.5,289.3 271.5,289.0 271.5,288.7 271.5,288.4 271.5,288.1 271.6,287.8 271.6,287.5 271.6,287.2 271.6,286.9 271.6,286.6 271.6,286.3 271.6,286.0 271.6,285.7 271.6,285.4 271.6,285.1 271.6,284.8 271.6,284.5 271.7,284.2 271.7,283.9 271.7,283.6 271.7,283.3 271.7,283.0 271.7,282.7 271.7,282.4 271.8,282.1 271.8,281.8 271.8,281.5 271.8,281.2 271.8,280.9 271.9,280.6 271.9,280.4 271.9,280.1 271.9,279.8 271.9,279.5 272.0,279.2 272.0,278.9 272.0,278.6 272.0,278.4 272.1,278.1 272.1,277.8 272.1,277.5 272.1,277.2 272.2,277.0 272.2,276.7 272.2,276.4 272.3,276.1 272.3,275.9 272.3,275.6 272.4,275.3 272.4,275.1 272.4,274.8 272.5,274.5 272.5,274.2 272.5,274.0 272.6,273.7 272.6,273.4 272.6,273.2 272.7,272.9 272.7,272.7 272.7,272.4 272.8,272.1 272.8,271.9 272.8,271.6 272.9,271.4 272.9,271.1 273.0,270.9 273.0,270.6 273.1,270.4 273.1,270.1 273.1,269.9 273.2,269.6 273.2,269.4 273.3,269.1 273.3,268.9 273.4,268.7 273.4,268.4 273.4,268.2 273.5,267.9 273.5,267.7 273.6,267.5 273.6,267.2 273.7,267.0 273.7,266.8 273.8,266.6 273.8,266.3 273.9,266.1 273.9,265.9 274.0,265.7 274.0,265.4 274.1,265.2 274.1,265.0 274.2,264.8 274.2,264.6 274.3,264.3 274.3,264.1 274.4,263.9 274.4,263.7 274.5,263.5 274.5,263.3 274.6,263.1 274.6,262.9 274.7,262.7 274.7,262.5 274.8,262.3 274.8,262.1 274.9,261.9 275.0,261.7 275.0,261.5 275.1,261.3 275.1,261.2 275.2,261.0 275.2,260.8 275.3,260.6 275.3,260.4 275.4,260.2 275.4,260.1 275.5,259.9 275.6,259.7 275.6,259.6 275.7,259.4 275.7,259.2 275.8,259.0 275.8,258.9 275.9,258.7 276.0,258.6 276.0,258.4 276.1,258.2 276.1,258.1 276.2,257.9 276.2,257.8 276.3,257.6 276.3,257.5 276.4,257.3 276.5,257.2 276.5,257.1 276.6,256.9 276.6,256.8 276.7,256.6 276.7,256.5 276.8,256.4 276.8,256.3 276.9,256.1 277.0,256.0 277.0,255.9 277.1,255.8 277.1,255.6 277.2,255.5 277.2,255.4 277.3,255.3 277.3,255.2 277.4,255.1 277.4,255.0 277.5,254.9 277.6,254.7 277.6,254.6 277.7,254.5 277.7,254.4 277.8,254.4 277.8,254.3 277.9,254.2 277.9,254.1 278.0,254.0 278.0,253.9 278.1,253.8 278.1,253.7 278.2,253.7 278.2,253.6 278.3,253.5 278.3,253.4 278.4,253.3 278.5,253.2 278.6,253.0 278.7,252.9 278.8,252.8 278.9,252.7 278.9,252.6 279.0,252.6 279.1,252.5 279.2,252.4 279.3,252.4 279.4,252.3 279.5,252.3 279.6,252.3 279.7,252.2 279.8,252.3 279.9,252.3 280.0,252.4 280.1,252.5 280.1,252.6 280.2,252.6 280.2,252.7 280.3,252.8 280.3,252.9 280.3,253.0 280.4,253.2 280.4,253.3 280.4,253.4 280.4,253.6 280.4,253.7 280.5,253.9 280.5,254.1 280.5,254.3 280.5,254.5 280.5,254.7 280.5,254.9 280.5,255.1 280.5,255.3 280.5,255.5 280.5,255.7 280.5,255.8 280.5,255.9 280.5,256.0 280.5,256.2 280.5,256.3 280.4,256.4 280.4,256.6 280.4,256.7 280.4,256.8 280.4,257.0 280.4,257.1 280.4,257.3 280.4,257.4 280.4,257.6 280.3,257.7 280.3,257.9 280.3,258.0 280.3,258.2 280.3,258.3 280.3,258.5 280.2,258.7 280.2,258.8 280.2,259.0 280.2,259.2 280.2,259.3 280.2,259.5 280.1,259.7 280.1,259.9 280.1,260.0 280.1,260.2 280.0,260.4 280.0,260.6 280.0,260.8 280.0,260.9 279.9,261.1 279.9,261.3 279.9,261.5 279.9,261.7 279.8,261.9 279.8,262.1 279.8,262.3 279.7,262.5 279.7,262.7 279.7,262.9 279.7,263.1 279.6,263.3 279.6,263.6 279.6,263.8 279.5,264.0 279.5,264.2 279.5,264.4 279.4,264.6 279.4,264.9 279.4,265.1 279.3,265.3 279.3,265.5 279.2,265.8 279.2,266.0 279.2,266.2 279.1,266.5 279.1,266.7 279.1,266.9 279.0,267.2 279.0,267.4 278.9,267.6 278.9,267.9 278.9,268.1 278.8,268.4 278.8,268.6 278.7,268.9 278.7,269.1 278.7,269.4 278.6,269.6 278.6,269.9 278.5,270.1 278.5,270.4 278.4,270.7 278.4,270.9 278.4,271.2 278.3,271.5 278.3,271.7 278.2,272.0 278.2,272.3 278.1,272.5 278.1,272.8 278.1,273.1 278.0,273.3 278.0,273.6 277.9,273.9 277.9,274.2 277.8,274.4 277.8,274.7 277.7,275.0 277.7,275.3 277.7,275.6 277.6,275.9 277.6,276.1 277.5,276.4 277.5,276.7 277.4,277.0 277.4,277.3 277.3,277.6 277.3,277.9 277.2,278.2 277.2,278.5 277.2,278.8 277.1,279.1 277.1,279.4 277.0,279.7 277.0,280.0 276.9,280.3 276.9,280.6 276.8,280.9 276.8,281.2 276.8,281.5 276.7,281.8 276.7,282.1 276.6,282.4 276.6,282.7 276.5,283.0 276.5,283.3 276.4,283.7 276.4,284.0 276.4,284.3 276.3,284.6 276.3,284.9 276.2,285.2 276.2,285.6 276.2,285.9 276.1,286.2 276.1,286.5 276.0,286.8 276.0,287.2 275.9,287.5 275.9,287.8 275.9,288.1 275.8,288.4 275.8,288.8 275.8,289.1 275.7,289.4 275.7,289.8 275.6,290.1 275.6,290.4 275.6,290.7 275.5,291.1 275.5,291.4 275.5,291.7 275.4,292.1 275.4,292.4 275.4,292.7 275.3,293.0 275.3,293.4 275.3,293.7 275.2,294.0 275.2,294.4 275.2,294.7 275.1,295.0 275.1,295.4 275.1,295.7 275.0,296.1 275.0,296.4 275.0,296.7 275.0,297.1 274.9,297.4 274.9,297.7 274.9,298.1 274.9,298.4 274.8,298.7 274.8,299.1 274.8,299.4 274.8,299.8 274.7,300.1 274.7,300.4 274.7,300.8 274.7,301.1 274.7,301.5 274.6,301.8 274.6,302.1 274.6,302.5 274.6,302.8 274.6,303.1 274.6,303.5 274.6,303.8 274.5,304.2 274.5,304.5 274.5,304.8 274.5,305.2 274.5,305.5 274.5,305.9 274.5,306.2 274.5,306.5 274.5,306.9 274.4,307.2 274.4,307.5 274.4,307.9 274.4,308.2 274.4,308.5 274.4,308.9 274.4,309.2 274.4,309.6 274.4,309.9 274.4,310.2 274.4,310.6 274.4,310.9 274.4,311.2 274.4,311.6 274.4,311.9 274.4,312.2 274.4,312.6 274.4,312.9 274.4,313.2 274.4,313.5 274.4,313.9 274.4,314.2 274.5,314.5 274.5,314.9 274.5,315.2 274.5,315.5 274.5,315.8 274.5,316.2 274.5,316.5 274.5,316.8 274.6,317.1 274.6,317.5 274.6,317.8 274.6,318.1 274.6,318.4 274.6,318.8 274.7,319.1 274.7,319.4 274.7,319.7 274.7,320.0 274.7,320.3 274.8,320.7 274.8,321.0 274.8,321.3 274.8,321.6 274.9,321.9 274.9,322.2 274.9,322.5 274.9,322.8 275.0,323.2 275.0,323.5 275.0,323.8 275.1,324.1 275.1,324.4 275.1,324.7 275.2,325.0 275.2,325.3 275.2,325.6 275.3,325.9 275.3,326.2 275.3,326.5 275.4,326.8 275.4,327.1 275.4,327.4 275.5,327.7 275.5,327.9 275.6,328.2 275.6,328.5 275.6,328.8 275.7,329.1 275.7,329.4 275.8,329.7 275.8,329.9 275.9,330.2 275.9,330.5 276.0,330.8 276.0,331.1 276.0,331.3 276.1,331.6 276.1,331.9 276.2,332.2 276.2,332.4 276.3,332.7 276.3,333.0 276.4,333.2 276.4,333.5 276.5,333.8 276.5,334.0 276.6,334.3 276.7,334.5 276.7,334.8 276.8,335.0 276.8,335.3 276.9,335.6 276.9,335.8 277.0,336.1 277.0,336.3 277.1,336.5 277.2,336.8 277.2,337.0 277.3,337.3 277.3,337.5 277.4,337.8 277.4,338.0 277.5,338.2 277.6,338.5 277.6,338.7 277.7,338.9 277.7,339.1 277.8,339.4 277.9,339.6 277.9,339.8 278.0,340.0 278.1,340.3 278.1,340.5 278.2,340.7 278.2,340.9 278.3,341.1 278.4,341.3 278.4,341.5 278.5,341.7 278.6,341.9 278.6,342.1 278.7,342.3 278.7,342.5 278.8,342.7 278.9,342.9 278.9,343.1 279.0,343.3 279.1,343.5 279.1,343.7 279.2,343.9 279.3,344.0 279.3,344.2 279.4,344.4 279.5,344.6 279.5,344.7 279.6,344.9 279.7,345.1 279.7,345.3 279.8,345.4 279.9,345.6 279.9,345.8 280.0,345.9 280.1,346.1 280.1,346.2 280.2,346.4 280.2,346.5 280.3,346.7 280.4,346.8 280.4,347.0 280.5,347.1 280.6,347.2 280.6,347.4 280.7,347.5 280.8,347.7 280.8,347.8 280.9,347.9 281.0,348.0 281.0,348.2 281.1,348.3 281.1,348.4 281.2,348.5 281.3,348.6 281.3,348.8 281.4,348.9 281.4,349.0 281.5,349.1 281.6,349.2 281.6,349.3 281.7,349.4 281.7,349.5 281.8,349.6 281.9,349.7 281.9,349.8 282.0,349.9 282.0,349.9 282.1,350.0 282.2,350.1 282.2,350.2 282.3,350.3 282.3,350.3 282.4,350.4 282.4,350.5 282.5,350.6 282.6,350.7 282.7,350.8 282.8,350.9 282.9,351.0 283.0,351.1 283.1,351.2 283.2,351.3 283.3,351.3 283.4,351.4 283.4,351.4 283.6,351.5 283.7,351.5 283.8,351.5 283.9,351.4 284.0,351.4 284.1,351.3 284.2,351.2 284.3,351.2 284.3,351.1 284.4,351.0 284.4,350.9 284.4,350.8 284.5,350.7 284.5,350.5 284.5,350.4 284.6,350.2 284.6,350.1 284.6,349.9 284.6,349.7 284.6,349.5 284.6,349.3 284.6,349.1 284.7,348.9 284.7,348.7 284.6,348.5 284.6,348.3 284.6,348.2 284.6,348.1 284.6,348.0 284.6,347.8 284.6,347.7 284.6,347.6 284.6,347.4 284.6,347.3 284.6,347.1 284.6,347.0 284.6,346.9 284.5,346.7 284.5,346.6 284.5,346.4 284.5,346.2 284.5,346.1 284.5,345.9 284.5,345.8 284.4,345.6 284.4,345.4 284.4,345.3 284.4,345.1 284.4,344.9 284.3,344.8 284.3,344.6 284.3,344.4 284.3,344.2 284.2,344.0 284.2,343.8 284.2,343.7 284.2,343.5 284.1,343.3 284.1,343.1 284.1,342.9 284.0,342.7 284.0,342.5 284.0,342.3 284.0,342.1 283.9,341.9 283.9,341.7 283.9,341.5 283.8,341.2 283.8,341.0 283.7,340.8 283.7,340.6 283.7,340.4 283.6,340.2 283.6,339.9 283.6,339.7 283.5,339.5 283.5,339.3 283.4,339.0 283.4,338.8 283.4,338.6 283.3,338.3 283.3,338.1 283.2,337.8 283.2,337.6 283.1,337.3 283.1,337.1 283.1,336.9 283.0,336.6 283.0,336.3 282.9,336.1 282.9,335.8 282.8,335.6 282.8,335.3 282.7,335.1 282.7,334.8 282.6,334.5 282.6,334.3 282.5,334.0 282.5,333.7 282.4,333.5 282.4,333.2 282.3,332.9 282.3,332.6 282.2,332.4 282.2,332.1 282.1,331.8 282.1,331.5 282.0,331.2 282.0,331.0 281.9,330.7 281.9,330.4 281.8,330.1 281.7,329.8 281.7,329.5 281.6,329.2 281.6,328.9 281.5,328.6 281.5,328.3 281.4,328.0 281.4,327.7 281.3,327.4 281.3,327.1 281.2,326.8 281.1,326.5 281.1,326.2 281.0,325.9 281.0,325.6 280.9,325.3 280.9,324.9 280.8,324.6 280.8,324.3 280.7,324.0 280.6,323.7 280.6,323.4 280.5,323.0 280.5,322.7 280.4,322.4 280.4,322.1 280.3,321.7 280.3,321.4 280.2,321.1 280.1,320.8 280.1,320.4 280.0,320.1 280.0,319.8 279.9,319.4 279.9,319.1 279.8,318.8 279.8,318.4 279.7,318.1 279.7,317.7 279.6,317.4 279.6,317.1 279.5,316.7 279.4,316.4 279.4,316.0 279.3,315.7 279.3,315.4 279.2,315.0 279.2,314.7 279.1,314.3 279.1,314.0 279.0,313.6 279.0,313.3 278.9,312.9 278.9,312.6 278.8,312.2 278.8,311.9 278.8,311.5 278.7,311.2 278.7,310.8 278.6,310.5 278.6,310.1 278.5,309.7 278.5,309.4 278.4,309.0 278.4,308.7 278.3,308.3 278.3,308.0 278.3,307.6 278.2,307.2 278.2,306.9 278.1,306.5 278.1,306.2 278.1,305.8 278.0,305.4 278.0,305.1 277.9,304.7 277.9,304.3 277.9,304.0 277.8,303.6 277.8,303.3 277.8,302.9 277.7,302.5 277.7,302.2 277.7,301.8 277.6,301.4 277.6,301.1 277.6,300.7 277.6,300.3 277.5,300.0 277.5,299.6 277.5,299.2 277.4,298.9 277.4,298.5 277.4,298.1 277.4,297.8 277.3,297.4 277.3,297.1 277.3,296.7 277.3,296.3 277.3,296.0 277.2,295.6 277.2,295.2 277.2,294.9 277.2,294.5 277.2,294.1 277.1,293.8 277.1,293.4 277.1,293.0 277.1,292.7 277.1,292.3 277.1,291.9 277.1,291.6 277.1,291.2 277.1,290.9 277.0,290.5 277.0,290.1 277.0,289.8 277.0,289.4 277.0,289.0 277.0,288.7 277.0,288.3 277.0,288.0 277.0,287.6 277.0,287.2 277.0,286.9 277.0,286.5 277.0,286.2 277.0,285.8 277.0,285.5 277.0,285.1 277.0,284.7 277.0,284.4 277.0,284.0 277.0,283.7 277.1,283.3 277.1,283.0 277.1,282.6 277.1,282.3 277.1,281.9 277.1,281.6 277.1,281.2 277.1,280.9 277.2,280.5 277.2,280.2 277.2,279.8 277.2,279.5 277.2,279.1 277.3,278.8 277.3,278.5 277.3,278.1 277.3,277.8 277.3,277.4 277.4,277.1 277.4,276.8 277.4,276.4 277.4,276.1 277.5,275.8 277.5,275.4 277.5,275.1 277.6,274.8 277.6,274.4 277.6,274.1 277.7,273.8 277.7,273.4 277.7,273.1 277.8,272.8 277.8,272.5 277.8,272.1 277.9,271.8 277.9,271.5 278.0,271.2 278.0,270.9 278.0,270.6 278.1,270.2 278.1,269.9 278.2,269.6 278.2,269.3 278.3,269.0 278.3,268.7 278.3,268.4 278.4,268.1 278.4,267.8 278.5,267.5 278.5,267.2 278.6,266.9 278.6,266.6 278.7,266.3 278.7,266.0 278.8,265.7 278.8,265.4 278.9,265.1 279.0,264.8 279.0,264.5 279.1,264.2 279.1,263.9 279.2,263.7 279.2,263.4 279.3,263.1 279.3,262.8 279.4,262.5 279.5,262.3 279.5,262.0 279.6,261.7 279.6,261.4 279.7,261.2 279.8,260.9 279.8,260.6 279.9,260.4 280.0,260.1 280.0,259.9 280.1,259.6 280.2,259.3 280.2,259.1 280.3,258.8 280.3,258.6 280.4,258.3 280.5,258.1 280.5,257.8 280.6,257.6 280.7,257.4 280.8,257.1 280.8,256.9 280.9,256.6 281.0,256.4 281.0,256.2 281.1,256.0 281.2,255.7 281.2,255.5 281.3,255.3 281.4,255.1 281.5,254.8 281.5,254.6 281.6,254.4 281.7,254.2 281.7,254.0 281.8,253.8 281.9,253.6 282.0,253.3 282.0,253.1 282.1,252.9 282.2,252.7 282.2,252.5 282.3,252.4 282.4,252.2 282.5,252.0 282.5,251.8 282.6,251.6 282.7,251.4 282.8,251.2 282.8,251.0 282.9,250.9 283.0,250.7 283.0,250.5 283.1,250.4 283.2,250.2 283.3,250.0 283.3,249.9 283.4,249.7 283.5,249.5 283.6,249.4 283.6,249.2 283.7,249.1 283.8,248.9 283.8,248.8 283.9,248.6 284.0,248.5 284.1,248.3 284.1,248.2 284.2,248.1 284.3,247.9 284.3,247.8 284.4,247.7 284.5,247.5 284.5,247.4 284.6,247.3 284.7,247.2 284.7,247.1 284.8,246.9 284.9,246.8 284.9,246.7 285.0,246.6 285.1,246.5 285.1,246.4 285.2,246.3 285.3,246.2 285.3,246.1 285.4,246.0 285.5,245.9 285.5,245.8 285.6,245.8 285.7,245.7 285.7,245.6 285.8,245.5 285.8,245.4 285.9,245.4 286.0,245.3 286.0,245.2 286.1,245.2 286.1,245.1 286.3,245.0 286.4,244.9 286.5,244.8 286.6,244.7 286.7,244.6 286.8,244.5 286.9,244.5 287.0,244.4 287.1,244.4 287.2,244.4 287.3,244.3 287.4,244.4 287.6,244.4 287.7,244.4 287.8,244.5 287.8,244.6 287.9,244.7 287.9,244.7 288.0,244.8 288.0,244.9 288.1,245.1 288.1,245.2 288.1,245.3 288.2,245.5 288.2,245.6 288.2,245.8 288.2,246.0 288.3,246.2 288.3,246.4 288.3,246.6 288.3,246.8 288.3,247.0 288.3,247.3 288.3,247.4 288.3,247.5 288.3,247.6 288.3,247.8 288.3,247.9 288.3,248.0 288.3,248.2 288.2,248.3 288.2,248.4 288.2,248.6 288.2,248.7 288.2,248.9 288.2,249.0 288.2,249.2 288.2,249.3 288.1,249.5 288.1,249.7 288.1,249.8 288.1,250.0 288.1,250.2 288.0,250.3 288.0,250.5 288.0,250.7 288.0,250.9 288.0,251.0 287.9,251.2 287.9,251.4 287.9,251.6 287.9,251.8 287.8,252.0 287.8,252.2 287.8,252.4 287.7,252.6 287.7,252.8 287.7,253.0 287.6,253.2 287.6,253.4 287.6,253.6 287.5,253.8 287.5,254.0 287.5,254.2 287.4,254.4 287.4,254.7 287.3,254.9 287.3,255.1 287.3,255.3 287.2,255.6 287.2,255.8 287.1,256.0 287.1,256.3 287.0,256.5 287.0,256.7 287.0,257.0 286.9,257.2 286.9,257.5 286.8,257.7 286.8,258.0 286.7,258.2 286.7,258.5 286.6,258.7 286.6,259.0 286.5,259.2 286.5,259.5 286.4,259.8 286.4,260.0 286.3,260.3 286.3,260.6 286.2,260.8 286.2,261.1 286.1,261.4 286.0,261.7 286.0,261.9 285.9,262.2 285.9,262.5 285.8,262.8 285.8,263.1 285.7,263.4 285.6,263.6 285.6,263.9 285.5,264.2 285.5,264.5 285.4,264.8 285.3,265.1 285.3,265.4 285.2,265.7 285.2,266.0 285.1,266.3 285.0,266.6 285.0,266.9 284.9,267.2 284.9,267.5 284.8,267.9 284.7,268.2 284.7,268.5 284.6,268.8 284.5,269.1 284.5,269.4 284.4,269.8 284.3,270.1 284.3,270.4 284.2,270.7 284.2,271.1 284.1,271.4 284.0,271.7 284.0,272.0 283.9,272.4 283.8,272.7 283.8,273.0 283.7,273.4 283.6,273.7 283.6,274.1 283.5,274.4 283.4,274.7 283.4,275.1 283.3,275.4 283.3,275.8 283.2,276.1 283.1,276.5 283.1,276.8 283.0,277.2 282.9,277.5 282.9,277.9 282.8,278.2 282.7,278.6 282.7,278.9 282.6,279.3 282.6,279.6 282.5,280.0 282.4,280.4 282.4,280.7 282.3,281.1 282.3,281.4 282.2,281.8 282.1,282.2 282.1,282.5 282.0,282.9 282.0,283.3 281.9,283.6 281.8,284.0 281.8,284.4 281.7,284.7 281.7,285.1 281.6,285.5 281.6,285.9 281.5,286.2 281.4,286.6 281.4,287.0 281.3,287.4 281.3,287.7 281.2,288.1 281.2,288.5 281.1,288.9 281.1,289.2 281.0,289.6 281.0,290.0 280.9,290.4 280.9,290.8 280.8,291.1 280.8,291.5 280.7,291.9 280.7,292.3 280.6,292.7 280.6,293.0 280.5,293.4 280.5,293.8 280.4,294.2 280.4,294.6 280.4,295.0 280.3,295.4 280.3,295.7 280.2,296.1 280.2,296.5 280.2,296.9 280.1,297.3 280.1,297.7 280.1,298.1 280.0,298.4 280.0,298.8 279.9,299.2 279.9,299.6 279.9,300.0 279.9,300.4 279.8,300.8 279.8,301.2 279.8,301.5 279.7,301.9 279.7,302.3 279.7,302.7 279.7,303.1 279.6,303.5 279.6,303.9 279.6,304.3 279.6,304.6 279.5,305.0 279.5,305.4 279.5,305.8 279.5,306.2 279.5,306.6 279.5,307.0 279.4,307.3 279.4,307.7 279.4,308.1 279.4,308.5 279.4,308.9 279.4,309.3 279.4,309.7 279.4,310.0 279.3,310.4 279.3,310.8 279.3,311.2 279.3,311.6 279.3,311.9 279.3,312.3 279.3,312.7 279.3,313.1 279.3,313.5 279.3,313.8 279.3,314.2 279.3,314.6 279.3,315.0 279.3,315.4 279.3,315.7 279.3,316.1 279.3,316.5 279.4,316.9 279.4,317.2 279.4,317.6 279.4,318.0 279.4,318.3 279.4,318.7 279.4,319.1 279.4,319.5 279.5,319.8 279.5,320.2 279.5,320.6 279.5,320.9 279.5,321.3 279.6,321.6 279.6,322.0 279.6,322.4 279.6,322.7 279.7,323.1 279.7,323.4 279.7,323.8 279.7,324.2 279.8,324.5 279.8,324.9 279.8,325.2 279.9,325.6 279.9,325.9 279.9,326.3 280.0,326.6 280.0,327.0 280.0,327.3 280.1,327.7 280.1,328.0 280.1,328.3 280.2,328.7 280.2,329.0 280.3,329.4 280.3,329.7 280.4,330.0 280.4,330.4 280.4,330.7 280.5,331.0 280.5,331.4 280.6,331.7 280.6,332.0 280.7,332.3 280.7,332.7 280.8,333.0 280.8,333.3 280.9,333.6 280.9,334.0 281.0,334.3 281.0,334.6 281.1,334.9 281.2,335.2 281.2,335.5 281.3,335.8 281.3,336.1 281.4,336.5 281.4,336.8 281.5,337.1 281.6,337.4 281.6,337.7 281.7,338.0 281.8,338.3 281.8,338.5 281.9,338.8 282.0,339.1 282.0,339.4 282.1,339.7 282.1,340.0 282.2,340.3 282.3,340.6 282.4,340.8 282.4,341.1 282.5,341.4 282.6,341.7 282.6,341.9 282.7,342.2 282.8,342.5 282.8,342.7 282.9,343.0 283.0,343.3 283.1,343.5 283.1,343.8 283.2,344.1 283.3,344.3 283.4,344.6 283.4,344.8 283.5,345.1 283.6,345.3 283.7,345.6 283.7,345.8 283.8,346.0 283.9,346.3 284.0,346.5 284.0,346.7 284.1,347.0 284.2,347.2 284.3,347.4 284.4,347.7 284.4,347.9 284.5,348.1 284.6,348.3 284.7,348.5 284.8,348.8 284.8,349.0 284.9,349.2 285.0,349.4 285.1,349.6 285.2,349.8 285.2,350.0 285.3,350.2 285.4,350.4 285.5,350.6 285.6,350.8 285.6,351.0 285.7,351.2 285.8,351.3 285.9,351.5 285.9,351.7 286.0,351.9 286.1,352.1 286.2,352.2 286.3,352.4 286.3,352.6 286.4,352.7 286.5,352.9 286.6,353.1 286.7,353.2 286.7,353.4 286.8,353.5 286.9,353.7 287.0,353.8 287.0,354.0 287.1,354.1 287.2,354.3 287.3,354.4 287.4,354.5 287.4,354.7 287.5,354.8 287.6,354.9 287.7,355.1 287.7,355.2 287.8,355.3 287.9,355.4 288.0,355.5 288.0,355.6 288.1,355.8 288.2,355.9 288.2,356.0 288.3,356.1 288.4,356.2 288.5,356.3 288.5,356.4 288.6,356.5 288.7,356.5 288.7,356.6 288.8,356.7 288.9,356.8 288.9,356.9 289.0,357.0 289.1,357.0 289.1,357.1 289.2,357.2 289.2,357.2 289.3,357.3 289.4,357.4 289.5,357.5 289.6,357.6 289.7,357.7 289.8,357.7 289.9,357.8 290.1,357.9 290.2,357.9 290.3,358.0 290.4,358.0 290.5,358.0 290.6,358.0 290.7,358.0 290.9,357.9 290.9,357.9 291.0,357.8 291.1,357.8 291.1,357.7 291.2,357.6 291.2,357.5 291.3,357.4 291.3,357.2 291.4,357.1 291.4,357.0 291.4,356.8 291.5,356.6 291.5,356.5 291.5,356.3 291.5,356.1 291.5,355.9 291.5,355.6 291.5,355.4 291.5,355.2 291.5,355.0 291.5,354.9 291.5,354.8 291.5,354.7 291.5,354.5 291.5,354.4 291.5,354.2 291.5,354.1 291.5,354.0 291.5,353.8 291.5,353.7 291.4,353.5 291.4,353.4 291.4,353.2 291.4,353.0 291.4,352.9 291.4,352.7 291.3,352.5 291.3,352.4 291.3,352.2 291.3,352.0 291.3,351.8 291.2,351.7 291.2,351.5 291.2,351.3 291.2,351.1 291.1,350.9 291.1,350.7 291.1,350.5 291.0,350.3 291.0,350.1 291.0,349.9 290.9,349.7 290.9,349.5 290.9,349.3 290.8,349.1 290.8,348.9 290.8,348.7 290.7,348.4 290.7,348.2 290.6,348.0 290.6,347.8 290.6,347.6 290.5,347.3 290.5,347.1 290.4,346.9 290.4,346.6 290.3,346.4 290.3,346.1 290.2,345.9 290.2,345.7 290.1,345.4 290.1,345.2 290.0,344.9 290.0,344.6 289.9,344.4 289.9,344.1 289.8,343.9 289.8,343.6 289.7,343.3 289.7,343.1 289.6,342.8 289.5,342.5 289.5,342.3 289.4,342.0 289.4,341.7 289.3,341.4 289.3,341.2 289.2,340.9 289.1,340.6 289.1,340.3 289.0,340.0 288.9,339.7 288.9,339.4 288.8,339.1 288.8,338.8 288.7,338.5 288.6,338.2 288.6,337.9 288.5,337.6 288.4,337.3 288.4,337.0 288.3,336.7 288.2,336.4 288.2,336.1 288.1,335.8 288.0,335.5 287.9,335.1 287.9,334.8 287.8,334.5 287.7,334.2 287.7,333.8 287.6,333.5 287.5,333.2 287.5,332.9 287.4,332.5 287.3,332.2 287.2,331.9 287.2,331.5 287.1,331.2 287.0,330.8 287.0,330.5 286.9,330.2 286.8,329.8 286.7,329.5 286.7,329.1 286.6,328.8 286.5,328.4 286.4,328.1 286.4,327.7 286.3,327.4 286.2,327.0 286.2,326.7 286.1,326.3 286.0,325.9 285.9,325.6 285.9,325.2 285.8,324.9 285.7,324.5 285.7,324.1 285.6,323.8 285.5,323.4 285.4,323.0 285.4,322.6 285.3,322.3 285.2,321.9 285.2,321.5 285.1,321.2 285.0,320.8 284.9,320.4 284.9,320.0 284.8,319.6 284.7,319.3 284.7,318.9 284.6,318.5 284.5,318.1 284.5,317.7 284.4,317.4 284.3,317.0 284.3,316.6 284.2,316.2 284.1,315.8 284.1,315.4 284.0,315.0 283.9,314.6 283.9,314.2 283.8,313.9 283.7,313.5 283.7,313.1 283.6,312.7 283.6,312.3 283.5,311.9 283.4,311.5 283.4,311.1 283.3,310.7 283.3,310.3 283.2,309.9 283.2,309.5 283.1,309.1 283.0,308.7 283.0,308.3 282.9,307.9 282.9,307.5 282.8,307.1 282.8,306.7 282.7,306.3 282.7,305.9 282.6,305.5 282.6,305.1 282.5,304.7 282.5,304.3 282.4,303.9 282.4,303.4 282.3,303.0 282.3,302.6 282.3,302.2 282.2,301.8 282.2,301.4 282.1,301.0 282.1,300.6 282.1,300.2 282.0,299.8 282.0,299.4 281.9,299.0 281.9,298.6 281.9,298.2 281.8,297.8 281.8,297.3 281.8,296.9 281.8,296.5 281.7,296.1 281.7,295.7 281.7,295.3 281.6,294.9 281.6,294.5 281.6,294.1 281.6,293.7 281.5,293.3 281.5,292.9 281.5,292.5 281.5,292.1 281.5,291.7 281.4,291.2 281.4,290.8 281.4,290.4 281.4,290.0 281.4,289.6 281.4,289.2 281.4,288.8 281.4,288.4 281.3,288.0 281.3,287.6 281.3,287.2 281.3,286.8 281.3,286.4 281.3,286.0 281.3,285.6 281.3,285.2 281.3,284.8 281.3,284.4 281.3,284.0 281.3,283.6 281.3,283.2 281.3,282.8 281.3,282.4 281.3,282.1 281.3,281.7 281.4,281.3 281.4,280.9 281.4,280.5 281.4,280.1 281.4,279.7 281.4,279.3 281.4,278.9 281.4,278.6 281.5,278.2 281.5,277.8 281.5,277.4 281.5,277.0 281.5,276.6 281.6,276.3 281.6,275.9 281.6,275.5 281.6,275.1 281.7,274.7 281.7,274.4 281.7,274.0 281.8,273.6 281.8,273.3 281.8,272.9 281.9,272.5 281.9,272.1 281.9,271.8 282.0,271.4 282.0,271.0 282.0,270.7 282.1,270.3 282.1,270.0 282.2,269.6 282.2,269.2 282.3,268.9 282.3,268.5 282.3,268.2 282.4,267.8 282.4,267.5 282.5,267.1 282.5,266.8 282.6,266.4 282.6,266.1 282.7,265.7 282.7,265.4 282.8,265.1 282.9,264.7 282.9,264.4 283.0,264.0 283.0,263.7 283.1,263.4 283.1,263.0 283.2,262.7 283.3,262.4 283.3,262.1 283.4,261.7 283.4,261.4 283.5,261.1 283.6,260.8 283.6,260.5 283.7,260.1 283.8,259.8 283.8,259.5 283.9,259.2 284.0,258.9 284.0,258.6 284.1,258.3 284.2,258.0 284.3,257.7 284.3,257.4 284.4,257.1 284.5,256.8 284.6,256.5 284.6,256.2 284.7,255.9 284.8,255.6 284.9,255.3 284.9,255.1 285.0,254.8 285.1,254.5 285.2,254.2 285.2,253.9 285.3,253.7 285.4,253.4 285.5,253.1 285.6,252.9 285.6,252.6 285.7,252.3 285.8,252.1 285.9,251.8 286.0,251.6 286.1,251.3 286.1,251.0 286.2,250.8 286.3,250.5 286.4,250.3 286.5,250.1 286.6,249.8 286.6,249.6 286.7,249.3 286.8,249.1 286.9,248.9 287.0,248.6 287.1,248.4 287.2,248.2 287.2,248.0 287.3,247.7 287.4,247.5 287.5,247.3 287.6,247.1 287.7,246.9 287.8,246.7 287.9,246.5 287.9,246.3 288.0,246.1 288.1,245.9 288.2,245.7 288.3,245.5 288.4,245.3 288.5,245.1 288.5,244.9 288.6,244.7 288.7,244.6 288.8,244.4 288.9,244.2 289.0,244.0 289.1,243.9 289.1,243.7 289.2,243.5 289.3,243.4 289.4,243.2 289.5,243.0 289.6,242.9 289.7,242.7 289.7,242.6 289.8,242.4 289.9,242.3 290.0,242.1 290.1,242.0 290.1,241.9 290.2,241.7 290.3,241.6 290.4,241.5 290.5,241.3 290.5,241.2 290.6,241.1 290.7,241.0 290.8,240.9 290.9,240.8 290.9,240.6 291.0,240.5 291.1,240.4 291.2,240.3 291.2,240.2 291.3,240.1 291.4,240.0 291.5,239.9 291.5,239.9 291.6,239.8 291.7,239.7 291.8,239.6 291.8,239.5 291.9,239.5 292.0,239.4 292.0,239.3 292.1,239.3 292.2,239.2 292.2,239.1 292.3,239.1 292.4,239.0 292.5,238.9 292.7,238.8 292.8,238.7 292.9,238.6 293.0,238.6 293.1,238.6 293.2,238.5 293.4,238.5 293.5,238.5 293.6,238.5 293.8,238.6 293.8,238.6 293.9,238.7 294.0,238.8 294.0,238.9 294.1,239.0 294.2,239.1 294.2,239.2 294.2,239.3 294.3,239.5 294.3,239.6 294.4,239.8 294.4,240.0 294.4,240.1 294.4,240.3 294.4,240.6 294.5,240.8 294.5,241.0 294.5,241.1 294.5,241.2 294.5,241.4 294.5,241.5 294.5,241.6 294.5,241.8 294.4,241.9 294.4,242.0 294.4,242.2 294.4,242.3 294.4,242.5 294.4,242.6 294.4,242.8 294.4,242.9 294.4,243.1 294.3,243.2 294.3,243.4 294.3,243.6 294.3,243.7 294.3,243.9 294.2,244.1 294.2,244.3 294.2,244.4 294.2,244.6 294.2,244.8 294.1,245.0 294.1,245.2 294.1,245.4 294.0,245.6 294.0,245.8 294.0,246.0 293.9,246.2 293.9,246.4 293.9,246.6 293.8,246.8 293.8,247.0 293.8,247.2 293.7,247.4 293.7,247.6 293.6,247.9 293.6,248.1 293.6,248.3 293.5,248.5 293.5,248.8 293.4,249.0 293.4,249.2 293.3,249.5 293.3,249.7 293.2,250.0 293.2,250.2 293.1,250.5 293.1,250.7 293.0,251.0 293.0,251.2 292.9,251.5 292.9,251.7 292.8,252.0 292.7,252.3 292.7,252.5 292.6,252.8 292.6,253.1 292.5,253.3 292.4,253.6 292.4,253.9 292.3,254.2 292.3,254.4 292.2,254.7 292.1,255.0 292.1,255.3 292.0,255.6 291.9,255.9 291.9,256.2 291.8,256.5 291.7,256.8 291.7,257.1 291.6,257.4 291.5,257.7 291.4,258.0 291.4,258.3 291.3,258.6 291.2,258.9 291.2,259.2 291.1,259.5 291.0,259.9 290.9,260.2 290.9,260.5 290.8,260.8 290.7,261.2 290.6,261.5 290.6,261.8 290.5,262.1 290.4,262.5 290.3,262.8 290.3,263.1 290.2,263.5 290.1,263.8 290.0,264.2 289.9,264.5 289.9,264.9 289.8,265.2 289.7,265.6 289.6,265.9 289.5,266.3 289.5,266.6 289.4,267.0 289.3,267.3 289.2,267.7 289.1,268.0 289.1,268.4 289.0,268.8 288.9,269.1 288.8,269.5 288.7,269.9 288.7,270.2 288.6,270.6 288.5,271.0 288.4,271.3 288.3,271.7 288.3,272.1 288.2,272.5 288.1,272.8 288.0,273.2 287.9,273.6 287.9,274.0 287.8,274.4 287.7,274.8 287.6,275.1 287.5,275.5 287.5,275.9 287.4,276.3 287.3,276.7 287.2,277.1 287.1,277.5 287.1,277.9 287.0,278.3 286.9,278.7 286.8,279.1 286.8,279.5 286.7,279.9 286.6,280.3 286.5,280.7 286.5,281.1 286.4,281.5 286.3,281.9 286.2,282.3 286.2,282.7 286.1,283.1 286.0,283.5 285.9,283.9 285.9,284.3 285.8,284.7 285.7,285.1 285.7,285.5 285.6,286.0 285.5,286.4 285.5,286.8 285.4,287.2 285.3,287.6 285.3,288.0 285.2,288.4 285.1,288.9 285.1,289.3 285.0,289.7 284.9,290.1 284.9,290.5 284.8,290.9 284.8,291.4 284.7,291.8 284.6,292.2 284.6,292.6 284.5,293.1 284.5,293.5 284.4,293.9 284.4,294.3 284.3,294.7 284.3,295.2 284.2,295.6 284.2,296.0 284.1,296.4 284.1,296.9 284.0,297.3 284.0,297.7 283.9,298.1 283.9,298.6 283.8,299.0 283.8,299.4 283.7,299.8 283.7,300.3 283.7,300.7 283.6,301.1 283.6,301.5 283.5,302.0 283.5,302.4 283.5,302.8 283.4,303.2 283.4,303.7 283.4,304.1 283.3,304.5 283.3,304.9 283.3,305.4 283.3,305.8 283.2,306.2 283.2,306.6 283.2,307.1 283.2,307.5 283.1,307.9 283.1,308.3 283.1,308.7 283.1,309.2 283.1,309.6 283.0,310.0 283.0,310.4 283.0,310.9 283.0,311.3 283.0,311.7 283.0,312.1 283.0,312.5 283.0,312.9 283.0,313.4 283.0,313.8 282.9,314.2 282.9,314.6 282.9,315.0 282.9,315.4 282.9,315.9 282.9,316.3 282.9,316.7 282.9,317.1 283.0,317.5 283.0,317.9 283.0,318.3 283.0,318.7 283.0,319.1 283.0,319.6 283.0,320.0 283.0,320.4 283.0,320.8 283.0,321.2 283.1,321.6 283.1,322.0 283.1,322.4 283.1,322.8 283.1,323.2 283.2,323.6 283.2,324.0 283.2,324.4 283.2,324.8 283.3,325.1 283.3,325.5 283.3,325.9 283.4,326.3 283.4,326.7 283.4,327.1 283.5,327.5 283.5,327.9 283.5,328.3 283.6,328.6 283.6,329.0 283.6,329.4 283.7,329.8 283.7,330.2 283.8,330.5 283.8,330.9 283.8,331.3 283.9,331.6 283.9,332.0 284.0,332.4 284.0,332.8 284.1,333.1 284.1,333.5 284.2,333.8 284.2,334.2 284.3,334.6 284.4,334.9 284.4,335.3 284.5,335.6 284.5,336.0 284.6,336.3 284.6,336.7 284.7,337.0 284.8,337.4 284.8,337.7 284.9,338.1 285.0,338.4 285.0,338.8 285.1,339.1 285.2,339.4 285.2,339.8 285.3,340.1 285.4,340.4 285.4,340.8 285.5,341.1 285.6,341.4 285.6,341.7 285.7,342.1 285.8,342.4 285.9,342.7 285.9,343.0 286.0,343.3 286.1,343.6 286.2,343.9 286.2,344.3 286.3,344.6 286.4,344.9 286.5,345.2 286.6,345.5 286.6,345.8 286.7,346.1 286.8,346.4 286.9,346.6 287.0,346.9 287.1,347.2 287.1,347.5 287.2,347.8 287.3,348.1 287.4,348.3 287.5,348.6 287.6,348.9 287.7,349.2 287.8,349.4 287.8,349.7 287.9,350.0 288.0,350.2 288.1,350.5 288.2,350.7 288.3,351.0 288.4,351.3 288.5,351.5 288.6,351.8 288.6,352.0 288.7,352.2 288.8,352.5 288.9,352.7 289.0,353.0 289.1,353.2 289.2,353.4 289.3,353.7 289.4,353.9 289.5,354.1 289.6,354.3 289.7,354.5 289.7,354.8 289.8,355.0 289.9,355.2 290.0,355.4 290.1,355.6 290.2,355.8 290.3,356.0 290.4,356.2 290.5,356.4 290.6,356.6 290.7,356.8 290.8,357.0 290.9,357.2 290.9,357.3 291.0,357.5 291.1,357.7 291.2,357.9 291.3,358.0 291.4,358.2 291.5,358.4 291.6,358.5 291.7,358.7 291.8,358.9 291.8,359.0 291.9,359.2 292.0,359.3 292.1,359.5 292.2,359.6 292.3,359.8 292.4,359.9 292.5,360.0 292.5,360.2 292.6,360.3 292.7,360.4 292.8,360.6 292.9,360.7 293.0,360.8 293.0,360.9 293.1,361.0 293.2,361.1 293.3,361.2 293.4,361.4 293.4,361.5 293.5,361.6 293.6,361.7 293.7,361.7 293.8,361.8 293.8,361.9 293.9,362.0 294.0,362.1 294.1,362.2 294.1,362.2 294.2,362.3 294.3,362.4 294.4,362.5 294.4,362.5 294.5,362.6 294.6,362.6 294.6,362.7 294.7,362.8 294.8,362.9 295.0,362.9 295.1,363.0 295.2,363.1 295.3,363.1 295.4,363.2 295.5,363.2 295.6,363.2 295.8,363.2 295.9,363.2 296.1,363.1 296.1,363.1 296.2,363.0 296.3,363.0 296.4,362.9 296.4,362.8 296.5,362.7 296.5,362.5 296.6,362.4 296.6,362.3 296.7,362.1 296.7,361.9 296.7,361.8 296.8,361.6 296.8,361.4 296.8,361.2 296.8,360.9 296.8,360.7 296.8,360.6 296.8,360.5 296.8,360.3 296.8,360.2 296.8,360.1 296.8,359.9 296.8,359.8 296.8,359.6 296.8,359.5 296.8,359.4 296.8,359.2 296.7,359.0 296.7,358.9 296.7,358.7 296.7,358.6 296.7,358.4 296.7,358.2 296.6,358.1 296.6,357.9 296.6,357.7 296.6,357.5 296.5,357.4 296.5,357.2 296.5,357.0 296.5,356.8 296.4,356.6 296.4,356.4 296.4,356.2 296.3,356.0 296.3,355.8 296.3,355.6 296.2,355.4 296.2,355.2 296.2,355.0 296.1,354.8 296.1,354.6 296.0,354.3 296.0,354.1 296.0,353.9 295.9,353.7 295.9,353.4 295.8,353.2 295.8,353.0 295.7,352.7 295.7,352.5 295.6,352.2 295.6,352.0 295.5,351.7 295.5,351.5 295.4,351.2 295.4,351.0 295.3,350.7 295.2,350.5 295.2,350.2 295.1,349.9 295.1,349.7 295.0,349.4 294.9,349.1 294.9,348.9 294.8,348.6 294.7,348.3 294.7,348.0 294.6,347.7 294.5,347.4 294.5,347.2 294.4,346.9 294.3,346.6 294.3,346.3 294.2,346.0 294.1,345.7 294.1,345.4 294.0,345.1 293.9,344.8 293.8,344.5 293.8,344.2 293.7,343.8 293.6,343.5 293.5,343.2 293.5,342.9 293.4,342.6 293.3,342.3 293.2,341.9 293.1,341.6 293.1,341.3 293.0,340.9 292.9,340.6 292.8,340.3 292.7,339.9 292.7,339.6 292.6,339.3 292.5,338.9 292.4,338.6 292.3,338.2 292.2,337.9 292.2,337.5 292.1,337.2 292.0,336.8 291.9,336.5 291.8,336.1 291.7,335.8 291.6,335.4 291.6,335.0 291.5,334.7 291.4,334.3 291.3,333.9 291.2,333.6 291.1,333.2 291.0,332.8 290.9,332.5 290.9,332.1 290.8,331.7 290.7,331.3 290.6,331.0 290.5,330.6 290.4,330.2 290.3,329.8 290.2,329.4 290.2,329.0 290.1,328.7 290.0,328.3 289.9,327.9 289.8,327.5 289.7,327.1 289.6,326.7 289.5,326.3 289.5,325.9 289.4,325.5 289.3,325.1 289.2,324.7 289.1,324.3 289.0,323.9 288.9,323.5 288.9,323.1 288.8,322.7 288.7,322.3 288.6,321.9 288.5,321.4 288.4,321.0 288.3,320.6 288.3,320.2 288.2,319.8 288.1,319.4 288.0,319.0 287.9,318.6 287.9,318.1 287.8,317.7 287.7,317.3 287.6,316.9 287.5,316.5 287.5,316.0 287.4,315.6 287.3,315.2 287.2,314.8 287.2,314.3 287.1,313.9 287.0,313.5 286.9,313.0 286.9,312.6 286.8,312.2 286.7,311.8 286.7,311.3 286.6,310.9 286.5,310.5 286.5,310.0 286.4,309.6 286.3,309.2 286.3,308.7 286.2,308.3 286.1,307.9 286.1,307.4 286.0,307.0 285.9,306.6 285.9,306.1 285.8,305.7 285.8,305.3 285.7,304.8 285.6,304.4 285.6,303.9 285.5,303.5 285.5,303.1 285.4,302.6 285.4,302.2 285.3,301.8 285.3,301.3 285.2,300.9 285.2,300.4 285.1,300.0 285.1,299.6 285.0,299.1 285.0,298.7 285.0,298.2 284.9,297.8 284.9,297.4 284.8,296.9 284.8,296.5 284.8,296.0 284.7,295.6 284.7,295.2 284.7,294.7 284.6,294.3 284.6,293.9 284.6,293.4 284.5,293.0 284.5,292.5 284.5,292.1 284.4,291.7 284.4,291.2 284.4,290.8 284.4,290.4 284.4,289.9 284.3,289.5 284.3,289.1 284.3,288.6 284.3,288.2 284.3,287.7 284.3,287.3 284.2,286.9 284.2,286.5 284.2,286.0 284.2,285.6 284.2,285.2 284.2,284.7 284.2,284.3 284.2,283.9 284.2,283.4 284.2,283.0 284.2,282.6 284.2,282.2 284.2,281.7 284.2,281.3 284.2,280.9 284.2,280.5 284.2,280.1 284.2,279.6 284.2,279.2 284.3,278.8 284.3,278.4 284.3,278.0 284.3,277.5 284.3,277.1 284.3,276.7 284.3,276.3 284.4,275.9 284.4,275.5 284.4,275.1 284.4,274.7 284.5,274.3 284.5,273.9 284.5,273.4 284.5,273.0 284.6,272.6 284.6,272.2 284.6,271.8 284.7,271.4 284.7,271.0 284.7,270.6 284.8,270.3 284.8,269.9 284.9,269.5 284.9,269.1 284.9,268.7 285.0,268.3 285.0,267.9 285.1,267.5 285.1,267.1 285.2,266.8 285.2,266.4 285.3,266.0 285.3,265.6 285.4,265.2 285.4,264.9 285.5,264.5 285.5,264.1 285.6,263.8 285.6,263.4 285.7,263.0 285.8,262.7 285.8,262.3 285.9,261.9 286.0,261.6 286.0,261.2 286.1,260.9 286.1,260.5 286.2,260.1 286.3,259.8 286.3,259.4 286.4,259.1 286.5,258.8 286.6,258.4 286.6,258.1 286.7,257.7 286.8,257.4 286.8,257.1 286.9,256.7 287.0,256.4 287.1,256.1 287.2,255.7 287.2,255.4 287.3,255.1 287.4,254.8 287.5,254.4 287.5,254.1 287.6,253.8 287.7,253.5 287.8,253.2 287.9,252.9 288.0,252.6 288.0,252.2 288.1,251.9 288.2,251.6 288.3,251.3 288.4,251.0 288.5,250.8 288.6,250.5 288.7,250.2 288.7,249.9 288.8,249.6 288.9,249.3 289.0,249.0 289.1,248.8 289.2,248.5 289.3,248.2 289.4,247.9 289.5,247.7 289.6,247.4 289.7,247.1 289.8,246.9 289.9,246.6 289.9,246.4 290.0,246.1 290.1,245.8 290.2,245.6 290.3,245.3 290.4,245.1 290.5,244.9 290.6,244.6 290.7,244.4 290.8,244.1 290.9,243.9 291.0,243.7 291.1,243.5 291.2,243.2 291.3,243.0 291.4,242.8 291.5,242.6 291.6,242.4 291.7,242.2 291.8,241.9 291.9,241.7 292.0,241.5 292.1,241.3 292.2,241.1 292.3,240.9 292.3,240.7 292.4,240.6 292.5,240.4 292.6,240.2 292.7,240.0 292.8,239.8 292.9,239.6 293.0,239.5 293.1,239.3 293.2,239.1 293.3,239.0 293.4,238.8 293.5,238.7 293.6,238.5 293.7,238.3 293.8,238.2 293.8,238.0 293.9,237.9 294.0,237.8 294.1,237.6 294.2,237.5 294.3,237.3 294.4,237.2 294.5,237.1 294.6,237.0 294.6,236.8 294.7,236.7 294.8,236.6 294.9,236.5 295.0,236.4 295.1,236.3 295.2,236.2 295.2,236.1 295.3,236.0 295.4,235.9 295.5,235.8 295.6,235.7 295.6,235.6 295.7,235.5 295.8,235.4 295.9,235.4 295.9,235.3 296.0,235.2 296.1,235.1 296.2,235.1 296.2,235.0 296.3,234.9 296.4,234.9 296.4,234.8 296.6,234.7 296.7,234.6 296.8,234.6 297.0,234.5 297.1,234.5 297.2,234.4 297.3,234.4 297.4,234.4 297.6,234.4 297.7,234.4 297.8,234.4 297.9,234.5 298.0,234.5 298.1,234.6 298.1,234.7 298.2,234.8 298.3,234.9 298.3,235.0 298.4,235.1 298.4,235.3 298.5,235.4 298.5,235.6 298.5,235.8 298.6,236.0 298.6,236.2 298.6,236.4 298.6,236.6 298.6,236.7 298.6,236.8 298.6,237.0 298.6,237.1 298.6,237.2 298.6,237.4 298.6,237.5 298.6,237.6 298.6,237.8 298.6,237.9 298.6,238.1 298.6,238.2 298.6,238.4 298.5,238.5 298.5,238.7 298.5,238.8 298.5,239.0 298.5,239.2 298.5,239.3 298.4,239.5 298.4,239.7 298.4,239.9 298.4,240.0 298.3,240.2 298.3,240.4 298.3,240.6 298.3,240.8 298.2,241.0 298.2,241.2 298.2,241.4 298.1,241.6 298.1,241.8 298.0,242.0 298.0,242.2 298.0,242.4 297.9,242.6 297.9,242.8 297.8,243.1 297.8,243.3 297.8,243.5 297.7,243.7 297.7,244.0 297.6,244.2 297.6,244.4 297.5,244.7 297.5,244.9 297.4,245.2 297.4,245.4 297.3,245.7 297.3,245.9 297.2,246.2 297.1,246.4 297.1,246.7 297.0,247.0 297.0,247.2 296.9,247.5 296.8,247.8 296.8,248.0 296.7,248.3 296.6,248.6 296.6,248.9 296.5,249.1 296.4,249.4 296.4,249.7 296.3,250.0 296.2,250.3 296.2,250.6 296.1,250.9 296.0,251.2 295.9,251.5 295.9,251.8 295.8,252.1 295.7,252.4 295.6,252.7 295.6,253.0 295.5,253.3 295.4,253.6 295.3,254.0 295.2,254.3 295.2,254.6 295.1,254.9 295.0,255.2 294.9,255.6 294.8,255.9 294.7,256.2 294.7,256.6 294.6,256.9 294.5,257.3 294.4,257.6 294.3,257.9 294.2,258.3 294.1,258.6 294.0,259.0 294.0,259.3 293.9,259.7 293.8,260.0 293.7,260.4 293.6,260.7 293.5,261.1 293.4,261.5 293.3,261.8 293.2,262.2 293.1,262.6 293.1,262.9 293.0,263.3 292.9,263.7 292.8,264.0 292.7,264.4 292.6,264.8 292.5,265.2 292.4,265.6 292.3,265.9 292.2,266.3 292.1,266.7 292.0,267.1 291.9,267.5 291.8,267.9 291.8,268.3 291.7,268.7 291.6,269.1 291.5,269.5 291.4,269.8 291.3,270.2 291.2,270.6 291.1,271.1 291.0,271.5 290.9,271.9 290.8,272.3 290.7,272.7 290.6,273.1 290.5,273.5 290.5,273.9 290.4,274.3 290.3,274.7 290.2,275.1 290.1,275.6 290.0,276.0 289.9,276.4 289.8,276.8 289.7,277.2 289.6,277.6 289.6,278.1 289.5,278.5 289.4,278.9 289.3,279.3 289.2,279.8 289.1,280.2 289.0,280.6 288.9,281.1 288.9,281.5 288.8,281.9 288.7,282.3 288.6,282.8 288.5,283.2 288.4,283.6 288.4,284.1 288.3,284.5 288.2,285.0 288.1,285.4 288.1,285.8 288.0,286.3 287.9,286.7 287.8,287.1 287.7,287.6 287.7,288.0 287.6,288.5 287.5,288.9 287.5,289.4 287.4,289.8 287.3,290.2 287.2,290.7 287.2,291.1 287.1,291.6 287.0,292.0 287.0,292.5 286.9,292.9 286.8,293.4 286.8,293.8 286.7,294.3 286.7,294.7 286.6,295.2 286.5,295.6 286.5,296.1 286.4,296.5 286.4,296.9 286.3,297.4 286.3,297.8 286.2,298.3 286.2,298.7 286.1,299.2 286.1,299.6 286.0,300.1 286.0,300.5 285.9,301.0 285.9,301.4 285.8,301.9 285.8,302.3 285.7,302.8 285.7,303.2 285.7,303.7 285.6,304.1 285.6,304.6 285.6,305.0 285.5,305.5 285.5,305.9 285.5,306.4 285.4,306.8 285.4,307.3 285.4,307.7 285.3,308.2 285.3,308.6 285.3,309.1 285.3,309.5 285.3,310.0 285.2,310.4 285.2,310.8 285.2,311.3 285.2,311.7 285.2,312.2 285.1,312.6 285.1,313.1 285.1,313.5 285.1,313.9 285.1,314.4 285.1,314.8 285.1,315.3 285.1,315.7 285.1,316.1 285.1,316.6 285.1,317.0 285.1,317.4 285.1,317.9 285.1,318.3 285.1,318.7 285.1,319.2 285.1,319.6 285.1,320.0 285.1,320.5 285.1,320.9 285.1,321.3 285.2,321.7 285.2,322.2 285.2,322.6 285.2,323.0 285.2,323.4 285.2,323.9 285.3,324.3 285.3,324.7 285.3,325.1 285.3,325.5 285.4,325.9 285.4,326.4 285.4,326.8 285.4,327.2 285.5,327.6 285.5,328.0 285.5,328.4 285.6,328.8 285.6,329.2 285.7,329.6 285.7,330.0 285.7,330.4 285.8,330.8 285.8,331.2 285.9,331.6 285.9,332.0 286.0,332.4 286.0,332.8 286.1,333.2 286.1,333.6 286.2,334.0 286.2,334.4 286.3,334.7 286.3,335.1 286.4,335.5 286.4,335.9 286.5,336.3 286.5,336.6 286.6,337.0 286.7,337.4 286.7,337.8 286.8,338.1 286.9,338.5 286.9,338.9 287.0,339.2 287.1,339.6 287.1,340.0 287.2,340.3 287.3,340.7 287.3,341.0 287.4,341.4 287.5,341.7 287.5,342.1 287.6,342.4 287.7,342.8 287.8,343.1 287.9,343.5 287.9,343.8 288.0,344.1 288.1,344.5 288.2,344.8 288.2,345.1 288.3,345.5 288.4,345.8 288.5,346.1 288.6,346.4 288.7,346.8 288.8,347.1 288.8,347.4 288.9,347.7 289.0,348.0 289.1,348.3 289.2,348.6 289.3,348.9 289.4,349.3 289.5,349.6 289.6,349.8 289.6,350.1 289.7,350.4 289.8,350.7 289.9,351.0 290.0,351.3 290.1,351.6 290.2,351.9 290.3,352.2 290.4,352.4 290.5,352.7 290.6,353.0 290.7,353.2 290.8,353.5 290.9,353.8 291.0,354.0 291.1,354.3 291.2,354.6 291.3,354.8 291.4,355.1 291.5,355.3 291.6,355.6 291.7,355.8 291.8,356.1 291.9,356.3 292.0,356.5 292.1,356.8 292.2,357.0 292.3,357.2 292.4,357.4 292.5,357.7 292.6,357.9 292.7,358.1 292.8,358.3 292.9,358.5 293.0,358.8 293.1,359.0 293.2,359.2 293.3,359.4 293.4,359.6 293.5,359.8 293.6,360.0 293.7,360.1 293.8,360.3 293.9,360.5 293.9,360.7 294.0,360.9 294.1,361.1 294.2,361.2 294.3,361.4 294.4,361.6 294.5,361.7 294.6,361.9 294.7,362.1 294.8,362.2 294.9,362.4 295.0,362.5 295.1,362.7 295.2,362.8 295.3,363.0 295.4,363.1 295.5,363.2 295.6,363.4 295.7,363.5 295.7,363.6 295.8,363.7 295.9,363.9 296.0,364.0 296.1,364.1 296.2,364.2 296.3,364.3 296.4,364.4 296.4,364.5 296.5,364.6 296.6,364.7 296.7,364.8 296.8,364.9 296.9,365.0 296.9,365.1 297.0,365.2 297.1,365.3 297.2,365.3 297.2,365.4 297.3,365.5 297.4,365.5 297.5,365.6 297.5,365.7 297.6,365.7 297.7,365.8 297.8,365.8 297.9,365.9 298.0,366.0 298.2,366.1 298.3,366.1 298.4,366.2 298.5,366.2 298.6,366.2 298.8,366.2 299.0,366.2 299.0,366.2 299.1,366.2 299.2,366.1 299.3,366.0 299.4,366.0 299.4,365.9 299.5,365.8 299.6,365.6 299.6,365.5 299.7,365.4 299.7,365.2 299.8,365.1 299.8,364.9 299.8,364.7 299.9,364.5 299.9,364.3 299.9,364.1 299.9,363.9 299.9,363.8 299.9,363.7 299.9,363.6 299.9,363.4 299.9,363.3 299.9,363.2 299.9,363.0 299.9,362.9 299.9,362.8 299.9,362.6 299.8,362.5 299.8,362.3 299.8,362.2 299.8,362.0 299.8,361.8 299.8,361.7 299.8,361.5 299.7,361.3 299.7,361.2 299.7,361.0 299.7,360.8 299.6,360.6 299.6,360.4 299.6,360.3 299.6,360.1 299.5,359.9 299.5,359.7 299.5,359.5 299.4,359.3 299.4,359.1 299.4,358.9 299.3,358.7 299.3,358.4 299.2,358.2 299.2,358.0 299.2,357.8 299.1,357.6 299.1,357.3 299.0,357.1 299.0,356.9 298.9,356.6 298.9,356.4 298.8,356.2 298.8,355.9 298.7,355.7 298.7,355.4 298.6,355.2 298.6,354.9 298.5,354.7 298.4,354.4 298.4,354.2 298.3,353.9 298.3,353.6 298.2,353.4 298.1,353.1 298.1,352.8 298.0,352.6 297.9,352.3 297.9,352.0 297.8,351.7 297.7,351.4 297.7,351.1 297.6,350.9 297.5,350.6 297.5,350.3 297.4,350.0 297.3,349.7 297.2,349.4 297.2,349.1 297.1,348.8 297.0,348.5 296.9,348.1 296.8,347.8 296.8,347.5 296.7,347.2 296.6,346.9 296.5,346.6 296.4,346.2 296.3,345.9 296.3,345.6 296.2,345.2 296.1,344.9 296.0,344.6 295.9,344.2 295.8,343.9 295.7,343.6 295.6,343.2 295.6,342.9 295.5,342.5 295.4,342.2 295.3,341.8 295.2,341.5 295.1,341.1 295.0,340.8 294.9,340.4 294.8,340.0 294.7,339.7 294.6,339.3 294.5,339.0 294.4,338.6 294.4,338.2 294.3,337.8 294.2,337.5 294.1,337.1 294.0,336.7 293.9,336.3 293.8,336.0 293.7,335.6 293.6,335.2 293.5,334.8 293.4,334.4 293.3,334.0 293.2,333.6 293.1,333.2 293.0,332.8 292.9,332.5 292.8,332.1 292.7,331.7 292.6,331.3 292.5,330.9 292.4,330.5 292.3,330.0 292.2,329.6 292.1,329.2 292.0,328.8 291.9,328.4 291.8,328.0 291.7,327.6 291.6,327.2 291.6,326.8 291.5,326.3 291.4,325.9 291.3,325.5 291.2,325.1 291.1,324.7 291.0,324.2 290.9,323.8 290.8,323.4 290.7,323.0 290.6,322.5 290.5,322.1 290.4,321.7 290.3,321.3 290.2,320.8 290.2,320.4 290.1,320.0 290.0,319.5 289.9,319.1 289.8,318.6 289.7,318.2 289.6,317.8 289.5,317.3 289.4,316.9 289.4,316.5 289.3,316.0 289.2,315.6 289.1,315.1 289.0,314.7 288.9,314.2 288.9,313.8 288.8,313.3 288.7,312.9 288.6,312.5 288.5,312.0 288.5,311.6 288.4,311.1 288.3,310.7 288.2,310.2 288.2,309.8 288.1,309.3 288.0,308.9 288.0,308.4 287.9,308.0 287.8,307.5 287.7,307.0 287.7,306.6 287.6,306.1 287.5,305.7 287.5,305.2 287.4,304.8 287.4,304.3 287.3,303.9 287.2,303.4 287.2,303.0 287.1,302.5 287.1,302.0 287.0,301.6 287.0,301.1 286.9,300.7 286.8,300.2 286.8,299.8 286.7,299.3 286.7,298.8 286.6,298.4 286.6,297.9 286.6,297.5 286.5,297.0 286.5,296.6 286.4,296.1 286.4,295.7 286.3,295.2 286.3,294.7 286.3,294.3 286.2,293.8 286.2,293.4 286.2,292.9 286.1,292.5 286.1,292.0 286.1,291.6 286.0,291.1 286.0,290.6 286.0,290.2 286.0,289.7 285.9,289.3 285.9,288.8 285.9,288.4 285.9,287.9 285.9,287.5 285.8,287.0 285.8,286.6 285.8,286.1 285.8,285.7 285.8,285.2 285.8,284.8 285.8,284.4 285.8,283.9 285.8,283.5 285.8,283.0 285.8,282.6 285.8,282.1 285.8,281.7 285.8,281.3 285.8,280.8 285.8,280.4 285.8,279.9 285.8,279.5 285.8,279.1 285.8,278.6 285.8,278.2 285.8,277.8 285.8,277.3 285.8,276.9 285.9,276.5 285.9,276.0 285.9,275.6 285.9,275.2 285.9,274.8 286.0,274.3 286.0,273.9 286.0,273.5 286.0,273.1 286.1,272.6 286.1,272.2 286.1,271.8 286.2,271.4 286.2,271.0 286.2,270.6 286.3,270.2 286.3,269.7 286.3,269.3 286.4,268.9 286.4,268.5 286.5,268.1 286.5,267.7 286.5,267.3 286.6,266.9 286.6,266.5 286.7,266.1 286.7,265.7 286.8,265.3 286.8,264.9 286.9,264.5 286.9,264.1 287.0,263.8 287.1,263.4 287.1,263.0 287.2,262.6 287.2,262.2 287.3,261.8 287.4,261.5 287.4,261.1 287.5,260.7 287.6,260.3 287.6,260.0 287.7,259.6 287.8,259.2 287.8,258.9 287.9,258.5 288.0,258.1 288.0,257.8 288.1,257.4 288.2,257.1 288.3,256.7 288.3,256.4 288.4,256.0 288.5,255.7 288.6,255.3 288.6,255.0 288.7,254.6 288.8,254.3 288.9,253.9 289.0,253.6 289.1,253.3 289.1,252.9 289.2,252.6 289.3,252.3 289.4,252.0 289.5,251.6 289.6,251.3 289.7,251.0 289.8,250.7 289.8,250.4 289.9,250.1 290.0,249.7 290.1,249.4 290.2,249.1 290.3,248.8 290.4,248.5 290.5,248.2 290.6,247.9 290.7,247.6 290.8,247.4 290.9,247.1 291.0,246.8 291.1,246.5 291.2,246.2 291.3,245.9 291.4,245.7 291.5,245.4 291.6,245.1 291.7,244.9 291.8,244.6 291.9,244.3 292.0,244.1 292.1,243.8 292.2,243.5 292.3,243.3 292.4,243.0 292.5,242.8 292.6,242.6 292.7,242.3 292.8,242.1 292.9,241.8 293.0,241.6 293.1,241.4 293.2,241.1 293.3,240.9 293.4,240.7 293.5,240.5 293.6,240.2 293.7,240.0 293.8,239.8 293.9,239.6 294.0,239.4 294.1,239.2 294.2,239.0 294.3,238.8 294.4,238.6 294.5,238.4 294.6,238.2 294.7,238.0 294.8,237.8 294.9,237.7 295.0,237.5 295.1,237.3 295.2,237.1 295.3,237.0 295.4,236.8 295.5,236.6 295.6,236.5 295.7,236.3 295.8,236.2 295.9,236.0 296.0,235.8 296.1,235.7 296.2,235.6 296.3,235.4 296.3,235.3 296.4,235.1 296.5,235.0 296.6,234.9 296.7,234.8 296.8,234.6 296.9,234.5 297.0,234.4 297.1,234.3 297.2,234.2 297.2,234.1 297.3,234.0 297.4,233.9 297.5,233.8 297.6,233.7 297.7,233.6 297.8,233.5 297.8,233.4 297.9,233.3 298.0,233.2 298.1,233.1 298.2,233.1 298.2,233.0 298.3,232.9 298.4,232.9 298.5,232.8 298.5,232.7 298.6,232.7 298.7,232.6 298.8,232.6 298.9,232.5 299.0,232.4 299.2,232.4 299.3,232.3 299.4,232.3 299.5,232.2 299.6,232.2 299.8,232.2 299.9,232.2 300.0,232.3 300.1,232.3 300.2,232.4 300.3,232.5 300.4,232.5 300.4,232.6 300.5,232.8 300.6,232.9 300.6,233.0 300.7,233.2 300.7,233.3 300.7,233.5 300.8,233.7 300.8,233.9 300.8,234.1 300.8,234.3 300.8,234.4 300.8,234.5 300.8,234.6 300.9,234.8 300.9,234.9 300.8,235.0 300.8,235.2 300.8,235.3 300.8,235.4 300.8,235.6 300.8,235.7 300.8,235.9 300.8,236.0 300.8,236.2 300.8,236.3 300.8,236.5 300.7,236.7 300.7,236.8 300.7,237.0 300.7,237.2 300.7,237.3 300.6,237.5 300.6,237.7 300.6,237.9 300.6,238.1 300.5,238.3 300.5,238.4 300.5,238.6 300.4,238.8 300.4,239.0 300.4,239.2 300.3,239.4 300.3,239.7 300.3,239.9 300.2,240.1 300.2,240.3 300.1,240.5 300.1,240.7 300.1,241.0 300.0,241.2 300.0,241.4 299.9,241.7 299.9,241.9 299.8,242.1 299.8,242.4 299.7,242.6 299.6,242.9 299.6,243.1 299.5,243.4 299.5,243.6 299.4,243.9 299.4,244.1 299.3,244.4 299.2,244.7 299.2,244.9 299.1,245.2 299.0,245.5 299.0,245.7 298.9,246.0 298.8,246.3 298.8,246.6 298.7,246.9 298.6,247.2 298.6,247.4 298.5,247.7 298.4,248.0 298.3,248.3 298.3,248.6 298.2,248.9 298.1,249.2 298.0,249.5 297.9,249.9 297.9,250.2 297.8,250.5 297.7,250.8 297.6,251.1 297.5,251.4 297.4,251.8 297.4,252.1 297.3,252.4 297.2,252.7 297.1,253.1 297.0,253.4 296.9,253.7 296.8,254.1 296.7,254.4 296.7,254.8 296.6,255.1 296.5,255.5 296.4,255.8 296.3,256.2 296.2,256.5 296.1,256.9 296.0,257.2 295.9,257.6 295.8,257.9 295.7,258.3 295.6,258.7 295.5,259.0 295.4,259.4 295.3,259.8 295.2,260.2 295.1,260.5 295.0,260.9 294.9,261.3 294.8,261.7 294.7,262.0 294.6,262.4 294.5,262.8 294.4,263.2 294.4,263.6 294.3,264.0 294.2,264.4 294.1,264.8 294.0,265.2 293.9,265.6 293.7,265.9 293.6,266.3 293.5,266.8 293.4,267.2 293.3,267.6 293.2,268.0 293.1,268.4 293.0,268.8 292.9,269.2 292.8,269.6 292.7,270.0 292.6,270.4 292.5,270.8 292.4,271.3 292.4,271.7 292.3,272.1 292.2,272.5 292.1,273.0 292.0,273.4 291.9,273.8 291.8,274.2 291.7,274.7 291.6,275.1 291.5,275.5 291.4,275.9 291.3,276.4 291.2,276.8 291.1,277.2 291.0,277.7 290.9,278.1 290.8,278.6 290.7,279.0 290.6,279.4 290.5,279.9 290.4,280.3 290.3,280.8 290.3,281.2 290.2,281.6 290.1,282.1 290.0,282.5 289.9,283.0 289.8,283.4 289.7,283.9 289.6,284.3 289.6,284.8 289.5,285.2 289.4,285.7 289.3,286.1 289.2,286.6 289.2,287.0 289.1,287.5 289.0,287.9 288.9,288.4 288.8,288.9 288.8,289.3 288.7,289.8 288.6,290.2 288.5,290.7 288.5,291.1 288.4,291.6 288.3,292.1 288.2,292.5 288.2,293.0 288.1,293.4 288.0,293.9 288.0,294.4 287.9,294.8 287.9,295.3 287.8,295.7 287.7,296.2 287.7,296.7 287.6,297.1 287.6,297.6 287.5,298.1 287.4,298.5 287.4,299.0 287.3,299.4 287.3,299.9 287.2,300.4 287.2,300.8 287.1,301.3 287.1,301.7 287.0,302.2 287.0,302.7 286.9,303.1 286.9,303.6 286.9,304.1 286.8,304.5 286.8,305.0 286.7,305.4 286.7,305.9 286.7,306.4 286.6,306.8 286.6,307.3 286.6,307.7 286.5,308.2 286.5,308.7 286.5,309.1 286.5,309.6 286.4,310.0 286.4,310.5 286.4,311.0 286.4,311.4 286.4,311.9 286.3,312.3 286.3,312.8 286.3,313.2 286.3,313.7 286.3,314.1 286.3,314.6 286.3,315.0 286.3,315.5 286.2,315.9 286.2,316.4 286.2,316.8 286.2,317.3 286.2,317.7 286.2,318.2 286.2,318.6 286.2,319.1 286.2,319.5 286.2,320.0 286.3,320.4 286.3,320.8 286.3,321.3 286.3,321.7 286.3,322.2 286.3,322.6 286.3,323.0 286.3,323.5 286.4,323.9 286.4,324.3 286.4,324.8 286.4,325.2 286.4,325.6 286.5,326.0 286.5,326.5 286.5,326.9 286.6,327.3 286.6,327.7 286.6,328.2 286.7,328.6 286.7,329.0 286.7,329.4 286.8,329.8 286.8,330.3 286.8,330.7 286.9,331.1 286.9,331.5 287.0,331.9 287.0,332.3 287.1,332.7 287.1,333.1 287.2,333.5 287.2,333.9 287.3,334.3 287.3,334.7 287.4,335.1 287.4,335.5 287.5,335.9 287.5,336.3 287.6,336.7 287.6,337.1 287.7,337.5 287.8,337.9 287.8,338.2 287.9,338.6 288.0,339.0 288.0,339.4 288.1,339.8 288.2,340.1 288.2,340.5 288.3,340.9 288.4,341.2 288.4,341.6 288.5,342.0 288.6,342.3 288.7,342.7 288.7,343.1 288.8,343.4 288.9,343.8 289.0,344.1 289.1,344.5 289.1,344.8 289.2,345.2 289.3,345.5 289.4,345.9 289.5,346.2 289.6,346.5 289.6,346.9 289.7,347.2 289.8,347.5 289.9,347.9 290.0,348.2 290.1,348.5 290.2,348.8 290.3,349.2 290.4,349.5 290.4,349.8 290.5,350.1 290.6,350.4 290.7,350.7 290.8,351.0 290.9,351.3 291.0,351.6 291.1,351.9 291.2,352.2 291.3,352.5 291.4,352.8 291.5,353.1 291.6,353.4 291.7,353.7 291.8,354.0 291.9,354.3 292.0,354.5 292.1,354.8 292.2,355.1 292.3,355.4 292.4,355.6 292.5,355.9 292.6,356.1 292.7,356.4 292.8,356.7 292.9,356.9 293.0,357.2 293.1,357.4 293.2,357.7 293.3,357.9 293.4,358.1 293.5,358.4 293.6,358.6 293.7,358.9 293.9,359.1 294.0,359.3 294.1,359.5 294.2,359.8 294.3,360.0 294.4,360.2 294.5,360.4 294.6,360.6 294.7,360.8 294.8,361.0 294.9,361.2 295.0,361.4 295.1,361.6 295.2,361.8 295.3,362.0 295.4,362.2 295.5,362.4 295.6,362.6 295.7,362.7 295.8,362.9 295.9,363.1 296.0,363.3 296.1,363.4 296.2,363.6 296.3,363.8 296.4,363.9 296.5,364.1 296.6,364.2 296.7,364.4 296.8,364.5 296.9,364.7 297.0,364.8 297.1,364.9 297.2,365.1 297.3,365.2 297.4,365.3 297.5,365.5 297.5,365.6 297.6,365.7 297.7,365.8 297.8,365.9 297.9,366.0 298.0,366.1 298.1,366.2 298.2,366.3 298.3,366.4 298.3,366.5 298.4,366.6 298.5,366.7 298.6,366.8 298.7,366.9 298.8,367.0 298.8,367.0 298.9,367.1 299.0,367.2 299.1,367.2 299.2,367.3 299.2,367.4 299.3,367.4 299.4,367.5 299.4,367.5 299.6,367.6 299.7,367.7 299.9,367.8 300.0,367.8 300.1,367.9 300.2,367.9 300.3,367.9 300.5,367.9 300.7,367.9 300.8,367.9 300.9,367.8 300.9,367.7 301.0,367.7 301.1,367.6 301.2,367.5 301.2,367.4 301.3,367.3 301.3,367.1 301.4,367.0 301.4,366.8 301.5,366.6 301.5,366.5 301.5,366.3 301.6,366.0 301.6,365.8 301.6,365.7 301.6,365.6 301.6,365.5 301.6,365.3 301.6,365.2 301.6,365.1 301.6,364.9 301.6,364.8 301.6,364.7 301.6,364.5 301.6,364.4 301.5,364.2 301.5,364.1 301.5,363.9 301.5,363.8 301.5,363.6 301.5,363.4 301.5,363.3 301.4,363.1 301.4,362.9 301.4,362.8 301.4,362.6 301.3,362.4 301.3,362.2 301.3,362.0 301.3,361.8 301.2,361.6 301.2,361.4 301.2,361.2 301.1,361.0 301.1,360.8 301.1,360.6 301.0,360.4 301.0,360.2 300.9,360.0 300.9,359.8 300.9,359.5 300.8,359.3 300.8,359.1 300.7,358.9 300.7,358.6 300.6,358.4 300.6,358.2 300.5,357.9 300.5,357.7 300.4,357.4 300.3,357.2 300.3,356.9 300.2,356.7 300.2,356.4 300.1,356.1 300.0,355.9 300.0,355.6 299.9,355.4 299.9,355.1 299.8,354.8 299.7,354.5 299.7,354.3 299.6,354.0 299.5,353.7 299.4,353.4 299.4,353.1 299.3,352.8 299.2,352.5 299.1,352.2 299.1,351.9 299.0,351.6 298.9,351.3 298.8,351.0 298.8,350.7 298.7,350.4 298.6,350.1 298.5,349.8 298.4,349.5 298.3,349.1 298.3,348.8 298.2,348.5 298.1,348.2 298.0,347.8 297.9,347.5 297.8,347.2 297.7,346.8 297.6,346.5 297.6,346.2 297.5,345.8 297.4,345.5 297.3,345.1 297.2,344.8 297.1,344.4 297.0,344.1 296.9,343.7 296.8,343.4 296.7,343.0 296.6,342.6 296.5,342.3 296.4,341.9 296.3,341.6 296.2,341.2 296.1,340.8 296.0,340.4 295.9,340.1 295.8,339.7 295.7,339.3 295.6,338.9 295.5,338.5 295.4,338.2 295.3,337.8 295.2,337.4 295.1,337.0 295.0,336.6 294.9,336.2 294.8,335.8 294.7,335.4 294.6,335.0 294.5,334.6 294.4,334.2 294.3,333.8 294.2,333.4 294.1,333.0 294.0,332.6 293.9,332.2 293.8,331.8 293.7,331.4 293.6,331.0 293.5,330.5 293.4,330.1 293.3,329.7 293.2,329.3 293.1,328.9 293.0,328.4 292.9,328.0 292.8,327.6 292.7,327.2 292.6,326.7 292.5,326.3 292.4,325.9 292.3,325.5 292.2,325.0 292.1,324.6 292.0,324.2 291.9,323.7 291.8,323.3 291.7,322.8 291.6,322.4 291.5,322.0 291.4,321.5 291.3,321.1 291.2,320.6 291.1,320.2 291.0,319.7 290.9,319.3 290.8,318.9 290.7,318.4 290.6,318.0 290.5,317.5 290.4,317.1 290.3,316.6 290.3,316.1 290.2,315.7 290.1,315.2 290.0,314.8 289.9,314.3 289.8,313.9 289.7,313.4 289.7,313.0 289.6,312.5 289.5,312.0 289.4,311.6 289.3,311.1 289.3,310.7 289.2,310.2 289.1,309.7 289.0,309.3 288.9,308.8 288.9,308.4 288.8,307.9 288.7,307.4 288.6,307.0 288.6,306.5 288.5,306.0 288.4,305.6 288.4,305.1 288.3,304.6 288.2,304.2 288.2,303.7 288.1,303.2 288.0,302.8 288.0,302.3 287.9,301.8 287.9,301.4 287.8,300.9 287.8,300.4 287.7,300.0 287.6,299.5 287.6,299.0 287.5,298.6 287.5,298.1 287.4,297.6 287.4,297.2 287.3,296.7 287.3,296.2 287.3,295.8 287.2,295.3 287.2,294.8 287.1,294.4 287.1,293.9 287.1,293.4 287.0,293.0 287.0,292.5 287.0,292.0 286.9,291.6 286.9,291.1 286.9,290.6 286.8,290.2 286.8,289.7 286.8,289.3 286.8,288.8 286.7,288.3 286.7,287.9 286.7,287.4 286.7,287.0 286.7,286.5 286.6,286.0 286.6,285.6 286.6,285.1 286.6,284.7 286.6,284.2 286.6,283.7 286.6,283.3 286.6,282.8 286.6,282.4 286.6,281.9 286.6,281.5 286.6,281.0 286.6,280.6 286.6,280.1 286.6,279.7 286.6,279.2 286.6,278.8 286.6,278.3 286.6,277.9 286.6,277.5 286.6,277.0 286.6,276.6 286.7,276.1 286.7,275.7 286.7,275.3 286.7,274.8 286.7,274.4 286.8,273.9 286.8,273.5 286.8,273.1 286.8,272.6 286.9,272.2 286.9,271.8 286.9,271.4 287.0,270.9 287.0,270.5 287.0,270.1 287.1,269.7 287.1,269.2 287.1,268.8 287.2,268.4 287.2,268.0 287.3,267.6 287.3,267.2 287.3,266.7 287.4,266.3 287.4,265.9 287.5,265.5 287.5,265.1 287.6,264.7 287.6,264.3 287.7,263.9 287.8,263.5 287.8,263.1 287.9,262.7 287.9,262.3 288.0,261.9 288.0,261.5 288.1,261.1 288.2,260.8 288.2,260.4 288.3,260.0 288.4,259.6 288.4,259.2 288.5,258.8 288.6,258.5 288.7,258.1 288.7,257.7 288.8,257.4 288.9,257.0 288.9,256.6 289.0,256.3 289.1,255.9 289.2,255.5 289.3,255.2 289.3,254.8 289.4,254.5 289.5,254.1 289.6,253.8 289.7,253.4 289.8,253.1 289.8,252.7 289.9,252.4 290.0,252.0 290.1,251.7 290.2,251.4 290.3,251.0 290.4,250.7 290.5,250.4 290.6,250.0 290.6,249.7 290.7,249.4 290.8,249.1 290.9,248.8 291.0,248.4 291.1,248.1 291.2,247.8 291.3,247.5 291.4,247.2 291.5,246.9 291.6,246.6 291.7,246.3 291.8,246.0 291.9,245.7 292.0,245.4 292.1,245.1 292.2,244.9 292.3,244.6 292.4,244.3 292.5,244.0 292.6,243.7 292.7,243.5 292.8,243.2 292.9,242.9 293.0,242.7 293.1,242.4 293.2,242.1 293.4,241.9 293.5,241.6 293.6,241.4 293.7,241.1 293.8,240.9 293.9,240.6 294.0,240.4 294.1,240.2 294.2,239.9 294.3,239.7 294.4,239.5 294.5,239.2 294.6,239.0 294.7,238.8 294.8,238.6 294.9,238.4 295.0,238.2 295.1,237.9 295.2,237.7 295.4,237.5 295.5,237.3 295.6,237.1 295.7,236.9 295.8,236.7 295.9,236.6 296.0,236.4 296.1,236.2 296.2,236.0 296.3,235.8 296.4,235.6 296.5,235.5 296.6,235.3 296.7,235.1 296.8,235.0 296.9,234.8 297.0,234.7 297.1,234.5 297.2,234.4 297.3,234.2 297.4,234.1 297.5,233.9 297.6,233.8 297.7,233.6 297.8,233.5 297.9,233.4 298.0,233.3 298.1,233.1 298.2,233.0 298.2,232.9 298.3,232.8 298.4,232.7 298.5,232.6 298.6,232.5 298.7,232.4 298.8,232.3 298.9,232.2 299.0,232.1 299.0,232.0 299.1,231.9 299.2,231.8 299.3,231.7 299.4,231.7 299.5,231.6 299.5,231.5 299.6,231.4 299.7,231.4 299.8,231.3 299.8,231.3 299.9,231.2 300.0,231.2 300.1,231.1 300.2,231.0 300.3,230.9 300.5,230.9 300.6,230.8 300.7,230.8 300.9,230.8 301.0,230.8 301.1,230.8 301.2,230.8 301.3,230.8 301.4,230.9 301.5,230.9 301.6,231.0 301.7,231.1 301.7,231.2 301.8,231.3 301.9,231.4 301.9,231.6 302.0,231.7 302.0,231.9 302.1,232.0 302.1,232.2 302.1,232.4 302.1,232.6 302.2,232.9 302.2,233.0 302.2,233.1 302.2,233.2 302.2,233.4 302.2,233.5 302.2,233.6 302.2,233.8 302.2,233.9 302.2,234.0 302.1,234.2 302.1,234.3 302.1,234.5 302.1,234.6 302.1,234.8 302.1,234.9 302.1,235.1 302.1,235.3 302.0,235.4 302.0,235.6 302.0,235.8 302.0,236.0 301.9,236.1 301.9,236.3 301.9,236.5 301.9,236.7 301.8,236.9 301.8,237.1 301.8,237.3 301.7,237.5 301.7,237.7 301.7,237.9 301.6,238.1 301.6,238.3 301.5,238.5 301.5,238.8 301.5,239.0 301.4,239.2 301.4,239.4 301.3,239.7 301.3,239.9 301.2,240.1 301.2,240.4 301.1,240.6 301.1,240.8 301.0,241.1 301.0,241.3 300.9,241.6 300.8,241.8 300.8,242.1 300.7,242.4 300.7,242.6 300.6,242.9 300.5,243.2 300.5,243.4 300.4,243.7 300.3,244.0 300.3,244.3 300.2,244.5 300.1,244.8 300.1,245.1 300.0,245.4 299.9,245.7 299.8,246.0 299.8,246.3 299.7,246.6 299.6,246.9 299.5,247.2 299.4,247.5 299.4,247.8 299.3,248.1 299.2,248.4 299.1,248.7 299.0,249.0 299.0,249.4 298.9,249.7 298.8,250.0 298.7,250.3 298.6,250.7 298.5,251.0 298.4,251.3 298.3,251.7 298.2,252.0 298.2,252.3 298.1,252.7 298.0,253.0 297.9,253.4 297.8,253.7 297.7,254.1 297.6,254.4 297.5,254.8 297.4,255.1 297.3,255.5 297.2,255.9 297.1,256.2 297.0,256.6 296.9,257.0 296.8,257.3 296.7,257.7 296.6,258.1 296.5,258.5 296.4,258.8 296.3,259.2 296.2,259.6 296.1,260.0 296.0,260.4 295.9,260.8 295.8,261.1 295.7,261.5 295.6,261.9 295.5,262.3 295.4,262.7 295.3,263.1 295.2,263.5 295.1,263.9 295.0,264.3 294.8,264.7 294.7,265.1 294.6,265.5 294.5,265.9 294.4,266.4 294.3,266.8 294.2,267.2 294.1,267.6 294.0,268.0 293.9,268.4 293.8,268.8 293.7,269.3 293.6,269.7 293.5,270.1 293.4,270.5 293.3,271.0 293.2,271.4 293.1,271.8 293.0,272.3 292.9,272.7 292.8,273.1 292.7,273.6 292.6,274.0 292.5,274.4 292.4,274.9 292.3,275.3 292.2,275.7 292.1,276.2 292.0,276.6 291.9,277.1 291.8,277.5 291.7,278.0 291.6,278.4 291.5,278.9 291.4,279.3 291.3,279.8 291.2,280.2 291.1,280.7 291.0,281.1 290.9,281.6 290.8,282.0 290.7,282.5 290.6,282.9 290.5,283.4 290.5,283.8 290.4,284.3 290.3,284.8 290.2,285.2 290.1,285.7 290.0,286.1 289.9,286.6 289.9,287.1 289.8,287.5 289.7,288.0 289.6,288.5 289.5,288.9 289.5,289.4 289.4,289.8 289.3,290.3 289.2,290.8 289.1,291.2 289.1,291.7 289.0,292.2 288.9,292.6 288.9,293.1 288.8,293.6 288.7,294.1 288.6,294.5 288.6,295.0 288.5,295.5 288.5,295.9 288.4,296.4 288.3,296.9 288.3,297.3 288.2,297.8 288.1,298.3 288.1,298.8 288.0,299.2 288.0,299.7 287.9,300.2 287.9,300.6 287.8,301.1 287.8,301.6 287.7,302.0 287.7,302.5 287.6,303.0 287.6,303.5 287.5,303.9 287.5,304.4 287.5,304.9 287.4,305.3 287.4,305.8 287.3,306.3 287.3,306.7 287.3,307.2 287.2,307.7 287.2,308.1 287.2,308.6 287.1,309.1 287.1,309.5 287.1,310.0 287.1,310.5 287.0,310.9 287.0,311.4 287.0,311.9 287.0,312.3 287.0,312.8 286.9,313.3 286.9,313.7 286.9,314.2 286.9,314.6 286.9,315.1 286.9,315.6 286.9,316.0 286.9,316.5 286.9,316.9 286.9,317.4 286.9,317.8 286.9,318.3 286.9,318.7 286.9,319.2 286.9,319.6 286.9,320.1 286.9,320.5 286.9,321.0 286.9,321.4 286.9,321.9 286.9,322.3 286.9,322.8 287.0,323.2 287.0,323.7 287.0,324.1 287.0,324.5 287.0,325.0 287.0,325.4 287.1,325.9 287.1,326.3 287.1,326.7 287.2,327.2 287.2,327.6 287.2,328.0 287.2,328.5 287.3,328.9 287.3,329.3 287.3,329.7 287.4,330.2 287.4,330.6 287.5,331.0 287.5,331.4 287.6,331.8 287.6,332.2 287.6,332.7 287.7,333.1 287.7,333.5 287.8,333.9 287.8,334.3 287.9,334.7 287.9,335.1 288.0,335.5 288.1,335.9 288.1,336.3 288.2,336.7 288.2,337.1 288.3,337.5 288.3,337.9 288.4,338.3 288.5,338.7 288.5,339.1 288.6,339.5 288.7,339.9 288.7,340.2 288.8,340.6 288.9,341.0 289.0,341.4 289.0,341.7 289.1,342.1 289.2,342.5 289.3,342.9 289.3,343.2 289.4,343.6 289.5,344.0 289.6,344.3 289.6,344.7 289.7,345.0 289.8,345.4 289.9,345.7 290.0,346.1 290.1,346.4 290.2,346.8 290.2,347.1 290.3,347.5 290.4,347.8 290.5,348.1 290.6,348.5 290.7,348.8 290.8,349.1 290.9,349.5 291.0,349.8 291.1,350.1 291.2,350.4 291.3,350.8 291.3,351.1 291.4,351.4 291.5,351.7 291.6,352.0 291.7,352.3 291.8,352.6 291.9,352.9 292.0,353.2 292.1,353.5 292.2,353.8 292.3,354.1 292.4,354.4 292.5,354.7 292.6,355.0 292.7,355.3 292.9,355.5 293.0,355.8 293.1,356.1 293.2,356.4 293.3,356.6 293.4,356.9 293.5,357.2 293.6,357.4 293.7,357.7 293.8,357.9 293.9,358.2 294.0,358.4 294.1,358.7 294.2,358.9 294.3,359.2 294.4,359.4 294.5,359.7 294.6,359.9 294.8,360.1 294.9,360.3 295.0,360.6 295.1,360.8 295.2,361.0 295.3,361.2 295.4,361.4 295.5,361.7 295.6,361.9 295.7,362.1 295.8,362.3 295.9,362.5 296.0,362.7 296.1,362.9 296.2,363.1 296.3,363.2 296.4,363.4 296.6,363.6 296.7,363.8 296.8,364.0 296.9,364.1 297.0,364.3 297.1,364.5 297.2,364.6 297.3,364.8 297.4,365.0 297.5,365.1 297.6,365.3 297.7,365.4 297.8,365.6 297.9,365.7 298.0,365.9 298.1,366.0 298.2,366.1 298.3,366.3 298.3,366.4 298.4,366.5 298.5,366.6 298.6,366.7 298.7,366.9 298.8,367.0 298.9,367.1 299.0,367.2 299.1,367.3 299.2,367.4 299.3,367.5 299.3,367.6 299.4,367.7 299.5,367.8 299.6,367.8 299.7,367.9 299.8,368.0 299.9,368.1 299.9,368.1 300.0,368.2 300.1,368.3 300.2,368.3 300.2,368.4 300.3,368.5 300.4,368.5 300.5,368.6 300.6,368.6 300.8,368.7 300.9,368.8 301.0,368.8 301.1,368.9 301.3,368.9 301.4,368.9 301.5,368.9 301.6,368.9 301.7,368.8 301.8,368.8 301.9,368.7 302.0,368.7 302.1,368.6 302.2,368.5 302.2,368.4 302.3,368.2 302.3,368.1 302.4,368.0 302.4,367.8 302.5,367.6 302.5,367.4 302.5,367.2 302.6,367.0 302.6,366.8 302.6,366.7 302.6,366.6 302.6,366.4 302.6,366.3 302.6,366.2 302.6,366.1 302.6,365.9 302.6,365.8 302.6,365.6 302.6,365.5 302.6,365.4 302.6,365.2 302.5,365.0 302.5,364.9 302.5,364.7 302.5,364.6 302.5,364.4 302.5,364.2 302.4,364.1 302.4,363.9 302.4,363.7 302.4,363.5 302.3,363.3 302.3,363.2 302.3,363.0 302.3,362.8 302.2,362.6 302.2,362.4 302.2,362.2 302.1,362.0 302.1,361.8 302.0,361.6 302.0,361.3 302.0,361.1 301.9,360.9 301.9,360.7 301.8,360.5 301.8,360.2 301.7,360.0 301.7,359.8 301.6,359.5 301.6,359.3 301.5,359.1 301.5,358.8 301.4,358.6 301.4,358.3 301.3,358.1 301.3,357.8 301.2,357.6 301.1,357.3 301.1,357.0 301.0,356.8 300.9,356.5 300.9,356.2 300.8,356.0 300.7,355.7 300.7,355.4 300.6,355.1 300.5,354.8 300.5,354.5 300.4,354.3 300.3,354.0 300.2,353.7 300.2,353.4 300.1,353.1 300.0,352.8 299.9,352.5 299.8,352.2 299.8,351.9 299.7,351.5 299.6,351.2 299.5,350.9 299.4,350.6 299.3,350.3 299.3,350.0 299.2,349.6 299.1,349.3 299.0,349.0 298.9,348.6 298.8,348.3 298.7,348.0 298.6,347.6 298.5,347.3 298.4,346.9 298.3,346.6 298.3,346.2 298.2,345.9 298.1,345.5 298.0,345.2 297.9,344.8 297.8,344.5 297.7,344.1 297.6,343.7 297.5,343.4 297.4,343.0 297.3,342.6 297.2,342.3 297.1,341.9 297.0,341.5 296.9,341.1 296.8,340.8 296.7,340.4 296.6,340.0 296.5,339.6 296.3,339.2 296.2,338.8 296.1,338.5 296.0,338.1 295.9,337.7 295.8,337.3 295.7,336.9 295.6,336.5 295.5,336.1 295.4,335.7 295.3,335.3 295.2,334.9 295.1,334.5 295.0,334.0 294.9,333.6 294.8,333.2 294.7,332.8 294.6,332.4 294.4,332.0 294.3,331.6 294.2,331.1 294.1,330.7 294.0,330.3 293.9,329.9 293.8,329.4 293.7,329.0 293.6,328.6 293.5,328.2 293.4,327.7 293.3,327.3 293.2,326.9 293.1,326.4 293.0,326.0 292.9,325.5 292.8,325.1 292.7,324.7 292.6,324.2 292.5,323.8 292.4,323.3 292.3,322.9 292.2,322.4 292.1,322.0 292.0,321.6 291.9,321.1 291.8,320.7 291.7,320.2 291.6,319.8 291.5,319.3 291.4,318.8 291.3,318.4 291.2,317.9 291.1,317.5 291.0,317.0 290.9,316.6 290.8,316.1 290.7,315.6 290.6,315.2 290.6,314.7 290.5,314.3 290.4,313.8 290.3,313.3 290.2,312.9 290.1,312.4 290.0,311.9 290.0,311.5 289.9,311.0 289.8,310.5 289.7,310.1 289.6,309.6 289.6,309.1 289.5,308.7 289.4,308.2 289.3,307.7 289.3,307.3 289.2,306.8 289.1,306.3 289.0,305.9 289.0,305.4 288.9,304.9 288.8,304.4 288.8,304.0 288.7,303.5 288.6,303.0 288.6,302.5 288.5,302.1 288.4,301.6 288.4,301.1 288.3,300.7 288.3,300.2 288.2,299.7 288.2,299.2 288.1,298.8 288.0,298.3 288.0,297.8 287.9,297.3 287.9,296.9 287.9,296.4 287.8,295.9 287.8,295.5 287.7,295.0 287.7,294.5 287.6,294.0 287.6,293.6 287.6,293.1 287.5,292.6 287.5,292.2 287.4,291.7 287.4,291.2 287.4,290.7 287.4,290.3 287.3,289.8 287.3,289.3 287.3,288.9 287.2,288.4 287.2,287.9 287.2,287.5 287.2,287.0 287.2,286.5 287.1,286.1 287.1,285.6 287.1,285.1 287.1,284.7 287.1,284.2 287.1,283.8 287.1,283.3 287.1,282.8 287.1,282.4 287.1,281.9 287.1,281.5 287.1,281.0 287.1,280.6 287.1,280.1 287.1,279.6 287.1,279.2 287.1,278.7 287.1,278.3 287.1,277.8 287.1,277.4 287.1,276.9 287.1,276.5 287.1,276.0 287.2,275.6 287.2,275.2 287.2,274.7 287.2,274.3 287.2,273.8 287.3,273.4 287.3,273.0 287.3,272.5 287.3,272.1 287.4,271.6 287.4,271.2 287.4,270.8 287.5,270.4 287.5,269.9 287.5,269.5 287.6,269.1 287.6,268.6 287.6,268.2 287.7,267.8 287.7,267.4 287.8,267.0 287.8,266.5 287.9,266.1 287.9,265.7 288.0,265.3 288.0,264.9 288.1,264.5 288.1,264.1 288.2,263.7 288.2,263.3 288.3,262.9 288.3,262.5 288.4,262.1 288.5,261.7 288.5,261.3 288.6,260.9 288.7,260.5 288.7,260.1 288.8,259.7 288.9,259.3 288.9,258.9 289.0,258.5 289.1,258.2 289.1,257.8 289.2,257.4 289.3,257.0 289.4,256.7 289.4,256.3 289.5,255.9 289.6,255.5 289.7,255.2 289.8,254.8 289.8,254.5 289.9,254.1 290.0,253.7 290.1,253.4 290.2,253.0 290.3,252.7 290.3,252.3 290.4,252.0 290.5,251.6 290.6,251.3 290.7,251.0 290.8,250.6 290.9,250.3 291.0,249.9 291.1,249.6 291.2,249.3 291.3,249.0 291.4,248.6 291.4,248.3 291.5,248.0 291.6,247.7 291.7,247.4 291.8,247.1 291.9,246.7 292.0,246.4 292.1,246.1 292.2,245.8 292.3,245.5 292.4,245.2 292.5,244.9 292.6,244.6 292.7,244.4 292.9,244.1 293.0,243.8 293.1,243.5 293.2,243.2 293.3,242.9 293.4,242.7 293.5,242.4 293.6,242.1 293.7,241.9 293.8,241.6 293.9,241.3 294.0,241.1 294.1,240.8 294.2,240.6 294.3,240.3 294.4,240.1 294.5,239.8 294.7,239.6 294.8,239.4 294.9,239.1 295.0,238.9 295.1,238.7 295.2,238.4 295.3,238.2 295.4,238.0 295.5,237.8 295.6,237.6 295.7,237.3 295.8,237.1 295.9,236.9 296.1,236.7 296.2,236.5 296.3,236.3 296.4,236.1 296.5,235.9 296.6,235.7 296.7,235.6 296.8,235.4 296.9,235.2 297.0,235.0 297.1,234.8 297.2,234.7 297.3,234.5 297.4,234.3 297.5,234.2 297.6,234.0 297.7,233.8 297.8,233.7 297.9,233.5 298.0,233.4 298.1,233.3 298.2,233.1 298.3,233.0 298.4,232.8 298.5,232.7 298.6,232.6 298.7,232.4 298.8,232.3 298.9,232.2 299.0,232.1 299.1,232.0 299.2,231.9 299.3,231.8 299.3,231.7 299.4,231.6 299.5,231.5 299.6,231.4 299.7,231.3 299.8,231.2 299.9,231.1 300.0,231.0 300.0,230.9 300.1,230.9 300.2,230.8 300.3,230.7 300.4,230.7 300.4,230.6 300.5,230.5 300.6,230.5 300.7,230.4 300.7,230.4 300.9,230.3 301.0,230.2 301.2,230.1 301.3,230.1 301.4,230.1 301.5,230.0 301.7,230.0 301.8,230.0 301.9,230.0 302.0,230.1 302.1,230.1 302.2,230.2 302.3,230.2 302.4,230.3 302.5,230.4 302.5,230.5 302.6,230.7 302.6,230.8 302.7,230.9 302.7,231.1 302.8,231.3 302.8,231.5 302.8,231.7 302.9,231.9 302.9,232.1 302.9,232.2 302.9,232.3 302.9,232.5 302.9,232.6 302.9,232.7 302.9,232.9 302.9,233.0 302.9,233.1 302.9,233.3 302.9,233.4 302.9,233.6 302.8,233.7 302.8,233.9 302.8,234.0 302.8,234.2 302.8,234.3 302.8,234.5 302.8,234.7 302.7,234.9 302.7,235.0 302.7,235.2 302.7,235.4 302.6,235.6 302.6,235.8 302.6,236.0 302.6,236.1 302.5,236.3 302.5,236.5 302.5,236.7 302.4,236.9 302.4,237.2 302.3,237.4 302.3,237.6 302.3,237.8 302.2,238.0 302.2,238.2 302.1,238.5 302.1,238.7 302.0,238.9 302.0,239.2 301.9,239.4 301.9,239.6 301.8,239.9 301.8,240.1 301.7,240.4 301.7,240.6 301.6,240.9 301.5,241.1 301.5,241.4 301.4,241.6 301.4,241.9 301.3,242.2 301.2,242.4 301.2,242.7 301.1,243.0 301.0,243.3 301.0,243.6 300.9,243.8 300.8,244.1 300.7,244.4 300.7,244.7 300.6,245.0 300.5,245.3 300.4,245.6 300.4,245.9 300.3,246.2 300.2,246.5 300.1,246.8 300.0,247.1 300.0,247.4 299.9,247.7 299.8,248.1 299.7,248.4 299.6,248.7 299.5,249.0 299.4,249.3 299.3,249.7 299.3,250.0 299.2,250.3 299.1,250.7 299.0,251.0 298.9,251.4 298.8,251.7 298.7,252.0 298.6,252.4 298.5,252.7 298.4,253.1 298.3,253.5 298.2,253.8 298.1,254.2 298.0,254.5 297.9,254.9 297.8,255.3 297.7,255.6 297.6,256.0 297.5,256.4 297.4,256.7 297.3,257.1 297.2,257.5 297.1,257.9 297.0,258.2 296.9,258.6 296.8,259.0 296.7,259.4 296.6,259.8 296.5,260.2 296.4,260.6 296.3,261.0 296.2,261.4 296.1,261.8 295.9,262.2 295.8,262.6 295.7,263.0 295.6,263.4 295.5,263.8 295.4,264.2 295.3,264.6 295.2,265.0 295.1,265.4 295.0,265.8 294.9,266.2 294.8,266.7 294.7,267.1 294.6,267.5 294.4,267.9 294.3,268.3 294.2,268.8 294.1,269.2 294.0,269.6 293.9,270.1 293.8,270.5 293.7,270.9 293.6,271.3 293.5,271.8 293.4,272.2 293.3,272.7 293.2,273.1 293.1,273.5 293.0,274.0 292.9,274.4 292.8,274.9 292.7,275.3 292.6,275.7 292.5,276.2 292.4,276.6 292.3,277.1 292.2,277.5 292.1,278.0 292.0,278.4 291.9,278.9 291.8,279.4 291.7,279.8 291.6,280.3 291.5,280.7 291.4,281.2 291.3,281.6 291.2,282.1 291.1,282.6 291.0,283.0 290.9,283.5 290.8,283.9 290.7,284.4 290.6,284.9 290.5,285.3 290.5,285.8 290.4,286.3 290.3,286.7 290.2,287.2 290.1,287.7 290.0,288.1 289.9,288.6 289.9,289.1 289.8,289.5 289.7,290.0 289.6,290.5 289.6,291.0 289.5,291.4 289.4,291.9 289.3,292.4 289.3,292.8 289.2,293.3 289.1,293.8 289.0,294.3 289.0,294.7 288.9,295.2 288.8,295.7 288.8,296.2 288.7,296.6 288.6,297.1 288.6,297.6 288.5,298.1 288.5,298.5 288.4,299.0 288.3,299.5 288.3,300.0 288.2,300.4 288.2,300.9 288.1,301.4 288.1,301.9 288.0,302.3 288.0,302.8 287.9,303.3 287.9,303.8 287.8,304.2 287.8,304.7 287.8,305.2 287.7,305.7 287.7,306.1 287.6,306.6 287.6,307.1 287.6,307.5 287.5,308.0 287.5,308.5 287.5,309.0 287.4,309.4 287.4,309.9 287.4,310.4 287.4,310.8 287.3,311.3 287.3,311.8 287.3,312.2 287.3,312.7 287.3,313.2 287.2,313.6 287.2,314.1 287.2,314.6 287.2,315.0 287.2,315.5 287.2,316.0 287.2,316.4 287.2,316.9 287.2,317.3 287.2,317.8 287.2,318.3 287.2,318.7 287.2,319.2 287.2,319.6 287.2,320.1 287.2,320.5 287.2,321.0 287.2,321.5 287.2,321.9 287.2,322.4 287.2,322.8 287.2,323.3 287.3,323.7 287.3,324.1 287.3,324.6 287.3,325.0 287.3,325.5 287.4,325.9 287.4,326.4 287.4,326.8 287.4,327.2 287.5,327.7 287.5,328.1 287.5,328.5 287.6,329.0 287.6,329.4 287.6,329.8 287.7,330.3 287.7,330.7 287.8,331.1 287.8,331.5 287.8,332.0 287.9,332.4 287.9,332.8 288.0,333.2 288.0,333.6 288.1,334.0 288.1,334.5 288.2,334.9 288.2,335.3 288.3,335.7 288.3,336.1 288.4,336.5 288.5,336.9 288.5,337.3 288.6,337.7 288.6,338.1 288.7,338.5 288.8,338.9 288.8,339.3 288.9,339.7 289.0,340.1 289.0,340.5 289.1,340.8 289.2,341.2 289.2,341.6 289.3,342.0 289.4,342.4 289.5,342.7 289.5,343.1 289.6,343.5 289.7,343.8 289.8,344.2 289.9,344.6 289.9,344.9 290.0,345.3 290.1,345.7 290.2,346.0 290.3,346.4 290.4,346.7 290.5,347.1 290.5,347.4 290.6,347.8 290.7,348.1 290.8,348.5 290.9,348.8 291.0,349.1 291.1,349.5 291.2,349.8 291.3,350.1 291.4,350.5 291.5,350.8 291.6,351.1 291.7,351.4 291.8,351.7 291.9,352.1 292.0,352.4 292.1,352.7 292.2,353.0 292.3,353.3 292.4,353.6 292.5,353.9 292.6,354.2 292.7,354.5 292.8,354.8 292.9,355.1 293.0,355.4 293.1,355.7 293.2,355.9 293.3,356.2 293.4,356.5 293.5,356.8 293.6,357.1 293.7,357.3 293.8,357.6 293.9,357.9 294.0,358.1 294.1,358.4 294.3,358.6 294.4,358.9 294.5,359.1 294.6,359.4 294.7,359.6 294.8,359.9 294.9,360.1 295.0,360.3 295.1,360.6 295.2,360.8 295.3,361.0 295.4,361.3 295.5,361.5 295.7,361.7 295.8,361.9 295.9,362.1 296.0,362.4 296.1,362.6 296.2,362.8 296.3,363.0 296.4,363.2 296.5,363.4 296.6,363.6 296.7,363.8 296.8,363.9 296.9,364.1 297.0,364.3 297.2,364.5 297.3,364.7 297.4,364.8 297.5,365.0 297.6,365.2 297.7,365.3 297.8,365.5 297.9,365.7 298.0,365.8 298.1,366.0 298.2,366.1 298.3,366.3 298.4,366.4 298.5,366.5 298.6,366.7 298.7,366.8 298.8,366.9 298.9,367.1 299.0,367.2 299.1,367.3 299.1,367.4 299.2,367.5 299.3,367.6 299.4,367.8 299.5,367.9 299.6,368.0 299.7,368.1 299.8,368.2 299.9,368.2 300.0,368.3 300.0,368.4 300.1,368.5 300.2,368.6 300.3,368.7 300.4,368.7 300.5,368.8 300.5,368.9 300.6,368.9 300.7,369.0 300.8,369.1 300.9,369.1 300.9,369.2 301.0,369.2 301.1,369.3 301.3,369.4 301.4,369.4 301.5,369.5 301.7,369.5 301.8,369.5 301.9,369.5 302.1,369.5 302.2,369.5 302.3,369.4 302.4,369.4 302.5,369.3 302.5,369.3 302.6,369.2 302.7,369.1 302.8,368.9 302.8,368.8 302.9,368.7 302.9,368.5 303.0,368.4 303.0,368.2 303.0,368.0 303.1,367.8 303.1,367.6 303.1,367.4 303.1,367.3 303.1,367.2 303.1,367.1 303.1,367.0 303.1,366.8 303.1,366.7 303.1,366.6 303.1,366.4 303.1,366.3 303.1,366.1 303.1,366.0 303.1,365.8 303.0,365.7 303.0,365.5 303.0,365.4 303.0,365.2 303.0,365.0 303.0,364.9 302.9,364.7 302.9,364.5 302.9,364.3 302.9,364.2 302.9,364.0 302.8,363.8 302.8,363.6 302.8,363.4 302.7,363.2 302.7,363.0 302.7,362.8 302.6,362.6 302.6,362.4 302.6,362.2 302.5,362.0 302.5,361.8 302.4,361.5 302.4,361.3 302.3,361.1 302.3,360.9 302.2,360.6 302.2,360.4 302.1,360.2 302.1,359.9 302.0,359.7 302.0,359.4 301.9,359.2 301.9,358.9 301.8,358.7 301.8,358.4 301.7,358.2 301.6,357.9 301.6,357.6 301.5,357.4 301.4,357.1 301.4,356.8 301.3,356.6 301.2,356.3 301.2,356.0 301.1,355.7 301.0,355.4 300.9,355.1 300.9,354.8 300.8,354.6 300.7,354.3 300.6,354.0 300.6,353.7 300.5,353.4 300.4,353.0 300.3,352.7 300.2,352.4 300.2,352.1 300.1,351.8 300.0,351.5 299.9,351.2 299.8,350.8 299.7,350.5 299.6,350.2 299.5,349.9 299.4,349.5 299.4,349.2 299.3,348.9 299.2,348.5 299.1,348.2 299.0,347.8 298.9,347.5 298.8,347.1 298.7,346.8 298.6,346.4 298.5,346.1 298.4,345.7 298.3,345.4 298.2,345.0 298.1,344.6 298.0,344.3 297.9,343.9 297.8,343.5 297.7,343.2 297.6,342.8 297.5,342.4 297.4,342.0 297.3,341.7 297.2,341.3 297.1,340.9 297.0,340.5 296.9,340.1 296.8,339.7 296.7,339.3 296.5,338.9 296.4,338.5 296.3,338.2 296.2,337.8 296.1,337.4 296.0,336.9 295.9,336.5 295.8,336.1 295.7,335.7 295.6,335.3 295.5,334.9 295.4,334.5 295.3,334.1 295.1,333.7 295.0,333.3 294.9,332.8 294.8,332.4 294.7,332.0 294.6,331.6 294.5,331.1 294.4,330.7 294.3,330.3 294.2,329.9 294.1,329.4 294.0,329.0 293.9,328.6 293.8,328.1 293.6,327.7 293.5,327.3 293.4,326.8 293.3,326.4 293.2,325.9 293.1,325.5 293.0,325.1 292.9,324.6 292.8,324.2 292.7,323.7 292.6,323.3 292.5,322.8 292.4,322.4 292.3,321.9 292.2,321.5 292.1,321.0 292.0,320.6 291.9,320.1 291.8,319.7 291.7,319.2 291.6,318.7 291.5,318.3 291.4,317.8 291.3,317.4 291.2,316.9 291.1,316.4 291.0,316.0 290.9,315.5 290.9,315.0 290.8,314.6 290.7,314.1 290.6,313.7 290.5,313.2 290.4,312.7 290.3,312.2 290.2,311.8 290.2,311.3 290.1,310.8 290.0,310.4 289.9,309.9 289.8,309.4 289.8,309.0 289.7,308.5 289.6,308.0 289.5,307.5 289.4,307.1 289.4,306.6 289.3,306.1 289.2,305.6 289.2,305.2 289.1,304.7 289.0,304.2 288.9,303.7 288.9,303.3 288.8,302.8 288.8,302.3 288.7,301.8 288.6,301.4 288.6,300.9 288.5,300.4 288.5,299.9 288.4,299.4 288.3,299.0 288.3,298.5 288.2,298.0 288.2,297.5 288.1,297.1 288.1,296.6 288.0,296.1 288.0,295.6 287.9,295.2 287.9,294.7 287.9,294.2 287.8,293.7 287.8,293.3 287.7,292.8 287.7,292.3 287.7,291.8 287.6,291.4 287.6,290.9 287.6,290.4 287.5,289.9 287.5,289.5 287.5,289.0 287.5,288.5 287.4,288.1 287.4,287.6 287.4,287.1 287.4,286.7 287.4,286.2 287.3,285.7 287.3,285.3 287.3,284.8 287.3,284.3 287.3,283.9 287.3,283.4 287.3,282.9 287.3,282.5 287.3,282.0 287.3,281.5 287.3,281.1 287.3,280.6 287.3,280.2 287.3,279.7 287.3,279.2 287.3,278.8 287.3,278.3 287.3,277.9 287.3,277.4 287.3,277.0 287.3,276.5 287.3,276.1 287.3,275.6 287.4,275.2 287.4,274.7 287.4,274.3 287.4,273.8 287.4,273.4 287.5,273.0 287.5,272.5 287.5,272.1 287.5,271.6 287.6,271.2 287.6,270.8 287.6,270.3 287.7,269.9 287.7,269.5 287.8,269.0 287.8,268.6 287.8,268.2 287.9,267.8 287.9,267.3 288.0,266.9 288.0,266.5 288.1,266.1 288.1,265.7 288.1,265.2 288.2,264.8 288.3,264.4 288.3,264.0 288.4,263.6 288.4,263.2 288.5,262.8 288.5,262.4 288.6,262.0 288.7,261.6 288.7,261.2 288.8,260.8 288.8,260.4 288.9,260.0 289.0,259.6 289.0,259.2 289.1,258.8 289.2,258.4 289.3,258.0 289.3,257.7 289.4,257.3 289.5,256.9 289.5,256.5 289.6,256.1 289.7,255.8 289.8,255.4 289.9,255.0 289.9,254.7 290.0,254.3 290.1,253.9 290.2,253.6 290.3,253.2 290.4,252.9 290.4,252.5 290.5,252.2 290.6,251.8 290.7,251.5 290.8,251.1 290.9,250.8 291.0,250.4 291.1,250.1 291.2,249.8 291.3,249.4 291.4,249.1 291.5,248.8 291.6,248.4 291.6,248.1 291.7,247.8 291.8,247.5 291.9,247.2 292.0,246.8 292.1,246.5 292.2,246.2 292.3,245.9 292.4,245.6 292.5,245.3 292.7,245.0 292.8,244.7 292.9,244.4 293.0,244.1 293.1,243.8 293.2,243.5 293.3,243.3 293.4,243.0 293.5,242.7 293.6,242.4 293.7,242.1 293.8,241.9 293.9,241.6 294.0,241.3 294.1,241.1 294.2,240.8 294.3,240.6 294.5,240.3 294.6,240.1 294.7,239.8 294.8,239.6 294.9,239.3 295.0,239.1 295.1,238.8 295.2,238.6 295.3,238.4 295.4,238.1 295.5,237.9 295.7,237.7 295.8,237.5 295.9,237.2 296.0,237.0 296.1,236.8 296.2,236.6 296.3,236.4 296.4,236.2 296.5,236.0 296.6,235.8 296.7,235.6 296.8,235.4 296.9,235.2 297.1,235.0 297.2,234.9 297.3,234.7 297.4,234.5 297.5,234.3 297.6,234.2 297.7,234.0 297.8,233.8 297.9,233.7 298.0,233.5 298.1,233.3 298.2,233.2 298.3,233.0 298.4,232.9 298.5,232.8 298.6,232.6 298.7,232.5 298.8,232.3 298.9,232.2 299.0,232.1 299.1,232.0 299.2,231.8 299.3,231.7 299.4,231.6 299.5,231.5 299.5,231.4 299.6,231.3 299.7,231.2 299.8,231.1 299.9,231.0 300.0,230.9 300.1,230.8 300.2,230.7 300.3,230.6 300.3,230.5 300.4,230.5 300.5,230.4 300.6,230.3 300.7,230.3 300.7,230.2 300.8,230.1 300.9,230.1 301.0,230.0 301.1,230.0 301.1,229.9 301.3,229.8 301.4,229.8 301.6,229.7 301.7,229.7 301.8,229.6 301.9,229.6 302.1,229.6 302.2,229.6 302.3,229.6 302.4,229.7 302.5,229.7 302.6,229.8 302.7,229.9 302.8,229.9 302.8,230.0 302.9,230.2 303.0,230.3 303.0,230.4 303.1,230.6 303.1,230.7 303.1,230.9 303.2,231.1 303.2,231.3 303.2,231.5 303.2,231.7 303.2,231.8 303.2,231.9 303.2,232.0 303.3,232.1 303.3,232.3 303.3,232.4 303.2,232.5 303.2,232.7 303.2,232.8 303.2,233.0 303.2,233.1 303.2,233.3 303.2,233.4 303.2,233.6 303.2,233.7 303.2,233.9 303.1,234.1 303.1,234.2 303.1,234.4 303.1,234.6 303.1,234.8 303.0,234.9 303.0,235.1 303.0,235.3 302.9,235.5 302.9,235.7 302.9,235.9 302.9,236.1 302.8,236.3 302.8,236.5 302.7,236.7 302.7,236.9 302.7,237.1 302.6,237.3 302.6,237.6 302.5,237.8 302.5,238.0 302.4,238.2 302.4,238.5 302.3,238.7 302.3,238.9 302.2,239.2 302.2,239.4 302.1,239.7 302.1,239.9 302.0,240.2 302.0,240.4 301.9,240.7 301.8,240.9 301.8,241.2 301.7,241.5 301.7,241.7 301.6,242.0 301.5,242.3 301.5,242.5 301.4,242.8 301.3,243.1 301.2,243.4 301.2,243.7 301.1,244.0 301.0,244.3 300.9,244.5 300.9,244.8 300.8,245.1 300.7,245.4 300.6,245.7 300.5,246.1 300.5,246.4 300.4,246.7 300.3,247.0 300.2,247.3 300.1,247.6 300.0,247.9 300.0,248.3 299.9,248.6 299.8,248.9 299.7,249.3 299.6,249.6 299.5,249.9 299.4,250.3 299.3,250.6 299.2,250.9 299.1,251.3 299.0,251.6 298.9,252.0 298.8,252.3 298.7,252.7 298.6,253.0 298.5,253.4 298.4,253.8 298.3,254.1 298.2,254.5 298.1,254.8 298.0,255.2 297.9,255.6 297.8,256.0 297.7,256.3 297.6,256.7 297.5,257.1 297.4,257.5 297.3,257.8 297.2,258.2 297.1,258.6 297.0,259.0 296.9,259.4 296.8,259.8 296.7,260.2 296.6,260.6 296.5,261.0 296.4,261.4 296.2,261.8 296.1,262.2 296.0,262.6 295.9,263.0 295.8,263.4 295.7,263.8 295.6,264.2 295.5,264.6 295.4,265.0 295.3,265.5 295.2,265.9 295.1,266.3 294.9,266.7 294.8,267.1 294.7,267.6 294.6,268.0 294.5,268.4 294.4,268.8 294.3,269.3 294.2,269.7 294.1,270.1 294.0,270.6 293.9,271.0 293.8,271.4 293.7,271.9 293.5,272.3 293.4,272.8 293.3,273.2 293.2,273.6 293.1,274.1 293.0,274.5 292.9,275.0 292.8,275.4 292.7,275.9 292.6,276.3 292.5,276.8 292.4,277.2 292.3,277.7 292.2,278.1 292.1,278.6 292.0,279.0 291.9,279.5 291.8,280.0 291.7,280.4 291.6,280.9 291.5,281.3 291.4,281.8 291.3,282.3 291.2,282.7 291.1,283.2 291.0,283.6 291.0,284.1 290.9,284.6 290.8,285.0 290.7,285.5 290.6,286.0 290.5,286.5 290.4,286.9 290.3,287.4 290.3,287.9 290.2,288.3 290.1,288.8 290.0,289.3 289.9,289.7 289.8,290.2 289.8,290.7 289.7,291.2 289.6,291.6 289.5,292.1 289.5,292.6 289.4,293.1 289.3,293.5 289.2,294.0 289.2,294.5 289.1,295.0 289.0,295.4 289.0,295.9 288.9,296.4 288.8,296.9 288.8,297.4 288.7,297.8 288.6,298.3 288.6,298.8 288.5,299.3 288.5,299.7 288.4,300.2 288.4,300.7 288.3,301.2 288.3,301.7 288.2,302.1 288.2,302.6 288.1,303.1 288.1,303.6 288.0,304.0 288.0,304.5 287.9,305.0 287.9,305.5 287.8,305.9 287.8,306.4 287.8,306.9 287.7,307.4 287.7,307.8 287.7,308.3 287.6,308.8 287.6,309.3 287.6,309.7 287.6,310.2 287.5,310.7 287.5,311.2 287.5,311.6 287.5,312.1 287.4,312.6 287.4,313.0 287.4,313.5 287.4,314.0 287.4,314.4 287.4,314.9 287.3,315.4 287.3,315.8 287.3,316.3 287.3,316.8 287.3,317.2 287.3,317.7 287.3,318.2 287.3,318.6 287.3,319.1 287.3,319.5 287.3,320.0 287.3,320.4 287.3,320.9 287.3,321.4 287.3,321.8 287.4,322.3 287.4,322.7 287.4,323.2 287.4,323.6 287.4,324.1 287.4,324.5 287.5,325.0 287.5,325.4 287.5,325.8 287.5,326.3 287.5,326.7 287.6,327.2 287.6,327.6 287.6,328.0 287.7,328.5 287.7,328.9 287.7,329.4 287.8,329.8 287.8,330.2 287.8,330.6 287.9,331.1 287.9,331.5 288.0,331.9 288.0,332.3 288.1,332.8 288.1,333.2 288.1,333.6 288.2,334.0 288.2,334.4 288.3,334.9 288.4,335.3 288.4,335.7 288.5,336.1 288.5,336.5 288.6,336.9 288.6,337.3 288.7,337.7 288.8,338.1 288.8,338.5 288.9,338.9 289.0,339.3 289.0,339.7 289.1,340.1 289.2,340.5 289.2,340.9 289.3,341.2 289.4,341.6 289.4,342.0 289.5,342.4 289.6,342.8 289.7,343.1 289.7,343.5 289.8,343.9 289.9,344.3 290.0,344.6 290.1,345.0 290.2,345.4 290.2,345.7 290.3,346.1 290.4,346.4 290.5,346.8 290.6,347.1 290.7,347.5 290.8,347.8 290.8,348.2 290.9,348.5 291.0,348.9 291.1,349.2 291.2,349.6 291.3,349.9 291.4,350.2 291.5,350.5 291.6,350.9 291.7,351.2 291.8,351.5 291.9,351.8 292.0,352.2 292.1,352.5 292.2,352.8 292.3,353.1 292.4,353.4 292.5,353.7 292.6,354.0 292.7,354.3 292.8,354.6 292.9,354.9 293.0,355.2 293.1,355.5 293.2,355.8 293.3,356.1 293.4,356.4 293.5,356.6 293.6,356.9 293.7,357.2 293.9,357.5 294.0,357.7 294.1,358.0 294.2,358.3 294.3,358.5 294.4,358.8 294.5,359.0 294.6,359.3 294.7,359.5 294.8,359.8 294.9,360.0 295.0,360.3 295.2,360.5 295.3,360.8 295.4,361.0 295.5,361.2 295.6,361.4 295.7,361.7 295.8,361.9 295.9,362.1 296.0,362.3 296.1,362.5 296.2,362.7 296.4,363.0 296.5,363.2 296.6,363.4 296.7,363.6 296.8,363.8 296.9,364.0 297.0,364.1 297.1,364.3 297.2,364.5 297.3,364.7 297.4,364.9 297.5,365.0 297.6,365.2 297.7,365.4 297.8,365.6 297.9,365.7 298.0,365.9 298.2,366.0 298.3,366.2 298.4,366.3 298.5,366.5 298.6,366.6 298.7,366.8 298.8,366.9 298.9,367.0 298.9,367.2 299.0,367.3 299.1,367.4 299.2,367.5 299.3,367.7 299.4,367.8 299.5,367.9 299.6,368.0 299.7,368.1 299.8,368.2 299.9,368.3 300.0,368.4 300.1,368.5 300.2,368.6 300.2,368.7 300.3,368.8 300.4,368.8 300.5,368.9 300.6,369.0 300.7,369.1 300.7,369.1 300.8,369.2 300.9,369.3 301.0,369.3 301.1,369.4 301.1,369.4 301.2,369.5 301.3,369.6 301.5,369.6 301.6,369.7 301.8,369.8 301.9,369.8 302.0,369.8 302.1,369.8 302.3,369.8 302.4,369.8 302.5,369.8 302.6,369.7 302.7,369.6 302.8,369.6 302.8,369.5 302.9,369.4 303.0,369.3 303.0,369.1 303.1,369.0 303.2,368.8 303.2,368.7 303.2,368.5 303.3,368.3 303.3,368.1 303.3,367.9 303.3,367.8 303.3,367.7 303.3,367.5 303.3,367.4 303.3,367.3 303.3,367.2 303.3,367.0 303.3,366.9 303.3,366.8 303.3,366.6 303.3,366.5 303.3,366.3 303.3,366.2 303.3,366.0 303.3,365.9 303.3,365.7 303.2,365.5 303.2,365.4 303.2,365.2 303.2,365.0 303.2,364.9 303.1,364.7 303.1,364.5 303.1,364.3 303.1,364.1 303.0,363.9 303.0,363.8 303.0,363.6 302.9,363.4 302.9,363.2 302.9,363.0 302.8,362.7 302.8,362.5 302.8,362.3 302.7,362.1 302.7,361.9 302.6,361.7 302.6,361.4 302.5,361.2 302.5,361.0 302.4,360.7 302.4,360.5 302.3,360.3 302.3,360.0 302.2,359.8 302.2,359.5 302.1,359.3 302.1,359.0 302.0,358.8 301.9,358.5 301.9,358.3 301.8,358.0 301.7,357.7 301.7,357.4 301.6,357.2 301.5,356.9 301.5,356.6 301.4,356.3 301.3,356.1 301.3,355.8 301.2,355.5 301.1,355.2 301.0,354.9 301.0,354.6 300.9,354.3 300.8,354.0 300.7,353.7 300.6,353.4 300.6,353.1 300.5,352.8 300.4,352.5 300.3,352.1 300.2,351.8 300.1,351.5 300.0,351.2 300.0,350.9 299.9,350.5 299.8,350.2 299.7,349.9 299.6,349.5 299.5,349.2 299.4,348.9 299.3,348.5 299.2,348.2 299.1,347.8 299.0,347.5 298.9,347.1 298.8,346.8 298.7,346.4 298.6,346.1 298.5,345.7 298.4,345.3 298.3,345.0 298.2,344.6 298.1,344.2 298.0,343.9 297.9,343.5 297.8,343.1 297.7,342.7 297.6,342.4 297.5,342.0 297.4,341.6 297.3,341.2 297.2,340.8 297.1,340.4 297.0,340.1 296.9,339.7 296.8,339.3 296.7,338.9 296.5,338.5 296.4,338.1 296.3,337.7 296.2,337.3 296.1,336.9 296.0,336.5 295.9,336.1 295.8,335.6 295.7,335.2 295.6,334.8 295.5,334.4 295.4,334.0 295.2,333.6 295.1,333.2 295.0,332.7 294.9,332.3 294.8,331.9 294.7,331.5 294.6,331.0 294.5,330.6 294.4,330.2 294.3,329.7 294.2,329.3 294.0,328.9 293.9,328.4 293.8,328.0 293.7,327.6 293.6,327.1 293.5,326.7 293.4,326.2 293.3,325.8 293.2,325.4 293.1,324.9 293.0,324.5 292.9,324.0 292.8,323.6 292.7,323.1 292.6,322.7 292.5,322.2 292.4,321.8 292.3,321.3 292.2,320.9 292.1,320.4 292.0,319.9 291.9,319.5 291.8,319.0 291.7,318.6 291.6,318.1 291.5,317.6 291.4,317.2 291.3,316.7 291.2,316.2 291.1,315.8 291.0,315.3 290.9,314.8 290.8,314.4 290.7,313.9 290.7,313.4 290.6,313.0 290.5,312.5 290.4,312.0 290.3,311.6 290.2,311.1 290.1,310.6 290.1,310.1 290.0,309.7 289.9,309.2 289.8,308.7 289.7,308.3 289.7,307.8 289.6,307.3 289.5,306.8 289.4,306.3 289.4,305.9 289.3,305.4 289.2,304.9 289.1,304.4 289.1,304.0 289.0,303.5 288.9,303.0 288.9,302.5 288.8,302.1 288.8,301.6 288.7,301.1 288.6,300.6 288.6,300.1 288.5,299.7 288.5,299.2 288.4,298.7 288.3,298.2 288.3,297.7 288.2,297.3 288.2,296.8 288.1,296.3 288.1,295.8 288.1,295.4 288.0,294.9 288.0,294.4 287.9,293.9 287.9,293.5 287.8,293.0 287.8,292.5 287.8,292.0 287.7,291.5 287.7,291.1 287.7,290.6 287.6,290.1 287.6,289.6 287.6,289.2 287.6,288.7 287.5,288.2 287.5,287.8 287.5,287.3 287.5,286.8 287.4,286.3 287.4,285.9 287.4,285.4 287.4,284.9 287.4,284.5 287.4,284.0 287.4,283.5 287.4,283.1 287.3,282.6 287.3,282.1 287.3,281.7 287.3,281.2 287.3,280.8 287.3,280.3 287.3,279.8 287.3,279.4 287.3,278.9 287.3,278.5 287.4,278.0 287.4,277.6 287.4,277.1 287.4,276.6 287.4,276.2 287.4,275.7 287.4,275.3 287.4,274.8 287.5,274.4 287.5,274.0 287.5,273.5 287.5,273.1 287.6,272.6 287.6,272.2 287.6,271.7 287.6,271.3 287.7,270.9 287.7,270.4 287.7,270.0 287.8,269.6 287.8,269.1 287.9,268.7 287.9,268.3 287.9,267.8 288.0,267.4 288.0,267.0 288.1,266.6 288.1,266.2 288.2,265.7 288.2,265.3 288.3,264.9 288.3,264.5 288.4,264.1 288.4,263.7 288.5,263.2 288.5,262.8 288.6,262.4 288.6,262.0 288.7,261.6 288.8,261.2 288.8,260.8 288.9,260.4 289.0,260.0 289.0,259.6 289.1,259.2 289.2,258.8 289.2,258.5 289.3,258.1 289.4,257.7 289.5,257.3 289.5,256.9 289.6,256.5 289.7,256.2 289.8,255.8 289.8,255.4 289.9,255.1 290.0,254.7 290.1,254.3 290.2,254.0 290.2,253.6 290.3,253.2 290.4,252.9 290.5,252.5 290.6,252.2 290.7,251.8 290.8,251.5 290.9,251.1 290.9,250.8 291.0,250.4 291.1,250.1 291.2,249.7 291.3,249.4 291.4,249.1 291.5,248.7 291.6,248.4 291.7,248.1 291.8,247.8 291.9,247.4 292.0,247.1 292.1,246.8 292.2,246.5 292.3,246.2 292.4,245.9 292.5,245.6 292.6,245.3 292.7,245.0 292.8,244.7 292.9,244.4 293.0,244.1 293.1,243.8 293.2,243.5 293.3,243.2 293.4,242.9 293.5,242.6 293.7,242.4 293.8,242.1 293.9,241.8 294.0,241.5 294.1,241.3 294.2,241.0 294.3,240.7 294.4,240.5 294.5,240.2 294.6,240.0 294.7,239.7 294.8,239.5 295.0,239.2 295.1,239.0 295.2,238.7 295.3,238.5 295.4,238.3 295.5,238.0 295.6,237.8 295.7,237.6 295.8,237.4 295.9,237.1 296.0,236.9 296.2,236.7 296.3,236.5 296.4,236.3 296.5,236.1 296.6,235.9 296.7,235.7 296.8,235.5 296.9,235.3 297.0,235.1 297.1,234.9 297.2,234.7 297.3,234.6 297.4,234.4 297.6,234.2 297.7,234.0 297.8,233.9 297.9,233.7 298.0,233.5 298.1,233.4 298.2,233.2 298.3,233.1 298.4,232.9 298.5,232.8 298.6,232.6 298.7,232.5 298.8,232.3 298.9,232.2 299.0,232.1 299.1,231.9 299.2,231.8 299.3,231.7 299.4,231.6 299.5,231.4 299.6,231.3 299.6,231.2 299.7,231.1 299.8,231.0 299.9,230.9 300.0,230.8 300.1,230.7 300.2,230.6 300.3,230.5 300.4,230.5 300.4,230.4 300.5,230.3 300.6,230.2 300.7,230.1 300.8,230.1 300.9,230.0 300.9,229.9 301.0,229.9 301.1,229.8 301.2,229.8 301.2,229.7 301.3,229.7 301.5,229.6 301.6,229.5 301.7,229.5 301.9,229.4 302.0,229.4 302.1,229.4 302.2,229.4 302.4,229.4 302.5,229.4 302.6,229.5 302.7,229.5 302.8,229.6 302.9,229.7 302.9,229.8 303.0,229.9 303.1,230.0 303.1,230.1 303.2,230.3 303.2,230.4 303.3,230.6 303.3,230.8 303.3,231.0 303.4,231.2 303.4,231.4 303.4,231.5 303.4,231.6 303.4,231.8 303.4,231.9 303.4,232.0 303.4,232.2 303.4,232.3 303.4,232.4 303.4,232.6 303.4,232.7 303.4,232.9 303.4,233.0 303.4,233.2 303.3,233.3 303.3,233.5 303.3,233.6 303.3,233.8 303.3,234.0 303.3,234.1 303.2,234.3 303.2,234.5 303.2,234.7 303.2,234.9 303.1,235.1 303.1,235.2 303.1,235.4 303.0,235.6 303.0,235.8 303.0,236.0 302.9,236.2 302.9,236.4 302.9,236.7 302.8,236.9 302.8,237.1 302.7,237.3 302.7,237.5 302.7,237.7 302.6,238.0 302.6,238.2 302.5,238.4 302.5,238.7 302.4,238.9 302.3,239.2 302.3,239.4 302.2,239.7 302.2,239.9 302.1,240.2 302.1,240.4 302.0,240.7 301.9,240.9 301.9,241.2 301.8,241.5 301.7,241.7 301.7,242.0 301.6,242.3 301.5,242.6 301.5,242.8 301.4,243.1 301.3,243.4 301.3,243.7 301.2,244.0 301.1,244.3 301.0,244.6 300.9,244.9 300.9,245.2 300.8,245.5 300.7,245.8 300.6,246.1 300.5,246.4 300.5,246.7 300.4,247.0 300.3,247.4 300.2,247.7 300.1,248.0 300.0,248.3 299.9,248.6 299.8,249.0 299.8,249.3 299.7,249.6 299.6,250.0 299.5,250.3 299.4,250.7 299.3,251.0 299.2,251.4 299.1,251.7 299.0,252.1 298.9,252.4 298.8,252.8 298.7,253.1 298.6,253.5 298.5,253.8 298.4,254.2 298.3,254.6 298.2,254.9 298.1,255.3 298.0,255.7 297.9,256.1 297.8,256.4 297.7,256.8 297.6,257.2 297.5,257.6 297.4,258.0 297.3,258.3 297.1,258.7 297.0,259.1 296.9,259.5 296.8,259.9 296.7,260.3 296.6,260.7 296.5,261.1 296.4,261.5 296.3,261.9 296.2,262.3 296.1,262.7 296.0,263.1 295.9,263.5 295.7,263.9 295.6,264.4 295.5,264.8 295.4,265.2 295.3,265.6 295.2,266.0 295.1,266.4 295.0,266.9 294.9,267.3 294.8,267.7 294.6,268.1 294.5,268.6 294.4,269.0 294.3,269.4 294.2,269.9 294.1,270.3 294.0,270.7 293.9,271.2 293.8,271.6 293.7,272.1 293.6,272.5 293.5,272.9 293.4,273.4 293.3,273.8 293.1,274.3 293.0,274.7 292.9,275.2 292.8,275.6 292.7,276.1 292.6,276.5 292.5,277.0 292.4,277.4 292.3,277.9 292.2,278.3 292.1,278.8 292.0,279.2 291.9,279.7 291.8,280.2 291.7,280.6 291.6,281.1 291.5,281.6 291.4,282.0 291.3,282.5 291.3,282.9 291.2,283.4 291.1,283.9 291.0,284.3 290.9,284.8 290.8,285.3 290.7,285.7 290.6,286.2 290.5,286.7 290.4,287.2 290.4,287.6 290.3,288.1 290.2,288.6 290.1,289.0 290.0,289.5 289.9,290.0 289.9,290.5 289.8,290.9 289.7,291.4 289.6,291.9 289.6,292.4 289.5,292.8 289.4,293.3 289.3,293.8 289.3,294.3 289.2,294.7 289.1,295.2 289.1,295.7 289.0,296.2 288.9,296.7 288.9,297.1 288.8,297.6 288.7,298.1 288.7,298.6 288.6,299.1 288.6,299.5 288.5,300.0 288.4,300.5 288.4,301.0 288.3,301.4 288.3,301.9 288.2,302.4 288.2,302.9 288.1,303.4 288.1,303.8 288.0,304.3 288.0,304.8 288.0,305.3 287.9,305.7 287.9,306.2 287.8,306.7 287.8,307.2 287.8,307.7 287.7,308.1 287.7,308.6 287.7,309.1 287.6,309.5 287.6,310.0 287.6,310.5 287.6,311.0 287.5,311.4 287.5,311.9 287.5,312.4 287.5,312.9 287.5,313.3 287.4,313.8 287.4,314.3 287.4,314.7 287.4,315.2 287.4,315.7 287.4,316.1 287.4,316.6 287.4,317.1 287.4,317.5 287.4,318.0 287.4,318.4 287.4,318.9 287.4,319.4 287.4,319.8 287.4,320.3 287.4,320.7 287.4,321.2 287.4,321.6 287.4,322.1 287.4,322.6 287.4,323.0 287.4,323.5 287.5,323.9 287.5,324.4 287.5,324.8 287.5,325.3 287.5,325.7 287.6,326.1 287.6,326.6 287.6,327.0 287.6,327.5 287.7,327.9 287.7,328.3 287.7,328.8 287.8,329.2 287.8,329.6 287.8,330.1 287.9,330.5 287.9,330.9 288.0,331.4 288.0,331.8 288.0,332.2 288.1,332.6 288.1,333.1 288.2,333.5 288.2,333.9 288.3,334.3 288.3,334.7 288.4,335.1 288.4,335.6 288.5,336.0 288.5,336.4 288.6,336.8 288.7,337.2 288.7,337.6 288.8,338.0 288.8,338.4 288.9,338.8 289.0,339.2 289.0,339.6 289.1,340.0 289.2,340.4 289.2,340.8 289.3,341.1 289.4,341.5 289.5,341.9 289.5,342.3 289.6,342.7 289.7,343.1 289.8,343.4 289.8,343.8 289.9,344.2 290.0,344.5 290.1,344.9 290.2,345.3 290.3,345.6 290.3,346.0 290.4,346.4 290.5,346.7 290.6,347.1 290.7,347.4 290.8,347.8 290.9,348.1 291.0,348.5 291.1,348.8 291.1,349.1 291.2,349.5 291.3,349.8 291.4,350.2 291.5,350.5 291.6,350.8 291.7,351.1 291.8,351.5 291.9,351.8 292.0,352.1 292.1,352.4 292.2,352.7 292.3,353.1 292.4,353.4 292.5,353.7 292.6,354.0 292.7,354.3 292.8,354.6 292.9,354.9 293.0,355.2 293.1,355.5 293.2,355.8 293.3,356.0 293.5,356.3 293.6,356.6 293.7,356.9 293.8,357.2 293.9,357.4 294.0,357.7 294.1,358.0 294.2,358.2 294.3,358.5 294.4,358.8 294.5,359.0 294.6,359.3 294.7,359.5 294.9,359.8 295.0,360.0 295.1,360.3 295.2,360.5 295.3,360.7 295.4,361.0 295.5,361.2 295.6,361.4 295.7,361.7 295.8,361.9 295.9,362.1 296.1,362.3 296.2,362.5 296.3,362.8 296.4,363.0 296.5,363.2 296.6,363.4 296.7,363.6 296.8,363.8 296.9,364.0 297.0,364.2 297.1,364.3 297.2,364.5 297.4,364.7 297.5,364.9 297.6,365.1 297.7,365.2 297.8,365.4 297.9,365.6 298.0,365.7 298.1,365.9 298.2,366.1 298.3,366.2 298.4,366.4 298.5,366.5 298.6,366.7 298.7,366.8 298.8,366.9 298.9,367.1 299.0,367.2 299.1,367.3 299.2,367.5 299.3,367.6 299.4,367.7 299.5,367.8 299.6,367.9 299.7,368.1 299.7,368.2 299.8,368.3 299.9,368.4 300.0,368.5 300.1,368.6 300.2,368.7 300.3,368.7 300.4,368.8 300.5,368.9 300.5,369.0 300.6,369.1 300.7,369.1 300.8,369.2 300.9,369.3 300.9,369.3 301.0,369.4 301.1,369.5 301.2,369.5 301.3,369.6 301.3,369.6 301.5,369.7 301.6,369.8 301.8,369.8 301.9,369.9 302.0,369.9 302.1,369.9 302.2,369.9 302.4,369.9 302.5,369.9 302.6,369.8 302.7,369.8 302.8,369.7 302.9,369.6 303.0,369.5 303.0,369.4 303.1,369.3 303.2,369.2 303.2,369.0 303.3,368.9 303.3,368.7 303.3,368.5 303.4,368.3 303.4,368.1 303.4,367.9 303.4,367.8 303.4,367.7 303.4,367.6 303.4,367.4 303.4,367.3 303.4,367.2 303.4,367.0 303.4,366.9 303.4,366.8 303.4,366.6 303.4,366.5 303.4,366.3 303.4,366.2 303.4,366.0 303.4,365.9 303.3,365.7 303.3,365.5 303.3,365.4 303.3,365.2 303.3,365.0 303.2,364.8 303.2,364.7 303.2,364.5 303.2,364.3 303.1,364.1 303.1,363.9 303.1,363.7 303.0,363.5 303.0,363.3 303.0,363.1 302.9,362.9 302.9,362.7 302.9,362.5 302.8,362.3 302.8,362.0 302.7,361.8 302.7,361.6 302.6,361.4 302.6,361.1 302.5,360.9 302.5,360.7 302.4,360.4 302.4,360.2 302.3,360.0 302.3,359.7 302.2,359.5 302.2,359.2 302.1,358.9 302.0,358.7 302.0,358.4 301.9,358.2 301.9,357.9 301.8,357.6 301.7,357.4 301.7,357.1 301.6,356.8 301.5,356.5 301.4,356.2 301.4,356.0 301.3,355.7 301.2,355.4 301.1,355.1 301.1,354.8 301.0,354.5 300.9,354.2 300.8,353.9 300.8,353.6 300.7,353.3 300.6,353.0 300.5,352.7 300.4,352.3 300.3,352.0 300.2,351.7 300.2,351.4 300.1,351.1 300.0,350.7 299.9,350.4 299.8,350.1 299.7,349.7 299.6,349.4 299.5,349.1 299.4,348.7 299.3,348.4 299.2,348.0 299.1,347.7 299.0,347.3 298.9,347.0 298.8,346.6 298.7,346.3 298.6,345.9 298.5,345.5 298.4,345.2 298.3,344.8 298.2,344.4 298.1,344.1 298.0,343.7 297.9,343.3 297.8,342.9 297.7,342.6 297.6,342.2 297.5,341.8 297.4,341.4 297.3,341.0 297.2,340.7 297.1,340.3 297.0,339.9 296.9,339.5 296.8,339.1 296.7,338.7 296.6,338.3 296.4,337.9 296.3,337.5 296.2,337.1 296.1,336.7 296.0,336.3 295.9,335.9 295.8,335.4 295.7,335.0 295.6,334.6 295.5,334.2 295.4,333.8 295.2,333.4 295.1,332.9 295.0,332.5 294.9,332.1 294.8,331.7 294.7,331.2 294.6,330.8 294.5,330.4 294.4,330.0 294.3,329.5 294.2,329.1 294.0,328.7 293.9,328.2 293.8,327.8 293.7,327.3 293.6,326.9 293.5,326.5 293.4,326.0 293.3,325.6 293.2,325.1 293.1,324.7 293.0,324.2 292.9,323.8 292.8,323.3 292.7,322.9 292.6,322.4 292.5,322.0 292.4,321.5 292.3,321.1 292.2,320.6 292.1,320.2 292.0,319.7 291.9,319.2 291.8,318.8 291.7,318.3 291.6,317.9 291.5,317.4 291.4,316.9 291.3,316.5 291.2,316.0 291.1,315.5 291.0,315.1 290.9,314.6 290.8,314.1 290.7,313.7 290.7,313.2 290.6,312.7 290.5,312.3 290.4,311.8 290.3,311.3 290.2,310.8 290.1,310.4 290.1,309.9 290.0,309.4 289.9,308.9 289.8,308.5 289.7,308.0 289.7,307.5 289.6,307.0 289.5,306.6 289.4,306.1 289.4,305.6 289.3,305.1 289.2,304.7 289.2,304.2 289.1,303.7 289.0,303.2 289.0,302.7 288.9,302.3 288.8,301.8 288.8,301.3 288.7,300.8 288.7,300.4 288.6,299.9 288.5,299.4 288.5,298.9 288.4,298.4 288.4,298.0 288.3,297.5 288.3,297.0 288.2,296.5 288.2,296.0 288.1,295.6 288.1,295.1 288.0,294.6 288.0,294.1 288.0,293.7 287.9,293.2 287.9,292.7 287.8,292.2 287.8,291.8 287.8,291.3 287.7,290.8 287.7,290.3 287.7,289.9 287.6,289.4 287.6,288.9 287.6,288.4 287.6,288.0 287.5,287.5 287.5,287.0 287.5,286.6 287.5,286.1 287.5,285.6 287.5,285.1 287.4,284.7 287.4,284.2 287.4,283.7 287.4,283.3 287.4,282.8 287.4,282.3 287.4,281.9 287.4,281.4 287.4,281.0 287.4,280.5 287.4,280.0 287.4,279.6 287.4,279.1 287.4,278.7 287.4,278.2 287.4,277.8 287.4,277.3 287.4,276.8 287.4,276.4 287.5,275.9 287.5,275.5 287.5,275.0 287.5,274.6 287.5,274.1 287.6,273.7 287.6,273.3 287.6,272.8 287.6,272.4 287.7,271.9 287.7,271.5 287.7,271.1 287.7,270.6 287.8,270.2 287.8,269.8 287.8,269.3 287.9,268.9 287.9,268.5 288.0,268.0 288.0,267.6 288.1,267.2 288.1,266.8 288.1,266.3 288.2,265.9 288.2,265.5 288.3,265.1 288.3,264.7 288.4,264.2 288.4,263.8 288.5,263.4 288.6,263.0 288.6,262.6 288.7,262.2 288.7,261.8 288.8,261.4 288.9,261.0 288.9,260.6 289.0,260.2 289.0,259.8 289.1,259.4 289.2,259.0 289.3,258.6 289.3,258.2 289.4,257.9 289.5,257.5 289.5,257.1 289.6,256.7 289.7,256.3 289.8,256.0 289.9,255.6 289.9,255.2 290.0,254.8 290.1,254.5 290.2,254.1 290.3,253.7 290.3,253.4 290.4,253.0 290.5,252.7 290.6,252.3 290.7,252.0 290.8,251.6 290.9,251.3 291.0,250.9 291.1,250.6 291.1,250.2 291.2,249.9 291.3,249.6 291.4,249.2 291.5,248.9 291.6,248.6 291.7,248.2 291.8,247.9 291.9,247.6 292.0,247.3 292.1,246.9 292.2,246.6 292.3,246.3 292.4,246.0 292.5,245.7 292.6,245.4 292.7,245.1 292.8,244.8 292.9,244.5 293.0,244.2 293.1,243.9 293.2,243.6 293.3,243.3 293.4,243.0 293.6,242.8 293.7,242.5 293.8,242.2 293.9,241.9 294.0,241.7 294.1,241.4 294.2,241.1 294.3,240.9 294.4,240.6 294.5,240.3 294.6,240.1 294.7,239.8 294.9,239.6 295.0,239.3 295.1,239.1 295.2,238.8 295.3,238.6 295.4,238.4 295.5,238.1 295.6,237.9 295.7,237.7 295.8,237.5 295.9,237.2 296.1,237.0 296.2,236.8 296.3,236.6 296.4,236.4 296.5,236.2 296.6,236.0 296.7,235.8 296.8,235.6 296.9,235.4 297.0,235.2 297.1,235.0 297.2,234.8 297.3,234.6 297.5,234.4 297.6,234.3 297.7,234.1 297.8,233.9 297.9,233.8 298.0,233.6 298.1,233.4 298.2,233.3 298.3,233.1 298.4,233.0 298.5,232.8 298.6,232.7 298.7,232.5 298.8,232.4 298.9,232.3 299.0,232.1 299.1,232.0 299.2,231.9 299.3,231.7 299.4,231.6 299.5,231.5 299.6,231.4 299.7,231.3 299.7,231.2 299.8,231.1 299.9,231.0 300.0,230.9 300.1,230.8 300.2,230.7 300.3,230.6 300.4,230.5 300.5,230.4 300.5,230.3 300.6,230.3 300.7,230.2 300.8,230.1 300.9,230.0 300.9,230.0 301.0,229.9 301.1,229.9 301.2,229.8 301.3,229.8 301.3,229.7 301.5,229.6 301.6,229.5 301.8,229.5 301.9,229.4 302.0,229.4 302.1,229.4 302.2,229.4" fill="none" stroke="#1a1a1a" stroke-width="1.0" stroke-linejoin="round"/>
<polyline points="302.2,229.4 302.0,229.4 301.8,229.5 301.6,229.5 301.3,229.7 301.1,229.8 300.9,230.0 300.6,230.2 300.4,230.4 300.1,230.7 299.8,230.9 299.5,231.2 299.2,231.5 299.0,231.9 298.6,232.2 298.3,232.6 298.0,233.0 297.7,233.4 297.4,233.8 297.0,234.2 296.7,234.7 296.4,235.1 296.0,235.6 295.6,236.0 295.3,236.5 294.9,236.9 294.5,237.5 294.1,238.1 293.7,238.9 293.3,239.7 292.8,240.6 292.3,241.7 291.8,242.8 291.3,243.9 290.8,245.1 290.3,246.4 289.7,247.7 289.2,249.0 288.6,250.4 288.1,251.8 287.5,253.2 287.0,254.6 286.4,256.0 285.8,257.3 285.3,258.7 284.7,260.0 284.2,261.3 283.6,262.6 283.1,263.7 282.6,264.9 282.1,265.9 281.6,266.9 281.1,267.8 280.6,268.6 280.2,269.3 279.8,269.9 279.4,270.5 279.0,271.0 278.6,271.5 278.2,272.0 277.8,272.6 277.4,273.1 277.0,273.6 276.6,274.1 276.2,274.5 275.8,275.0 275.4,275.5 275.1,275.9 274.7,276.4 274.3,276.8 274.0,277.2 273.6,277.7 273.2,278.1 272.9,278.4 272.5,278.8 272.2,279.2 271.8,279.6 271.5,279.9 271.2,280.3 270.8,280.6 270.5,280.9 270.2,281.2 269.9,281.5 269.6,281.8 269.2,282.0 268.9,282.3 268.6,282.5 268.3,282.7 268.0,282.9 267.7,283.1 267.5,283.3 267.2,283.5 266.9,283.6 266.6,283.8 266.4,283.9 266.1,284.0 265.8,284.1 265.6,284.2 265.3,284.3 265.0,284.3 264.8,284.4 264.5,284.5 264.3,284.6 264.0,284.6 263.7,284.7 263.5,284.7 263.2,284.8 263.0,284.9 262.7,284.9 262.5,285.0 262.2,285.0 262.0,285.1 261.7,285.1 261.5,285.1 261.3,285.2 261.0,285.2 260.8,285.3 260.6,285.3 260.4,285.4 260.2,285.4 260.0,285.4 259.8,285.5 259.6,285.5 259.4,285.6 259.2,285.6 259.0,285.7 258.8,285.7 258.7,285.8 258.5,285.8 258.4,285.9 258.2,285.9 258.1,286.0 258.0,286.1 257.8,286.1 257.7,286.2 257.6,286.3 257.5,286.4 257.4,286.5 257.3,286.5 257.2,286.6 257.1,286.7 257.0,286.9 256.9,287.0 256.8,287.1 256.7,287.2 256.6,287.3 256.5,287.5 256.4,287.6 256.3,287.7 256.2,287.8 256.1,288.0 256.1,288.1 256.0,288.3 255.9,288.4 255.8,288.6 255.7,288.7 255.6,288.8 255.5,289.0 255.5,289.1 255.4,289.3 255.3,289.4 255.2,289.6 255.2,289.7 255.1,289.9 255.0,290.0 255.0,290.2 254.9,290.3 254.9,290.5 254.8,290.6 254.8,290.8 254.7,290.9 254.7,291.0 254.6,291.2 254.6,291.3 254.5,291.4 254.5,291.5 254.5,291.7 254.4,291.8 254.4,291.9 254.4,292.0 254.4,292.1 254.3,292.3 254.3,292.5 254.3,292.6 254.4,292.8 254.4,293.0 254.4,293.1 254.5,293.3 254.6,293.4 254.7,293.5 254.8,293.7 254.8,293.8 254.9,293.8 254.9,293.9 255.0,294.0 255.0,294.0 255.1,294.1 255.2,294.1 255.2,294.2 255.3,294.3 255.4,294.3 255.5,294.4 255.5,294.5 255.6,294.5 255.7,294.6 255.8,294.6 255.9,294.7 255.9,294.8 256.0,294.8 256.1,294.9 256.2,294.9 256.3,295.0 256.4,295.0 256.5,295.1 256.6,295.1 256.6,295.2 256.7,295.2 256.8,295.3 256.9,295.4 257.0,295.4 257.1,295.5 257.2,295.5 257.3,295.6 257.4,295.6 257.5,295.6 257.5,295.7 257.6,295.7 257.7,295.8 257.8,295.8 257.9,295.9 258.0,295.9 258.1,296.0 258.1,296.0 258.2,296.1 258.3,296.1 258.4,296.1 258.5,296.2 258.7,296.3 258.8,296.4 259.0,296.5 259.1,296.5 259.2,296.6 259.3,296.7 259.5,296.8 259.6,296.9 259.8,296.9 259.9,297.0 260.0,297.1 260.2,297.2 260.3,297.3 260.5,297.3 260.6,297.4 260.8,297.5 260.9,297.5 261.1,297.6 261.2,297.7 261.3,297.7 261.5,297.8 261.6,297.8 261.7,297.9 261.8,297.9 261.9,297.9 262.0,298.0 262.2,298.0 262.3,298.0 262.1,298.0 262.0,298.0 261.9,298.0 261.7,298.0 261.6,298.0 261.5,298.0 261.4,298.1 261.2,298.1 261.1,298.1 260.9,298.2 260.7,298.2 260.6,298.2 260.4,298.3 260.2,298.3 260.0,298.4 260.0,298.4 259.9,298.5 259.8,298.5 259.7,298.5 259.6,298.6 259.5,298.6 259.4,298.6 259.3,298.7 259.2,298.7 259.1,298.8 259.0,298.8 258.9,298.8 258.9,298.9 258.8,298.9 258.7,299.0 258.6,299.0 258.5,299.0 258.4,299.1 258.3,299.1 258.2,299.2 258.1,299.2 258.1,299.3 258.0,299.3 257.9,299.3 257.8,299.4 257.7,299.4 257.6,299.5 257.5,299.5 257.3,299.6 257.2,299.7 257.1,299.8 256.9,299.8 256.8,299.9 256.7,299.9 256.6,300.0 256.5,300.0 256.4,300.0 256.3,300.0 256.2,300.0 256.2,299.9 256.3,299.7 256.3,299.6 256.4,299.5 256.4,299.4 256.4,299.3 256.5,299.3 256.5,299.2 256.6,299.1 256.6,299.0 256.7,298.9 256.8,298.8 256.8,298.7 256.9,298.6 256.9,298.6 257.0,298.5 257.1,298.4 257.2,298.4 257.3,298.4 257.4,298.4 257.6,298.4 257.7,298.4 257.8,298.5 257.8,298.6 257.9,298.6 258.0,298.7 258.0,298.8 258.1,298.9 258.2,299.0 258.2,299.1 258.3,299.2 258.3,299.3 258.4,299.4 258.5,299.6 258.5,299.7 258.5,299.8 258.6,299.9 258.6,300.0 258.7,300.1 258.7,300.2 258.7,300.3 258.8,300.5 258.8,300.6 258.8,300.7 258.8,300.8 258.8,300.7 258.7,300.6 258.7,300.5 258.7,300.4 258.7,300.2 258.6,300.1 258.6,300.0 258.6,299.9 258.6,299.8 258.5,299.6 258.5,299.5 258.5,299.4 258.5,299.3 258.4,299.2 258.4,299.1 258.4,299.0 258.3,298.9 258.3,298.8 258.3,298.7 258.2,298.6 258.2,298.5 258.1,298.5 258.0,298.6 258.0,298.7 258.0,298.9 257.9,299.0 257.9,299.1 257.9,299.3 257.9,299.4 257.9,299.6 257.9,299.8 257.9,299.9 257.9,300.1 257.9,300.2 257.9,300.4 257.9,300.5 257.9,300.6 257.9,300.8 257.9,300.6 257.9,300.5 257.9,300.4 257.9,300.3 257.9,300.1 257.9,300.0 257.9,299.8 257.9,299.6 257.9,299.5 257.9,299.3 257.9,299.1 257.9,299.0 257.9,298.9 257.9,298.8 258.0,298.6 258.0,298.5 258.0,298.6 258.0,298.7 258.0,298.8 258.1,299.0 258.1,299.1 258.1,299.2 258.1,299.4 258.2,299.5 258.2,299.6 258.2,299.7 258.3,299.8 258.3,300.0 258.3,300.1 258.4,300.2 258.4,300.3 258.4,300.4 258.4,300.5 258.5,300.6 258.5,300.7 258.4,300.7 258.4,300.6 258.3,300.5 258.3,300.3 258.2,300.3 258.2,300.2 258.2,300.1 258.1,299.9 258.1,299.8 258.0,299.7 258.0,299.6 258.0,299.5 257.9,299.4 257.9,299.3 257.9,299.2 257.9,299.1 257.8,298.9 257.8,298.8 257.8,298.7 257.7,298.6 257.8,298.6 257.9,298.7 257.9,298.8 258.0,299.0 258.0,299.1 258.0,299.2 258.1,299.3 258.1,299.4 258.1,299.5 258.2,299.6 258.2,299.7 258.2,299.8 258.3,299.9 258.3,300.0 258.3,300.1 258.4,300.2 258.4,300.4 258.4,300.5 258.5,300.6 258.5,300.7 258.4,300.7 258.3,300.6 258.3,300.5 258.3,300.3 258.2,300.2 258.2,300.1 258.1,300.0 258.1,299.9 258.1,299.8 258.0,299.7 258.0,299.6 258.0,299.5 257.9,299.4 257.9,299.3 257.9,299.2 257.8,299.1 257.8,298.9 257.8,298.8 257.8,298.7 257.7,298.6 257.8,298.6 257.9,298.7 257.9,298.8 258.0,299.0 258.0,299.1 258.0,299.2 258.1,299.3 258.1,299.4 258.1,299.5 258.2,299.6 258.2,299.7 258.3,299.8 258.3,299.9 258.3,300.0 258.3,300.1 258.4,300.2 258.4,300.4 258.4,300.5 258.5,300.6 258.5,300.7 258.4,300.7 258.3,300.6 258.3,300.4 258.3,300.3 258.2,300.2 258.2,300.1 258.1,300.0 258.1,299.9 258.1,299.8 258.0,299.7 258.0,299.6 258.0,299.5 257.9,299.4 257.9,299.3 257.9,299.2 257.8,299.1 257.8,298.9 257.8,298.8 257.8,298.7 257.7,298.6 257.8,298.6 257.9,298.7 257.9,298.8 258.0,298.9 258.0,299.0 258.0,299.1 258.1,299.2 258.1,299.3 258.1,299.4 258.2,299.6 258.2,299.7 258.2,299.8 258.3,299.9 258.3,300.0 258.3,300.1 258.4,300.2 258.4,300.3 258.4,300.4 258.5,300.5 258.5,300.7 258.5,300.8 258.4,300.7 258.4,300.6 258.3,300.5 258.3,300.4 258.2,300.3 258.2,300.2 258.2,300.1 258.1,300.0 258.1,299.9 258.1,299.8 258.0,299.7 258.0,299.6 258.0,299.5 257.9,299.4 257.9,299.2 257.9,299.1 257.8,299.0 257.8,298.9 257.8,298.8 257.8,298.7 257.7,298.6 257.8,298.6 257.9,298.7 257.9,298.8 258.0,299.0 258.0,299.0 258.0,299.1 258.1,299.2 258.1,299.4 258.1,299.5 258.2,299.6 258.2,299.7 258.2,299.8 258.3,299.9 258.3,300.0 258.3,300.1 258.4,300.2 258.4,300.4 258.4,300.5 258.5,300.6 258.5,300.7 258.4,300.7 258.4,300.6 258.3,300.5 258.3,300.3 258.2,300.2 258.2,300.2 258.2,300.0 258.1,299.9 258.1,299.8 258.0,299.7 258.0,299.6 258.0,299.5 257.9,299.4 257.9,299.3 257.9,299.2 257.9,299.1 257.8,298.9 257.8,298.8 257.8,298.7 257.7,298.6 257.8,298.6 257.9,298.7 257.9,298.8 258.0,299.0 258.0,299.1 258.0,299.2 258.1,299.3 258.1,299.4 258.1,299.5 258.2,299.6 258.2,299.7 258.3,299.8 258.3,299.9 258.3,300.0 258.3,300.1 258.4,300.2 258.4,300.4 258.4,300.5 258.5,300.6 258.5,300.7 258.4,300.7 258.3,300.6 258.3,300.5 258.3,300.3 258.2,300.2 258.2,300.1 258.1,300.0 258.1,299.9 258.1,299.8 258.0,299.7 258.0,299.6 258.0,299.5 257.9,299.4 257.9,299.3 257.9,299.2 257.8,299.1 257.8,298.9 257.8,298.8 257.8,298.7 257.7,298.6 257.8,298.6 257.9,298.7 257.9,298.8 258.0,299.0 258.0,299.1 258.0,299.2 258.1,299.3 258.1,299.4 258.1,299.5 258.2,299.6 258.2,299.7 258.3,299.8 258.3,299.9 258.3,300.0 258.3,300.1 258.4,300.2 258.4,300.4 258.4,300.5 258.5,300.6 258.5,300.7 258.4,300.7 258.3,300.6 258.3,300.4 258.3,300.3 258.2,300.2 258.2,300.1 258.1,300.0 258.1,299.9 258.1,299.8 258.0,299.7 258.0,299.6 258.0,299.5 257.9,299.4 257.9,299.3 257.9,299.2 257.8,299.1 257.8,298.9 257.8,298.8 257.8,298.7 257.7,298.6 257.8,298.6 257.9,298.7 257.9,298.8 258.0,298.9 258.0,299.0 258.0,299.1 258.1,299.2 258.1,299.3 258.1,299.4 258.2,299.6 258.2,299.7 258.2,299.8 258.3,299.9 258.3,300.0 258.3,300.1 258.4,300.2 258.4,300.3 258.4,300.4 258.5,300.5 258.5,300.7 258.5,300.8 258.4,300.7 258.4,300.6 258.3,300.5 258.3,300.4 258.2,300.3 258.2,300.2 258.2,300.1 258.1,300.0 258.1,299.9 258.1,299.8 258.0,299.7 258.0,299.6 258.0,299.5 257.9,299.3 257.9,299.2 257.9,299.1 257.8,299.0 257.8,298.9 257.8,298.8 257.8,298.7 257.7,298.6 257.8,298.6 257.9,298.7 257.9,298.8 258.0,299.0 258.0,299.0 258.0,299.1 258.1,299.2 258.1,299.4 258.1,299.5 258.2,299.6 258.2,299.7 258.2,299.8 258.3,299.9 258.3,300.0 258.3,300.1 258.4,300.2 258.4,300.4 258.4,300.5 258.5,300.6 258.5,300.7 258.4,300.7 258.4,300.6 258.3,300.5 258.3,300.3 258.2,300.2 258.2,300.1 258.2,300.0 258.1,299.9 258.1,299.8 258.0,299.7 258.0,299.6 258.0,299.5 257.9,299.4 257.9,299.3 257.9,299.2 257.9,299.1 257.8,298.9 257.8,298.8 257.8,298.7 257.7,298.6 257.8,298.6 257.9,298.7 257.9,298.8 258.0,299.0 258.0,299.1 258.0,299.2 258.1,299.3 258.1,299.4 258.1,299.5 258.2,299.6 258.2,299.7 258.3,299.8 258.3,299.9 258.3,300.0 258.3,300.1 258.4,300.2 258.4,300.4 258.4,300.5 258.5,300.6 258.5,300.7 258.4,300.7 258.3,300.6 258.3,300.5 258.3,300.3 258.2,300.2 258.2,300.1 258.1,300.0 258.1,299.9 258.1,299.8 258.0,299.7 258.0,299.6 258.0,299.5 257.9,299.4 257.9,299.3 257.9,299.2 257.8,299.1 257.8,298.9 257.8,298.8 257.8,298.7 257.7,298.6 257.8,298.6 257.9,298.7 257.9,298.8 258.0,299.0 258.0,299.1 258.0,299.2 258.1,299.3 258.1,299.4 258.1,299.5 258.2,299.6 258.2,299.7 258.3,299.8 258.3,299.9 258.3,300.0 258.3,300.1 258.4,300.2 258.4,300.4 258.4,300.5 258.5,300.6 258.5,300.7 258.4,300.6 258.3,300.6 258.3,300.4 258.2,300.3 258.2,300.2 258.2,300.1 258.1,300.0 258.1,299.9 258.1,299.8 258.0,299.7 258.0,299.6 258.0,299.5 257.9,299.4 257.9,299.3 257.9,299.2 257.8,299.1 257.8,298.9 257.8,298.8 257.8,298.7 257.7,298.6 257.8,298.6 257.9,298.7 257.9,298.8 258.0,298.9 258.0,299.0 258.0,299.1 258.1,299.2 258.1,299.3 258.1,299.4 258.2,299.6 258.2,299.7 258.2,299.8 258.3,299.9 258.3,300.0 258.3,300.1 258.4,300.2 258.4,300.3 258.4,300.4 258.5,300.5 258.5,300.7 258.5,300.8 258.4,300.7 258.4,300.6 258.3,300.5 258.3,300.4 258.2,300.3 258.2,300.2 258.2,300.1 258.1,300.0 258.1,299.9 258.1,299.8 258.0,299.7 258.0,299.6 258.0,299.5 257.9,299.3 257.9,299.2 257.9,299.1 257.8,299.0 257.8,298.9 257.8,298.8 257.8,298.7 257.7,298.6 257.8,298.6 257.9,298.7 257.9,298.8 258.0,299.0 258.0,299.0 258.0,299.1 258.1,299.2 258.1,299.4 258.1,299.5 258.2,299.6 258.2,299.7 258.2,299.8 258.3,299.9 258.3,300.0 258.3,300.1 258.4,300.2 258.4,300.4 258.4,300.5 258.5,300.6 258.5,300.7 258.4,300.7 258.4,300.6 258.3,300.5 258.3,300.3 258.2,300.2 258.2,300.1 258.2,300.0 258.1,299.9 258.1,299.8 258.0,299.7 258.0,299.6 258.0,299.5 257.9,299.4 257.9,299.3 257.9,299.2 257.9,299.1 257.8,298.9 257.8,298.8 257.8,298.7 257.7,298.6 257.8,298.6 257.9,298.7 257.9,298.8 258.0,299.0 258.0,299.1 258.0,299.2 258.1,299.3 258.1,299.4 258.1,299.5 258.2,299.6 258.2,299.7 258.3,299.8 258.3,299.9 258.3,300.0 258.3,300.1 258.4,300.2 258.4,300.4 258.4,300.5 258.5,300.6 258.5,300.7 258.4,300.7 258.3,300.6 258.3,300.5 258.3,300.3 258.2,300.2 258.2,300.1 258.1,300.0 258.1,299.9 258.1,299.8 258.0,299.7 258.0,299.6 258.0,299.5 257.9,299.4 257.9,299.3 257.9,299.2 257.8,299.1 257.8,298.9 257.8,298.8 257.8,298.7 257.7,298.6 257.8,298.6 257.9,298.7 257.9,298.9 258.0,299.0 258.0,299.1 258.0,299.2 258.1,299.3 258.1,299.4 258.2,299.5 258.2,299.6 258.2,299.7 258.3,299.8 258.3,299.9 258.3,300.0 258.4,300.1 258.4,300.2 258.4,300.4 258.4,300.5 258.5,300.6 258.5,300.7 258.4,300.7 258.4,300.6 258.3,300.5 258.3,300.4 258.2,300.3 258.2,300.2 258.2,300.1 258.1,300.0 258.1,299.9 258.1,299.7 258.0,299.6 258.0,299.5 257.9,299.4 257.9,299.3 257.9,299.2 257.9,299.1 257.8,299.0 257.8,298.9 257.8,298.8 257.7,298.6 257.7,298.5 257.8,298.6 257.9,298.7 257.9,298.8 257.9,298.9 258.0,299.0 258.0,299.1 258.0,299.2 258.1,299.3 258.1,299.4 258.2,299.5 258.2,299.6 258.2,299.7 258.3,299.8 258.3,299.9 258.3,300.1 258.4,300.2 258.4,300.3 258.4,300.4 258.4,300.5 258.5,300.6 258.5,300.7 258.4,300.7 258.4,300.6 258.3,300.5 258.3,300.3 258.2,300.3 258.2,300.2 258.2,300.1 258.1,300.0 258.1,299.8 258.0,299.7 258.0,299.6 258.0,299.5 257.9,299.4 257.9,299.3 257.9,299.2 257.9,299.1 257.8,298.9 257.8,298.8 257.8,298.7 257.7,298.6 257.8,298.7 257.9,298.8 257.9,298.9 258.0,299.0 258.0,299.1 258.1,299.2 258.1,299.3 258.1,299.4 258.2,299.5 258.2,299.6 258.2,299.7 258.3,299.9 258.3,300.0 258.3,300.1 258.4,300.2 258.4,300.3 258.4,300.4 258.4,300.5 258.5,300.6 258.5,300.7 258.4,300.7 258.4,300.6 258.3,300.5 258.3,300.4 258.2,300.3 258.2,300.2 258.2,300.1 258.1,300.0 258.1,299.9 258.1,299.8 258.0,299.7 258.0,299.5 258.0,299.4 257.9,299.3 257.9,299.2 257.9,299.1 257.8,299.0 257.8,298.9 257.8,298.8 257.8,298.7 257.7,298.6 257.8,298.6 257.9,298.7 257.9,298.8 258.0,298.9 258.0,299.0 258.0,299.1 258.1,299.2 258.1,299.3 258.1,299.4 258.2,299.5 258.2,299.6 258.2,299.8 258.3,299.9 258.3,300.0 258.3,300.1 258.4,300.2 258.4,300.3 258.4,300.4 258.4,300.5 258.5,300.7 258.5,300.8 258.5,300.8" fill="none" stroke="#c8203c" stroke-width="1.3" stroke-dasharray="2.2 1 0.8 1"/>
<rect x="111.20" y="21.40" width="58.70" height="17.50" fill="#fff" stroke="#7a7a7a" stroke-width="0.9"/>
<line x1="113.20" y1="25.90" x2="127.80" y2="25.90" stroke="#333" stroke-width="1.3"/>
<line x1="113.20" y1="34.20" x2="127.80" y2="34.20" stroke="#c83a55" stroke-width="0.9" stroke-dasharray="1.6 0.8 0.8 0.8"/>
<text x="129.40" y="28.90" class="lg">UNCONTROL</text>
<text x="129.40" y="36.50" class="lg">SMC</text>
<rect x="337.30" y="16.80" width="57.30" height="17.60" fill="#fff" stroke="#7a7a7a" stroke-width="0.9"/>
<line x1="339.30" y1="21.30" x2="353.90" y2="21.30" stroke="#1a1a1a" stroke-width="1"/>
<line x1="339.30" y1="29.60" x2="353.90" y2="29.60" stroke="#c8506a" stroke-width="0.9" stroke-dasharray="1.6 0.8 0.8 0.8"/>
<text x="355.50" y="24.30" class="lg">UNCONTROL</text>
<text x="355.50" y="31.90" class="lg">SMC</text>
<rect x="315.10" y="222.40" width="58.10" height="17.70" fill="#fff" stroke="#7a7a7a" stroke-width="0.9"/>
<line x1="317.10" y1="226.90" x2="331.70" y2="226.90" stroke="#3a2222" stroke-width="0.9"/>
<line x1="317.10" y1="235.20" x2="331.70" y2="235.20" stroke="#d07080" stroke-width="0.9" stroke-dasharray="1.6 0.8 0.8 0.8"/>
<text x="333.30" y="229.90" class="lg">UNCONTROL</text>
<text x="333.30" y="237.50" class="lg">SMC</text>
<line x1="202.30" y1="15.60" x2="215.30" y2="15.60" stroke="#444" stroke-width="1.2"/><path d="M220.20 15.60L213.30 12.85L215.10 15.60L213.30 18.35z" fill="#111"/>
<text x="199.6" y="29.2" class="co">CONTROL ON</text>
<line x1="451.90" y1="13.85" x2="461.10" y2="13.85" stroke="#444" stroke-width="1.2"/><path d="M465.60 13.85L459.10 11.20L460.90 13.85L459.10 16.50z" fill="#111"/>
<text x="449.6" y="7.4" class="co">CONTROL ON</text>
<text x="0.4" y="13.8" class="pl" style="font-weight:bold;stroke-width:0">(A)</text>
<text x="266.3" y="12.9" class="pl">(B)</text>
<text x="128.9" y="224.1" class="pl">(C)</text>
<g class="al"><text x="133.25" y="198.75" font-size="14.56" textLength="5.24" lengthAdjust="spacingAndGlyphs">t</text><text x="140.82" y="200.33" font-size="17.12" textLength="4.28" lengthAdjust="spacingAndGlyphs">/</text><text x="147.04" y="198.77" font-size="12.92" textLength="6.34" lengthAdjust="spacingAndGlyphs">s</text></g>
<g class="al"><text x="396.94" y="197.06" font-size="14.21" textLength="4.60" lengthAdjust="spacingAndGlyphs">t</text><text x="404.37" y="199.13" font-size="17.42" textLength="3.99" lengthAdjust="spacingAndGlyphs">/</text><text x="410.65" y="197.07" font-size="12.92" textLength="5.67" lengthAdjust="spacingAndGlyphs">s</text></g>
<g class="al"><text x="262.45" y="411.80" font-size="14.35" textLength="6.71" lengthAdjust="spacingAndGlyphs">x</text><text x="271.39" y="413.72" font-size="18.18" textLength="4.13" lengthAdjust="spacingAndGlyphs">/</text><text x="279.01" y="411.80" font-size="13.69" textLength="7.92" lengthAdjust="spacingAndGlyphs">D</text></g>
<g class="al" transform="translate(19.00 116.50) rotate(-90)"><text x="0.15" y="0.00" font-size="15.00" textLength="6.81" lengthAdjust="spacingAndGlyphs">x</text><text x="8.73" y="1.42" font-size="17.58" textLength="4.35" lengthAdjust="spacingAndGlyphs">/</text><text x="16.61" y="0.00" font-size="14.15" textLength="7.82" lengthAdjust="spacingAndGlyphs">D</text></g>
<g class="al" transform="translate(281.40 100.20) rotate(-90)"><text x="1.08" y="-0.03" font-size="14.93" textLength="5.98" lengthAdjust="spacingAndGlyphs">y</text><text x="9.09" y="2.51" font-size="19.24" textLength="4.13" lengthAdjust="spacingAndGlyphs">/</text><text x="16.70" y="0.00" font-size="14.15" textLength="7.42" lengthAdjust="spacingAndGlyphs">D</text></g>
<g class="al" transform="translate(144.70 309.80) rotate(-90)"><text x="1.08" y="-0.13" font-size="14.93" textLength="5.98" lengthAdjust="spacingAndGlyphs">y</text><text x="9.09" y="2.12" font-size="18.18" textLength="4.13" lengthAdjust="spacingAndGlyphs">/</text><text x="16.51" y="0.00" font-size="14.62" textLength="7.92" lengthAdjust="spacingAndGlyphs">D</text></g>
</svg>
</body></html>
